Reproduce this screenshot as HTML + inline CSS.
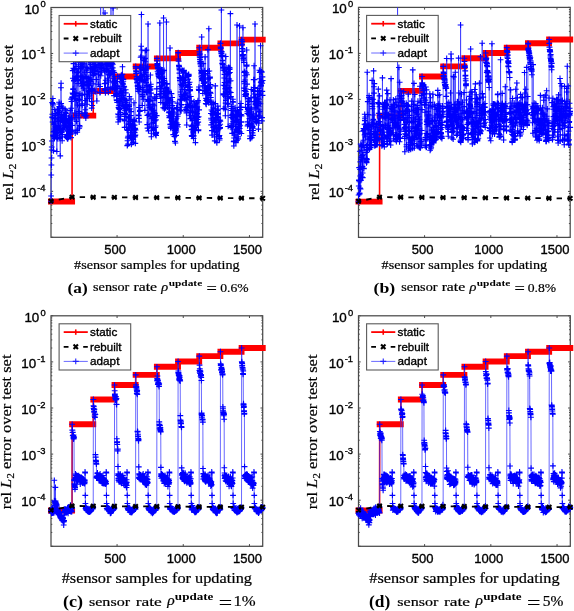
<!DOCTYPE html>
<html><head><meta charset="utf-8"><title>Figure</title><style>html,body{margin:0;padding:0;background:#fff;}svg{display:block;}</style></head><body>
<svg width="574" height="611" viewBox="0 0 574 611">
<rect width="574" height="611" fill="#fff"/>
<path d="M51 237.3h2.2M262.7 237.3h-2.2M51 223.46h1.3M262.7 223.46h-1.3M51 215.37h1.3M262.7 215.37h-1.3M51 209.63h1.3M262.7 209.63h-1.3M51 205.18h1.3M262.7 205.18h-1.3M51 201.54h1.3M262.7 201.54h-1.3M51 198.46h1.3M262.7 198.46h-1.3M51 195.79h1.3M262.7 195.79h-1.3M51 193.44h1.3M262.7 193.44h-1.3M51 191.34h2.2M262.7 191.34h-2.2M51 177.5h1.3M262.7 177.5h-1.3M51 169.41h1.3M262.7 169.41h-1.3M51 163.67h1.3M262.7 163.67h-1.3M51 159.22h1.3M262.7 159.22h-1.3M51 155.58h1.3M262.7 155.58h-1.3M51 152.5h1.3M262.7 152.5h-1.3M51 149.83h1.3M262.7 149.83h-1.3M51 147.48h1.3M262.7 147.48h-1.3M51 145.38h2.2M262.7 145.38h-2.2M51 131.54h1.3M262.7 131.54h-1.3M51 123.45h1.3M262.7 123.45h-1.3M51 117.71h1.3M262.7 117.71h-1.3M51 113.26h1.3M262.7 113.26h-1.3M51 109.62h1.3M262.7 109.62h-1.3M51 106.54h1.3M262.7 106.54h-1.3M51 103.87h1.3M262.7 103.87h-1.3M51 101.52h1.3M262.7 101.52h-1.3M51 99.42h2.2M262.7 99.42h-2.2M51 85.58h1.3M262.7 85.58h-1.3M51 77.49h1.3M262.7 77.49h-1.3M51 71.75h1.3M262.7 71.75h-1.3M51 67.3h1.3M262.7 67.3h-1.3M51 63.66h1.3M262.7 63.66h-1.3M51 60.58h1.3M262.7 60.58h-1.3M51 57.91h1.3M262.7 57.91h-1.3M51 55.56h1.3M262.7 55.56h-1.3M51 53.46h2.2M262.7 53.46h-2.2M51 39.62h1.3M262.7 39.62h-1.3M51 31.53h1.3M262.7 31.53h-1.3M51 25.79h1.3M262.7 25.79h-1.3M51 21.34h1.3M262.7 21.34h-1.3M51 17.7h1.3M262.7 17.7h-1.3M51 14.62h1.3M262.7 14.62h-1.3M51 11.95h1.3M262.7 11.95h-1.3M51 9.6h1.3M262.7 9.6h-1.3M51 7.5h2.2M262.7 7.5h-2.2M117.07 237.3v-2.2M117.07 7.5v2.2M183.26 237.3v-2.2M183.26 7.5v2.2M249.46 237.3v-2.2M249.46 7.5v2.2" stroke="#4a4a4a" stroke-width="1" fill="none"/>
<rect x="51" y="7.5" width="211.7" height="229.8" fill="none" stroke="#4a4a4a" stroke-width="1.25"/>
<clipPath id="clipa"><rect x="47" y="7.5" width="219.7" height="233.8"/></clipPath>
<g clip-path="url(#clipa)">
<path d="M51 201.54L72.05 201.54L72.18 115.67L93.23 115.67L93.37 90.93L114.42 90.93L114.55 76.52L135.6 76.52L135.73 66.44L156.78 66.44L156.92 58.34L177.97 58.34L178.1 53.06L199.15 53.06L199.28 47.68L220.33 47.68L220.47 43.34L241.52 43.34L241.65 39.62L262.7 39.62" stroke="#f00" stroke-width="1.6" fill="none"/>
<path d="M48 201.54H75.05M69.18 115.67H96.23M90.37 90.93H117.42M111.55 76.52H138.6M132.73 66.44H159.78M153.92 58.34H180.97M175.1 53.06H202.15M196.28 47.68H223.33M217.47 43.34H244.52M238.65 39.62H265.7" stroke="#f00" stroke-width="5.9" fill="none"/>
<path d="M51 201.21l.13-5.21l.13-21l.14-10l.13-7l.13-8l.13-3l.14-6l.13-23.94l.13-14.51l.13 11.72l.14 3.53l.13 4.18l.13-18.4l.13-5.1l.14 6.49l.13 30.04l.13 1.01l.13-4.07l.14 18.79l.13-13.81l.13-12.16l.13 6.53l.14-2.36l.13-10.4l.13 3.74l.13 16.12l.13-16.53l.14-12.41l.13 21.34l.13 5.94l.13-10.51l.14-2.43l.13 3.83l.13-12.1l.13-2.1l.14 5.12l.13-4.29l.13 19.48l.13 2.17l.14-5.11l.13 .34l.13 4.87l.13-5l.14 20.48l.13-13.99l.13-7.19l.13-1.25l.13-20.13l.14 10.89l.13-6.21l.13 19.37l.13 5.93l.14-6.26l.13-22.65l.13 8.17l.13 7.1l.14 1.18l.13-5.43l.13 4.16l.13-12.54l.14-10.37l.13 4.39l.13-2.64l.13 7.14l.14 18.58l.13 8.08l.13-9.65l.13 10.48l.14-23.36l.13 40.63l.13-34.39l.13 8.27l.13 1.28l.14-11.22l.13-32.05l.13-4.61l.13 20.23l.14 2.61l.13 10.79l.13-2.37l.13 18.16l.14 2.03l.13-5.59l.13 11.68l.13-9.51l.14 5.48l.13-15.85l.13-12.34l.13-1.25l.14 10.3l.13 4.86l.13 5.52l.13 2l.14-10.72l.13 2.16l.13-3.41l.13 1.88l.13-4.37l.14-.94l.13 10.42l.13 .59l.13 1.22l.14-6.62l.13 2.14l.13-.36l.13 3.5l.14-16.31l.13 7.68l.13 8.08l.13-12.55l.14 8.45l.13 6.52l.13-13.84l.13-2.78l.14 4.62l.13 4.43l.13 17.63l.13-2.75l.14-12.93l.13 4.89l.13-1.47l.13 10.55l.13-8.42l.14 11.56l.13-11.06l.13 8.9l.13-1.48l.14 3.49l.13-7.51l.13 5.3l.13-10.65l.14-7.29l.13 6.55l.13 8.95l.13 3l.14-4.28l.13-15.71l.13 1.46l.13 .74l.14 7.23l.13 .66l.13-2.27l.13 6.56l.13-8.63l.14-12.41l.13 13.14l.13 5.69l.13 5.32l.14-2.87l.13-.28l.13 6.29l.13-29.37l.14-9.15l.13 18.78l.13-16.35l.13 18.34l.14 11.86l.13-1.54l.13-12.08l.13-20.54l.14 27.81l.13-28.66l.13-3.68l.13-22.46l.14 7.65l.13 15.84l.13-4.74l.13-.64l.13-20.5l.14-4.57l.13 29.68l.13-33.98l.13 21.5l.14-.55l.13-20.91l.13 9.7l.13 29.37l.14-28.93l.13 24.14l.13 19.28l.13 4.87l.14-19.47l.13 34.81l.13-37l.13-16.95l.14-17.43l.13-21.38l.13 26.17l.13 26.31l.14 7.86l.13 14.49l.13 6.35l.13-44.93l.13-25.78l.14 26.34l.13-4.49l.13 57.72l.13 1.67l.14-2.33l.13-24.83l.13-29.17l.13 3.77l.14-6.94l.13 10.88l.13-15.03l.13 12.3l.14-9.57l.13-6.49l.13 46.79l.13 6.28l.14-22.43l.13 4.83l.13 28.04l.13-15.02l.13 12.32l.14-19.89l.13 21.1l.13-27.57l.13-5.33l.14-31.02l.13 17.2l.13-12.28l.13-5.83l.14 7.13l.13 7.95l.13-1.16l.13-7.69l.14 8.6l.13 7.06l.13-17.24l.13-1.82l.14 21.5l.13 27.36l.13-18.4l.13 8.69l.14 1.47l.13-22.11l.13-16.25l.13 18.43l.13-8.36l.14-22.47l.13 30.56l.13-6.97l.13-21.01l.14 31.17l.13-6.6l.13 .62l.13 1.78l.14-20.34l.13-.04l.13-3.01l.13 29.33l.14 24.85l.13-20.87l.13-21.78l.13-16.52l.14 20.74l.13 36.35l.13-3.11l.13 6.4l.14-15.66l.13 15.48l.13 2.04l.13-61.58l.13 10.68l.14 10.05l.13 1.33l.13-22.67l.13 14.52l.14 44.95l.13-31.37l.13 14.63l.13 5.69l.14-5.27l.13-4.42l.13 .05l.13-26.43l.14 17.76l.13-.68l.13-6.66l.13 2.89l.14 .57l.13 2.91l.13 6.64l.13 .38l.14-14.6l.13 18.87l.13-1.15l.13-6.96l.13 2.36l.14 7.67l.13-17.89l.13 1.5l.13-.87l.14-16.86l.13 15.19l.13-16.59l.13 2.19l.14 7.54l.13-3.47l.13 12.71l.13-13.76l.14 .97l.13 10.87l.13 8.69l.13 13.22l.14 6.53l.13-14.83l.13-2.95l.13-2.36l.13 17.48l.14-16.03l.13-20.2l.13-10.8l.13-2.96l.14-.5l.13 7.64l.13 12.92l.13 8.32l.14-51.3l.13 1.17l.13-4.16l.13 3.74l.14 40.89l.13-14.53l.13 6.71l.13 .93l.14 3.73l.13-28.78l.13 28.1l.13 2.77l.14-8.76l.13 4.42l.13 23.05l.13-24.8l.13-5.34l.14-2.8l.13-23.7l.13-5.79l.13 3.22l.14 9.51l.13 10.27l.13-3.25l.13-.24l.14 30.61l.13 21.42l.13-33.54l.13-14.13l.14-11.52l.13-7.97l.13 12.69l.13 4.77l.14-3.61l.13-3.83l.13 27.63l.13-9.26l.14 2.96l.13 19.19l.13-9.49l.13-17.36l.13 .47l.14 1.85l.13-2.19l.13 4.01l.13-18.69l.14 18.64l.13-3.14l.13 8.9l.13 25.4l.14-34.24l.13 28.08l.13 5.83l.13-44.2l.14-10.94l.13-33.05l.13 71.54l.13-10.44l.14 3.39l.13-1.34l.13-2.92l.13-12.17l.13-11.45l.14 9.88l.13 21.44l.13-18.46l.13 10.19l.14-3.53l.13 4.06l.13-24.8l.13-9.07l.14 2.91l.13 1.78l.13 13.35l.13 5.97l.14-52.52l.13 40.62l.13 16.81l.13 8.8l.14-19.57l.13-18.03l.13 1.17l.13 37.21l.14 1.27l.13 .49l.13 12.89l.13 6.22l.13-1.2l.14-75.68l.13 77.3l.13-1.16l.13 3.72l.14-9.47l.13-3.09l.13-15.75l.13-4.25l.14 11.43l.13-6.02l.13 3.22l.13-7l.14-16.95l.13-3.16l.13 9.57l.13-11.45l.14 30.53l.13-7.29l.13 .71l.13-2.67l.14 17.08l.13 9.08l.13-18.66l.13-13.02l.13 24.42l.14 12.3l.13-10.38l.13-10.84l.13-7.62l.14-12.68l.13 11.94l.13-1.46l.13 13.91l.14-25.35l.13 24.59l.13 .21l.13-13.92l.14-9.21l.13-10.5l.13 25.23l.13 22.75l.14-15.4l.13-9.94l.13-1.14l.13-13.83l.14-46.78l.13 32.76l.13-1.26l.13 10.74l.13 18.54l.14 8.22l.13-7.06l.13 6.59l.13-7.1l.14 8.7l.13 16.03l.13-28.22l.13 26.79l.14-18.83l.13-3.59l.13-5l.13-51.37l.14 64.88l.13 8.36l.13-10.32l.13 7.41l.14-17.21l.13 21.72l.13 12.89l.13-7.97l.13-15.04l.14 16.75l.13-12.89l.13 6.89l.13-1.87l.14-.75l.13-.88l.13 3.93l.13 2.92l.14 1.73l.13-3.13l.13-1.35l.13 4.85l.14 5.24l.13 .34l.13-5.96l.13 4.95l.14 6.43l.13-3.46l.13 4.07l.13-.37l.14 .7l.13 1.72l.13-20.89l.13 4.21l.13-9.51l.14 10.79l.13 5.65l.13 21.28l.13 7.94l.14-4.96l.13-.02l.13-9.4l.13 7.08l.14-8.91l.13-5.68l.13 8.5l.13 10.62l.14-18.64l.13 8.59l.13 .22l.13-8.06l.14-8l.13-4.84l.13 9.99l.13-19.98l.14 40.53l.13-6.6l.13 3.78l.13-1.59l.13-13.44l.14-10.09l.13-12.18l.13-3.77l.13 19.96l.14-17.61l.13-1.27l.13 16.08l.13-9.58l.14 22.19l.13-5.49l.13-25.06l.13-7.58l.14 16.24l.13-4.2l.13 26.97l.13-10.34l.14-11.33l.13-2.88l.13-1.67l.13 27.12l.13-8.27l.14-12.17l.13 3.83l.13 18.47l.13-21.71l.14 34.07l.13-1.16l.13 7.67l.13-16.72l.14-11.38l.13 17.24l.13-3.23l.13 1.27l.14-7.52l.13-4.64l.13-12.75l.13 3.19l.14 11.36l.13-3.51l.13 7.36l.13 19.07l.14-22.82l.13 5.74l.13-3.74l.13-6.04l.13 5.66l.14 24.03l.13 15.67l.13-.32l.13-4.55l.14-10.93l.13 8.06l.13-7.49l.13 13.62l.14-7.78l.13-12.97l.13 1.2l.13-6.26l.14-1.16l.13 10.16l.13-17.06l.13-3.77l.14-1.53l.13-8.42l.13 20.52l.13 10.19l.14-18.26l.13 12.9l.13-.57l.13 16.58l.13-.69l.14-4.39l.13-11.52l.13-2.23l.13-3.5l.14-16.53l.13 12.71l.13 14.39l.13 18.28l.14-5.58l.13-8.93l.13 5.29l.13-9.44l.14 .76l.13-1.12l.13 9.97l.13-8.78l.14-1.86l.13 2.04l.13 16l.13-3.62l.14-10.79l.13-.1l.13 11.51l.13 2.25l.13-5.41l.14-15.02l.13 9.25l.13-27.98l.13 17.12l.14 .74l.13 11.57l.13-7.04l.13 7.41l.14 4.45l.13-8.14l.13 6.76l.13-7.38l.14 15.08l.13-8.41l.13-5.01l.13-63.49l.14 1.71l.13 2.74l.13 2.49l.13-1.71l.13-.12l.14 7.86l.13-2.79l.13 3.04l.13-1.19l.14 4.12l.13-2.57l.13 1.2l.13 1.77l.14 3.09l.13-.76l.13 2.96l.13 1.77l.14-3.32l.13 4.72l.13-5.25l.13 2.29l.14 26.64l.13 .63l.13 2.57l.13-10.87l.14 14.57l.13-36.03l.13 3.27l.13-11.49l.13-10.07l.14 43.74l.13-1.05l.13-29.87l.13-2.15l.14-5.31l.13 4.29l.13-20.18l.13 10.05l.14-.41l.13 9.58l.13-30.16l.13 9.8l.14-41.54l.13 65.25l.13-29.69l.13 25.99l.14 .81l.13 17.55l.13 11.08l.13-9.53l.14-4.28l.13 4.9l.13-9.11l.13-5.75l.13-2.52l.14 10.68l.13 9.32l.13-28.56l.13-5.38l.14-4.76l.13 8.52l.13 5.56l.13-4.51l.14-10.79l.13 11.09l.13 6.55l.13-1.89l.14 5.77l.13 29.57l.13-30.6l.13-21.41l.14-7.76l.13 11.17l.13 6.56l.13 4.23l.13-2.83l.14 .44l.13 12.39l.13 10.01l.13-24.49l.14-17.99l.13 26.4l.13 8.94l.13 5.87l.14-5.1l.13 5.85l.13 32.55l.13-9.26l.14 12.79l.13-61.37l.13 11.96l.13 20.86l.14-75.58l.13 77.47l.13-.54l.13 29.91l.14-16.63l.13-9.09l.13-4.35l.13 .23l.13-.39l.14-10.98l.13 17.58l.13-19.53l.13 19.94l.14-6.35l.13 25.42l.13-10.75l.13-8.15l.14-17.48l.13-15.25l.13 11.47l.13 2.49l.14-4.71l.13 12.45l.13-3.59l.13 15.98l.14 27.66l.13-3.63l.13-14.73l.13 5.34l.14 3.77l.13-19.01l.13 10.15l.13-8.53l.13 3.38l.14 2.75l.13 1.75l.13-13.7l.13-4.24l.14 12.92l.13 3.61l.13 5.83l.13 8.14l.14-.9l.13-1.07l.13-10.86l.13-7.5l.14-4.46l.13 6.81l.13 5.11l.13-3.31l.14 6.58l.13-22.89l.13-1.42l.13 16.58l.14 3.94l.13 10.33l.13 7.04l.13-14.88l.13 6.27l.14-6.12l.13 13.56l.13 2.1l.13-3.28l.14-33.89l.13-3.7l.13 21.01l.13-26.8l.14-30.52l.13 2.5l.13 4.82l.13-2.09l.14 1.01l.13 6.65l.13-3.8l.13 1.1l.14-2.32l.13 6.95l.13-4.25l.13 6.1l.13-1.08l.14 2.45l.13-5.28l.13 3.47l.13-4.1l.14 5.98l.13 .48l.13 1.05l.13 5.03l.14-.44l.13-59.57l.13 73.2l.13-9.42l.14 7.03l.13-4.88l.13-.27l.13 2.66l.14 11.11l.13-4.25l.13-9.29l.13 5.13l.14-24.32l.13 4.29l.13 11.85l.13-4l.13-8.26l.14 4.56l.13 7.1l.13-6.09l.13-9.2l.14 7.03l.13-5.06l.13 10.72l.13 19.81l.14 .62l.13 4.7l.13-10.26l.13-6.16l.14-73.35l.13 64.27l.13 .48l.13-2.19l.14-10.19l.13 8.1l.13 14.74l.13 15.61l.14-1.63l.13-24.51l.13 8.41l.13 5.6l.13 10.28l.14-18.57l.13 5.11l.13 11.01l.13-1.29l.14 4.75l.13-4.62l.13 1.85l.13-2.4l.14-8.71l.13-72.1l.13 65.26l.13 1.21l.14-4.16l.13-.88l.13 14.36l.13-6.42l.14 11.1l.13 4.91l.13-4.79l.13-9.58l.14-1.01l.13 6.17l.13 1.37l.13-.69l.13-7.27l.14-1.64l.13 11.74l.13 5.92l.13 5.1l.14 3.04l.13-3.99l.13 5.88l.13-14.55l.14 2.32l.13 2.73l.13-7.72l.13-52.41l.14 76.18l.13-7.46l.13 7.96l.13 2.42l.14-13.31l.13 14.67l.13-7.64l.13-3.63l.13 6.85l.14 2.74l.13-33.16l.13 18.23l.13 9.8l.14-7.19l.13 6.73l.13-23.66l.13 20.78l.14-12.81l.13 19.9l.13-23.61l.13 9.51l.14 4.97l.13 12.79l.13 5.61l.13-13.69l.14 6.18l.13-3.06l.13 .8l.13-16.25l.14 4.21l.13 10.7l.13 2.39l.13 10.5l.13 .03l.14-8.32l.13 2.35l.13 10.83l.13-8.23l.14-2.87l.13-7.42l.13 20.11l.13-12.25l.14-10.96l.13 7.37l.13 1.56l.13 6.69l.14-5.36l.13 2.08l.13-13.81l.13-10.57l.14 15.28l.13 2.17l.13-.02l.13-17.57l.14-4.41l.13 6.13l.13 17.58l.13-10.52l.13 8.21l.14-10.29l.13-61.18l.13-.48l.13 6.42l.14-.01l.13 2.17l.13-.14l.13 4.29l.14 1.01l.13 .51l.13 1.99l.13 4.27l.14-3.26l.13 7.65l.13 1.33l.13 1.82l.14 29.91l.13-11.13l.13 10.56l.13-2.76l.13-15.23l.14-14.05l.13 6.28l.13 10.6l.13 16.14l.14-6.05l.13-4.64l.13 4.31l.13-8.24l.14-9.33l.13-1.53l.13 3.72l.13-4.16l.14-7.02l.13 2.64l.13-10.32l.13 6.53l.14 21.43l.13-19.33l.13-7.6l.13-.3l.14 8.31l.13 4.26l.13-4.66l.13-7.82l.13 1.02l.14-1.8l.13 10.1l.13 18.26l.13-9.06l.14 7.23l.13 1.7l.13-4.64l.13 1.28l.14 3.12l.13-13.01l.13-2.97l.13-7.14l.14-2l.13 4.19l.13 15.67l.13 16.36l.14-1.41l.13-8.48l.13 13.28l.13-1.58l.14 13.72l.13-14.53l.13-3.2l.13 .82l.13-13.1l.14 2.33l.13 9.25l.13-1.98l.13-17.19l.14-1.13l.13-7.16l.13 3.42l.13-8.02l.14 .05l.13 1.78l.13-2.02l.13 1.05l.14 22.36l.13-13.3l.13 6.5l.13 24.4l.14-24.76l.13-8.37l.13 21.1l.13-16.15l.14 2.5l.13 1.07l.13 27.95l.13-13.07l.13 6.86l.14-4.8l.13-11.09l.13 9.34l.13 5.02l.14-10.13l.13 17.46l.13 7.88l.13 3.47l.14 6.07l.13-8.95l.13 9.68l.13-9.76l.14-5.92l.13 8.33l.13-17.32l.13-4.39l.14 8l.13 9.61l.13 10.1l.13-3.22l.13 1.25l.14-2.49l.13 7.97l.13-2.64l.13-17.64l.14-16.53l.13 .16l.13 5.1l.13 21.5l.14 .8l.13-9.07l.13-8.15l.13-8.14l.14 9.14l.13 4.18l.13 10.11l.13 15.22l.14-23.99l.13-12.28l.13 6.05l.13 13.14l.14-6.64l.13-11.48l.13-4.19l.13 3.71l.13 7.78l.14 8.88l.13-.63l.13-6.76l.13-2.61l.14-6.86l.13 12.77l.13 5.48l.13-7.6l.14-15.41l.13-1.43l.13 9.45l.13 12.19l.14 8.51l.13-.94l.13-13.01l.13-27.32l.14-2.34l.13 3.36l.13 19.48l.13-62.23l.14 4.24l.13 3.07l.13 1.84l.13-2.91l.13 5.45l.14 1.99l.13-3.82l.13 6.38l.13-1.02l.14 .51l.13 2.6l.13 .31l.13-2.46l.14 6.5l.13 3.44l.13 2.97l.13-4.35l.14-35.42l.13 34.43l.13 7.24l.13 1.89l.14 .05l.13-5.13l.13 3.97l.13-6.05l.13 12.37l.14 7.7l.13-15.64l.13 .91l.13-15.14l.14 16.49l.13-1.25l.13 4.64l.13-1.49l.14-6.27l.13 6.12l.13 4.01l.13-2.9l.14 7.45l.13-16.16l.13-3.57l.13 3.53l.14 11.47l.13-28.77l.13 33.35l.13-8.29l.14-7.89l.13 14.04l.13 15.39l.13-12.24l.13 7.1l.14 2.14l.13 3.74l.13-14.76l.13 .72l.14-1.99l.13 11.91l.13-5.33l.13-1.38l.14 8.15l.13-2.27l.13-8.96l.13-16.86l.14-1.92l.13-21.93l.13 39.34l.13-9.67l.14-1.42l.13 8.37l.13 15.65l.13 .92l.14-74.11l.13 66.94l.13-.65l.13-7.74l.13-16.31l.14 16.99l.13 .54l.13-1.47l.13-8.88l.14-.95l.13 15.02l.13 9.6l.13-.05l.14-17.12l.13 8.66l.13 4.19l.13 16.04l.14 4.67l.13 6.69l.13-4.93l.13-9.92l.14-7.64l.13 2.34l.13 25.91l.13 4.5l.14-.04l.13-12.66l.13-10.92l.13 3.04l.13 .58l.14 7.32l.13-8.08l.13-11.86l.13 24.82l.14-7.46l.13-12.03l.13-3.78l.13 8.21l.14 8.9l.13 5.28l.13 4.56l.13-1.77l.14 2.62l.13 5.2l.13-.38l.13 4.2l.14-20.54l.13-6.9l.13-4.68l.13-22.89l.13 17.77l.14 14l.13 8.65l.13 1.97l.13-2.84l.14-12.86l.13 6.91l.13 14.9l.13-19.77l.14 22.22l.13 5.3l.13 .62l.13-14.36l.14 2.93l.13 1.51l.13-22.39l.13 6.13l.14 .22l.13-10.65l.13 8l.13-.74l.14-4.13l.13 8.66l.13 4.14l.13 7.1l.13-6.75l.14 6.03l.13 8.68l.13-1.14l.13-10.4l.14 9.93l.13 4.45l.13-1.47l.13-18.39l.14 8.47l.13-.98l.13-3.28l.13-3.22l.14-77.75l.13 3.81l.13 1.45l.13-.66l.14 3.05l.13 1.08l.13 1.7l.13-43.77l.14 43.42l.13 2.53l.13-.28l.13-3.93l.13 4.96l.14 6.71l.13-8.09l.13 4.86l.13 4.59l.14-4.05l.13 3.49l.13 2.78l.13 1.09l.14 2.03l.13 23.76l.13 1.15l.13-9.71l.14 8.42l.13 14.89l.13-14.61l.13-16.03l.14-10.54l.13 6.92l.13 8.09l.13-11.67l.13 14.84l.14 10.63l.13-7.45l.13 18.16l.13 8.77l.14-5.93l.13-6.68l.13-46.63l.13 43.85l.14-9.33l.13-16.5l.13 14.65l.13-10.38l.14 3.17l.13-10.52l.13 16.8l.13-20.43l.14 26.28l.13-1.49l.13-18.78l.13 21.24l.14 8.24l.13-6.46l.13-14.03l.13 21.29l.13 22.34l.14-27.72l.13-29.57l.13-1.82l.13 5.46l.14 .56l.13-5.91l.13 20.16l.13-8.66l.14 8.99l.13 4.73l.13-23.22l.13 22.7l.14-19.58l.13-4.51l.13 12.85l.13 11.54l.14-78.83l.13 84.21l.13-17.04l.13 11.71l.14 3.95l.13 19.29l.13 11.78l.13-17.01l.13 6.94l.14-11.08l.13 2.11l.13 17.2l.13-1.81l.14 9.54l.13-19.18l.13 .67l.13 14.15l.14-10.31l.13-17.11l.13-2.34l.13 2.82l.14 7.99l.13 11.5l.13-6.16l.13 8.59l.14 17.66l.13 4.26l.13-4.84l.13-3.07l.14-5.29l.13 2.56l.13-3.16l.13 2.55l.13 .45l.14-18.53l.13-5.37l.13-3.47l.13 2.42l.14 9.93l.13 6.43l.13 .03l.13 16.15l.14-.56l.13-18.07l.13-1.66l.13-7.93l.14 1.9l.13 4.07l.13 9.51l.13 10.44l.14-115.42l.13 85.27l.13 1.91l.13-1.15l.13 8.64l.14 9.48l.13 2.2l.13-1.02l.13 6.53l.14 1.98l.13-11.86l.13-13.28l.13 17.57l.14-9.14l.13 4.32l.13 .61l.13-4.46l.14 1.9l.13 7.05l.13-105.55l.13 102.57l.14 3.51l.13-16.53l.13-8.08l.13 18.29l.14-16.13l.13 6.29l.13 6.14l.13-15.11l.13-3.45l.14 11.03l.13 7.26l.13 .34l.13 11.32l.14-17.6l.13-76.23l.13 .3l.13 5.14l.14-.75l.13-2.72l.13 9.82l.13-2.76l.14 2.86l.13 3.37l.13 1.21l.13-28.39l.14 26.96l.13 3.97l.13-.32l.13-.54l.14 2.47l.13-.28l.13 2.42l.13 25.75l.13-6.53l.14-9.17l.13 11.26l.13 6.94l.13 0l.14-19.28l.13 4.38l.13 18.84l.13-14.63l.14 16.59l.13 10.84l.13-11.48l.13-4.43l.14-2.5l.13 4.4l.13 1.28l.13-21.79l.14-7.37l.13 .83l.13-16.37l.13 15.07l.13 9.78l.14 9.35l.13 29.57l.13-1.9l.13 10.03l.14 4.06l.13-21.34l.13 4.69l.13 4.35l.14-15.07l.13 25.83l.13-16.42l.13-6.44l.14 6.39l.13 2.48l.13 4.17l.13-6.26l.14-8.26l.13 12.89l.13 5.57l.13 12.06l.14-16.42l.13 9.19l.13 15.28l.13-2.58l.13 .03l.14-9.39l.13 11.86l.13-19.82l.13-9.6l.14-11.24l.13 15.83l.13-1.64l.13-22.55l.14 26.42l.13 8.91l.13-15.82l.13 28.72l.14-14.53l.13-5.44l.13 7.55l.13 1.78l.14 5.84l.13-6.35l.13 1.73l.13 7.07l.14-17.96l.13 13.13l.13-16.77l.13-23.3l.13 .46l.14-11.33l.13 14.37l.13-6.49l.13-21.71l.14 25.64l.13 10.23l.13-21.91l.13 7.91l.14 9.32l.13 10.84l.13-83.8l.13 95.66l.14-14.88l.13-1.49l.13 17l.13 1.33l.14-23.57l.13 21.26l.13-.4l.13-14.67l.14-3.69l.13 14.55l.13 1.48l.13 6.23l.13-17.41l.14-5.28l.13 8.83l.13-7.5l.13-9.93l.14 3.15l.13 .39l.13-.65l.13-6.02l.14 17.3l.13-2.04l.13-4.82l.13 30.28l.14-8.59l.13-17.69l.13 20.32l.13-11.31l.14 4.33l.13-21.78l.13-24.17l.13 20.38l.13-11.82l.14-6.37l.13 22.84l.13 16.03l.13 4.9l.14-12.36l.13-10.83l.13-47.26l.13 36.54l.14 3.89l.13-15.08l.13 14.08l.13-2.33l.14-1.44l.13-9.83l.13 11.43l.13-10.72l.14 48.56l.13-3.24l.13-34.41l.13 8.23l.14-14.53l.13 18.47l.13-14.79" stroke="#2a2aff" stroke-width="0.7" fill="none"/>
<path d="M48.1 201.21h5.8m-2.9-2.9v5.8M48.23 196h5.8m-2.9-2.9v5.8M48.36 175h5.8m-2.9-2.9v5.8M48.5 165h5.8m-2.9-2.9v5.8M48.63 158h5.8m-2.9-2.9v5.8M48.76 150h5.8m-2.9-2.9v5.8M48.89 147h5.8m-2.9-2.9v5.8M49.03 141h5.8m-2.9-2.9v5.8M49.16 117.06h5.8m-2.9-2.9v5.8M49.29 102.55h5.8m-2.9-2.9v5.8M49.42 114.27h5.8m-2.9-2.9v5.8M49.56 117.8h5.8m-2.9-2.9v5.8M49.69 121.98h5.8m-2.9-2.9v5.8M49.82 103.58h5.8m-2.9-2.9v5.8M49.95 98.48h5.8m-2.9-2.9v5.8M50.09 104.97h5.8m-2.9-2.9v5.8M50.22 135.01h5.8m-2.9-2.9v5.8M50.35 136.02h5.8m-2.9-2.9v5.8M50.48 131.95h5.8m-2.9-2.9v5.8M50.62 150.74h5.8m-2.9-2.9v5.8M50.75 136.93h5.8m-2.9-2.9v5.8M50.88 124.77h5.8m-2.9-2.9v5.8M51.01 131.3h5.8m-2.9-2.9v5.8M51.15 128.94h5.8m-2.9-2.9v5.8M51.28 118.54h5.8m-2.9-2.9v5.8M51.41 122.28h5.8m-2.9-2.9v5.8M51.54 138.4h5.8m-2.9-2.9v5.8M51.67 121.87h5.8m-2.9-2.9v5.8M51.81 109.46h5.8m-2.9-2.9v5.8M51.94 130.8h5.8m-2.9-2.9v5.8M52.07 136.74h5.8m-2.9-2.9v5.8M52.2 126.23h5.8m-2.9-2.9v5.8M52.34 123.8h5.8m-2.9-2.9v5.8M52.47 127.63h5.8m-2.9-2.9v5.8M52.6 115.53h5.8m-2.9-2.9v5.8M52.73 113.43h5.8m-2.9-2.9v5.8M52.87 118.55h5.8m-2.9-2.9v5.8M53 114.26h5.8m-2.9-2.9v5.8M53.13 133.74h5.8m-2.9-2.9v5.8M53.26 135.91h5.8m-2.9-2.9v5.8M53.4 130.8h5.8m-2.9-2.9v5.8M53.53 131.14h5.8m-2.9-2.9v5.8M53.66 136.01h5.8m-2.9-2.9v5.8M53.79 131.01h5.8m-2.9-2.9v5.8M53.93 151.49h5.8m-2.9-2.9v5.8M54.06 137.5h5.8m-2.9-2.9v5.8M54.19 130.31h5.8m-2.9-2.9v5.8M54.32 129.06h5.8m-2.9-2.9v5.8M54.45 108.93h5.8m-2.9-2.9v5.8M54.59 119.82h5.8m-2.9-2.9v5.8M54.72 113.61h5.8m-2.9-2.9v5.8M54.85 132.98h5.8m-2.9-2.9v5.8M54.98 138.91h5.8m-2.9-2.9v5.8M55.12 132.65h5.8m-2.9-2.9v5.8M55.25 110h5.8m-2.9-2.9v5.8M55.38 118.17h5.8m-2.9-2.9v5.8M55.51 125.27h5.8m-2.9-2.9v5.8M55.65 126.45h5.8m-2.9-2.9v5.8M55.78 121.02h5.8m-2.9-2.9v5.8M55.91 125.18h5.8m-2.9-2.9v5.8M56.04 112.64h5.8m-2.9-2.9v5.8M56.18 102.27h5.8m-2.9-2.9v5.8M56.31 106.66h5.8m-2.9-2.9v5.8M56.44 104.02h5.8m-2.9-2.9v5.8M56.57 111.16h5.8m-2.9-2.9v5.8M56.71 129.74h5.8m-2.9-2.9v5.8M56.84 137.82h5.8m-2.9-2.9v5.8M56.97 128.17h5.8m-2.9-2.9v5.8M57.1 138.65h5.8m-2.9-2.9v5.8M57.24 115.29h5.8m-2.9-2.9v5.8M57.37 155.92h5.8m-2.9-2.9v5.8M57.5 121.53h5.8m-2.9-2.9v5.8M57.63 129.8h5.8m-2.9-2.9v5.8M57.76 131.08h5.8m-2.9-2.9v5.8M57.9 119.86h5.8m-2.9-2.9v5.8M58.03 87.81h5.8m-2.9-2.9v5.8M58.16 83.2h5.8m-2.9-2.9v5.8M58.29 103.43h5.8m-2.9-2.9v5.8M58.43 106.04h5.8m-2.9-2.9v5.8M58.56 116.83h5.8m-2.9-2.9v5.8M58.69 114.46h5.8m-2.9-2.9v5.8M58.82 132.62h5.8m-2.9-2.9v5.8M58.96 134.65h5.8m-2.9-2.9v5.8M59.09 129.06h5.8m-2.9-2.9v5.8M59.22 140.74h5.8m-2.9-2.9v5.8M59.35 131.23h5.8m-2.9-2.9v5.8M59.49 136.71h5.8m-2.9-2.9v5.8M59.62 120.86h5.8m-2.9-2.9v5.8M59.75 108.52h5.8m-2.9-2.9v5.8M59.88 107.27h5.8m-2.9-2.9v5.8M60.02 117.57h5.8m-2.9-2.9v5.8M60.15 122.43h5.8m-2.9-2.9v5.8M60.28 127.95h5.8m-2.9-2.9v5.8M60.41 129.95h5.8m-2.9-2.9v5.8M60.55 119.23h5.8m-2.9-2.9v5.8M60.68 121.39h5.8m-2.9-2.9v5.8M60.81 117.98h5.8m-2.9-2.9v5.8M60.94 119.86h5.8m-2.9-2.9v5.8M61.07 115.49h5.8m-2.9-2.9v5.8M61.21 114.55h5.8m-2.9-2.9v5.8M61.34 124.97h5.8m-2.9-2.9v5.8M61.47 125.56h5.8m-2.9-2.9v5.8M61.6 126.78h5.8m-2.9-2.9v5.8M61.74 120.16h5.8m-2.9-2.9v5.8M61.87 122.3h5.8m-2.9-2.9v5.8M62 121.94h5.8m-2.9-2.9v5.8M62.13 125.44h5.8m-2.9-2.9v5.8M62.27 109.13h5.8m-2.9-2.9v5.8M62.4 116.81h5.8m-2.9-2.9v5.8M62.53 124.89h5.8m-2.9-2.9v5.8M62.66 112.34h5.8m-2.9-2.9v5.8M62.8 120.79h5.8m-2.9-2.9v5.8M62.93 127.31h5.8m-2.9-2.9v5.8M63.06 113.47h5.8m-2.9-2.9v5.8M63.19 110.69h5.8m-2.9-2.9v5.8M63.33 115.31h5.8m-2.9-2.9v5.8M63.46 119.74h5.8m-2.9-2.9v5.8M63.59 137.37h5.8m-2.9-2.9v5.8M63.72 134.62h5.8m-2.9-2.9v5.8M63.86 121.69h5.8m-2.9-2.9v5.8M63.99 126.58h5.8m-2.9-2.9v5.8M64.12 125.11h5.8m-2.9-2.9v5.8M64.25 135.66h5.8m-2.9-2.9v5.8M64.38 127.24h5.8m-2.9-2.9v5.8M64.52 138.8h5.8m-2.9-2.9v5.8M64.65 127.74h5.8m-2.9-2.9v5.8M64.78 136.64h5.8m-2.9-2.9v5.8M64.91 135.16h5.8m-2.9-2.9v5.8M65.05 138.65h5.8m-2.9-2.9v5.8M65.18 131.14h5.8m-2.9-2.9v5.8M65.31 136.44h5.8m-2.9-2.9v5.8M65.44 125.79h5.8m-2.9-2.9v5.8M65.58 118.5h5.8m-2.9-2.9v5.8M65.71 125.05h5.8m-2.9-2.9v5.8M65.84 134h5.8m-2.9-2.9v5.8M65.97 137h5.8m-2.9-2.9v5.8M66.11 132.72h5.8m-2.9-2.9v5.8M66.24 117.01h5.8m-2.9-2.9v5.8M66.37 118.47h5.8m-2.9-2.9v5.8M66.5 119.21h5.8m-2.9-2.9v5.8M66.64 126.44h5.8m-2.9-2.9v5.8M66.77 127.1h5.8m-2.9-2.9v5.8M66.9 124.83h5.8m-2.9-2.9v5.8M67.03 131.39h5.8m-2.9-2.9v5.8M67.16 122.76h5.8m-2.9-2.9v5.8M67.3 110.35h5.8m-2.9-2.9v5.8M67.43 123.49h5.8m-2.9-2.9v5.8M67.56 129.18h5.8m-2.9-2.9v5.8M67.69 134.5h5.8m-2.9-2.9v5.8M67.83 131.63h5.8m-2.9-2.9v5.8M67.96 131.35h5.8m-2.9-2.9v5.8M68.09 137.64h5.8m-2.9-2.9v5.8M68.22 108.27h5.8m-2.9-2.9v5.8M68.36 99.12h5.8m-2.9-2.9v5.8M68.49 117.9h5.8m-2.9-2.9v5.8M68.62 101.55h5.8m-2.9-2.9v5.8M68.75 119.89h5.8m-2.9-2.9v5.8M68.89 131.75h5.8m-2.9-2.9v5.8M69.02 130.21h5.8m-2.9-2.9v5.8M69.15 118.13h5.8m-2.9-2.9v5.8M69.28 97.59h5.8m-2.9-2.9v5.8M69.42 125.4h5.8m-2.9-2.9v5.8M69.55 96.74h5.8m-2.9-2.9v5.8M69.68 93.06h5.8m-2.9-2.9v5.8M69.81 70.6h5.8m-2.9-2.9v5.8M69.95 78.25h5.8m-2.9-2.9v5.8M70.08 94.09h5.8m-2.9-2.9v5.8M70.21 89.35h5.8m-2.9-2.9v5.8M70.34 88.71h5.8m-2.9-2.9v5.8M70.47 68.21h5.8m-2.9-2.9v5.8M70.61 63.64h5.8m-2.9-2.9v5.8M70.74 93.32h5.8m-2.9-2.9v5.8M70.87 59.34h5.8m-2.9-2.9v5.8M71 80.84h5.8m-2.9-2.9v5.8M71.14 80.29h5.8m-2.9-2.9v5.8M71.27 59.38h5.8m-2.9-2.9v5.8M71.4 69.08h5.8m-2.9-2.9v5.8M71.53 98.45h5.8m-2.9-2.9v5.8M71.67 69.52h5.8m-2.9-2.9v5.8M71.8 93.66h5.8m-2.9-2.9v5.8M71.93 112.94h5.8m-2.9-2.9v5.8M72.06 117.81h5.8m-2.9-2.9v5.8M72.2 98.34h5.8m-2.9-2.9v5.8M72.33 133.15h5.8m-2.9-2.9v5.8M72.46 96.15h5.8m-2.9-2.9v5.8M72.59 79.2h5.8m-2.9-2.9v5.8M72.73 61.77h5.8m-2.9-2.9v5.8M72.86 40.39h5.8m-2.9-2.9v5.8M72.99 66.56h5.8m-2.9-2.9v5.8M73.12 92.87h5.8m-2.9-2.9v5.8M73.26 100.73h5.8m-2.9-2.9v5.8M73.39 115.22h5.8m-2.9-2.9v5.8M73.52 121.57h5.8m-2.9-2.9v5.8M73.65 76.64h5.8m-2.9-2.9v5.8M73.78 50.86h5.8m-2.9-2.9v5.8M73.92 77.2h5.8m-2.9-2.9v5.8M74.05 72.71h5.8m-2.9-2.9v5.8M74.18 130.43h5.8m-2.9-2.9v5.8M74.31 132.1h5.8m-2.9-2.9v5.8M74.45 129.77h5.8m-2.9-2.9v5.8M74.58 104.94h5.8m-2.9-2.9v5.8M74.71 75.77h5.8m-2.9-2.9v5.8M74.84 79.54h5.8m-2.9-2.9v5.8M74.98 72.6h5.8m-2.9-2.9v5.8M75.11 83.48h5.8m-2.9-2.9v5.8M75.24 68.45h5.8m-2.9-2.9v5.8M75.37 80.75h5.8m-2.9-2.9v5.8M75.51 71.18h5.8m-2.9-2.9v5.8M75.64 64.69h5.8m-2.9-2.9v5.8M75.77 111.48h5.8m-2.9-2.9v5.8M75.9 117.76h5.8m-2.9-2.9v5.8M76.04 95.33h5.8m-2.9-2.9v5.8M76.17 100.16h5.8m-2.9-2.9v5.8M76.3 128.2h5.8m-2.9-2.9v5.8M76.43 113.18h5.8m-2.9-2.9v5.8M76.56 125.5h5.8m-2.9-2.9v5.8M76.7 105.61h5.8m-2.9-2.9v5.8M76.83 126.71h5.8m-2.9-2.9v5.8M76.96 99.14h5.8m-2.9-2.9v5.8M77.09 93.81h5.8m-2.9-2.9v5.8M77.23 62.79h5.8m-2.9-2.9v5.8M77.36 79.99h5.8m-2.9-2.9v5.8M77.49 67.71h5.8m-2.9-2.9v5.8M77.62 61.88h5.8m-2.9-2.9v5.8M77.76 69.01h5.8m-2.9-2.9v5.8M77.89 76.96h5.8m-2.9-2.9v5.8M78.02 75.8h5.8m-2.9-2.9v5.8M78.15 68.11h5.8m-2.9-2.9v5.8M78.29 76.71h5.8m-2.9-2.9v5.8M78.42 83.77h5.8m-2.9-2.9v5.8M78.55 66.53h5.8m-2.9-2.9v5.8M78.68 64.71h5.8m-2.9-2.9v5.8M78.82 86.21h5.8m-2.9-2.9v5.8M78.95 113.57h5.8m-2.9-2.9v5.8M79.08 95.17h5.8m-2.9-2.9v5.8M79.21 103.86h5.8m-2.9-2.9v5.8M79.35 105.33h5.8m-2.9-2.9v5.8M79.48 83.22h5.8m-2.9-2.9v5.8M79.61 66.97h5.8m-2.9-2.9v5.8M79.74 85.4h5.8m-2.9-2.9v5.8M79.87 77.04h5.8m-2.9-2.9v5.8M80.01 54.57h5.8m-2.9-2.9v5.8M80.14 85.13h5.8m-2.9-2.9v5.8M80.27 78.16h5.8m-2.9-2.9v5.8M80.4 57.15h5.8m-2.9-2.9v5.8M80.54 88.32h5.8m-2.9-2.9v5.8M80.67 81.72h5.8m-2.9-2.9v5.8M80.8 82.34h5.8m-2.9-2.9v5.8M80.93 84.12h5.8m-2.9-2.9v5.8M81.07 63.78h5.8m-2.9-2.9v5.8M81.2 63.74h5.8m-2.9-2.9v5.8M81.33 60.73h5.8m-2.9-2.9v5.8M81.46 90.06h5.8m-2.9-2.9v5.8M81.6 114.91h5.8m-2.9-2.9v5.8M81.73 94.04h5.8m-2.9-2.9v5.8M81.86 72.26h5.8m-2.9-2.9v5.8M81.99 55.74h5.8m-2.9-2.9v5.8M82.13 76.48h5.8m-2.9-2.9v5.8M82.26 112.83h5.8m-2.9-2.9v5.8M82.39 109.72h5.8m-2.9-2.9v5.8M82.52 116.12h5.8m-2.9-2.9v5.8M82.66 100.46h5.8m-2.9-2.9v5.8M82.79 115.94h5.8m-2.9-2.9v5.8M82.92 117.98h5.8m-2.9-2.9v5.8M83.05 56.4h5.8m-2.9-2.9v5.8M83.18 67.08h5.8m-2.9-2.9v5.8M83.32 77.13h5.8m-2.9-2.9v5.8M83.45 78.46h5.8m-2.9-2.9v5.8M83.58 55.79h5.8m-2.9-2.9v5.8M83.71 70.31h5.8m-2.9-2.9v5.8M83.85 115.26h5.8m-2.9-2.9v5.8M83.98 83.89h5.8m-2.9-2.9v5.8M84.11 98.52h5.8m-2.9-2.9v5.8M84.24 104.21h5.8m-2.9-2.9v5.8M84.38 98.94h5.8m-2.9-2.9v5.8M84.51 94.52h5.8m-2.9-2.9v5.8M84.64 94.57h5.8m-2.9-2.9v5.8M84.77 68.14h5.8m-2.9-2.9v5.8M84.91 85.9h5.8m-2.9-2.9v5.8M85.04 85.22h5.8m-2.9-2.9v5.8M85.17 78.56h5.8m-2.9-2.9v5.8M85.3 81.45h5.8m-2.9-2.9v5.8M85.44 82.02h5.8m-2.9-2.9v5.8M85.57 84.93h5.8m-2.9-2.9v5.8M85.7 91.57h5.8m-2.9-2.9v5.8M85.83 91.95h5.8m-2.9-2.9v5.8M85.97 77.35h5.8m-2.9-2.9v5.8M86.1 96.22h5.8m-2.9-2.9v5.8M86.23 95.07h5.8m-2.9-2.9v5.8M86.36 88.11h5.8m-2.9-2.9v5.8M86.49 90.47h5.8m-2.9-2.9v5.8M86.63 98.14h5.8m-2.9-2.9v5.8M86.76 80.25h5.8m-2.9-2.9v5.8M86.89 81.75h5.8m-2.9-2.9v5.8M87.02 80.88h5.8m-2.9-2.9v5.8M87.16 64.02h5.8m-2.9-2.9v5.8M87.29 79.21h5.8m-2.9-2.9v5.8M87.42 62.62h5.8m-2.9-2.9v5.8M87.55 64.81h5.8m-2.9-2.9v5.8M87.69 72.35h5.8m-2.9-2.9v5.8M87.82 68.88h5.8m-2.9-2.9v5.8M87.95 81.59h5.8m-2.9-2.9v5.8M88.08 67.83h5.8m-2.9-2.9v5.8M88.22 68.8h5.8m-2.9-2.9v5.8M88.35 79.67h5.8m-2.9-2.9v5.8M88.48 88.36h5.8m-2.9-2.9v5.8M88.61 101.58h5.8m-2.9-2.9v5.8M88.75 108.11h5.8m-2.9-2.9v5.8M88.88 93.28h5.8m-2.9-2.9v5.8M89.01 90.33h5.8m-2.9-2.9v5.8M89.14 87.97h5.8m-2.9-2.9v5.8M89.27 105.45h5.8m-2.9-2.9v5.8M89.41 89.42h5.8m-2.9-2.9v5.8M89.54 69.22h5.8m-2.9-2.9v5.8M89.67 58.42h5.8m-2.9-2.9v5.8M89.8 55.46h5.8m-2.9-2.9v5.8M89.94 54.96h5.8m-2.9-2.9v5.8M90.07 62.6h5.8m-2.9-2.9v5.8M90.2 75.52h5.8m-2.9-2.9v5.8M90.33 83.84h5.8m-2.9-2.9v5.8M90.47 32.54h5.8m-2.9-2.9v5.8M90.6 33.71h5.8m-2.9-2.9v5.8M90.73 29.55h5.8m-2.9-2.9v5.8M90.86 33.29h5.8m-2.9-2.9v5.8M91 74.18h5.8m-2.9-2.9v5.8M91.13 59.65h5.8m-2.9-2.9v5.8M91.26 66.36h5.8m-2.9-2.9v5.8M91.39 67.29h5.8m-2.9-2.9v5.8M91.53 71.02h5.8m-2.9-2.9v5.8M91.66 42.24h5.8m-2.9-2.9v5.8M91.79 70.34h5.8m-2.9-2.9v5.8M91.92 73.11h5.8m-2.9-2.9v5.8M92.06 64.35h5.8m-2.9-2.9v5.8M92.19 68.77h5.8m-2.9-2.9v5.8M92.32 91.82h5.8m-2.9-2.9v5.8M92.45 67.02h5.8m-2.9-2.9v5.8M92.58 61.68h5.8m-2.9-2.9v5.8M92.72 58.88h5.8m-2.9-2.9v5.8M92.85 35.18h5.8m-2.9-2.9v5.8M92.98 29.39h5.8m-2.9-2.9v5.8M93.11 32.61h5.8m-2.9-2.9v5.8M93.25 42.12h5.8m-2.9-2.9v5.8M93.38 52.39h5.8m-2.9-2.9v5.8M93.51 49.14h5.8m-2.9-2.9v5.8M93.64 48.9h5.8m-2.9-2.9v5.8M93.78 79.51h5.8m-2.9-2.9v5.8M93.91 100.93h5.8m-2.9-2.9v5.8M94.04 67.39h5.8m-2.9-2.9v5.8M94.17 53.26h5.8m-2.9-2.9v5.8M94.31 41.74h5.8m-2.9-2.9v5.8M94.44 33.77h5.8m-2.9-2.9v5.8M94.57 46.46h5.8m-2.9-2.9v5.8M94.7 51.23h5.8m-2.9-2.9v5.8M94.84 47.62h5.8m-2.9-2.9v5.8M94.97 43.79h5.8m-2.9-2.9v5.8M95.1 71.42h5.8m-2.9-2.9v5.8M95.23 62.16h5.8m-2.9-2.9v5.8M95.37 65.12h5.8m-2.9-2.9v5.8M95.5 84.31h5.8m-2.9-2.9v5.8M95.63 74.82h5.8m-2.9-2.9v5.8M95.76 57.46h5.8m-2.9-2.9v5.8M95.89 57.93h5.8m-2.9-2.9v5.8M96.03 59.78h5.8m-2.9-2.9v5.8M96.16 57.59h5.8m-2.9-2.9v5.8M96.29 61.6h5.8m-2.9-2.9v5.8M96.42 42.91h5.8m-2.9-2.9v5.8M96.56 61.55h5.8m-2.9-2.9v5.8M96.69 58.41h5.8m-2.9-2.9v5.8M96.82 67.31h5.8m-2.9-2.9v5.8M96.95 92.71h5.8m-2.9-2.9v5.8M97.09 58.47h5.8m-2.9-2.9v5.8M97.22 86.55h5.8m-2.9-2.9v5.8M97.35 92.38h5.8m-2.9-2.9v5.8M97.48 48.18h5.8m-2.9-2.9v5.8M97.62 37.24h5.8m-2.9-2.9v5.8M97.75 4.19h5.8m-2.9-2.9v5.8M97.88 75.73h5.8m-2.9-2.9v5.8M98.01 65.29h5.8m-2.9-2.9v5.8M98.15 68.68h5.8m-2.9-2.9v5.8M98.28 67.34h5.8m-2.9-2.9v5.8M98.41 64.42h5.8m-2.9-2.9v5.8M98.54 52.25h5.8m-2.9-2.9v5.8M98.67 40.8h5.8m-2.9-2.9v5.8M98.81 50.68h5.8m-2.9-2.9v5.8M98.94 72.12h5.8m-2.9-2.9v5.8M99.07 53.66h5.8m-2.9-2.9v5.8M99.2 63.85h5.8m-2.9-2.9v5.8M99.34 60.32h5.8m-2.9-2.9v5.8M99.47 64.38h5.8m-2.9-2.9v5.8M99.6 39.58h5.8m-2.9-2.9v5.8M99.73 30.51h5.8m-2.9-2.9v5.8M99.87 33.42h5.8m-2.9-2.9v5.8M100 35.2h5.8m-2.9-2.9v5.8M100.13 48.55h5.8m-2.9-2.9v5.8M100.26 54.52h5.8m-2.9-2.9v5.8M100.4 2h5.8m-2.9-2.9v5.8M100.53 42.62h5.8m-2.9-2.9v5.8M100.66 59.43h5.8m-2.9-2.9v5.8M100.79 68.23h5.8m-2.9-2.9v5.8M100.93 48.66h5.8m-2.9-2.9v5.8M101.06 30.63h5.8m-2.9-2.9v5.8M101.19 31.8h5.8m-2.9-2.9v5.8M101.32 69.01h5.8m-2.9-2.9v5.8M101.46 70.28h5.8m-2.9-2.9v5.8M101.59 70.77h5.8m-2.9-2.9v5.8M101.72 83.66h5.8m-2.9-2.9v5.8M101.85 89.88h5.8m-2.9-2.9v5.8M101.98 88.68h5.8m-2.9-2.9v5.8M102.12 13h5.8m-2.9-2.9v5.8M102.25 90.3h5.8m-2.9-2.9v5.8M102.38 89.14h5.8m-2.9-2.9v5.8M102.51 92.86h5.8m-2.9-2.9v5.8M102.65 83.39h5.8m-2.9-2.9v5.8M102.78 80.3h5.8m-2.9-2.9v5.8M102.91 64.55h5.8m-2.9-2.9v5.8M103.04 60.3h5.8m-2.9-2.9v5.8M103.18 71.73h5.8m-2.9-2.9v5.8M103.31 65.71h5.8m-2.9-2.9v5.8M103.44 68.93h5.8m-2.9-2.9v5.8M103.57 61.93h5.8m-2.9-2.9v5.8M103.71 44.98h5.8m-2.9-2.9v5.8M103.84 41.82h5.8m-2.9-2.9v5.8M103.97 51.39h5.8m-2.9-2.9v5.8M104.1 39.94h5.8m-2.9-2.9v5.8M104.24 70.47h5.8m-2.9-2.9v5.8M104.37 63.18h5.8m-2.9-2.9v5.8M104.5 63.89h5.8m-2.9-2.9v5.8M104.63 61.22h5.8m-2.9-2.9v5.8M104.77 78.3h5.8m-2.9-2.9v5.8M104.9 87.38h5.8m-2.9-2.9v5.8M105.03 68.72h5.8m-2.9-2.9v5.8M105.16 55.7h5.8m-2.9-2.9v5.8M105.29 80.12h5.8m-2.9-2.9v5.8M105.43 92.42h5.8m-2.9-2.9v5.8M105.56 82.04h5.8m-2.9-2.9v5.8M105.69 71.2h5.8m-2.9-2.9v5.8M105.82 63.58h5.8m-2.9-2.9v5.8M105.96 50.9h5.8m-2.9-2.9v5.8M106.09 62.84h5.8m-2.9-2.9v5.8M106.22 61.38h5.8m-2.9-2.9v5.8M106.35 75.29h5.8m-2.9-2.9v5.8M106.49 49.94h5.8m-2.9-2.9v5.8M106.62 74.53h5.8m-2.9-2.9v5.8M106.75 74.74h5.8m-2.9-2.9v5.8M106.88 60.82h5.8m-2.9-2.9v5.8M107.02 51.61h5.8m-2.9-2.9v5.8M107.15 41.11h5.8m-2.9-2.9v5.8M107.28 66.34h5.8m-2.9-2.9v5.8M107.41 89.09h5.8m-2.9-2.9v5.8M107.55 73.69h5.8m-2.9-2.9v5.8M107.68 63.75h5.8m-2.9-2.9v5.8M107.81 62.61h5.8m-2.9-2.9v5.8M107.94 48.78h5.8m-2.9-2.9v5.8M108.08 2h5.8m-2.9-2.9v5.8M108.21 34.76h5.8m-2.9-2.9v5.8M108.34 33.5h5.8m-2.9-2.9v5.8M108.47 44.24h5.8m-2.9-2.9v5.8M108.6 62.78h5.8m-2.9-2.9v5.8M108.74 71h5.8m-2.9-2.9v5.8M108.87 63.94h5.8m-2.9-2.9v5.8M109 70.53h5.8m-2.9-2.9v5.8M109.13 63.43h5.8m-2.9-2.9v5.8M109.27 72.13h5.8m-2.9-2.9v5.8M109.4 88.16h5.8m-2.9-2.9v5.8M109.53 59.94h5.8m-2.9-2.9v5.8M109.66 86.73h5.8m-2.9-2.9v5.8M109.8 67.9h5.8m-2.9-2.9v5.8M109.93 64.31h5.8m-2.9-2.9v5.8M110.06 59.31h5.8m-2.9-2.9v5.8M110.19 7.94h5.8m-2.9-2.9v5.8M110.33 72.82h5.8m-2.9-2.9v5.8M110.46 81.18h5.8m-2.9-2.9v5.8M110.59 70.86h5.8m-2.9-2.9v5.8M110.72 78.27h5.8m-2.9-2.9v5.8M110.86 61.06h5.8m-2.9-2.9v5.8M110.99 82.78h5.8m-2.9-2.9v5.8M111.12 95.67h5.8m-2.9-2.9v5.8M111.25 87.7h5.8m-2.9-2.9v5.8M111.38 72.66h5.8m-2.9-2.9v5.8M111.52 89.41h5.8m-2.9-2.9v5.8M111.65 76.52h5.8m-2.9-2.9v5.8M111.78 83.41h5.8m-2.9-2.9v5.8M111.91 81.54h5.8m-2.9-2.9v5.8M112.05 80.79h5.8m-2.9-2.9v5.8M112.18 79.91h5.8m-2.9-2.9v5.8M112.31 83.84h5.8m-2.9-2.9v5.8M112.44 86.76h5.8m-2.9-2.9v5.8M112.58 88.49h5.8m-2.9-2.9v5.8M112.71 85.36h5.8m-2.9-2.9v5.8M112.84 84.01h5.8m-2.9-2.9v5.8M112.97 88.86h5.8m-2.9-2.9v5.8M113.11 94.1h5.8m-2.9-2.9v5.8M113.24 94.44h5.8m-2.9-2.9v5.8M113.37 88.48h5.8m-2.9-2.9v5.8M113.5 93.43h5.8m-2.9-2.9v5.8M113.64 99.86h5.8m-2.9-2.9v5.8M113.77 96.4h5.8m-2.9-2.9v5.8M113.9 100.47h5.8m-2.9-2.9v5.8M114.03 100.1h5.8m-2.9-2.9v5.8M114.17 100.8h5.8m-2.9-2.9v5.8M114.3 102.52h5.8m-2.9-2.9v5.8M114.43 81.63h5.8m-2.9-2.9v5.8M114.56 85.84h5.8m-2.9-2.9v5.8M114.69 76.33h5.8m-2.9-2.9v5.8M114.83 87.12h5.8m-2.9-2.9v5.8M114.96 92.77h5.8m-2.9-2.9v5.8M115.09 114.05h5.8m-2.9-2.9v5.8M115.22 121.99h5.8m-2.9-2.9v5.8M115.36 117.03h5.8m-2.9-2.9v5.8M115.49 117.01h5.8m-2.9-2.9v5.8M115.62 107.61h5.8m-2.9-2.9v5.8M115.75 114.69h5.8m-2.9-2.9v5.8M115.89 105.78h5.8m-2.9-2.9v5.8M116.02 100.1h5.8m-2.9-2.9v5.8M116.15 108.6h5.8m-2.9-2.9v5.8M116.28 119.22h5.8m-2.9-2.9v5.8M116.42 100.58h5.8m-2.9-2.9v5.8M116.55 109.17h5.8m-2.9-2.9v5.8M116.68 109.39h5.8m-2.9-2.9v5.8M116.81 101.33h5.8m-2.9-2.9v5.8M116.95 93.33h5.8m-2.9-2.9v5.8M117.08 88.49h5.8m-2.9-2.9v5.8M117.21 98.48h5.8m-2.9-2.9v5.8M117.34 78.5h5.8m-2.9-2.9v5.8M117.48 119.03h5.8m-2.9-2.9v5.8M117.61 112.43h5.8m-2.9-2.9v5.8M117.74 116.21h5.8m-2.9-2.9v5.8M117.87 114.62h5.8m-2.9-2.9v5.8M118 101.18h5.8m-2.9-2.9v5.8M118.14 91.09h5.8m-2.9-2.9v5.8M118.27 78.91h5.8m-2.9-2.9v5.8M118.4 75.14h5.8m-2.9-2.9v5.8M118.53 95.1h5.8m-2.9-2.9v5.8M118.67 77.49h5.8m-2.9-2.9v5.8M118.8 76.22h5.8m-2.9-2.9v5.8M118.93 92.3h5.8m-2.9-2.9v5.8M119.06 82.72h5.8m-2.9-2.9v5.8M119.2 104.91h5.8m-2.9-2.9v5.8M119.33 99.42h5.8m-2.9-2.9v5.8M119.46 74.36h5.8m-2.9-2.9v5.8M119.59 66.78h5.8m-2.9-2.9v5.8M119.73 83.02h5.8m-2.9-2.9v5.8M119.86 78.82h5.8m-2.9-2.9v5.8M119.99 105.79h5.8m-2.9-2.9v5.8M120.12 95.45h5.8m-2.9-2.9v5.8M120.26 84.12h5.8m-2.9-2.9v5.8M120.39 81.24h5.8m-2.9-2.9v5.8M120.52 79.57h5.8m-2.9-2.9v5.8M120.65 106.69h5.8m-2.9-2.9v5.8M120.78 98.42h5.8m-2.9-2.9v5.8M120.92 86.25h5.8m-2.9-2.9v5.8M121.05 90.08h5.8m-2.9-2.9v5.8M121.18 108.55h5.8m-2.9-2.9v5.8M121.31 86.84h5.8m-2.9-2.9v5.8M121.45 120.91h5.8m-2.9-2.9v5.8M121.58 119.75h5.8m-2.9-2.9v5.8M121.71 127.42h5.8m-2.9-2.9v5.8M121.84 110.7h5.8m-2.9-2.9v5.8M121.98 99.32h5.8m-2.9-2.9v5.8M122.11 116.56h5.8m-2.9-2.9v5.8M122.24 113.33h5.8m-2.9-2.9v5.8M122.37 114.6h5.8m-2.9-2.9v5.8M122.51 107.08h5.8m-2.9-2.9v5.8M122.64 102.44h5.8m-2.9-2.9v5.8M122.77 89.69h5.8m-2.9-2.9v5.8M122.9 92.88h5.8m-2.9-2.9v5.8M123.04 104.24h5.8m-2.9-2.9v5.8M123.17 100.73h5.8m-2.9-2.9v5.8M123.3 108.09h5.8m-2.9-2.9v5.8M123.43 127.16h5.8m-2.9-2.9v5.8M123.57 104.34h5.8m-2.9-2.9v5.8M123.7 110.08h5.8m-2.9-2.9v5.8M123.83 106.34h5.8m-2.9-2.9v5.8M123.96 100.3h5.8m-2.9-2.9v5.8M124.09 105.96h5.8m-2.9-2.9v5.8M124.23 129.99h5.8m-2.9-2.9v5.8M124.36 145.66h5.8m-2.9-2.9v5.8M124.49 145.34h5.8m-2.9-2.9v5.8M124.62 140.79h5.8m-2.9-2.9v5.8M124.76 129.86h5.8m-2.9-2.9v5.8M124.89 137.92h5.8m-2.9-2.9v5.8M125.02 130.43h5.8m-2.9-2.9v5.8M125.15 144.05h5.8m-2.9-2.9v5.8M125.29 136.27h5.8m-2.9-2.9v5.8M125.42 123.3h5.8m-2.9-2.9v5.8M125.55 124.5h5.8m-2.9-2.9v5.8M125.68 118.24h5.8m-2.9-2.9v5.8M125.82 117.08h5.8m-2.9-2.9v5.8M125.95 127.24h5.8m-2.9-2.9v5.8M126.08 110.18h5.8m-2.9-2.9v5.8M126.21 106.41h5.8m-2.9-2.9v5.8M126.35 104.88h5.8m-2.9-2.9v5.8M126.48 96.46h5.8m-2.9-2.9v5.8M126.61 116.98h5.8m-2.9-2.9v5.8M126.74 127.17h5.8m-2.9-2.9v5.8M126.88 108.91h5.8m-2.9-2.9v5.8M127.01 121.81h5.8m-2.9-2.9v5.8M127.14 121.24h5.8m-2.9-2.9v5.8M127.27 137.82h5.8m-2.9-2.9v5.8M127.4 137.13h5.8m-2.9-2.9v5.8M127.54 132.74h5.8m-2.9-2.9v5.8M127.67 121.22h5.8m-2.9-2.9v5.8M127.8 118.99h5.8m-2.9-2.9v5.8M127.93 115.49h5.8m-2.9-2.9v5.8M128.07 98.96h5.8m-2.9-2.9v5.8M128.2 111.67h5.8m-2.9-2.9v5.8M128.33 126.06h5.8m-2.9-2.9v5.8M128.46 144.34h5.8m-2.9-2.9v5.8M128.6 138.76h5.8m-2.9-2.9v5.8M128.73 129.83h5.8m-2.9-2.9v5.8M128.86 135.12h5.8m-2.9-2.9v5.8M128.99 125.68h5.8m-2.9-2.9v5.8M129.13 126.44h5.8m-2.9-2.9v5.8M129.26 125.32h5.8m-2.9-2.9v5.8M129.39 135.29h5.8m-2.9-2.9v5.8M129.52 126.51h5.8m-2.9-2.9v5.8M129.66 124.65h5.8m-2.9-2.9v5.8M129.79 126.69h5.8m-2.9-2.9v5.8M129.92 142.69h5.8m-2.9-2.9v5.8M130.05 139.07h5.8m-2.9-2.9v5.8M130.19 128.28h5.8m-2.9-2.9v5.8M130.32 128.18h5.8m-2.9-2.9v5.8M130.45 139.69h5.8m-2.9-2.9v5.8M130.58 141.94h5.8m-2.9-2.9v5.8M130.71 136.53h5.8m-2.9-2.9v5.8M130.85 121.51h5.8m-2.9-2.9v5.8M130.98 130.76h5.8m-2.9-2.9v5.8M131.11 102.78h5.8m-2.9-2.9v5.8M131.24 119.9h5.8m-2.9-2.9v5.8M131.38 120.64h5.8m-2.9-2.9v5.8M131.51 132.21h5.8m-2.9-2.9v5.8M131.64 125.17h5.8m-2.9-2.9v5.8M131.77 132.58h5.8m-2.9-2.9v5.8M131.91 137.03h5.8m-2.9-2.9v5.8M132.04 128.89h5.8m-2.9-2.9v5.8M132.17 135.65h5.8m-2.9-2.9v5.8M132.3 128.27h5.8m-2.9-2.9v5.8M132.44 143.35h5.8m-2.9-2.9v5.8M132.57 134.94h5.8m-2.9-2.9v5.8M132.7 129.93h5.8m-2.9-2.9v5.8M132.83 66.44h5.8m-2.9-2.9v5.8M132.97 68.15h5.8m-2.9-2.9v5.8M133.1 70.89h5.8m-2.9-2.9v5.8M133.23 73.38h5.8m-2.9-2.9v5.8M133.36 71.67h5.8m-2.9-2.9v5.8M133.49 71.55h5.8m-2.9-2.9v5.8M133.63 79.41h5.8m-2.9-2.9v5.8M133.76 76.62h5.8m-2.9-2.9v5.8M133.89 79.66h5.8m-2.9-2.9v5.8M134.02 78.47h5.8m-2.9-2.9v5.8M134.16 82.59h5.8m-2.9-2.9v5.8M134.29 80.02h5.8m-2.9-2.9v5.8M134.42 81.22h5.8m-2.9-2.9v5.8M134.55 82.99h5.8m-2.9-2.9v5.8M134.69 86.08h5.8m-2.9-2.9v5.8M134.82 85.32h5.8m-2.9-2.9v5.8M134.95 88.28h5.8m-2.9-2.9v5.8M135.08 90.05h5.8m-2.9-2.9v5.8M135.22 86.73h5.8m-2.9-2.9v5.8M135.35 91.45h5.8m-2.9-2.9v5.8M135.48 86.2h5.8m-2.9-2.9v5.8M135.61 88.49h5.8m-2.9-2.9v5.8M135.75 115.13h5.8m-2.9-2.9v5.8M135.88 115.76h5.8m-2.9-2.9v5.8M136.01 118.33h5.8m-2.9-2.9v5.8M136.14 107.46h5.8m-2.9-2.9v5.8M136.28 122.03h5.8m-2.9-2.9v5.8M136.41 86h5.8m-2.9-2.9v5.8M136.54 89.27h5.8m-2.9-2.9v5.8M136.67 77.78h5.8m-2.9-2.9v5.8M136.8 67.71h5.8m-2.9-2.9v5.8M136.94 111.45h5.8m-2.9-2.9v5.8M137.07 110.4h5.8m-2.9-2.9v5.8M137.2 80.53h5.8m-2.9-2.9v5.8M137.33 78.38h5.8m-2.9-2.9v5.8M137.47 73.07h5.8m-2.9-2.9v5.8M137.6 77.36h5.8m-2.9-2.9v5.8M137.73 57.18h5.8m-2.9-2.9v5.8M137.86 67.23h5.8m-2.9-2.9v5.8M138 66.82h5.8m-2.9-2.9v5.8M138.13 76.4h5.8m-2.9-2.9v5.8M138.26 46.24h5.8m-2.9-2.9v5.8M138.39 56.04h5.8m-2.9-2.9v5.8M138.53 14.5h5.8m-2.9-2.9v5.8M138.66 79.75h5.8m-2.9-2.9v5.8M138.79 50.06h5.8m-2.9-2.9v5.8M138.92 76.05h5.8m-2.9-2.9v5.8M139.06 76.86h5.8m-2.9-2.9v5.8M139.19 94.41h5.8m-2.9-2.9v5.8M139.32 105.49h5.8m-2.9-2.9v5.8M139.45 95.96h5.8m-2.9-2.9v5.8M139.59 91.68h5.8m-2.9-2.9v5.8M139.72 96.58h5.8m-2.9-2.9v5.8M139.85 87.47h5.8m-2.9-2.9v5.8M139.98 81.72h5.8m-2.9-2.9v5.8M140.11 79.2h5.8m-2.9-2.9v5.8M140.25 89.88h5.8m-2.9-2.9v5.8M140.38 99.2h5.8m-2.9-2.9v5.8M140.51 70.64h5.8m-2.9-2.9v5.8M140.64 65.26h5.8m-2.9-2.9v5.8M140.78 60.5h5.8m-2.9-2.9v5.8M140.91 69.02h5.8m-2.9-2.9v5.8M141.04 74.58h5.8m-2.9-2.9v5.8M141.17 70.07h5.8m-2.9-2.9v5.8M141.31 59.28h5.8m-2.9-2.9v5.8M141.44 70.37h5.8m-2.9-2.9v5.8M141.57 76.92h5.8m-2.9-2.9v5.8M141.7 75.03h5.8m-2.9-2.9v5.8M141.84 80.8h5.8m-2.9-2.9v5.8M141.97 110.37h5.8m-2.9-2.9v5.8M142.1 79.77h5.8m-2.9-2.9v5.8M142.23 58.36h5.8m-2.9-2.9v5.8M142.37 50.6h5.8m-2.9-2.9v5.8M142.5 61.77h5.8m-2.9-2.9v5.8M142.63 68.33h5.8m-2.9-2.9v5.8M142.76 72.56h5.8m-2.9-2.9v5.8M142.89 69.73h5.8m-2.9-2.9v5.8M143.03 70.17h5.8m-2.9-2.9v5.8M143.16 82.56h5.8m-2.9-2.9v5.8M143.29 92.57h5.8m-2.9-2.9v5.8M143.42 68.08h5.8m-2.9-2.9v5.8M143.56 50.09h5.8m-2.9-2.9v5.8M143.69 76.49h5.8m-2.9-2.9v5.8M143.82 85.43h5.8m-2.9-2.9v5.8M143.95 91.3h5.8m-2.9-2.9v5.8M144.09 86.2h5.8m-2.9-2.9v5.8M144.22 92.05h5.8m-2.9-2.9v5.8M144.35 124.6h5.8m-2.9-2.9v5.8M144.48 115.34h5.8m-2.9-2.9v5.8M144.62 128.13h5.8m-2.9-2.9v5.8M144.75 66.76h5.8m-2.9-2.9v5.8M144.88 78.72h5.8m-2.9-2.9v5.8M145.01 99.58h5.8m-2.9-2.9v5.8M145.15 24h5.8m-2.9-2.9v5.8M145.28 101.47h5.8m-2.9-2.9v5.8M145.41 100.93h5.8m-2.9-2.9v5.8M145.54 130.84h5.8m-2.9-2.9v5.8M145.68 114.21h5.8m-2.9-2.9v5.8M145.81 105.12h5.8m-2.9-2.9v5.8M145.94 100.77h5.8m-2.9-2.9v5.8M146.07 101h5.8m-2.9-2.9v5.8M146.2 100.61h5.8m-2.9-2.9v5.8M146.34 89.63h5.8m-2.9-2.9v5.8M146.47 107.21h5.8m-2.9-2.9v5.8M146.6 87.68h5.8m-2.9-2.9v5.8M146.73 107.62h5.8m-2.9-2.9v5.8M146.87 101.27h5.8m-2.9-2.9v5.8M147 126.69h5.8m-2.9-2.9v5.8M147.13 115.94h5.8m-2.9-2.9v5.8M147.26 107.79h5.8m-2.9-2.9v5.8M147.4 90.31h5.8m-2.9-2.9v5.8M147.53 75.06h5.8m-2.9-2.9v5.8M147.66 86.53h5.8m-2.9-2.9v5.8M147.79 89.02h5.8m-2.9-2.9v5.8M147.93 84.31h5.8m-2.9-2.9v5.8M148.06 96.76h5.8m-2.9-2.9v5.8M148.19 93.17h5.8m-2.9-2.9v5.8M148.32 109.15h5.8m-2.9-2.9v5.8M148.46 136.81h5.8m-2.9-2.9v5.8M148.59 133.18h5.8m-2.9-2.9v5.8M148.72 118.45h5.8m-2.9-2.9v5.8M148.85 123.79h5.8m-2.9-2.9v5.8M148.99 127.56h5.8m-2.9-2.9v5.8M149.12 108.55h5.8m-2.9-2.9v5.8M149.25 118.7h5.8m-2.9-2.9v5.8M149.38 110.17h5.8m-2.9-2.9v5.8M149.51 113.55h5.8m-2.9-2.9v5.8M149.65 116.3h5.8m-2.9-2.9v5.8M149.78 118.05h5.8m-2.9-2.9v5.8M149.91 104.35h5.8m-2.9-2.9v5.8M150.04 100.11h5.8m-2.9-2.9v5.8M150.18 113.03h5.8m-2.9-2.9v5.8M150.31 116.64h5.8m-2.9-2.9v5.8M150.44 122.47h5.8m-2.9-2.9v5.8M150.57 130.61h5.8m-2.9-2.9v5.8M150.71 129.71h5.8m-2.9-2.9v5.8M150.84 128.64h5.8m-2.9-2.9v5.8M150.97 117.78h5.8m-2.9-2.9v5.8M151.1 110.28h5.8m-2.9-2.9v5.8M151.24 105.82h5.8m-2.9-2.9v5.8M151.37 112.63h5.8m-2.9-2.9v5.8M151.5 117.74h5.8m-2.9-2.9v5.8M151.63 114.43h5.8m-2.9-2.9v5.8M151.77 121.01h5.8m-2.9-2.9v5.8M151.9 98.12h5.8m-2.9-2.9v5.8M152.03 96.7h5.8m-2.9-2.9v5.8M152.16 113.28h5.8m-2.9-2.9v5.8M152.3 117.22h5.8m-2.9-2.9v5.8M152.43 127.55h5.8m-2.9-2.9v5.8M152.56 134.59h5.8m-2.9-2.9v5.8M152.69 119.71h5.8m-2.9-2.9v5.8M152.82 125.98h5.8m-2.9-2.9v5.8M152.96 119.86h5.8m-2.9-2.9v5.8M153.09 133.42h5.8m-2.9-2.9v5.8M153.22 135.52h5.8m-2.9-2.9v5.8M153.35 132.24h5.8m-2.9-2.9v5.8M153.49 98.35h5.8m-2.9-2.9v5.8M153.62 94.65h5.8m-2.9-2.9v5.8M153.75 115.66h5.8m-2.9-2.9v5.8M153.88 88.86h5.8m-2.9-2.9v5.8M154.02 58.34h5.8m-2.9-2.9v5.8M154.15 60.84h5.8m-2.9-2.9v5.8M154.28 65.66h5.8m-2.9-2.9v5.8M154.41 63.57h5.8m-2.9-2.9v5.8M154.55 64.58h5.8m-2.9-2.9v5.8M154.68 71.23h5.8m-2.9-2.9v5.8M154.81 67.43h5.8m-2.9-2.9v5.8M154.94 68.53h5.8m-2.9-2.9v5.8M155.08 66.21h5.8m-2.9-2.9v5.8M155.21 73.16h5.8m-2.9-2.9v5.8M155.34 68.91h5.8m-2.9-2.9v5.8M155.47 75.01h5.8m-2.9-2.9v5.8M155.6 73.93h5.8m-2.9-2.9v5.8M155.74 76.38h5.8m-2.9-2.9v5.8M155.87 71.1h5.8m-2.9-2.9v5.8M156 74.57h5.8m-2.9-2.9v5.8M156.13 70.47h5.8m-2.9-2.9v5.8M156.27 76.45h5.8m-2.9-2.9v5.8M156.4 76.93h5.8m-2.9-2.9v5.8M156.53 77.98h5.8m-2.9-2.9v5.8M156.66 83.01h5.8m-2.9-2.9v5.8M156.8 82.57h5.8m-2.9-2.9v5.8M156.93 23h5.8m-2.9-2.9v5.8M157.06 96.2h5.8m-2.9-2.9v5.8M157.19 86.78h5.8m-2.9-2.9v5.8M157.33 93.81h5.8m-2.9-2.9v5.8M157.46 88.93h5.8m-2.9-2.9v5.8M157.59 88.66h5.8m-2.9-2.9v5.8M157.72 91.32h5.8m-2.9-2.9v5.8M157.86 102.43h5.8m-2.9-2.9v5.8M157.99 98.18h5.8m-2.9-2.9v5.8M158.12 88.89h5.8m-2.9-2.9v5.8M158.25 94.02h5.8m-2.9-2.9v5.8M158.39 69.7h5.8m-2.9-2.9v5.8M158.52 73.99h5.8m-2.9-2.9v5.8M158.65 85.84h5.8m-2.9-2.9v5.8M158.78 81.84h5.8m-2.9-2.9v5.8M158.91 73.58h5.8m-2.9-2.9v5.8M159.05 78.14h5.8m-2.9-2.9v5.8M159.18 85.24h5.8m-2.9-2.9v5.8M159.31 79.15h5.8m-2.9-2.9v5.8M159.44 69.95h5.8m-2.9-2.9v5.8M159.58 76.98h5.8m-2.9-2.9v5.8M159.71 71.92h5.8m-2.9-2.9v5.8M159.84 82.64h5.8m-2.9-2.9v5.8M159.97 102.45h5.8m-2.9-2.9v5.8M160.11 103.07h5.8m-2.9-2.9v5.8M160.24 107.77h5.8m-2.9-2.9v5.8M160.37 97.51h5.8m-2.9-2.9v5.8M160.5 91.35h5.8m-2.9-2.9v5.8M160.64 18h5.8m-2.9-2.9v5.8M160.77 82.27h5.8m-2.9-2.9v5.8M160.9 82.75h5.8m-2.9-2.9v5.8M161.03 80.56h5.8m-2.9-2.9v5.8M161.17 70.37h5.8m-2.9-2.9v5.8M161.3 78.47h5.8m-2.9-2.9v5.8M161.43 93.21h5.8m-2.9-2.9v5.8M161.56 108.82h5.8m-2.9-2.9v5.8M161.7 107.19h5.8m-2.9-2.9v5.8M161.83 82.68h5.8m-2.9-2.9v5.8M161.96 91.09h5.8m-2.9-2.9v5.8M162.09 96.69h5.8m-2.9-2.9v5.8M162.22 106.97h5.8m-2.9-2.9v5.8M162.36 88.4h5.8m-2.9-2.9v5.8M162.49 93.51h5.8m-2.9-2.9v5.8M162.62 104.52h5.8m-2.9-2.9v5.8M162.75 103.23h5.8m-2.9-2.9v5.8M162.89 107.98h5.8m-2.9-2.9v5.8M163.02 103.36h5.8m-2.9-2.9v5.8M163.15 105.21h5.8m-2.9-2.9v5.8M163.28 102.81h5.8m-2.9-2.9v5.8M163.42 94.1h5.8m-2.9-2.9v5.8M163.55 22h5.8m-2.9-2.9v5.8M163.68 87.26h5.8m-2.9-2.9v5.8M163.81 88.47h5.8m-2.9-2.9v5.8M163.95 84.31h5.8m-2.9-2.9v5.8M164.08 83.43h5.8m-2.9-2.9v5.8M164.21 97.79h5.8m-2.9-2.9v5.8M164.34 91.37h5.8m-2.9-2.9v5.8M164.48 102.47h5.8m-2.9-2.9v5.8M164.61 107.38h5.8m-2.9-2.9v5.8M164.74 102.59h5.8m-2.9-2.9v5.8M164.87 93.01h5.8m-2.9-2.9v5.8M165.01 92h5.8m-2.9-2.9v5.8M165.14 98.17h5.8m-2.9-2.9v5.8M165.27 99.54h5.8m-2.9-2.9v5.8M165.4 98.85h5.8m-2.9-2.9v5.8M165.53 91.58h5.8m-2.9-2.9v5.8M165.67 89.94h5.8m-2.9-2.9v5.8M165.8 101.68h5.8m-2.9-2.9v5.8M165.93 107.6h5.8m-2.9-2.9v5.8M166.06 112.7h5.8m-2.9-2.9v5.8M166.2 115.74h5.8m-2.9-2.9v5.8M166.33 111.75h5.8m-2.9-2.9v5.8M166.46 117.63h5.8m-2.9-2.9v5.8M166.59 103.08h5.8m-2.9-2.9v5.8M166.73 105.4h5.8m-2.9-2.9v5.8M166.86 108.13h5.8m-2.9-2.9v5.8M166.99 100.41h5.8m-2.9-2.9v5.8M167.12 48h5.8m-2.9-2.9v5.8M167.26 124.18h5.8m-2.9-2.9v5.8M167.39 116.72h5.8m-2.9-2.9v5.8M167.52 124.68h5.8m-2.9-2.9v5.8M167.65 127.1h5.8m-2.9-2.9v5.8M167.79 113.79h5.8m-2.9-2.9v5.8M167.92 128.46h5.8m-2.9-2.9v5.8M168.05 120.82h5.8m-2.9-2.9v5.8M168.18 117.19h5.8m-2.9-2.9v5.8M168.31 124.04h5.8m-2.9-2.9v5.8M168.45 126.78h5.8m-2.9-2.9v5.8M168.58 93.62h5.8m-2.9-2.9v5.8M168.71 111.85h5.8m-2.9-2.9v5.8M168.84 121.65h5.8m-2.9-2.9v5.8M168.98 114.46h5.8m-2.9-2.9v5.8M169.11 121.19h5.8m-2.9-2.9v5.8M169.24 97.53h5.8m-2.9-2.9v5.8M169.37 118.31h5.8m-2.9-2.9v5.8M169.51 105.5h5.8m-2.9-2.9v5.8M169.64 125.4h5.8m-2.9-2.9v5.8M169.77 101.79h5.8m-2.9-2.9v5.8M169.9 111.3h5.8m-2.9-2.9v5.8M170.04 116.27h5.8m-2.9-2.9v5.8M170.17 129.06h5.8m-2.9-2.9v5.8M170.3 134.67h5.8m-2.9-2.9v5.8M170.43 120.98h5.8m-2.9-2.9v5.8M170.57 127.16h5.8m-2.9-2.9v5.8M170.7 124.1h5.8m-2.9-2.9v5.8M170.83 124.9h5.8m-2.9-2.9v5.8M170.96 108.65h5.8m-2.9-2.9v5.8M171.1 112.86h5.8m-2.9-2.9v5.8M171.23 123.56h5.8m-2.9-2.9v5.8M171.36 125.95h5.8m-2.9-2.9v5.8M171.49 136.45h5.8m-2.9-2.9v5.8M171.62 136.48h5.8m-2.9-2.9v5.8M171.76 128.16h5.8m-2.9-2.9v5.8M171.89 130.51h5.8m-2.9-2.9v5.8M172.02 141.34h5.8m-2.9-2.9v5.8M172.15 133.11h5.8m-2.9-2.9v5.8M172.29 130.24h5.8m-2.9-2.9v5.8M172.42 122.82h5.8m-2.9-2.9v5.8M172.55 142.93h5.8m-2.9-2.9v5.8M172.68 130.68h5.8m-2.9-2.9v5.8M172.82 119.72h5.8m-2.9-2.9v5.8M172.95 127.09h5.8m-2.9-2.9v5.8M173.08 128.65h5.8m-2.9-2.9v5.8M173.21 135.34h5.8m-2.9-2.9v5.8M173.35 129.98h5.8m-2.9-2.9v5.8M173.48 132.06h5.8m-2.9-2.9v5.8M173.61 118.25h5.8m-2.9-2.9v5.8M173.74 107.68h5.8m-2.9-2.9v5.8M173.88 122.96h5.8m-2.9-2.9v5.8M174.01 125.13h5.8m-2.9-2.9v5.8M174.14 125.11h5.8m-2.9-2.9v5.8M174.27 107.54h5.8m-2.9-2.9v5.8M174.41 103.13h5.8m-2.9-2.9v5.8M174.54 109.26h5.8m-2.9-2.9v5.8M174.67 126.84h5.8m-2.9-2.9v5.8M174.8 116.32h5.8m-2.9-2.9v5.8M174.93 124.53h5.8m-2.9-2.9v5.8M175.07 114.24h5.8m-2.9-2.9v5.8M175.2 53.06h5.8m-2.9-2.9v5.8M175.33 52.58h5.8m-2.9-2.9v5.8M175.46 59h5.8m-2.9-2.9v5.8M175.6 58.99h5.8m-2.9-2.9v5.8M175.73 61.16h5.8m-2.9-2.9v5.8M175.86 61.02h5.8m-2.9-2.9v5.8M175.99 65.31h5.8m-2.9-2.9v5.8M176.13 66.32h5.8m-2.9-2.9v5.8M176.26 66.83h5.8m-2.9-2.9v5.8M176.39 68.82h5.8m-2.9-2.9v5.8M176.52 73.09h5.8m-2.9-2.9v5.8M176.66 69.83h5.8m-2.9-2.9v5.8M176.79 77.48h5.8m-2.9-2.9v5.8M176.92 78.81h5.8m-2.9-2.9v5.8M177.05 80.63h5.8m-2.9-2.9v5.8M177.19 110.54h5.8m-2.9-2.9v5.8M177.32 99.41h5.8m-2.9-2.9v5.8M177.45 109.97h5.8m-2.9-2.9v5.8M177.58 107.21h5.8m-2.9-2.9v5.8M177.71 91.98h5.8m-2.9-2.9v5.8M177.85 77.93h5.8m-2.9-2.9v5.8M177.98 84.21h5.8m-2.9-2.9v5.8M178.11 94.81h5.8m-2.9-2.9v5.8M178.24 110.95h5.8m-2.9-2.9v5.8M178.38 104.9h5.8m-2.9-2.9v5.8M178.51 100.26h5.8m-2.9-2.9v5.8M178.64 104.57h5.8m-2.9-2.9v5.8M178.77 96.33h5.8m-2.9-2.9v5.8M178.91 87h5.8m-2.9-2.9v5.8M179.04 85.47h5.8m-2.9-2.9v5.8M179.17 89.19h5.8m-2.9-2.9v5.8M179.3 85.03h5.8m-2.9-2.9v5.8M179.44 78.01h5.8m-2.9-2.9v5.8M179.57 80.65h5.8m-2.9-2.9v5.8M179.7 70.33h5.8m-2.9-2.9v5.8M179.83 76.86h5.8m-2.9-2.9v5.8M179.97 98.29h5.8m-2.9-2.9v5.8M180.1 78.96h5.8m-2.9-2.9v5.8M180.23 71.36h5.8m-2.9-2.9v5.8M180.36 71.06h5.8m-2.9-2.9v5.8M180.5 79.37h5.8m-2.9-2.9v5.8M180.63 83.63h5.8m-2.9-2.9v5.8M180.76 78.97h5.8m-2.9-2.9v5.8M180.89 71.15h5.8m-2.9-2.9v5.8M181.02 72.17h5.8m-2.9-2.9v5.8M181.16 70.37h5.8m-2.9-2.9v5.8M181.29 80.47h5.8m-2.9-2.9v5.8M181.42 98.73h5.8m-2.9-2.9v5.8M181.55 89.67h5.8m-2.9-2.9v5.8M181.69 96.9h5.8m-2.9-2.9v5.8M181.82 98.6h5.8m-2.9-2.9v5.8M181.95 93.96h5.8m-2.9-2.9v5.8M182.08 95.24h5.8m-2.9-2.9v5.8M182.22 98.36h5.8m-2.9-2.9v5.8M182.35 85.35h5.8m-2.9-2.9v5.8M182.48 82.38h5.8m-2.9-2.9v5.8M182.61 75.24h5.8m-2.9-2.9v5.8M182.75 73.24h5.8m-2.9-2.9v5.8M182.88 77.43h5.8m-2.9-2.9v5.8M183.01 93.1h5.8m-2.9-2.9v5.8M183.14 109.46h5.8m-2.9-2.9v5.8M183.28 108.05h5.8m-2.9-2.9v5.8M183.41 99.57h5.8m-2.9-2.9v5.8M183.54 112.85h5.8m-2.9-2.9v5.8M183.67 111.27h5.8m-2.9-2.9v5.8M183.81 124.99h5.8m-2.9-2.9v5.8M183.94 110.46h5.8m-2.9-2.9v5.8M184.07 107.26h5.8m-2.9-2.9v5.8M184.2 108.08h5.8m-2.9-2.9v5.8M184.33 94.98h5.8m-2.9-2.9v5.8M184.47 97.31h5.8m-2.9-2.9v5.8M184.6 106.56h5.8m-2.9-2.9v5.8M184.73 104.58h5.8m-2.9-2.9v5.8M184.86 87.39h5.8m-2.9-2.9v5.8M185 86.26h5.8m-2.9-2.9v5.8M185.13 79.1h5.8m-2.9-2.9v5.8M185.26 82.52h5.8m-2.9-2.9v5.8M185.39 74.5h5.8m-2.9-2.9v5.8M185.53 74.55h5.8m-2.9-2.9v5.8M185.66 76.33h5.8m-2.9-2.9v5.8M185.79 74.31h5.8m-2.9-2.9v5.8M185.92 75.36h5.8m-2.9-2.9v5.8M186.06 97.72h5.8m-2.9-2.9v5.8M186.19 84.42h5.8m-2.9-2.9v5.8M186.32 90.92h5.8m-2.9-2.9v5.8M186.45 115.32h5.8m-2.9-2.9v5.8M186.59 90.56h5.8m-2.9-2.9v5.8M186.72 82.19h5.8m-2.9-2.9v5.8M186.85 103.29h5.8m-2.9-2.9v5.8M186.98 87.14h5.8m-2.9-2.9v5.8M187.12 89.64h5.8m-2.9-2.9v5.8M187.25 90.71h5.8m-2.9-2.9v5.8M187.38 118.66h5.8m-2.9-2.9v5.8M187.51 105.59h5.8m-2.9-2.9v5.8M187.64 112.45h5.8m-2.9-2.9v5.8M187.78 107.65h5.8m-2.9-2.9v5.8M187.91 96.56h5.8m-2.9-2.9v5.8M188.04 105.9h5.8m-2.9-2.9v5.8M188.17 110.92h5.8m-2.9-2.9v5.8M188.31 100.79h5.8m-2.9-2.9v5.8M188.44 118.25h5.8m-2.9-2.9v5.8M188.57 126.13h5.8m-2.9-2.9v5.8M188.7 129.6h5.8m-2.9-2.9v5.8M188.84 135.67h5.8m-2.9-2.9v5.8M188.97 126.72h5.8m-2.9-2.9v5.8M189.1 136.4h5.8m-2.9-2.9v5.8M189.23 126.64h5.8m-2.9-2.9v5.8M189.37 120.72h5.8m-2.9-2.9v5.8M189.5 129.05h5.8m-2.9-2.9v5.8M189.63 111.73h5.8m-2.9-2.9v5.8M189.76 107.34h5.8m-2.9-2.9v5.8M189.9 115.34h5.8m-2.9-2.9v5.8M190.03 124.95h5.8m-2.9-2.9v5.8M190.16 135.05h5.8m-2.9-2.9v5.8M190.29 131.83h5.8m-2.9-2.9v5.8M190.42 133.08h5.8m-2.9-2.9v5.8M190.56 130.59h5.8m-2.9-2.9v5.8M190.69 138.56h5.8m-2.9-2.9v5.8M190.82 135.92h5.8m-2.9-2.9v5.8M190.95 118.28h5.8m-2.9-2.9v5.8M191.09 101.75h5.8m-2.9-2.9v5.8M191.22 101.91h5.8m-2.9-2.9v5.8M191.35 107.01h5.8m-2.9-2.9v5.8M191.48 128.51h5.8m-2.9-2.9v5.8M191.62 129.31h5.8m-2.9-2.9v5.8M191.75 120.24h5.8m-2.9-2.9v5.8M191.88 112.09h5.8m-2.9-2.9v5.8M192.01 103.95h5.8m-2.9-2.9v5.8M192.15 113.09h5.8m-2.9-2.9v5.8M192.28 117.27h5.8m-2.9-2.9v5.8M192.41 127.38h5.8m-2.9-2.9v5.8M192.54 142.6h5.8m-2.9-2.9v5.8M192.68 118.61h5.8m-2.9-2.9v5.8M192.81 106.33h5.8m-2.9-2.9v5.8M192.94 112.38h5.8m-2.9-2.9v5.8M193.07 125.52h5.8m-2.9-2.9v5.8M193.21 118.88h5.8m-2.9-2.9v5.8M193.34 107.4h5.8m-2.9-2.9v5.8M193.47 103.21h5.8m-2.9-2.9v5.8M193.6 106.92h5.8m-2.9-2.9v5.8M193.73 114.7h5.8m-2.9-2.9v5.8M193.87 123.58h5.8m-2.9-2.9v5.8M194 122.95h5.8m-2.9-2.9v5.8M194.13 116.19h5.8m-2.9-2.9v5.8M194.26 113.58h5.8m-2.9-2.9v5.8M194.4 106.72h5.8m-2.9-2.9v5.8M194.53 119.49h5.8m-2.9-2.9v5.8M194.66 124.97h5.8m-2.9-2.9v5.8M194.79 117.37h5.8m-2.9-2.9v5.8M194.93 101.96h5.8m-2.9-2.9v5.8M195.06 100.53h5.8m-2.9-2.9v5.8M195.19 109.98h5.8m-2.9-2.9v5.8M195.32 122.17h5.8m-2.9-2.9v5.8M195.46 130.68h5.8m-2.9-2.9v5.8M195.59 129.74h5.8m-2.9-2.9v5.8M195.72 116.73h5.8m-2.9-2.9v5.8M195.85 89.41h5.8m-2.9-2.9v5.8M195.99 87.07h5.8m-2.9-2.9v5.8M196.12 90.43h5.8m-2.9-2.9v5.8M196.25 109.91h5.8m-2.9-2.9v5.8M196.38 47.68h5.8m-2.9-2.9v5.8M196.52 51.92h5.8m-2.9-2.9v5.8M196.65 54.99h5.8m-2.9-2.9v5.8M196.78 56.83h5.8m-2.9-2.9v5.8M196.91 53.92h5.8m-2.9-2.9v5.8M197.04 59.37h5.8m-2.9-2.9v5.8M197.18 61.36h5.8m-2.9-2.9v5.8M197.31 57.54h5.8m-2.9-2.9v5.8M197.44 63.92h5.8m-2.9-2.9v5.8M197.57 62.9h5.8m-2.9-2.9v5.8M197.71 63.41h5.8m-2.9-2.9v5.8M197.84 66.01h5.8m-2.9-2.9v5.8M197.97 66.32h5.8m-2.9-2.9v5.8M198.1 63.86h5.8m-2.9-2.9v5.8M198.24 70.36h5.8m-2.9-2.9v5.8M198.37 73.8h5.8m-2.9-2.9v5.8M198.5 76.77h5.8m-2.9-2.9v5.8M198.63 72.42h5.8m-2.9-2.9v5.8M198.77 37h5.8m-2.9-2.9v5.8M198.9 71.43h5.8m-2.9-2.9v5.8M199.03 78.67h5.8m-2.9-2.9v5.8M199.16 80.56h5.8m-2.9-2.9v5.8M199.3 80.61h5.8m-2.9-2.9v5.8M199.43 75.48h5.8m-2.9-2.9v5.8M199.56 79.45h5.8m-2.9-2.9v5.8M199.69 73.4h5.8m-2.9-2.9v5.8M199.82 85.77h5.8m-2.9-2.9v5.8M199.96 93.47h5.8m-2.9-2.9v5.8M200.09 77.83h5.8m-2.9-2.9v5.8M200.22 78.74h5.8m-2.9-2.9v5.8M200.35 63.6h5.8m-2.9-2.9v5.8M200.49 80.09h5.8m-2.9-2.9v5.8M200.62 78.84h5.8m-2.9-2.9v5.8M200.75 83.48h5.8m-2.9-2.9v5.8M200.88 81.99h5.8m-2.9-2.9v5.8M201.02 75.72h5.8m-2.9-2.9v5.8M201.15 81.84h5.8m-2.9-2.9v5.8M201.28 85.85h5.8m-2.9-2.9v5.8M201.41 82.95h5.8m-2.9-2.9v5.8M201.55 90.4h5.8m-2.9-2.9v5.8M201.68 74.24h5.8m-2.9-2.9v5.8M201.81 70.67h5.8m-2.9-2.9v5.8M201.94 74.2h5.8m-2.9-2.9v5.8M202.08 85.67h5.8m-2.9-2.9v5.8M202.21 56.9h5.8m-2.9-2.9v5.8M202.34 90.25h5.8m-2.9-2.9v5.8M202.47 81.96h5.8m-2.9-2.9v5.8M202.61 74.07h5.8m-2.9-2.9v5.8M202.74 88.11h5.8m-2.9-2.9v5.8M202.87 103.5h5.8m-2.9-2.9v5.8M203 91.26h5.8m-2.9-2.9v5.8M203.13 98.36h5.8m-2.9-2.9v5.8M203.27 100.5h5.8m-2.9-2.9v5.8M203.4 104.24h5.8m-2.9-2.9v5.8M203.53 89.48h5.8m-2.9-2.9v5.8M203.66 90.2h5.8m-2.9-2.9v5.8M203.8 88.21h5.8m-2.9-2.9v5.8M203.93 100.12h5.8m-2.9-2.9v5.8M204.06 94.79h5.8m-2.9-2.9v5.8M204.19 93.41h5.8m-2.9-2.9v5.8M204.33 101.56h5.8m-2.9-2.9v5.8M204.46 99.29h5.8m-2.9-2.9v5.8M204.59 90.33h5.8m-2.9-2.9v5.8M204.72 73.47h5.8m-2.9-2.9v5.8M204.86 71.55h5.8m-2.9-2.9v5.8M204.99 49.62h5.8m-2.9-2.9v5.8M205.12 88.96h5.8m-2.9-2.9v5.8M205.25 79.29h5.8m-2.9-2.9v5.8M205.39 77.87h5.8m-2.9-2.9v5.8M205.52 86.24h5.8m-2.9-2.9v5.8M205.65 101.89h5.8m-2.9-2.9v5.8M205.78 102.81h5.8m-2.9-2.9v5.8M205.92 28.7h5.8m-2.9-2.9v5.8M206.05 95.64h5.8m-2.9-2.9v5.8M206.18 94.99h5.8m-2.9-2.9v5.8M206.31 87.25h5.8m-2.9-2.9v5.8M206.44 70.94h5.8m-2.9-2.9v5.8M206.58 87.93h5.8m-2.9-2.9v5.8M206.71 88.47h5.8m-2.9-2.9v5.8M206.84 87h5.8m-2.9-2.9v5.8M206.97 78.12h5.8m-2.9-2.9v5.8M207.11 77.17h5.8m-2.9-2.9v5.8M207.24 92.19h5.8m-2.9-2.9v5.8M207.37 101.79h5.8m-2.9-2.9v5.8M207.5 101.74h5.8m-2.9-2.9v5.8M207.64 84.62h5.8m-2.9-2.9v5.8M207.77 93.28h5.8m-2.9-2.9v5.8M207.9 97.47h5.8m-2.9-2.9v5.8M208.03 113.51h5.8m-2.9-2.9v5.8M208.17 118.18h5.8m-2.9-2.9v5.8M208.3 124.87h5.8m-2.9-2.9v5.8M208.43 119.94h5.8m-2.9-2.9v5.8M208.56 110.02h5.8m-2.9-2.9v5.8M208.7 102.38h5.8m-2.9-2.9v5.8M208.83 104.72h5.8m-2.9-2.9v5.8M208.96 130.63h5.8m-2.9-2.9v5.8M209.09 135.13h5.8m-2.9-2.9v5.8M209.23 135.09h5.8m-2.9-2.9v5.8M209.36 122.43h5.8m-2.9-2.9v5.8M209.49 111.51h5.8m-2.9-2.9v5.8M209.62 114.55h5.8m-2.9-2.9v5.8M209.75 115.13h5.8m-2.9-2.9v5.8M209.89 122.45h5.8m-2.9-2.9v5.8M210.02 114.37h5.8m-2.9-2.9v5.8M210.15 102.51h5.8m-2.9-2.9v5.8M210.28 127.33h5.8m-2.9-2.9v5.8M210.42 119.87h5.8m-2.9-2.9v5.8M210.55 107.84h5.8m-2.9-2.9v5.8M210.68 104.06h5.8m-2.9-2.9v5.8M210.81 112.27h5.8m-2.9-2.9v5.8M210.95 121.17h5.8m-2.9-2.9v5.8M211.08 126.45h5.8m-2.9-2.9v5.8M211.21 131.01h5.8m-2.9-2.9v5.8M211.34 129.24h5.8m-2.9-2.9v5.8M211.48 131.86h5.8m-2.9-2.9v5.8M211.61 137.06h5.8m-2.9-2.9v5.8M211.74 136.68h5.8m-2.9-2.9v5.8M211.87 140.88h5.8m-2.9-2.9v5.8M212.01 120.34h5.8m-2.9-2.9v5.8M212.14 113.44h5.8m-2.9-2.9v5.8M212.27 108.76h5.8m-2.9-2.9v5.8M212.4 85.87h5.8m-2.9-2.9v5.8M212.53 103.64h5.8m-2.9-2.9v5.8M212.67 117.64h5.8m-2.9-2.9v5.8M212.8 126.29h5.8m-2.9-2.9v5.8M212.93 128.26h5.8m-2.9-2.9v5.8M213.06 125.42h5.8m-2.9-2.9v5.8M213.2 112.56h5.8m-2.9-2.9v5.8M213.33 119.47h5.8m-2.9-2.9v5.8M213.46 134.37h5.8m-2.9-2.9v5.8M213.59 114.6h5.8m-2.9-2.9v5.8M213.73 136.82h5.8m-2.9-2.9v5.8M213.86 142.12h5.8m-2.9-2.9v5.8M213.99 142.74h5.8m-2.9-2.9v5.8M214.12 128.38h5.8m-2.9-2.9v5.8M214.26 131.31h5.8m-2.9-2.9v5.8M214.39 132.82h5.8m-2.9-2.9v5.8M214.52 110.43h5.8m-2.9-2.9v5.8M214.65 116.56h5.8m-2.9-2.9v5.8M214.79 116.78h5.8m-2.9-2.9v5.8M214.92 106.13h5.8m-2.9-2.9v5.8M215.05 114.13h5.8m-2.9-2.9v5.8M215.18 113.39h5.8m-2.9-2.9v5.8M215.32 109.26h5.8m-2.9-2.9v5.8M215.45 117.92h5.8m-2.9-2.9v5.8M215.58 122.06h5.8m-2.9-2.9v5.8M215.71 129.16h5.8m-2.9-2.9v5.8M215.84 122.41h5.8m-2.9-2.9v5.8M215.98 128.44h5.8m-2.9-2.9v5.8M216.11 137.12h5.8m-2.9-2.9v5.8M216.24 135.98h5.8m-2.9-2.9v5.8M216.37 125.58h5.8m-2.9-2.9v5.8M216.51 135.51h5.8m-2.9-2.9v5.8M216.64 139.96h5.8m-2.9-2.9v5.8M216.77 138.49h5.8m-2.9-2.9v5.8M216.9 120.1h5.8m-2.9-2.9v5.8M217.04 128.57h5.8m-2.9-2.9v5.8M217.17 127.59h5.8m-2.9-2.9v5.8M217.3 124.31h5.8m-2.9-2.9v5.8M217.43 121.09h5.8m-2.9-2.9v5.8M217.57 43.34h5.8m-2.9-2.9v5.8M217.7 47.15h5.8m-2.9-2.9v5.8M217.83 48.6h5.8m-2.9-2.9v5.8M217.96 47.94h5.8m-2.9-2.9v5.8M218.1 50.99h5.8m-2.9-2.9v5.8M218.23 52.07h5.8m-2.9-2.9v5.8M218.36 53.77h5.8m-2.9-2.9v5.8M218.49 10h5.8m-2.9-2.9v5.8M218.63 53.42h5.8m-2.9-2.9v5.8M218.76 55.95h5.8m-2.9-2.9v5.8M218.89 55.67h5.8m-2.9-2.9v5.8M219.02 51.74h5.8m-2.9-2.9v5.8M219.15 56.7h5.8m-2.9-2.9v5.8M219.29 63.41h5.8m-2.9-2.9v5.8M219.42 55.32h5.8m-2.9-2.9v5.8M219.55 60.18h5.8m-2.9-2.9v5.8M219.68 64.77h5.8m-2.9-2.9v5.8M219.82 60.72h5.8m-2.9-2.9v5.8M219.95 64.21h5.8m-2.9-2.9v5.8M220.08 66.99h5.8m-2.9-2.9v5.8M220.21 68.08h5.8m-2.9-2.9v5.8M220.35 70.11h5.8m-2.9-2.9v5.8M220.48 93.87h5.8m-2.9-2.9v5.8M220.61 95.02h5.8m-2.9-2.9v5.8M220.74 85.31h5.8m-2.9-2.9v5.8M220.88 93.73h5.8m-2.9-2.9v5.8M221.01 108.62h5.8m-2.9-2.9v5.8M221.14 94.01h5.8m-2.9-2.9v5.8M221.27 77.98h5.8m-2.9-2.9v5.8M221.41 67.44h5.8m-2.9-2.9v5.8M221.54 74.36h5.8m-2.9-2.9v5.8M221.67 82.45h5.8m-2.9-2.9v5.8M221.8 70.78h5.8m-2.9-2.9v5.8M221.93 85.62h5.8m-2.9-2.9v5.8M222.07 96.25h5.8m-2.9-2.9v5.8M222.2 88.8h5.8m-2.9-2.9v5.8M222.33 106.96h5.8m-2.9-2.9v5.8M222.46 115.73h5.8m-2.9-2.9v5.8M222.6 109.8h5.8m-2.9-2.9v5.8M222.73 103.12h5.8m-2.9-2.9v5.8M222.86 56.49h5.8m-2.9-2.9v5.8M222.99 100.34h5.8m-2.9-2.9v5.8M223.13 91.01h5.8m-2.9-2.9v5.8M223.26 74.51h5.8m-2.9-2.9v5.8M223.39 89.16h5.8m-2.9-2.9v5.8M223.52 78.78h5.8m-2.9-2.9v5.8M223.66 81.95h5.8m-2.9-2.9v5.8M223.79 71.43h5.8m-2.9-2.9v5.8M223.92 88.23h5.8m-2.9-2.9v5.8M224.05 67.8h5.8m-2.9-2.9v5.8M224.19 94.08h5.8m-2.9-2.9v5.8M224.32 92.59h5.8m-2.9-2.9v5.8M224.45 73.81h5.8m-2.9-2.9v5.8M224.58 95.05h5.8m-2.9-2.9v5.8M224.72 103.29h5.8m-2.9-2.9v5.8M224.85 96.83h5.8m-2.9-2.9v5.8M224.98 82.8h5.8m-2.9-2.9v5.8M225.11 104.09h5.8m-2.9-2.9v5.8M225.24 126.43h5.8m-2.9-2.9v5.8M225.38 98.71h5.8m-2.9-2.9v5.8M225.51 69.14h5.8m-2.9-2.9v5.8M225.64 67.32h5.8m-2.9-2.9v5.8M225.77 72.78h5.8m-2.9-2.9v5.8M225.91 73.34h5.8m-2.9-2.9v5.8M226.04 67.43h5.8m-2.9-2.9v5.8M226.17 87.59h5.8m-2.9-2.9v5.8M226.3 78.93h5.8m-2.9-2.9v5.8M226.44 87.92h5.8m-2.9-2.9v5.8M226.57 92.65h5.8m-2.9-2.9v5.8M226.7 69.43h5.8m-2.9-2.9v5.8M226.83 92.13h5.8m-2.9-2.9v5.8M226.97 72.55h5.8m-2.9-2.9v5.8M227.1 68.04h5.8m-2.9-2.9v5.8M227.23 80.89h5.8m-2.9-2.9v5.8M227.36 92.43h5.8m-2.9-2.9v5.8M227.5 13.6h5.8m-2.9-2.9v5.8M227.63 97.81h5.8m-2.9-2.9v5.8M227.76 80.77h5.8m-2.9-2.9v5.8M227.89 92.48h5.8m-2.9-2.9v5.8M228.03 96.43h5.8m-2.9-2.9v5.8M228.16 115.72h5.8m-2.9-2.9v5.8M228.29 127.5h5.8m-2.9-2.9v5.8M228.42 110.49h5.8m-2.9-2.9v5.8M228.55 117.43h5.8m-2.9-2.9v5.8M228.69 106.35h5.8m-2.9-2.9v5.8M228.82 108.46h5.8m-2.9-2.9v5.8M228.95 125.66h5.8m-2.9-2.9v5.8M229.08 123.85h5.8m-2.9-2.9v5.8M229.22 133.39h5.8m-2.9-2.9v5.8M229.35 114.21h5.8m-2.9-2.9v5.8M229.48 114.88h5.8m-2.9-2.9v5.8M229.61 129.03h5.8m-2.9-2.9v5.8M229.75 118.72h5.8m-2.9-2.9v5.8M229.88 101.61h5.8m-2.9-2.9v5.8M230.01 99.27h5.8m-2.9-2.9v5.8M230.14 102.09h5.8m-2.9-2.9v5.8M230.28 110.08h5.8m-2.9-2.9v5.8M230.41 121.58h5.8m-2.9-2.9v5.8M230.54 115.42h5.8m-2.9-2.9v5.8M230.67 124.01h5.8m-2.9-2.9v5.8M230.81 141.67h5.8m-2.9-2.9v5.8M230.94 145.93h5.8m-2.9-2.9v5.8M231.07 141.09h5.8m-2.9-2.9v5.8M231.2 138.02h5.8m-2.9-2.9v5.8M231.34 132.73h5.8m-2.9-2.9v5.8M231.47 135.29h5.8m-2.9-2.9v5.8M231.6 132.13h5.8m-2.9-2.9v5.8M231.73 134.68h5.8m-2.9-2.9v5.8M231.86 135.13h5.8m-2.9-2.9v5.8M232 116.6h5.8m-2.9-2.9v5.8M232.13 111.23h5.8m-2.9-2.9v5.8M232.26 107.76h5.8m-2.9-2.9v5.8M232.39 110.18h5.8m-2.9-2.9v5.8M232.53 120.11h5.8m-2.9-2.9v5.8M232.66 126.54h5.8m-2.9-2.9v5.8M232.79 126.57h5.8m-2.9-2.9v5.8M232.92 142.72h5.8m-2.9-2.9v5.8M233.06 142.16h5.8m-2.9-2.9v5.8M233.19 124.09h5.8m-2.9-2.9v5.8M233.32 122.43h5.8m-2.9-2.9v5.8M233.45 114.5h5.8m-2.9-2.9v5.8M233.59 116.4h5.8m-2.9-2.9v5.8M233.72 120.47h5.8m-2.9-2.9v5.8M233.85 129.98h5.8m-2.9-2.9v5.8M233.98 140.42h5.8m-2.9-2.9v5.8M234.12 25h5.8m-2.9-2.9v5.8M234.25 110.27h5.8m-2.9-2.9v5.8M234.38 112.18h5.8m-2.9-2.9v5.8M234.51 111.03h5.8m-2.9-2.9v5.8M234.64 119.67h5.8m-2.9-2.9v5.8M234.78 129.15h5.8m-2.9-2.9v5.8M234.91 131.35h5.8m-2.9-2.9v5.8M235.04 130.33h5.8m-2.9-2.9v5.8M235.17 136.86h5.8m-2.9-2.9v5.8M235.31 138.84h5.8m-2.9-2.9v5.8M235.44 126.98h5.8m-2.9-2.9v5.8M235.57 113.7h5.8m-2.9-2.9v5.8M235.7 131.27h5.8m-2.9-2.9v5.8M235.84 122.13h5.8m-2.9-2.9v5.8M235.97 126.45h5.8m-2.9-2.9v5.8M236.1 127.06h5.8m-2.9-2.9v5.8M236.23 122.6h5.8m-2.9-2.9v5.8M236.37 124.5h5.8m-2.9-2.9v5.8M236.5 131.55h5.8m-2.9-2.9v5.8M236.63 26h5.8m-2.9-2.9v5.8M236.76 128.57h5.8m-2.9-2.9v5.8M236.9 132.08h5.8m-2.9-2.9v5.8M237.03 115.55h5.8m-2.9-2.9v5.8M237.16 107.47h5.8m-2.9-2.9v5.8M237.29 125.76h5.8m-2.9-2.9v5.8M237.43 109.63h5.8m-2.9-2.9v5.8M237.56 115.92h5.8m-2.9-2.9v5.8M237.69 122.06h5.8m-2.9-2.9v5.8M237.82 106.95h5.8m-2.9-2.9v5.8M237.95 103.5h5.8m-2.9-2.9v5.8M238.09 114.53h5.8m-2.9-2.9v5.8M238.22 121.79h5.8m-2.9-2.9v5.8M238.35 122.13h5.8m-2.9-2.9v5.8M238.48 133.45h5.8m-2.9-2.9v5.8M238.62 115.85h5.8m-2.9-2.9v5.8M238.75 39.62h5.8m-2.9-2.9v5.8M238.88 39.92h5.8m-2.9-2.9v5.8M239.01 45.06h5.8m-2.9-2.9v5.8M239.15 44.31h5.8m-2.9-2.9v5.8M239.28 41.59h5.8m-2.9-2.9v5.8M239.41 51.41h5.8m-2.9-2.9v5.8M239.54 48.65h5.8m-2.9-2.9v5.8M239.68 51.51h5.8m-2.9-2.9v5.8M239.81 54.88h5.8m-2.9-2.9v5.8M239.94 56.09h5.8m-2.9-2.9v5.8M240.07 27.7h5.8m-2.9-2.9v5.8M240.21 54.66h5.8m-2.9-2.9v5.8M240.34 58.63h5.8m-2.9-2.9v5.8M240.47 58.31h5.8m-2.9-2.9v5.8M240.6 57.77h5.8m-2.9-2.9v5.8M240.74 60.24h5.8m-2.9-2.9v5.8M240.87 59.96h5.8m-2.9-2.9v5.8M241 62.38h5.8m-2.9-2.9v5.8M241.13 88.13h5.8m-2.9-2.9v5.8M241.26 81.6h5.8m-2.9-2.9v5.8M241.4 72.43h5.8m-2.9-2.9v5.8M241.53 83.69h5.8m-2.9-2.9v5.8M241.66 90.63h5.8m-2.9-2.9v5.8M241.79 90.63h5.8m-2.9-2.9v5.8M241.93 71.35h5.8m-2.9-2.9v5.8M242.06 75.73h5.8m-2.9-2.9v5.8M242.19 94.57h5.8m-2.9-2.9v5.8M242.32 79.94h5.8m-2.9-2.9v5.8M242.46 96.53h5.8m-2.9-2.9v5.8M242.59 107.37h5.8m-2.9-2.9v5.8M242.72 95.89h5.8m-2.9-2.9v5.8M242.85 91.46h5.8m-2.9-2.9v5.8M242.99 88.96h5.8m-2.9-2.9v5.8M243.12 93.36h5.8m-2.9-2.9v5.8M243.25 94.64h5.8m-2.9-2.9v5.8M243.38 72.85h5.8m-2.9-2.9v5.8M243.52 65.48h5.8m-2.9-2.9v5.8M243.65 66.31h5.8m-2.9-2.9v5.8M243.78 49.94h5.8m-2.9-2.9v5.8M243.91 65.01h5.8m-2.9-2.9v5.8M244.04 74.79h5.8m-2.9-2.9v5.8M244.18 84.14h5.8m-2.9-2.9v5.8M244.31 113.71h5.8m-2.9-2.9v5.8M244.44 111.81h5.8m-2.9-2.9v5.8M244.57 121.84h5.8m-2.9-2.9v5.8M244.71 125.9h5.8m-2.9-2.9v5.8M244.84 104.56h5.8m-2.9-2.9v5.8M244.97 109.25h5.8m-2.9-2.9v5.8M245.1 113.6h5.8m-2.9-2.9v5.8M245.24 98.53h5.8m-2.9-2.9v5.8M245.37 124.36h5.8m-2.9-2.9v5.8M245.5 107.94h5.8m-2.9-2.9v5.8M245.63 101.5h5.8m-2.9-2.9v5.8M245.77 107.89h5.8m-2.9-2.9v5.8M245.9 110.37h5.8m-2.9-2.9v5.8M246.03 114.54h5.8m-2.9-2.9v5.8M246.16 108.28h5.8m-2.9-2.9v5.8M246.3 100.02h5.8m-2.9-2.9v5.8M246.43 112.91h5.8m-2.9-2.9v5.8M246.56 118.48h5.8m-2.9-2.9v5.8M246.69 130.54h5.8m-2.9-2.9v5.8M246.83 114.12h5.8m-2.9-2.9v5.8M246.96 123.31h5.8m-2.9-2.9v5.8M247.09 138.59h5.8m-2.9-2.9v5.8M247.22 136.01h5.8m-2.9-2.9v5.8M247.35 136.04h5.8m-2.9-2.9v5.8M247.49 126.65h5.8m-2.9-2.9v5.8M247.62 138.51h5.8m-2.9-2.9v5.8M247.75 118.69h5.8m-2.9-2.9v5.8M247.88 109.09h5.8m-2.9-2.9v5.8M248.02 97.85h5.8m-2.9-2.9v5.8M248.15 113.68h5.8m-2.9-2.9v5.8M248.28 112.04h5.8m-2.9-2.9v5.8M248.41 89.49h5.8m-2.9-2.9v5.8M248.55 115.91h5.8m-2.9-2.9v5.8M248.68 124.82h5.8m-2.9-2.9v5.8M248.81 109h5.8m-2.9-2.9v5.8M248.94 137.72h5.8m-2.9-2.9v5.8M249.08 123.19h5.8m-2.9-2.9v5.8M249.21 117.75h5.8m-2.9-2.9v5.8M249.34 125.3h5.8m-2.9-2.9v5.8M249.47 127.08h5.8m-2.9-2.9v5.8M249.61 132.92h5.8m-2.9-2.9v5.8M249.74 126.57h5.8m-2.9-2.9v5.8M249.87 128.3h5.8m-2.9-2.9v5.8M250 135.37h5.8m-2.9-2.9v5.8M250.14 117.41h5.8m-2.9-2.9v5.8M250.27 130.54h5.8m-2.9-2.9v5.8M250.4 113.77h5.8m-2.9-2.9v5.8M250.53 90.47h5.8m-2.9-2.9v5.8M250.66 90.93h5.8m-2.9-2.9v5.8M250.8 79.6h5.8m-2.9-2.9v5.8M250.93 93.97h5.8m-2.9-2.9v5.8M251.06 87.48h5.8m-2.9-2.9v5.8M251.19 65.77h5.8m-2.9-2.9v5.8M251.33 91.41h5.8m-2.9-2.9v5.8M251.46 101.64h5.8m-2.9-2.9v5.8M251.59 79.73h5.8m-2.9-2.9v5.8M251.72 87.64h5.8m-2.9-2.9v5.8M251.86 96.96h5.8m-2.9-2.9v5.8M251.99 107.8h5.8m-2.9-2.9v5.8M252.12 24h5.8m-2.9-2.9v5.8M252.25 119.66h5.8m-2.9-2.9v5.8M252.39 104.78h5.8m-2.9-2.9v5.8M252.52 103.29h5.8m-2.9-2.9v5.8M252.65 120.29h5.8m-2.9-2.9v5.8M252.78 121.62h5.8m-2.9-2.9v5.8M252.92 98.05h5.8m-2.9-2.9v5.8M253.05 119.31h5.8m-2.9-2.9v5.8M253.18 118.91h5.8m-2.9-2.9v5.8M253.31 104.24h5.8m-2.9-2.9v5.8M253.45 100.55h5.8m-2.9-2.9v5.8M253.58 115.1h5.8m-2.9-2.9v5.8M253.71 116.58h5.8m-2.9-2.9v5.8M253.84 122.81h5.8m-2.9-2.9v5.8M253.97 105.4h5.8m-2.9-2.9v5.8M254.11 100.12h5.8m-2.9-2.9v5.8M254.24 108.95h5.8m-2.9-2.9v5.8M254.37 101.45h5.8m-2.9-2.9v5.8M254.5 91.52h5.8m-2.9-2.9v5.8M254.64 94.67h5.8m-2.9-2.9v5.8M254.77 95.06h5.8m-2.9-2.9v5.8M254.9 94.41h5.8m-2.9-2.9v5.8M255.03 88.39h5.8m-2.9-2.9v5.8M255.17 105.69h5.8m-2.9-2.9v5.8M255.3 103.65h5.8m-2.9-2.9v5.8M255.43 98.83h5.8m-2.9-2.9v5.8M255.56 129.11h5.8m-2.9-2.9v5.8M255.7 120.52h5.8m-2.9-2.9v5.8M255.83 102.83h5.8m-2.9-2.9v5.8M255.96 123.15h5.8m-2.9-2.9v5.8M256.09 111.84h5.8m-2.9-2.9v5.8M256.23 116.17h5.8m-2.9-2.9v5.8M256.36 94.39h5.8m-2.9-2.9v5.8M256.49 70.22h5.8m-2.9-2.9v5.8M256.62 90.6h5.8m-2.9-2.9v5.8M256.75 78.78h5.8m-2.9-2.9v5.8M256.89 72.41h5.8m-2.9-2.9v5.8M257.02 95.25h5.8m-2.9-2.9v5.8M257.15 111.28h5.8m-2.9-2.9v5.8M257.28 116.18h5.8m-2.9-2.9v5.8M257.42 103.82h5.8m-2.9-2.9v5.8M257.55 92.99h5.8m-2.9-2.9v5.8M257.68 45.73h5.8m-2.9-2.9v5.8M257.81 82.27h5.8m-2.9-2.9v5.8M257.95 86.16h5.8m-2.9-2.9v5.8M258.08 71.08h5.8m-2.9-2.9v5.8M258.21 85.16h5.8m-2.9-2.9v5.8M258.34 82.83h5.8m-2.9-2.9v5.8M258.48 81.39h5.8m-2.9-2.9v5.8M258.61 71.56h5.8m-2.9-2.9v5.8M258.74 82.99h5.8m-2.9-2.9v5.8M258.87 72.27h5.8m-2.9-2.9v5.8M259.01 120.83h5.8m-2.9-2.9v5.8M259.14 117.59h5.8m-2.9-2.9v5.8M259.27 83.18h5.8m-2.9-2.9v5.8M259.4 91.41h5.8m-2.9-2.9v5.8M259.54 76.88h5.8m-2.9-2.9v5.8M259.67 95.35h5.8m-2.9-2.9v5.8M259.8 80.56h5.8m-2.9-2.9v5.8" stroke="#00f" stroke-width="1.1" fill="none"/>
<path d="M51 201.21L72.05 197.08L93.23 197.22L114.42 197.36L135.6 197.49L156.78 197.63L177.97 197.77L199.15 197.91L220.33 198.04L241.52 198.18L262.7 198.32" stroke="#000" stroke-width="1.8" fill="none" stroke-dasharray="5.4 5.19" stroke-dashoffset="2.7"/>
<path d="M48.8 199.01l4.4 4.4m0-4.4l-4.4 4.4M69.85 194.88l4.4 4.4m0-4.4l-4.4 4.4M91.03 195.02l4.4 4.4m0-4.4l-4.4 4.4M112.22 195.16l4.4 4.4m0-4.4l-4.4 4.4M133.4 195.29l4.4 4.4m0-4.4l-4.4 4.4M154.58 195.43l4.4 4.4m0-4.4l-4.4 4.4M175.77 195.57l4.4 4.4m0-4.4l-4.4 4.4M196.95 195.71l4.4 4.4m0-4.4l-4.4 4.4M218.13 195.84l4.4 4.4m0-4.4l-4.4 4.4M239.32 195.98l4.4 4.4m0-4.4l-4.4 4.4M260.5 196.12l4.4 4.4m0-4.4l-4.4 4.4" stroke="#000" stroke-width="2" fill="none"/>
</g>
<rect x="59.1" y="15.5" width="71.6" height="46.2" fill="#fff" stroke="#5a5a5a" stroke-width="1.1"/>
<path d="M63.7 23.8H87.8" stroke="#f00" stroke-width="1.8"/>
<path d="M75.75 21.1v5.4" stroke="#f00" stroke-width="1.6"/>
<path d="M63.7 38.5h4.8M83.2 38.5h4.6" stroke="#000" stroke-width="1.8"/>
<path d="M73.55 36.3l4.4 4.4m0-4.4l-4.4 4.4" stroke="#000" stroke-width="2.1"/>
<path d="M63.7 53.1H87.8" stroke="#6a6aff" stroke-width="1.0"/>
<path d="M75.75 50.3v5.6M72.75 53.1h6" stroke="#2222ff" stroke-width="1.1"/>
<text x="90.1" y="27.7" font-family="'Liberation Sans', Arial, sans-serif" font-size="11.8" textLength="27.2" lengthAdjust="spacingAndGlyphs" stroke="#000" stroke-width="0.35">static</text>
<text x="90.1" y="42.4" font-family="'Liberation Sans', Arial, sans-serif" font-size="11.8" textLength="31.4" lengthAdjust="spacingAndGlyphs" stroke="#000" stroke-width="0.35">rebuilt</text>
<text x="90.1" y="57" font-family="'Liberation Sans', Arial, sans-serif" font-size="11.8" textLength="29.3" lengthAdjust="spacingAndGlyphs" stroke="#000" stroke-width="0.35">adapt</text>
<text x="45.6" y="197.34" text-anchor="end" font-family="'Liberation Sans', Arial, sans-serif" font-size="13.4" stroke="#000" stroke-width="0.35">10<tspan font-size="9.4" dx="1.1" dy="-6.3">-4</tspan></text>
<text x="45.6" y="151.38" text-anchor="end" font-family="'Liberation Sans', Arial, sans-serif" font-size="13.4" stroke="#000" stroke-width="0.35">10<tspan font-size="9.4" dx="1.1" dy="-6.3">-3</tspan></text>
<text x="45.6" y="105.42" text-anchor="end" font-family="'Liberation Sans', Arial, sans-serif" font-size="13.4" stroke="#000" stroke-width="0.35">10<tspan font-size="9.4" dx="1.1" dy="-6.3">-2</tspan></text>
<text x="45.6" y="59.46" text-anchor="end" font-family="'Liberation Sans', Arial, sans-serif" font-size="13.4" stroke="#000" stroke-width="0.35">10<tspan font-size="9.4" dx="1.1" dy="-6.3">-1</tspan></text>
<text x="45.6" y="13.5" text-anchor="end" font-family="'Liberation Sans', Arial, sans-serif" font-size="13.4" stroke="#000" stroke-width="0.35">10<tspan font-size="9.4" dx="1.1" dy="-6.3">0</tspan></text>
<text x="115.07" y="253.9" text-anchor="middle" font-family="'Liberation Sans', Arial, sans-serif" font-size="13" stroke="#000" stroke-width="0.35">500</text>
<text x="181.26" y="253.9" text-anchor="middle" font-family="'Liberation Sans', Arial, sans-serif" font-size="13" stroke="#000" stroke-width="0.35">1000</text>
<text x="247.46" y="253.9" text-anchor="middle" font-family="'Liberation Sans', Arial, sans-serif" font-size="13" stroke="#000" stroke-width="0.35">1500</text>
<text transform="translate(12.8 122.4) rotate(-90)" text-anchor="middle" font-family="'Liberation Serif', 'Times New Roman', serif" font-size="14.2" textLength="155.5" lengthAdjust="spacingAndGlyphs" stroke="#000" stroke-width="0.2">rel <tspan font-style="italic">L</tspan><tspan font-size="10" dy="2.8">2</tspan><tspan dy="-2.8"> error over test set</tspan></text>
<text x="74.05" y="269.1" font-family="'Liberation Serif', 'Times New Roman', serif" font-size="12.6" textLength="165.6" lengthAdjust="spacingAndGlyphs" stroke="#000" stroke-width="0.2">#sensor samples for updating</text>
<text x="67.55" y="292.7" font-family="'Liberation Serif', 'Times New Roman', serif" font-size="15.3" font-weight="bold" textLength="20.11" lengthAdjust="spacingAndGlyphs">(a)</text>
<text x="93.09" y="291.4" font-family="'Liberation Serif', 'Times New Roman', serif" font-size="11.6" stroke="#000" stroke-width="0.2" textLength="36.27" lengthAdjust="spacingAndGlyphs">sensor</text>
<text x="133.56" y="291.4" font-family="'Liberation Serif', 'Times New Roman', serif" font-size="11.6" stroke="#000" stroke-width="0.2" textLength="23.44" lengthAdjust="spacingAndGlyphs">rate</text>
<text x="161.39" y="290.8" font-family="'Liberation Serif', 'Times New Roman', serif" font-size="12.5" font-style="italic" stroke="#000" stroke-width="0.2" textLength="6.9" lengthAdjust="spacingAndGlyphs">&#961;</text>
<text x="168.68" y="286.4" font-family="'Liberation Serif', 'Times New Roman', serif" font-size="9.0" font-weight="bold" textLength="33.55" lengthAdjust="spacingAndGlyphs">update</text>
<text x="206.54" y="293.6" font-family="'Liberation Serif', 'Times New Roman', serif" font-size="16.0" stroke="#000" stroke-width="0.2" textLength="10.36" lengthAdjust="spacingAndGlyphs">=</text>
<text x="220.16" y="291.7" font-family="'Liberation Serif', 'Times New Roman', serif" font-size="12.7" stroke="#000" stroke-width="0.2" textLength="28.41" lengthAdjust="spacingAndGlyphs">0.6%</text>
<path d="M358.5 237.4h2.2M570.2 237.4h-2.2M358.5 223.55h1.3M570.2 223.55h-1.3M358.5 215.45h1.3M570.2 215.45h-1.3M358.5 209.71h1.3M570.2 209.71h-1.3M358.5 205.25h1.3M570.2 205.25h-1.3M358.5 201.61h1.3M570.2 201.61h-1.3M358.5 198.53h1.3M570.2 198.53h-1.3M358.5 195.86h1.3M570.2 195.86h-1.3M358.5 193.5h1.3M570.2 193.5h-1.3M358.5 191.4h2.2M570.2 191.4h-2.2M358.5 177.55h1.3M570.2 177.55h-1.3M358.5 169.45h1.3M570.2 169.45h-1.3M358.5 163.71h1.3M570.2 163.71h-1.3M358.5 159.25h1.3M570.2 159.25h-1.3M358.5 155.61h1.3M570.2 155.61h-1.3M358.5 152.53h1.3M570.2 152.53h-1.3M358.5 149.86h1.3M570.2 149.86h-1.3M358.5 147.5h1.3M570.2 147.5h-1.3M358.5 145.4h2.2M570.2 145.4h-2.2M358.5 131.55h1.3M570.2 131.55h-1.3M358.5 123.45h1.3M570.2 123.45h-1.3M358.5 117.71h1.3M570.2 117.71h-1.3M358.5 113.25h1.3M570.2 113.25h-1.3M358.5 109.61h1.3M570.2 109.61h-1.3M358.5 106.53h1.3M570.2 106.53h-1.3M358.5 103.86h1.3M570.2 103.86h-1.3M358.5 101.5h1.3M570.2 101.5h-1.3M358.5 99.4h2.2M570.2 99.4h-2.2M358.5 85.55h1.3M570.2 85.55h-1.3M358.5 77.45h1.3M570.2 77.45h-1.3M358.5 71.71h1.3M570.2 71.71h-1.3M358.5 67.25h1.3M570.2 67.25h-1.3M358.5 63.61h1.3M570.2 63.61h-1.3M358.5 60.53h1.3M570.2 60.53h-1.3M358.5 57.86h1.3M570.2 57.86h-1.3M358.5 55.5h1.3M570.2 55.5h-1.3M358.5 53.4h2.2M570.2 53.4h-2.2M358.5 39.55h1.3M570.2 39.55h-1.3M358.5 31.45h1.3M570.2 31.45h-1.3M358.5 25.71h1.3M570.2 25.71h-1.3M358.5 21.25h1.3M570.2 21.25h-1.3M358.5 17.61h1.3M570.2 17.61h-1.3M358.5 14.53h1.3M570.2 14.53h-1.3M358.5 11.86h1.3M570.2 11.86h-1.3M358.5 9.5h1.3M570.2 9.5h-1.3M358.5 7.4h2.2M570.2 7.4h-2.2M424.57 237.4v-2.2M424.57 7.4v2.2M490.76 237.4v-2.2M490.76 7.4v2.2M556.96 237.4v-2.2M556.96 7.4v2.2" stroke="#4a4a4a" stroke-width="1" fill="none"/>
<rect x="358.5" y="7.4" width="211.7" height="230" fill="none" stroke="#4a4a4a" stroke-width="1.25"/>
<clipPath id="clipb"><rect x="354.5" y="7.4" width="219.7" height="234"/></clipPath>
<g clip-path="url(#clipb)">
<path d="M358.5 201.61L379.55 201.61L379.68 115.67L400.73 115.67L400.87 90.9L421.92 90.9L422.05 76.48L443.1 76.48L443.23 66.39L464.28 66.39L464.42 58.29L485.47 58.29L485.6 53L506.65 53L506.78 47.61L527.83 47.61L527.97 43.28L549.02 43.28L549.15 39.55L570.2 39.55" stroke="#f00" stroke-width="1.6" fill="none"/>
<path d="M355.5 201.61H382.55M376.68 115.67H403.73M397.87 90.9H424.92M419.05 76.48H446.1M440.23 66.39H467.28M461.42 58.29H488.47M482.6 53H509.65M503.78 47.61H530.83M524.97 43.28H552.02M546.15 39.55H573.2" stroke="#f00" stroke-width="5.9" fill="none"/>
<path d="M358.5 201.27l.13-6.29l.13-8.94l.14-5.93l.13 .39l.13-12.84l.13 12.35l.14 1.67l.13 11.35l.13 .96l.13-42.75l.14 36.75l.13-18.49l.13 6.52l.13-14.13l.14 5.29l.13 21.75l.13-44.81l.13 36.24l.14-5.62l.13-15.55l.13-1.38l.13-.92l.14-10.13l.13-1.12l.13 1.37l.13 3.31l.13 26.84l.14-21.63l.13 5.41l.13 5.68l.13 6.34l.14 4.65l.13-22.89l.13-23.48l.13 10.79l.14 3.38l.13-5.17l.13-11.67l.13 1.99l.14 37.73l.13 .41l.13-10.3l.13-11.02l.14-17.95l.13-5.18l.13 10.65l.13-20.62l.13 6.36l.14-1.88l.13 9.82l.13-11.64l.13 19.91l.14-11.96l.13-.77l.13-.39l.13 9.6l.14 27.7l.13-8.53l.13 6.64l.13 3.64l.14-4.27l.13-12.89l.13 16.43l.13-11.25l.14 8.97l.13-87.56l.13 77.14l.13-5l.14-16.57l.13-26.18l.13 12.99l.13 9.8l.13 14.72l.14-.17l.13-12.3l.13 .88l.13 2.08l.14-3.98l.13-28.13l.13-1.84l.13 53.26l.14-3.35l.13 3.87l.13-10.75l.13-39.93l.14 48.8l.13-13.26l.13-1.21l.13 6.65l.14 4.91l.13-10.01l.13 12.96l.13-4.89l.14-9.57l.13 4.3l.13-10.39l.13 12.84l.13 4.67l.14-7.81l.13-13.71l.13 6.01l.13-29.5l.14-19.21l.13 23.09l.13 3.15l.13 2.22l.14 13.91l.13-18.65l.13 10.96l.13 5.78l.14-21.51l.13 20.05l.13 6.8l.13-55.23l.14 62.44l.13-46.62l.13 6.43l.13 41.68l.14 5.31l.13-56.55l.13 57.28l.13 4.64l.13-6.35l.14 6.79l.13-14.46l.13 3.78l.13 3.85l.14-6.04l.13-.34l.13-5.62l.13 14.64l.14 3.39l.13-10.52l.13-10.22l.13 12.44l.14-13.46l.13 20.98l.13-5.78l.13-.06l.14-.13l.13-3.98l.13 10.09l.13-3.76l.13-9.16l.14-3.78l.13-.63l.13 4.15l.13-28.8l.14 37.22l.13-50.6l.13 32.4l.13-8.34l.14-10.09l.13 .03l.13 .84l.13 17.46l.14-7.97l.13-6.68l.13-10.92l.13 19.79l.14 6.38l.13-4.09l.13-1.93l.13 8.7l.14-.33l.13 6.26l.13-4.98l.13 4.02l.13-.61l.14 1.09l.13 4.93l.13-1.13l.13 3.7l.14 .17l.13 2.16l.13 5.72l.13 .16l.14-7.2l.13 3.35l.13 2.72l.13-66.87l.14 56.29l.13-5.49l.13-11.94l.13-7.51l.14-4.94l.13 2.5l.13-1.98l.13 22.03l.14 5.32l.13 11.06l.13-1.9l.13-4.22l.13-2.02l.14 11.81l.13-2.57l.13-41.57l.13 14.1l.14-9.48l.13 17.88l.13-18.98l.13 6.7l.14 1.23l.13 13.18l.13-1.85l.13-22.16l.14 14.79l.13-13.2l.13 .64l.13 7.29l.14-8.41l.13 3.67l.13-18.01l.13 49.08l.13-39.16l.14 43.91l.13-15.18l.13 15.04l.13-8.88l.14 1.05l.13-42.41l.13 44.6l.13-12.74l.14-10.06l.13-1.08l.13 3.76l.13 5.99l.14 5.49l.13 6.08l.13-20.05l.13 13.1l.14 4.1l.13-2.07l.13 11.07l.13-10.24l.14 1.92l.13-4.9l.13-28.73l.13 39.17l.13 1.9l.14-6.71l.13-1.53l.13 12.37l.13-10.4l.14-4.34l.13-51.72l.13 40.98l.13-11.48l.14-.05l.13 .58l.13-2.21l.13 8.08l.14-3.37l.13-4.29l.13 2.51l.13 9.04l.14 4l.13-1.62l.13 6.49l.13 5.58l.14-5.56l.13-22.62l.13-4.8l.13 35.29l.13 3.64l.14-20.54l.13-13.93l.13 10.84l.13-3.11l.14-4.59l.13 18.38l.13-6.65l.13-14.55l.14 12.4l.13-6.25l.13 16.54l.13-8.6l.14 3.61l.13 14.33l.13-1.66l.13-11.1l.14-24.99l.13 41.3l.13-38.03l.13 20.68l.14 18.78l.13-2.49l.13-4.72l.13 1.38l.13-.37l.14 2.82l.13-10.28l.13-1.79l.13 12.8l.14-136.98l.13 121.02l.13 2.56l.13-9.84l.14 11.33l.13-7.78l.13 16.62l.13-10.84l.14-19.41l.13 .92l.13-39.14l.13 44.78l.14 3.28l.13 19.07l.13-38.89l.13 46.11l.13-59.48l.14 29.13l.13 6.24l.13-.57l.13 12.03l.14 9.21l.13-.62l.13-17.31l.13 10.67l.14-40.19l.13 9.24l.13 1.54l.13-4.98l.14-1.33l.13 2.96l.13 4.17l.13-7.2l.14 6.71l.13-.88l.13 5.59l.13-.83l.14 5.44l.13-.42l.13 4.05l.13-2.92l.13 3.15l.14 2.41l.13-3.43l.13 3.85l.13 1.22l.14-27.6l.13 37.3l.13-25.48l.13-.18l.14 1.94l.13 14.74l.13 4.45l.13 3.25l.14 10.77l.13 13.39l.13-15.45l.13-2.6l.14-2.24l.13-4.42l.13 1.66l.13-17.77l.14 2.38l.13 9.04l.13 11.92l.13-31.15l.13 3.63l.14 39.94l.13-1.96l.13-9.32l.13-8.11l.14-22.43l.13 5.06l.13 11.69l.13-16.78l.14 4.22l.13 12.55l.13-2.73l.13-7.24l.14 5.89l.13-11.46l.13-11.99l.13 54.1l.14-17.71l.13-3.67l.13 23.23l.13-11.92l.13-6.68l.14-1.1l.13-7.68l.13-11.4l.13 4.1l.14 16.17l.13 5.85l.13 10.55l.13-8.31l.14 4.29l.13-1.56l.13 3.37l.13 3.52l.14-.33l.13-4.44l.13-2.67l.13-1.47l.14-19.26l.13-14.37l.13 24.24l.13-29.83l.14 39.01l.13-3.27l.13 2.76l.13-1.23l.13-1.36l.14 7.87l.13 3.34l.13-78.46l.13 52.38l.14 4.62l.13 1.5l.13-17.72l.13-.59l.14-5.63l.13 13.33l.13 3.86l.13-38.2l.14 52.98l.13 7.23l.13 4.38l.13-10.6l.14-4.11l.13-38.83l.13 36.94l.13 7.97l.14-7.81l.13-9.95l.13-2.64l.13 15.9l.13-7.09l.14-19.05l.13 2.45l.13 1.48l.13 22.85l.14-3.17l.13 1.85l.13-3.61l.13 15.14l.14-15.68l.13-15.98l.13-8.52l.13 8.61l.14-6.21l.13 18.53l.13-1.08l.13 20.95l.14-45.08l.13 33.94l.13-6.3l.13-4.38l.14-14.71l.13 6.94l.13 3.34l.13 6.24l.13 11.98l.14 8.78l.13 .4l.13-12.14l.13-1.14l.14-14.45l.13 3.44l.13-36.91l.13 47.52l.14 14.2l.13-47l.13 40.77l.13 5.58l.14-5.76l.13-2.54l.13 4.08l.13-40.58l.14 42.22l.13 .14l.13-3.58l.13-45.71l.13 34.91l.14-20.86l.13-33.17l.13 6.35l.13 1.43l.14-1.12l.13 1.71l.13 1.85l.13 .22l.14-1.32l.13 2.61l.13 2.27l.13 2.85l.14-2.68l.13-.65l.13 4.63l.13 4.12l.14-8.5l.13 7.03l.13-3.88l.13 10.79l.14 .97l.13-.46l.13 .26l.13 7.33l.13 33.52l.14-8.4l.13 2.51l.13-39.82l.13-.1l.14 2.26l.13-15.29l.13 52.62l.13 7.67l.14-13.69l.13 13.61l.13-57.34l.13 31.48l.14 3.17l.13-8.44l.13 19.05l.13-15.2l.14 2.22l.13 11.67l.13 .23l.13-16l.14 20.94l.13-14.84l.13-12.85l.13-6.29l.13 3.03l.14 6.76l.13 7.25l.13-3.79l.13-3.49l.14 1.24l.13 7.43l.13 .91l.13 15.28l.14 5.24l.13 .58l.13-51.51l.13 50.98l.14 5.42l.13-13.75l.13-34.2l.13-4.58l.14 49.04l.13-2.36l.13 4.3l.13-4.11l.13 2.61l.14-9.74l.13 2.24l.13-9.63l.13 14.09l.14-24.02l.13-14.31l.13 .78l.13 14.69l.14 20.69l.13-1.4l.13-7.34l.13-11.67l.14-27.45l.13 33.16l.13 7.95l.13 2.02l.14-7.49l.13 12.43l.13 .61l.13-1.36l.14-1.47l.13-3.75l.13 1.04l.13-6.06l.13-9.88l.14-17.11l.13 15.95l.13-4.3l.13 1.75l.14-10.61l.13 18.3l.13 11.2l.13-1.7l.14 1.78l.13-3.75l.13 6.77l.13-5.42l.14-8.01l.13-16.76l.13 19.6l.13 .12l.14 5.58l.13 1.53l.13 1.87l.13-6.31l.14-24.33l.13 6.24l.13 4.14l.13-3.29l.13-24.25l.14 5.03l.13 10.26l.13 21.54l.13 4.12l.14-8.15l.13-.39l.13-13.52l.13-5.53l.14 2.03l.13 8.53l.13-6.1l.13 2.69l.14 9.62l.13-25.72l.13 20.98l.13-1.64l.14-7.24l.13 9.11l.13 12.9l.13-12.32l.14 8.76l.13 12.07l.13-7.92l.13 3.09l.13 1.3l.14 3.06l.13-.9l.13-11.72l.13-7.22l.14 10.41l.13 11.03l.13-1.51l.13-14.63l.14-8.24l.13-7.57l.13-.65l.13 6.37l.14-1.07l.13-2.68l.13 7.83l.13-50l.14 9.97l.13-4.19l.13 3.42l.13-2.24l.13 3.21l.14 2.54l.13-1.12l.13 .68l.13 4.04l.14-3.34l.13 1.45l.13 1.38l.13 2.46l.14 .5l.13 .03l.13 .8l.13 2.02l.14-3.46l.13 3.8l.13-1.65l.13 1.62l.14 8.11l.13-8.28l.13 32.89l.13 4.22l.14-66.76l.13 63.59l.13-18.34l.13 13.33l.13-9.42l.14-1.13l.13 7.73l.13 12.07l.13 1.84l.14 3.61l.13-6.7l.13 1.93l.13 9.24l.14-6.76l.13-18.56l.13 3.04l.13-11.54l.14 1.4l.13 1.9l.13 .3l.13 2.87l.14 4.88l.13 2.46l.13-8.3l.13 12.32l.14 .6l.13-4.69l.13 3.5l.13-2.13l.13-24.6l.14 18.37l.13 9.9l.13 3.01l.13-70.21l.14 4.69l.13 58.94l.13-10.51l.13 14.07l.14 5.53l.13 11.2l.13-5.56l.13-7.27l.14-2.09l.13-1.64l.13 4.83l.13 4.5l.14-14.88l.13-6.35l.13 19.31l.13 10.44l.13-62.89l.14 38.22l.13 17.32l.13-8.92l.13 6.01l.14-51.96l.13 39.57l.13-1.29l.13 3.93l.14-10.99l.13-3.87l.13 7.87l.13 6.81l.14-14.06l.13 9.44l.13-42.1l.13 44.71l.14-4.4l.13-1.58l.13 .49l.13-2.8l.14 13l.13-1.26l.13-12.03l.13 10.19l.13 6.13l.14 10.62l.13-17.08l.13 9.57l.13-4.63l.14-21.55l.13 32.32l.13-12.06l.13-13.51l.14 1.32l.13-7.79l.13 8.14l.13 17.27l.14-11.18l.13 8.83l.13-66.87l.13 45.7l.14 3.92l.13-14.82l.13 23.64l.13-12.77l.14 .45l.13 .6l.13-.06l.13 26.97l.13 1.02l.14-13.2l.13 6.33l.13 15.25l.13-5.71l.14-110.47l.13 114.98l.13 2.44l.13-28.7l.14 3.46l.13 2.46l.13 5.66l.13-31.32l.14 44.03l.13-1.12l.13-6.8l.13-3.63l.14 12.33l.13-9.87l.13-26.67l.13 17.62l.14-9.58l.13 16.93l.13 7.71l.13 .18l.13-.99l.14 4.56l.13-10.92l.13 6.5l.13-6.35l.14-14.89l.13-20.59l.13 14.24l.13 6.79l.14-55.17l.13 3.26l.13 4.63l.13 1.06l.14-1.37l.13 1.94l.13 3.11l.13 5.03l.14-.58l.13 3.32l.13 2.07l.13 3.99l.13 1.02l.14-1.92l.13 28.02l.13 6.51l.13-18.38l.14 30.47l.13-19.02l.13 5.96l.13-1.12l.14-2.48l.13 10.67l.13-14.24l.13 8.71l.14 9.33l.13 9.34l.13 2.05l.13 .23l.14-6.34l.13-10.48l.13-9.46l.13 9.04l.14-18.79l.13 9.3l.13-5.46l.13 9.13l.13-20.43l.14 16.92l.13 1.66l.13-15.02l.13 4.24l.14 .69l.13-12.58l.13 12.81l.13 1.24l.14 7.53l.13-64.9l.13 58.7l.13 .83l.14 12.66l.13-22.61l.13 14.02l.13 20.42l.14 .95l.13-42.06l.13 32.36l.13 10.45l.14-42.46l.13 47.4l.13 4.23l.13-26.33l.13 8.42l.14 6.69l.13 4.53l.13-2.27l.13-3.91l.14-1.67l.13-7.66l.13 12.18l.13-1.81l.14 7.31l.13-27.89l.13 12.65l.13-1.71l.14 20.03l.13-3.55l.13-.08l.13-49.25l.14 34.88l.13 17.66l.13-13.34l.13-.72l.14-44.14l.13 54.66l.13-36.64l.13 22.22l.13-6.28l.14 3.57l.13 11.13l.13-37.85l.13 31.18l.14-12.74l.13-14.88l.13 5.9l.13 2.48l.14 16.72l.13 1.37l.13 16.1l.13-1.22l.14-37.03l.13-3.37l.13 23.3l.13 12.39l.14-2.64l.13 5.97l.13-10.43l.13 4.17l.13-11.55l.14 3.12l.13 8.52l.13-21.93l.13-5.33l.14-21.7l.13 32.27l.13-17.26l.13 11.66l.14 10.3l.13 9.76l.13 3.05l.13 .73l.14-76.84l.13 73.79l.13-4.05l.13 4.61l.14-11.04l.13-10.26l.13 3.42l.13 5.26l.14-.15l.13-4.53l.13-5.95l.13 .68l.13-.49l.14-64.88l.13 50.31l.13 .38l.13 19.28l.14-7.2l.13 11.78l.13-6.94l.13-1.07l.14-12.63l.13 7.54l.13 2.59l.13-.55l.14 13.54l.13 3.38l.13 .15l.13 1.45l.14-10.21l.13 .32l.13-3.33l.13-4.52l.14-3.92l.13 3.62l.13 15.07l.13 5.18l.13-7.99l.14-7.85l.13-58.58l.13 7l.13 2.05l.14-3.88l.13 1.22l.13 3l.13-4.13l.14 4.26l.13 .73l.13 9.26l.13-7.15l.14-1.69l.13 7.33l.13-4.36l.13 3.88l.14 1.17l.13 1.22l.13 3.66l.13 3.14l.13 .38l.14-7.34l.13 3.09l.13 6.26l.13-5.5l.14 1.49l.13 3.16l.13-1.75l.13 8.02l.14 25.48l.13-1.39l.13 18.97l.13-2.1l.14 9.5l.13-21.09l.13 2.16l.13-8.26l.14 19.79l.13-2.87l.13 1.26l.13 11.74l.14-9.8l.13-16.16l.13 5.47l.13 4.88l.13-2.68l.14-5.13l.13 .72l.13 4.23l.13-78.54l.14 65.64l.13-.17l.13 16.66l.13 8.2l.14-10.79l.13 7.19l.13-13.41l.13-13.09l.14 6.44l.13 21.46l.13-26.38l.13 10.7l.14-2.48l.13 5.75l.13-5.12l.13-10.43l.14 8.54l.13 16.7l.13 4.56l.13 .32l.13-12.89l.14-.63l.13-6.78l.13-9.34l.13 11.09l.14-1.2l.13 13.1l.13-11.68l.13-9.8l.14 9.11l.13 .98l.13 14.92l.13-11.89l.14-4.08l.13 14.14l.13-4.55l.13-10.24l.14 .2l.13-8.41l.13-2.94l.13 5.36l.14 .72l.13-14.55l.13-.66l.13 13.64l.13 6.51l.14-1.87l.13 4.85l.13-13.51l.13 15.77l.14 1.89l.13 12.68l.13-9.63l.13 9.55l.14 3.37l.13-.74l.13-7.16l.13-3.34l.14-7l.13-.3l.13 7.97l.13 8.28l.14-26.7l.13 3.39l.13-51.85l.13 76.82l.13-10.1l.14-8.72l.13-3.46l.13-8.9l.13 5.1l.14 4.67l.13-3.89l.13 3.93l.13 3.08l.14-14.3l.13-10.63l.13 9.93l.13 .52l.14 17.33l.13-13.64l.13 4.23l.13-5.76l.14 1.91l.13 .59l.13-1.36l.13 22.53l.14 10.38l.13-11.11l.13-3.06l.13-3.69l.13-16.3l.14 14.72l.13-1.21l.13-10.62l.13-.94l.14-2.16l.13 10.84l.13 4.16l.13-14.33l.14-19.59l.13 25.8l.13-8.64l.13 10.56l.14-.17l.13-1.63l.13 6.41l.13 6.86l.14 .96l.13 3.99l.13-11.77l.13-71.5l.14 4.01l.13-1.15l.13 6.48l.13-1.66l.13-2.96l.14-.22l.13 6.31l.13-3.26l.13 6.92l.14 4.01l.13-4.94l.13-.41l.13 5.87l.14-3.28l.13 8.57l.13 .05l.13-.26l.14-.15l.13 .35l.13 .73l.13-.51l.14 5.39l.13 42.72l.13-11.94l.13 4.91l.13 16.91l.14-10.15l.13 2.46l.13-32.57l.13 18.77l.14 3.56l.13-9.1l.13 3.75l.13 7.12l.14 4.74l.13 .69l.13 12.07l.13-6.76l.14 9.5l.13 7.01l.13 1.19l.13-10.25l.14-2.5l.13-31.13l.13 25.01l.13 11.51l.14-8.14l.13 7.71l.13 4.5l.13-3.42l.13-10.78l.14-2.02l.13-10.29l.13-1.02l.13-6.44l.14-2l.13 14l.13 23.09l.13-3.45l.14-3.37l.13 5.62l.13 1.18l.13-1.11l.14-3.33l.13-17.54l.13 7.48l.13-3.41l.14-33.03l.13 25.71l.13-7.49l.13-1.8l.14 7.18l.13-2.66l.13 11.76l.13-15.42l.13-23.58l.14 23.37l.13 1.18l.13 3.3l.13-12.9l.14 34.95l.13-1.75l.13-.31l.13-16.1l.14 2.45l.13-5.17l.13-7.82l.13 4.37l.14 3.66l.13-6.42l.13 4.36l.13-.89l.14 3.2l.13 6.66l.13-.62l.13-5.32l.14 9.47l.13-19.73l.13 29.5l.13 3.53l.13-13.82l.14-3.61l.13-6.34l.13-17.74l.13 39.64l.14-28.82l.13 10.23l.13 2.26l.13 6.45l.14-4.48l.13 6.62l.13-7.36l.13-2.08l.14-19.9l.13 9.75l.13 14.01l.13-16.02l.14 3.72l.13-10.79l.13 7.97l.13 3.61l.13 .76l.14 5.71l.13 8.57l.13 5.31l.13-6.48l.14-5.55l.13 3l.13 4.51l.13-4.23l.14 2.7l.13-17.99l.13 7.5l.13-40.48l.14 31.69l.13 8.01l.13-4.85l.13-14.34l.14 19.85l.13-3.06l.13 .68l.13 13.1l.14-34.4l.13 15.22l.13 6.65l.13-6.24l.13 5.31l.14 4.38l.13 7.64l.13-54.79l.13 52.61l.14-5.62l.13 9.75l.13 1.26l.13-12.23l.14-8.5l.13 5.09l.13-13.2l.13 24.38l.14-77.66l.13 5.81l.13-5.1l.13 5.91l.14-1.78l.13 2.32l.13 1.56l.13-1l.14 4.66l.13-1.99l.13-.54l.13 2.11l.13 2.41l.14 1.47l.13-.15l.13-2.78l.13 2.54l.14 3.86l.13-4.77l.13 6.12l.13-3.02l.14 3.65l.13 4.79l.13-2.9l.13 2.05l.14-.3l.13 .69l.13 1.84l.13-1.19l.14 1.61l.13 3.66l.13 37.75l.13 1.72l.13-8l.14 16.52l.13-6.99l.13 2.18l.13 15.25l.14-25.08l.13-43.53l.13 44.12l.13 9.45l.14-3.18l.13-8.15l.13 3.15l.13 1.57l.14-3.25l.13-5.28l.13 9.82l.13 .11l.14 6.03l.13 2.59l.13-8.31l.13 17.28l.14-16.73l.13 17.2l.13 3.93l.13-2.56l.13 4.4l.14-33.28l.13 3.22l.13 4.56l.13-3.13l.14-1.03l.13 3.14l.13 18.35l.13 2.48l.14 5.56l.13 3.55l.13-12.27l.13-7.3l.14-6.88l.13 6.11l.13-9.82l.13-4.27l.14 5.12l.13 12.22l.13 15.64l.13-1.95l.14-27.08l.13 11.87l.13 .33l.13 2.66l.13-2.25l.14-2.29l.13 20.45l.13-1.41l.13-2.88l.14-15.02l.13 8.95l.13-1.68l.13 3.81l.14-3.39l.13-20.3l.13-13.24l.13 12.61l.14 22.69l.13-.33l.13-11.77l.13 13.99l.14-9.31l.13-12.99l.13 17.48l.13-7.31l.14 9.79l.13 3.99l.13-6.12l.13-2.32l.13-11.64l.14-6.39l.13 5.49l.13-.56l.13 10.93l.14-9.66l.13 19.12l.13 .63l.13-18.68l.14 11.25l.13 4.44l.13-30.51l.13-3.24l.14 17.29l.13 7.73l.13-3.49l.13 1.22l.14 4.97l.13-1.92l.13-6.44l.13 13.43l.13-4.9l.14-4.74l.13-24.98l.13 39.38l.13-4.95l.14 8.24l.13 3.33l.13-8.32l.13 8.69l.14-1.27l.13 .93l.13-1.31l.13-49.15l.14 25.56l.13 4.67l.13 13.86l.13-14.01l.14-11.93l.13 13.61l.13 12.89l.13 3.05l.14-6.79l.13-5.83l.13 11.55l.13 .77l.13-7.15l.14 .29l.13-5.22l.13-5.34l.13 19.66l.14-42.3l.13-58.49l.13 3.85l.13 3.72l.14 .11l.13 2.27l.13 1.91l.13-.32l.14-.93l.13 1.72l.13 6.11l.13-2.13l.14-1.37l.13-.01l.13 5.63l.13-1.08l.14 2.3l.13 4.57l.13-2.87l.13 4.12l.13 2.67l.14-6.47l.13 39.32l.13 20.93l.13 4.93l.14 8.84l.13 2.35l.13-4.7l.13 2.8l.14-39.53l.13 24.03l.13 4.31l.13-19.99l.14 2.58l.13 7.37l.13 18.65l.13-5.75l.14-3.86l.13-19.83l.13-1.71l.13 14.87l.13 6.31l.14-1.26l.13-22.24l.13 30.32l.13-27.64l.14 10.72l.13 6.14l.13-5.17l.13-2.54l.14-6.13l.13 1.37l.13 11.27l.13-.91l.14-9.35l.13 1.09l.13 6.43l.13-18.04l.14 4.16l.13 8.14l.13-.75l.13-7.61l.14 20.4l.13-24.17l.13 20.83l.13 16.49l.13-4.9l.14 8.62l.13-40.37l.13 42.82l.13-2.97l.14 .43l.13-45.54l.13 30.66l.13-17.85l.14-4.6l.13 .2l.13 3.09l.13 14.45l.14-3.39l.13 7.26l.13-12.75l.13 17.43l.14-50.89l.13 62.63l.13-6.32l.13-18.6l.14-5.43l.13 8.01l.13-35.33l.13 20.17l.13-2.53l.14 12.64l.13 1.24l.13-6.6l.13 11.75l.14-34.15l.13 25.6l.13 2.99l.13 13.95l.14-.03l.13-28.09l.13 39.72l.13-17.29l.14-5.44l.13-.77l.13-10.22l.13 10.24l.14-1.37l.13-1.6l.13-1.76l.13-2.63l.14 16.18l.13-2.18l.13 16.23l.13 5.2l.13-9.56l.14-48.74l.13 51.85l.13-36.53l.13 20.65l.14 3.88l.13-6.15l.13-6.5l.13-7.22l.14 7.16l.13-9.5l.13 9.9l.13 4.14l.14-9.23l.13 1.58l.13-3.24l.13 8.9l.14-27.76l.13 3.71l.13 9.06l.13 2.83l.13 2.76l.14-40.53l.13 69.93l.13 1.95l.13 2.14l.14 .94l.13-5.33l.13-1.68l.13-48.11l.14 30.78l.13 14.33l.13-3.62l.13 16.44l.14 1.02l.13-5.09l.13-17.5l.13-.81l.14-7.2l.13-11.14l.13 4.97l.13 7.09l.14-2.19l.13-1.69l.13 16" stroke="#2a2aff" stroke-width="0.7" fill="none"/>
<path d="M355.6 201.27h5.8m-2.9-2.9v5.8M355.73 194.98h5.8m-2.9-2.9v5.8M355.86 186.04h5.8m-2.9-2.9v5.8M356 180.11h5.8m-2.9-2.9v5.8M356.13 180.5h5.8m-2.9-2.9v5.8M356.26 167.66h5.8m-2.9-2.9v5.8M356.39 180.01h5.8m-2.9-2.9v5.8M356.53 181.68h5.8m-2.9-2.9v5.8M356.66 193.03h5.8m-2.9-2.9v5.8M356.79 193.99h5.8m-2.9-2.9v5.8M356.92 151.24h5.8m-2.9-2.9v5.8M357.06 187.99h5.8m-2.9-2.9v5.8M357.19 169.5h5.8m-2.9-2.9v5.8M357.32 176.02h5.8m-2.9-2.9v5.8M357.45 161.89h5.8m-2.9-2.9v5.8M357.59 167.18h5.8m-2.9-2.9v5.8M357.72 188.93h5.8m-2.9-2.9v5.8M357.85 144.12h5.8m-2.9-2.9v5.8M357.98 180.36h5.8m-2.9-2.9v5.8M358.12 174.74h5.8m-2.9-2.9v5.8M358.25 159.19h5.8m-2.9-2.9v5.8M358.38 157.81h5.8m-2.9-2.9v5.8M358.51 156.89h5.8m-2.9-2.9v5.8M358.65 146.76h5.8m-2.9-2.9v5.8M358.78 145.64h5.8m-2.9-2.9v5.8M358.91 147.01h5.8m-2.9-2.9v5.8M359.04 150.32h5.8m-2.9-2.9v5.8M359.17 177.16h5.8m-2.9-2.9v5.8M359.31 155.53h5.8m-2.9-2.9v5.8M359.44 160.94h5.8m-2.9-2.9v5.8M359.57 166.62h5.8m-2.9-2.9v5.8M359.7 172.96h5.8m-2.9-2.9v5.8M359.84 177.61h5.8m-2.9-2.9v5.8M359.97 154.72h5.8m-2.9-2.9v5.8M360.1 131.24h5.8m-2.9-2.9v5.8M360.23 142.03h5.8m-2.9-2.9v5.8M360.37 145.41h5.8m-2.9-2.9v5.8M360.5 140.24h5.8m-2.9-2.9v5.8M360.63 128.57h5.8m-2.9-2.9v5.8M360.76 130.56h5.8m-2.9-2.9v5.8M360.9 168.29h5.8m-2.9-2.9v5.8M361.03 168.7h5.8m-2.9-2.9v5.8M361.16 158.4h5.8m-2.9-2.9v5.8M361.29 147.38h5.8m-2.9-2.9v5.8M361.43 129.43h5.8m-2.9-2.9v5.8M361.56 124.25h5.8m-2.9-2.9v5.8M361.69 134.9h5.8m-2.9-2.9v5.8M361.82 114.28h5.8m-2.9-2.9v5.8M361.95 120.64h5.8m-2.9-2.9v5.8M362.09 118.76h5.8m-2.9-2.9v5.8M362.22 128.58h5.8m-2.9-2.9v5.8M362.35 116.94h5.8m-2.9-2.9v5.8M362.48 136.85h5.8m-2.9-2.9v5.8M362.62 124.89h5.8m-2.9-2.9v5.8M362.75 124.12h5.8m-2.9-2.9v5.8M362.88 123.73h5.8m-2.9-2.9v5.8M363.01 133.33h5.8m-2.9-2.9v5.8M363.15 161.03h5.8m-2.9-2.9v5.8M363.28 152.5h5.8m-2.9-2.9v5.8M363.41 159.14h5.8m-2.9-2.9v5.8M363.54 162.78h5.8m-2.9-2.9v5.8M363.68 158.51h5.8m-2.9-2.9v5.8M363.81 145.62h5.8m-2.9-2.9v5.8M363.94 162.05h5.8m-2.9-2.9v5.8M364.07 150.8h5.8m-2.9-2.9v5.8M364.21 159.77h5.8m-2.9-2.9v5.8M364.34 72.21h5.8m-2.9-2.9v5.8M364.47 149.35h5.8m-2.9-2.9v5.8M364.6 144.35h5.8m-2.9-2.9v5.8M364.74 127.78h5.8m-2.9-2.9v5.8M364.87 101.6h5.8m-2.9-2.9v5.8M365 114.59h5.8m-2.9-2.9v5.8M365.13 124.39h5.8m-2.9-2.9v5.8M365.26 139.11h5.8m-2.9-2.9v5.8M365.4 138.94h5.8m-2.9-2.9v5.8M365.53 126.64h5.8m-2.9-2.9v5.8M365.66 127.52h5.8m-2.9-2.9v5.8M365.79 129.6h5.8m-2.9-2.9v5.8M365.93 125.62h5.8m-2.9-2.9v5.8M366.06 97.49h5.8m-2.9-2.9v5.8M366.19 95.65h5.8m-2.9-2.9v5.8M366.32 148.91h5.8m-2.9-2.9v5.8M366.46 145.56h5.8m-2.9-2.9v5.8M366.59 149.43h5.8m-2.9-2.9v5.8M366.72 138.68h5.8m-2.9-2.9v5.8M366.85 98.75h5.8m-2.9-2.9v5.8M366.99 147.55h5.8m-2.9-2.9v5.8M367.12 134.29h5.8m-2.9-2.9v5.8M367.25 133.08h5.8m-2.9-2.9v5.8M367.38 139.73h5.8m-2.9-2.9v5.8M367.52 144.64h5.8m-2.9-2.9v5.8M367.65 134.63h5.8m-2.9-2.9v5.8M367.78 147.59h5.8m-2.9-2.9v5.8M367.91 142.7h5.8m-2.9-2.9v5.8M368.05 133.13h5.8m-2.9-2.9v5.8M368.18 137.43h5.8m-2.9-2.9v5.8M368.31 127.04h5.8m-2.9-2.9v5.8M368.44 139.88h5.8m-2.9-2.9v5.8M368.57 144.55h5.8m-2.9-2.9v5.8M368.71 136.74h5.8m-2.9-2.9v5.8M368.84 123.03h5.8m-2.9-2.9v5.8M368.97 129.04h5.8m-2.9-2.9v5.8M369.1 99.54h5.8m-2.9-2.9v5.8M369.24 80.33h5.8m-2.9-2.9v5.8M369.37 103.42h5.8m-2.9-2.9v5.8M369.5 106.57h5.8m-2.9-2.9v5.8M369.63 108.79h5.8m-2.9-2.9v5.8M369.77 122.7h5.8m-2.9-2.9v5.8M369.9 104.05h5.8m-2.9-2.9v5.8M370.03 115.01h5.8m-2.9-2.9v5.8M370.16 120.79h5.8m-2.9-2.9v5.8M370.3 99.28h5.8m-2.9-2.9v5.8M370.43 119.33h5.8m-2.9-2.9v5.8M370.56 126.13h5.8m-2.9-2.9v5.8M370.69 70.9h5.8m-2.9-2.9v5.8M370.83 133.34h5.8m-2.9-2.9v5.8M370.96 86.72h5.8m-2.9-2.9v5.8M371.09 93.15h5.8m-2.9-2.9v5.8M371.22 134.83h5.8m-2.9-2.9v5.8M371.36 140.14h5.8m-2.9-2.9v5.8M371.49 83.59h5.8m-2.9-2.9v5.8M371.62 140.87h5.8m-2.9-2.9v5.8M371.75 145.51h5.8m-2.9-2.9v5.8M371.88 139.16h5.8m-2.9-2.9v5.8M372.02 145.95h5.8m-2.9-2.9v5.8M372.15 131.49h5.8m-2.9-2.9v5.8M372.28 135.27h5.8m-2.9-2.9v5.8M372.41 139.12h5.8m-2.9-2.9v5.8M372.55 133.08h5.8m-2.9-2.9v5.8M372.68 132.74h5.8m-2.9-2.9v5.8M372.81 127.12h5.8m-2.9-2.9v5.8M372.94 141.76h5.8m-2.9-2.9v5.8M373.08 145.15h5.8m-2.9-2.9v5.8M373.21 134.63h5.8m-2.9-2.9v5.8M373.34 124.41h5.8m-2.9-2.9v5.8M373.47 136.85h5.8m-2.9-2.9v5.8M373.61 123.39h5.8m-2.9-2.9v5.8M373.74 144.37h5.8m-2.9-2.9v5.8M373.87 138.59h5.8m-2.9-2.9v5.8M374 138.53h5.8m-2.9-2.9v5.8M374.14 138.4h5.8m-2.9-2.9v5.8M374.27 134.42h5.8m-2.9-2.9v5.8M374.4 144.51h5.8m-2.9-2.9v5.8M374.53 140.75h5.8m-2.9-2.9v5.8M374.66 131.59h5.8m-2.9-2.9v5.8M374.8 127.81h5.8m-2.9-2.9v5.8M374.93 127.18h5.8m-2.9-2.9v5.8M375.06 131.33h5.8m-2.9-2.9v5.8M375.19 102.53h5.8m-2.9-2.9v5.8M375.33 139.75h5.8m-2.9-2.9v5.8M375.46 89.15h5.8m-2.9-2.9v5.8M375.59 121.55h5.8m-2.9-2.9v5.8M375.72 113.21h5.8m-2.9-2.9v5.8M375.86 103.12h5.8m-2.9-2.9v5.8M375.99 103.15h5.8m-2.9-2.9v5.8M376.12 103.99h5.8m-2.9-2.9v5.8M376.25 121.45h5.8m-2.9-2.9v5.8M376.39 113.48h5.8m-2.9-2.9v5.8M376.52 106.8h5.8m-2.9-2.9v5.8M376.65 95.88h5.8m-2.9-2.9v5.8M376.78 115.67h5.8m-2.9-2.9v5.8M376.92 122.05h5.8m-2.9-2.9v5.8M377.05 117.96h5.8m-2.9-2.9v5.8M377.18 116.03h5.8m-2.9-2.9v5.8M377.31 124.73h5.8m-2.9-2.9v5.8M377.45 124.4h5.8m-2.9-2.9v5.8M377.58 130.66h5.8m-2.9-2.9v5.8M377.71 125.68h5.8m-2.9-2.9v5.8M377.84 129.7h5.8m-2.9-2.9v5.8M377.97 129.09h5.8m-2.9-2.9v5.8M378.11 130.18h5.8m-2.9-2.9v5.8M378.24 135.11h5.8m-2.9-2.9v5.8M378.37 133.98h5.8m-2.9-2.9v5.8M378.5 137.68h5.8m-2.9-2.9v5.8M378.64 137.85h5.8m-2.9-2.9v5.8M378.77 140.01h5.8m-2.9-2.9v5.8M378.9 145.73h5.8m-2.9-2.9v5.8M379.03 145.89h5.8m-2.9-2.9v5.8M379.17 138.69h5.8m-2.9-2.9v5.8M379.3 142.04h5.8m-2.9-2.9v5.8M379.43 144.76h5.8m-2.9-2.9v5.8M379.56 77.89h5.8m-2.9-2.9v5.8M379.7 134.18h5.8m-2.9-2.9v5.8M379.83 128.69h5.8m-2.9-2.9v5.8M379.96 116.75h5.8m-2.9-2.9v5.8M380.09 109.24h5.8m-2.9-2.9v5.8M380.23 104.3h5.8m-2.9-2.9v5.8M380.36 106.8h5.8m-2.9-2.9v5.8M380.49 104.82h5.8m-2.9-2.9v5.8M380.62 126.85h5.8m-2.9-2.9v5.8M380.76 132.17h5.8m-2.9-2.9v5.8M380.89 143.23h5.8m-2.9-2.9v5.8M381.02 141.33h5.8m-2.9-2.9v5.8M381.15 137.11h5.8m-2.9-2.9v5.8M381.28 135.09h5.8m-2.9-2.9v5.8M381.42 146.9h5.8m-2.9-2.9v5.8M381.55 144.33h5.8m-2.9-2.9v5.8M381.68 102.76h5.8m-2.9-2.9v5.8M381.81 116.86h5.8m-2.9-2.9v5.8M381.95 107.38h5.8m-2.9-2.9v5.8M382.08 125.26h5.8m-2.9-2.9v5.8M382.21 106.28h5.8m-2.9-2.9v5.8M382.34 112.98h5.8m-2.9-2.9v5.8M382.48 114.21h5.8m-2.9-2.9v5.8M382.61 127.39h5.8m-2.9-2.9v5.8M382.74 125.54h5.8m-2.9-2.9v5.8M382.87 103.38h5.8m-2.9-2.9v5.8M383.01 118.17h5.8m-2.9-2.9v5.8M383.14 104.97h5.8m-2.9-2.9v5.8M383.27 105.61h5.8m-2.9-2.9v5.8M383.4 112.9h5.8m-2.9-2.9v5.8M383.54 104.49h5.8m-2.9-2.9v5.8M383.67 108.16h5.8m-2.9-2.9v5.8M383.8 90.15h5.8m-2.9-2.9v5.8M383.93 139.23h5.8m-2.9-2.9v5.8M384.06 100.07h5.8m-2.9-2.9v5.8M384.2 143.98h5.8m-2.9-2.9v5.8M384.33 128.8h5.8m-2.9-2.9v5.8M384.46 143.84h5.8m-2.9-2.9v5.8M384.59 134.96h5.8m-2.9-2.9v5.8M384.73 136.01h5.8m-2.9-2.9v5.8M384.86 93.6h5.8m-2.9-2.9v5.8M384.99 138.2h5.8m-2.9-2.9v5.8M385.12 125.46h5.8m-2.9-2.9v5.8M385.26 115.4h5.8m-2.9-2.9v5.8M385.39 114.32h5.8m-2.9-2.9v5.8M385.52 118.08h5.8m-2.9-2.9v5.8M385.65 124.07h5.8m-2.9-2.9v5.8M385.79 129.56h5.8m-2.9-2.9v5.8M385.92 135.64h5.8m-2.9-2.9v5.8M386.05 115.59h5.8m-2.9-2.9v5.8M386.18 128.69h5.8m-2.9-2.9v5.8M386.32 132.79h5.8m-2.9-2.9v5.8M386.45 130.72h5.8m-2.9-2.9v5.8M386.58 141.79h5.8m-2.9-2.9v5.8M386.71 131.55h5.8m-2.9-2.9v5.8M386.85 133.47h5.8m-2.9-2.9v5.8M386.98 128.57h5.8m-2.9-2.9v5.8M387.11 99.84h5.8m-2.9-2.9v5.8M387.24 139.01h5.8m-2.9-2.9v5.8M387.37 140.91h5.8m-2.9-2.9v5.8M387.51 134.2h5.8m-2.9-2.9v5.8M387.64 132.67h5.8m-2.9-2.9v5.8M387.77 145.04h5.8m-2.9-2.9v5.8M387.9 134.64h5.8m-2.9-2.9v5.8M388.04 130.3h5.8m-2.9-2.9v5.8M388.17 78.58h5.8m-2.9-2.9v5.8M388.3 119.56h5.8m-2.9-2.9v5.8M388.43 108.08h5.8m-2.9-2.9v5.8M388.57 108.03h5.8m-2.9-2.9v5.8M388.7 108.61h5.8m-2.9-2.9v5.8M388.83 106.4h5.8m-2.9-2.9v5.8M388.96 114.48h5.8m-2.9-2.9v5.8M389.1 111.11h5.8m-2.9-2.9v5.8M389.23 106.82h5.8m-2.9-2.9v5.8M389.36 109.33h5.8m-2.9-2.9v5.8M389.49 118.37h5.8m-2.9-2.9v5.8M389.63 122.37h5.8m-2.9-2.9v5.8M389.76 120.75h5.8m-2.9-2.9v5.8M389.89 127.24h5.8m-2.9-2.9v5.8M390.02 132.82h5.8m-2.9-2.9v5.8M390.16 127.26h5.8m-2.9-2.9v5.8M390.29 104.64h5.8m-2.9-2.9v5.8M390.42 99.84h5.8m-2.9-2.9v5.8M390.55 135.13h5.8m-2.9-2.9v5.8M390.68 138.77h5.8m-2.9-2.9v5.8M390.82 118.23h5.8m-2.9-2.9v5.8M390.95 104.3h5.8m-2.9-2.9v5.8M391.08 115.14h5.8m-2.9-2.9v5.8M391.21 112.03h5.8m-2.9-2.9v5.8M391.35 107.44h5.8m-2.9-2.9v5.8M391.48 125.82h5.8m-2.9-2.9v5.8M391.61 119.17h5.8m-2.9-2.9v5.8M391.74 104.62h5.8m-2.9-2.9v5.8M391.88 117.02h5.8m-2.9-2.9v5.8M392.01 110.77h5.8m-2.9-2.9v5.8M392.14 127.31h5.8m-2.9-2.9v5.8M392.27 118.71h5.8m-2.9-2.9v5.8M392.41 122.32h5.8m-2.9-2.9v5.8M392.54 136.65h5.8m-2.9-2.9v5.8M392.67 134.99h5.8m-2.9-2.9v5.8M392.8 123.89h5.8m-2.9-2.9v5.8M392.94 98.9h5.8m-2.9-2.9v5.8M393.07 140.2h5.8m-2.9-2.9v5.8M393.2 102.17h5.8m-2.9-2.9v5.8M393.33 122.85h5.8m-2.9-2.9v5.8M393.47 141.63h5.8m-2.9-2.9v5.8M393.6 139.14h5.8m-2.9-2.9v5.8M393.73 134.42h5.8m-2.9-2.9v5.8M393.86 135.8h5.8m-2.9-2.9v5.8M393.99 135.43h5.8m-2.9-2.9v5.8M394.13 138.25h5.8m-2.9-2.9v5.8M394.26 127.97h5.8m-2.9-2.9v5.8M394.39 126.18h5.8m-2.9-2.9v5.8M394.52 138.98h5.8m-2.9-2.9v5.8M394.66 2h5.8m-2.9-2.9v5.8M394.79 123.02h5.8m-2.9-2.9v5.8M394.92 125.58h5.8m-2.9-2.9v5.8M395.05 115.74h5.8m-2.9-2.9v5.8M395.19 127.07h5.8m-2.9-2.9v5.8M395.32 119.29h5.8m-2.9-2.9v5.8M395.45 135.91h5.8m-2.9-2.9v5.8M395.58 125.07h5.8m-2.9-2.9v5.8M395.72 105.66h5.8m-2.9-2.9v5.8M395.85 106.58h5.8m-2.9-2.9v5.8M395.98 67.44h5.8m-2.9-2.9v5.8M396.11 112.22h5.8m-2.9-2.9v5.8M396.25 115.5h5.8m-2.9-2.9v5.8M396.38 134.57h5.8m-2.9-2.9v5.8M396.51 95.68h5.8m-2.9-2.9v5.8M396.64 141.79h5.8m-2.9-2.9v5.8M396.77 82.31h5.8m-2.9-2.9v5.8M396.91 111.44h5.8m-2.9-2.9v5.8M397.04 117.68h5.8m-2.9-2.9v5.8M397.17 117.11h5.8m-2.9-2.9v5.8M397.3 129.14h5.8m-2.9-2.9v5.8M397.44 138.35h5.8m-2.9-2.9v5.8M397.57 137.73h5.8m-2.9-2.9v5.8M397.7 120.42h5.8m-2.9-2.9v5.8M397.83 131.09h5.8m-2.9-2.9v5.8M397.97 90.9h5.8m-2.9-2.9v5.8M398.1 100.14h5.8m-2.9-2.9v5.8M398.23 101.68h5.8m-2.9-2.9v5.8M398.36 96.7h5.8m-2.9-2.9v5.8M398.5 95.37h5.8m-2.9-2.9v5.8M398.63 98.33h5.8m-2.9-2.9v5.8M398.76 102.5h5.8m-2.9-2.9v5.8M398.89 95.3h5.8m-2.9-2.9v5.8M399.03 102.01h5.8m-2.9-2.9v5.8M399.16 101.13h5.8m-2.9-2.9v5.8M399.29 106.72h5.8m-2.9-2.9v5.8M399.42 105.89h5.8m-2.9-2.9v5.8M399.56 111.33h5.8m-2.9-2.9v5.8M399.69 110.91h5.8m-2.9-2.9v5.8M399.82 114.96h5.8m-2.9-2.9v5.8M399.95 112.04h5.8m-2.9-2.9v5.8M400.08 115.19h5.8m-2.9-2.9v5.8M400.22 117.6h5.8m-2.9-2.9v5.8M400.35 114.17h5.8m-2.9-2.9v5.8M400.48 118.02h5.8m-2.9-2.9v5.8M400.61 119.24h5.8m-2.9-2.9v5.8M400.75 91.64h5.8m-2.9-2.9v5.8M400.88 128.94h5.8m-2.9-2.9v5.8M401.01 103.46h5.8m-2.9-2.9v5.8M401.14 103.28h5.8m-2.9-2.9v5.8M401.28 105.22h5.8m-2.9-2.9v5.8M401.41 119.96h5.8m-2.9-2.9v5.8M401.54 124.41h5.8m-2.9-2.9v5.8M401.67 127.66h5.8m-2.9-2.9v5.8M401.81 138.43h5.8m-2.9-2.9v5.8M401.94 151.82h5.8m-2.9-2.9v5.8M402.07 136.37h5.8m-2.9-2.9v5.8M402.2 133.77h5.8m-2.9-2.9v5.8M402.34 131.53h5.8m-2.9-2.9v5.8M402.47 127.11h5.8m-2.9-2.9v5.8M402.6 128.77h5.8m-2.9-2.9v5.8M402.73 111h5.8m-2.9-2.9v5.8M402.87 113.38h5.8m-2.9-2.9v5.8M403 122.42h5.8m-2.9-2.9v5.8M403.13 134.34h5.8m-2.9-2.9v5.8M403.26 103.19h5.8m-2.9-2.9v5.8M403.39 106.82h5.8m-2.9-2.9v5.8M403.53 146.76h5.8m-2.9-2.9v5.8M403.66 144.8h5.8m-2.9-2.9v5.8M403.79 135.48h5.8m-2.9-2.9v5.8M403.92 127.37h5.8m-2.9-2.9v5.8M404.06 104.94h5.8m-2.9-2.9v5.8M404.19 110h5.8m-2.9-2.9v5.8M404.32 121.69h5.8m-2.9-2.9v5.8M404.45 104.91h5.8m-2.9-2.9v5.8M404.59 109.13h5.8m-2.9-2.9v5.8M404.72 121.68h5.8m-2.9-2.9v5.8M404.85 118.95h5.8m-2.9-2.9v5.8M404.98 111.71h5.8m-2.9-2.9v5.8M405.12 117.6h5.8m-2.9-2.9v5.8M405.25 106.14h5.8m-2.9-2.9v5.8M405.38 94.15h5.8m-2.9-2.9v5.8M405.51 148.25h5.8m-2.9-2.9v5.8M405.65 130.54h5.8m-2.9-2.9v5.8M405.78 126.87h5.8m-2.9-2.9v5.8M405.91 150.1h5.8m-2.9-2.9v5.8M406.04 138.18h5.8m-2.9-2.9v5.8M406.17 131.5h5.8m-2.9-2.9v5.8M406.31 130.4h5.8m-2.9-2.9v5.8M406.44 122.72h5.8m-2.9-2.9v5.8M406.57 111.32h5.8m-2.9-2.9v5.8M406.7 115.42h5.8m-2.9-2.9v5.8M406.84 131.59h5.8m-2.9-2.9v5.8M406.97 137.44h5.8m-2.9-2.9v5.8M407.1 147.99h5.8m-2.9-2.9v5.8M407.23 139.68h5.8m-2.9-2.9v5.8M407.37 143.97h5.8m-2.9-2.9v5.8M407.5 142.41h5.8m-2.9-2.9v5.8M407.63 145.78h5.8m-2.9-2.9v5.8M407.76 149.3h5.8m-2.9-2.9v5.8M407.9 148.97h5.8m-2.9-2.9v5.8M408.03 144.53h5.8m-2.9-2.9v5.8M408.16 141.86h5.8m-2.9-2.9v5.8M408.29 140.39h5.8m-2.9-2.9v5.8M408.43 121.13h5.8m-2.9-2.9v5.8M408.56 106.76h5.8m-2.9-2.9v5.8M408.69 131h5.8m-2.9-2.9v5.8M408.82 101.17h5.8m-2.9-2.9v5.8M408.96 140.18h5.8m-2.9-2.9v5.8M409.09 136.91h5.8m-2.9-2.9v5.8M409.22 139.67h5.8m-2.9-2.9v5.8M409.35 138.44h5.8m-2.9-2.9v5.8M409.48 137.08h5.8m-2.9-2.9v5.8M409.62 144.95h5.8m-2.9-2.9v5.8M409.75 148.29h5.8m-2.9-2.9v5.8M409.88 69.83h5.8m-2.9-2.9v5.8M410.01 122.21h5.8m-2.9-2.9v5.8M410.15 126.83h5.8m-2.9-2.9v5.8M410.28 128.33h5.8m-2.9-2.9v5.8M410.41 110.61h5.8m-2.9-2.9v5.8M410.54 110.02h5.8m-2.9-2.9v5.8M410.68 104.39h5.8m-2.9-2.9v5.8M410.81 117.72h5.8m-2.9-2.9v5.8M410.94 121.58h5.8m-2.9-2.9v5.8M411.07 83.38h5.8m-2.9-2.9v5.8M411.21 136.36h5.8m-2.9-2.9v5.8M411.34 143.59h5.8m-2.9-2.9v5.8M411.47 147.97h5.8m-2.9-2.9v5.8M411.6 137.37h5.8m-2.9-2.9v5.8M411.74 133.26h5.8m-2.9-2.9v5.8M411.87 94.43h5.8m-2.9-2.9v5.8M412 131.37h5.8m-2.9-2.9v5.8M412.13 139.34h5.8m-2.9-2.9v5.8M412.27 131.53h5.8m-2.9-2.9v5.8M412.4 121.58h5.8m-2.9-2.9v5.8M412.53 118.94h5.8m-2.9-2.9v5.8M412.66 134.84h5.8m-2.9-2.9v5.8M412.79 127.75h5.8m-2.9-2.9v5.8M412.93 108.7h5.8m-2.9-2.9v5.8M413.06 111.15h5.8m-2.9-2.9v5.8M413.19 112.63h5.8m-2.9-2.9v5.8M413.32 135.48h5.8m-2.9-2.9v5.8M413.46 132.31h5.8m-2.9-2.9v5.8M413.59 134.16h5.8m-2.9-2.9v5.8M413.72 130.55h5.8m-2.9-2.9v5.8M413.85 145.69h5.8m-2.9-2.9v5.8M413.99 130.01h5.8m-2.9-2.9v5.8M414.12 114.03h5.8m-2.9-2.9v5.8M414.25 105.51h5.8m-2.9-2.9v5.8M414.38 114.12h5.8m-2.9-2.9v5.8M414.52 107.91h5.8m-2.9-2.9v5.8M414.65 126.44h5.8m-2.9-2.9v5.8M414.78 125.36h5.8m-2.9-2.9v5.8M414.91 146.31h5.8m-2.9-2.9v5.8M415.05 101.23h5.8m-2.9-2.9v5.8M415.18 135.17h5.8m-2.9-2.9v5.8M415.31 128.87h5.8m-2.9-2.9v5.8M415.44 124.49h5.8m-2.9-2.9v5.8M415.58 109.78h5.8m-2.9-2.9v5.8M415.71 116.72h5.8m-2.9-2.9v5.8M415.84 120.06h5.8m-2.9-2.9v5.8M415.97 126.3h5.8m-2.9-2.9v5.8M416.1 138.28h5.8m-2.9-2.9v5.8M416.24 147.06h5.8m-2.9-2.9v5.8M416.37 147.46h5.8m-2.9-2.9v5.8M416.5 135.32h5.8m-2.9-2.9v5.8M416.63 134.18h5.8m-2.9-2.9v5.8M416.77 119.73h5.8m-2.9-2.9v5.8M416.9 123.17h5.8m-2.9-2.9v5.8M417.03 86.26h5.8m-2.9-2.9v5.8M417.16 133.78h5.8m-2.9-2.9v5.8M417.3 147.98h5.8m-2.9-2.9v5.8M417.43 100.98h5.8m-2.9-2.9v5.8M417.56 141.75h5.8m-2.9-2.9v5.8M417.69 147.33h5.8m-2.9-2.9v5.8M417.83 141.57h5.8m-2.9-2.9v5.8M417.96 139.03h5.8m-2.9-2.9v5.8M418.09 143.11h5.8m-2.9-2.9v5.8M418.22 102.53h5.8m-2.9-2.9v5.8M418.36 144.75h5.8m-2.9-2.9v5.8M418.49 144.89h5.8m-2.9-2.9v5.8M418.62 141.31h5.8m-2.9-2.9v5.8M418.75 95.6h5.8m-2.9-2.9v5.8M418.88 130.51h5.8m-2.9-2.9v5.8M419.02 109.65h5.8m-2.9-2.9v5.8M419.15 76.48h5.8m-2.9-2.9v5.8M419.28 82.83h5.8m-2.9-2.9v5.8M419.41 84.26h5.8m-2.9-2.9v5.8M419.55 83.14h5.8m-2.9-2.9v5.8M419.68 84.85h5.8m-2.9-2.9v5.8M419.81 86.7h5.8m-2.9-2.9v5.8M419.94 86.92h5.8m-2.9-2.9v5.8M420.08 85.6h5.8m-2.9-2.9v5.8M420.21 88.21h5.8m-2.9-2.9v5.8M420.34 90.48h5.8m-2.9-2.9v5.8M420.47 93.33h5.8m-2.9-2.9v5.8M420.61 90.65h5.8m-2.9-2.9v5.8M420.74 90h5.8m-2.9-2.9v5.8M420.87 94.63h5.8m-2.9-2.9v5.8M421 98.75h5.8m-2.9-2.9v5.8M421.14 90.25h5.8m-2.9-2.9v5.8M421.27 97.28h5.8m-2.9-2.9v5.8M421.4 93.4h5.8m-2.9-2.9v5.8M421.53 104.19h5.8m-2.9-2.9v5.8M421.67 105.16h5.8m-2.9-2.9v5.8M421.8 104.7h5.8m-2.9-2.9v5.8M421.93 104.96h5.8m-2.9-2.9v5.8M422.06 112.29h5.8m-2.9-2.9v5.8M422.19 145.81h5.8m-2.9-2.9v5.8M422.33 137.41h5.8m-2.9-2.9v5.8M422.46 139.92h5.8m-2.9-2.9v5.8M422.59 100.1h5.8m-2.9-2.9v5.8M422.72 100h5.8m-2.9-2.9v5.8M422.86 102.26h5.8m-2.9-2.9v5.8M422.99 86.97h5.8m-2.9-2.9v5.8M423.12 139.59h5.8m-2.9-2.9v5.8M423.25 147.26h5.8m-2.9-2.9v5.8M423.39 133.57h5.8m-2.9-2.9v5.8M423.52 147.18h5.8m-2.9-2.9v5.8M423.65 89.84h5.8m-2.9-2.9v5.8M423.78 121.32h5.8m-2.9-2.9v5.8M423.92 124.49h5.8m-2.9-2.9v5.8M424.05 116.05h5.8m-2.9-2.9v5.8M424.18 135.1h5.8m-2.9-2.9v5.8M424.31 119.9h5.8m-2.9-2.9v5.8M424.45 122.12h5.8m-2.9-2.9v5.8M424.58 133.79h5.8m-2.9-2.9v5.8M424.71 134.02h5.8m-2.9-2.9v5.8M424.84 118.02h5.8m-2.9-2.9v5.8M424.98 138.96h5.8m-2.9-2.9v5.8M425.11 124.12h5.8m-2.9-2.9v5.8M425.24 111.27h5.8m-2.9-2.9v5.8M425.37 104.98h5.8m-2.9-2.9v5.8M425.5 108.01h5.8m-2.9-2.9v5.8M425.64 114.77h5.8m-2.9-2.9v5.8M425.77 122.02h5.8m-2.9-2.9v5.8M425.9 118.23h5.8m-2.9-2.9v5.8M426.03 114.74h5.8m-2.9-2.9v5.8M426.17 115.98h5.8m-2.9-2.9v5.8M426.3 123.41h5.8m-2.9-2.9v5.8M426.43 124.32h5.8m-2.9-2.9v5.8M426.56 139.6h5.8m-2.9-2.9v5.8M426.7 144.84h5.8m-2.9-2.9v5.8M426.83 145.42h5.8m-2.9-2.9v5.8M426.96 93.91h5.8m-2.9-2.9v5.8M427.09 144.89h5.8m-2.9-2.9v5.8M427.23 150.31h5.8m-2.9-2.9v5.8M427.36 136.56h5.8m-2.9-2.9v5.8M427.49 102.36h5.8m-2.9-2.9v5.8M427.62 97.78h5.8m-2.9-2.9v5.8M427.76 146.82h5.8m-2.9-2.9v5.8M427.89 144.46h5.8m-2.9-2.9v5.8M428.02 148.76h5.8m-2.9-2.9v5.8M428.15 144.65h5.8m-2.9-2.9v5.8M428.28 147.26h5.8m-2.9-2.9v5.8M428.42 137.52h5.8m-2.9-2.9v5.8M428.55 139.76h5.8m-2.9-2.9v5.8M428.68 130.13h5.8m-2.9-2.9v5.8M428.81 144.22h5.8m-2.9-2.9v5.8M428.95 120.2h5.8m-2.9-2.9v5.8M429.08 105.89h5.8m-2.9-2.9v5.8M429.21 106.67h5.8m-2.9-2.9v5.8M429.34 121.36h5.8m-2.9-2.9v5.8M429.48 142.05h5.8m-2.9-2.9v5.8M429.61 140.65h5.8m-2.9-2.9v5.8M429.74 133.31h5.8m-2.9-2.9v5.8M429.87 121.64h5.8m-2.9-2.9v5.8M430.01 94.19h5.8m-2.9-2.9v5.8M430.14 127.35h5.8m-2.9-2.9v5.8M430.27 135.3h5.8m-2.9-2.9v5.8M430.4 137.32h5.8m-2.9-2.9v5.8M430.54 129.83h5.8m-2.9-2.9v5.8M430.67 142.26h5.8m-2.9-2.9v5.8M430.8 142.87h5.8m-2.9-2.9v5.8M430.93 141.51h5.8m-2.9-2.9v5.8M431.07 140.04h5.8m-2.9-2.9v5.8M431.2 136.29h5.8m-2.9-2.9v5.8M431.33 137.33h5.8m-2.9-2.9v5.8M431.46 131.27h5.8m-2.9-2.9v5.8M431.59 121.39h5.8m-2.9-2.9v5.8M431.73 104.28h5.8m-2.9-2.9v5.8M431.86 120.23h5.8m-2.9-2.9v5.8M431.99 115.93h5.8m-2.9-2.9v5.8M432.12 117.68h5.8m-2.9-2.9v5.8M432.26 107.07h5.8m-2.9-2.9v5.8M432.39 125.37h5.8m-2.9-2.9v5.8M432.52 136.57h5.8m-2.9-2.9v5.8M432.65 134.87h5.8m-2.9-2.9v5.8M432.79 136.65h5.8m-2.9-2.9v5.8M432.92 132.9h5.8m-2.9-2.9v5.8M433.05 139.67h5.8m-2.9-2.9v5.8M433.18 134.25h5.8m-2.9-2.9v5.8M433.32 126.24h5.8m-2.9-2.9v5.8M433.45 109.48h5.8m-2.9-2.9v5.8M433.58 129.08h5.8m-2.9-2.9v5.8M433.71 129.2h5.8m-2.9-2.9v5.8M433.85 134.78h5.8m-2.9-2.9v5.8M433.98 136.31h5.8m-2.9-2.9v5.8M434.11 138.18h5.8m-2.9-2.9v5.8M434.24 131.87h5.8m-2.9-2.9v5.8M434.38 107.54h5.8m-2.9-2.9v5.8M434.51 113.78h5.8m-2.9-2.9v5.8M434.64 117.92h5.8m-2.9-2.9v5.8M434.77 114.63h5.8m-2.9-2.9v5.8M434.9 90.38h5.8m-2.9-2.9v5.8M435.04 95.41h5.8m-2.9-2.9v5.8M435.17 105.67h5.8m-2.9-2.9v5.8M435.3 127.21h5.8m-2.9-2.9v5.8M435.43 131.33h5.8m-2.9-2.9v5.8M435.57 123.18h5.8m-2.9-2.9v5.8M435.7 122.79h5.8m-2.9-2.9v5.8M435.83 109.27h5.8m-2.9-2.9v5.8M435.96 103.74h5.8m-2.9-2.9v5.8M436.1 105.77h5.8m-2.9-2.9v5.8M436.23 114.3h5.8m-2.9-2.9v5.8M436.36 108.2h5.8m-2.9-2.9v5.8M436.49 110.89h5.8m-2.9-2.9v5.8M436.63 120.51h5.8m-2.9-2.9v5.8M436.76 94.79h5.8m-2.9-2.9v5.8M436.89 115.77h5.8m-2.9-2.9v5.8M437.02 114.13h5.8m-2.9-2.9v5.8M437.16 106.89h5.8m-2.9-2.9v5.8M437.29 116h5.8m-2.9-2.9v5.8M437.42 128.9h5.8m-2.9-2.9v5.8M437.55 116.58h5.8m-2.9-2.9v5.8M437.69 125.34h5.8m-2.9-2.9v5.8M437.82 137.41h5.8m-2.9-2.9v5.8M437.95 129.49h5.8m-2.9-2.9v5.8M438.08 132.58h5.8m-2.9-2.9v5.8M438.21 133.88h5.8m-2.9-2.9v5.8M438.35 136.94h5.8m-2.9-2.9v5.8M438.48 136.04h5.8m-2.9-2.9v5.8M438.61 124.32h5.8m-2.9-2.9v5.8M438.74 117.1h5.8m-2.9-2.9v5.8M438.88 127.51h5.8m-2.9-2.9v5.8M439.01 138.54h5.8m-2.9-2.9v5.8M439.14 137.03h5.8m-2.9-2.9v5.8M439.27 122.4h5.8m-2.9-2.9v5.8M439.41 114.16h5.8m-2.9-2.9v5.8M439.54 106.59h5.8m-2.9-2.9v5.8M439.67 105.94h5.8m-2.9-2.9v5.8M439.8 112.31h5.8m-2.9-2.9v5.8M439.94 111.24h5.8m-2.9-2.9v5.8M440.07 108.56h5.8m-2.9-2.9v5.8M440.2 116.39h5.8m-2.9-2.9v5.8M440.33 66.39h5.8m-2.9-2.9v5.8M440.47 76.36h5.8m-2.9-2.9v5.8M440.6 72.17h5.8m-2.9-2.9v5.8M440.73 75.59h5.8m-2.9-2.9v5.8M440.86 73.35h5.8m-2.9-2.9v5.8M440.99 76.56h5.8m-2.9-2.9v5.8M441.13 79.1h5.8m-2.9-2.9v5.8M441.26 77.98h5.8m-2.9-2.9v5.8M441.39 78.66h5.8m-2.9-2.9v5.8M441.52 82.7h5.8m-2.9-2.9v5.8M441.66 79.36h5.8m-2.9-2.9v5.8M441.79 80.81h5.8m-2.9-2.9v5.8M441.92 82.19h5.8m-2.9-2.9v5.8M442.05 84.65h5.8m-2.9-2.9v5.8M442.19 85.15h5.8m-2.9-2.9v5.8M442.32 85.18h5.8m-2.9-2.9v5.8M442.45 85.98h5.8m-2.9-2.9v5.8M442.58 88h5.8m-2.9-2.9v5.8M442.72 84.54h5.8m-2.9-2.9v5.8M442.85 88.34h5.8m-2.9-2.9v5.8M442.98 86.69h5.8m-2.9-2.9v5.8M443.11 88.31h5.8m-2.9-2.9v5.8M443.25 96.42h5.8m-2.9-2.9v5.8M443.38 88.14h5.8m-2.9-2.9v5.8M443.51 121.03h5.8m-2.9-2.9v5.8M443.64 125.25h5.8m-2.9-2.9v5.8M443.78 58.49h5.8m-2.9-2.9v5.8M443.91 122.08h5.8m-2.9-2.9v5.8M444.04 103.74h5.8m-2.9-2.9v5.8M444.17 117.07h5.8m-2.9-2.9v5.8M444.3 107.65h5.8m-2.9-2.9v5.8M444.44 106.52h5.8m-2.9-2.9v5.8M444.57 114.25h5.8m-2.9-2.9v5.8M444.7 126.32h5.8m-2.9-2.9v5.8M444.83 128.16h5.8m-2.9-2.9v5.8M444.97 131.77h5.8m-2.9-2.9v5.8M445.1 125.07h5.8m-2.9-2.9v5.8M445.23 127h5.8m-2.9-2.9v5.8M445.36 136.24h5.8m-2.9-2.9v5.8M445.5 129.48h5.8m-2.9-2.9v5.8M445.63 110.92h5.8m-2.9-2.9v5.8M445.76 113.96h5.8m-2.9-2.9v5.8M445.89 102.42h5.8m-2.9-2.9v5.8M446.03 103.82h5.8m-2.9-2.9v5.8M446.16 105.72h5.8m-2.9-2.9v5.8M446.29 106.02h5.8m-2.9-2.9v5.8M446.42 108.89h5.8m-2.9-2.9v5.8M446.56 113.77h5.8m-2.9-2.9v5.8M446.69 116.23h5.8m-2.9-2.9v5.8M446.82 107.93h5.8m-2.9-2.9v5.8M446.95 120.25h5.8m-2.9-2.9v5.8M447.09 120.85h5.8m-2.9-2.9v5.8M447.22 116.16h5.8m-2.9-2.9v5.8M447.35 119.66h5.8m-2.9-2.9v5.8M447.48 117.53h5.8m-2.9-2.9v5.8M447.61 92.93h5.8m-2.9-2.9v5.8M447.75 111.3h5.8m-2.9-2.9v5.8M447.88 121.2h5.8m-2.9-2.9v5.8M448.01 124.21h5.8m-2.9-2.9v5.8M448.14 54h5.8m-2.9-2.9v5.8M448.28 58.69h5.8m-2.9-2.9v5.8M448.41 117.63h5.8m-2.9-2.9v5.8M448.54 107.12h5.8m-2.9-2.9v5.8M448.67 121.19h5.8m-2.9-2.9v5.8M448.81 126.72h5.8m-2.9-2.9v5.8M448.94 137.92h5.8m-2.9-2.9v5.8M449.07 132.36h5.8m-2.9-2.9v5.8M449.2 125.09h5.8m-2.9-2.9v5.8M449.34 123h5.8m-2.9-2.9v5.8M449.47 121.36h5.8m-2.9-2.9v5.8M449.6 126.19h5.8m-2.9-2.9v5.8M449.73 130.69h5.8m-2.9-2.9v5.8M449.87 115.81h5.8m-2.9-2.9v5.8M450 109.46h5.8m-2.9-2.9v5.8M450.13 128.77h5.8m-2.9-2.9v5.8M450.26 139.21h5.8m-2.9-2.9v5.8M450.39 76.32h5.8m-2.9-2.9v5.8M450.53 114.54h5.8m-2.9-2.9v5.8M450.66 131.86h5.8m-2.9-2.9v5.8M450.79 122.94h5.8m-2.9-2.9v5.8M450.92 128.95h5.8m-2.9-2.9v5.8M451.06 76.99h5.8m-2.9-2.9v5.8M451.19 116.56h5.8m-2.9-2.9v5.8M451.32 115.27h5.8m-2.9-2.9v5.8M451.45 119.2h5.8m-2.9-2.9v5.8M451.59 108.21h5.8m-2.9-2.9v5.8M451.72 104.34h5.8m-2.9-2.9v5.8M451.85 112.21h5.8m-2.9-2.9v5.8M451.98 119.02h5.8m-2.9-2.9v5.8M452.12 104.96h5.8m-2.9-2.9v5.8M452.25 114.4h5.8m-2.9-2.9v5.8M452.38 72.3h5.8m-2.9-2.9v5.8M452.51 117.01h5.8m-2.9-2.9v5.8M452.65 112.61h5.8m-2.9-2.9v5.8M452.78 111.03h5.8m-2.9-2.9v5.8M452.91 111.52h5.8m-2.9-2.9v5.8M453.04 108.72h5.8m-2.9-2.9v5.8M453.18 121.72h5.8m-2.9-2.9v5.8M453.31 120.46h5.8m-2.9-2.9v5.8M453.44 108.43h5.8m-2.9-2.9v5.8M453.57 118.62h5.8m-2.9-2.9v5.8M453.7 124.75h5.8m-2.9-2.9v5.8M453.84 135.37h5.8m-2.9-2.9v5.8M453.97 118.29h5.8m-2.9-2.9v5.8M454.1 127.86h5.8m-2.9-2.9v5.8M454.23 123.23h5.8m-2.9-2.9v5.8M454.37 101.68h5.8m-2.9-2.9v5.8M454.5 134h5.8m-2.9-2.9v5.8M454.63 121.94h5.8m-2.9-2.9v5.8M454.76 108.43h5.8m-2.9-2.9v5.8M454.9 109.75h5.8m-2.9-2.9v5.8M455.03 101.96h5.8m-2.9-2.9v5.8M455.16 110.1h5.8m-2.9-2.9v5.8M455.29 127.37h5.8m-2.9-2.9v5.8M455.43 116.19h5.8m-2.9-2.9v5.8M455.56 125.02h5.8m-2.9-2.9v5.8M455.69 58.15h5.8m-2.9-2.9v5.8M455.82 103.85h5.8m-2.9-2.9v5.8M455.96 107.77h5.8m-2.9-2.9v5.8M456.09 92.95h5.8m-2.9-2.9v5.8M456.22 116.59h5.8m-2.9-2.9v5.8M456.35 103.82h5.8m-2.9-2.9v5.8M456.49 104.27h5.8m-2.9-2.9v5.8M456.62 104.87h5.8m-2.9-2.9v5.8M456.75 104.81h5.8m-2.9-2.9v5.8M456.88 131.78h5.8m-2.9-2.9v5.8M457.01 132.8h5.8m-2.9-2.9v5.8M457.15 119.6h5.8m-2.9-2.9v5.8M457.28 125.93h5.8m-2.9-2.9v5.8M457.41 141.18h5.8m-2.9-2.9v5.8M457.54 135.47h5.8m-2.9-2.9v5.8M457.68 25h5.8m-2.9-2.9v5.8M457.81 139.98h5.8m-2.9-2.9v5.8M457.94 142.42h5.8m-2.9-2.9v5.8M458.07 113.72h5.8m-2.9-2.9v5.8M458.21 117.18h5.8m-2.9-2.9v5.8M458.34 119.64h5.8m-2.9-2.9v5.8M458.47 125.3h5.8m-2.9-2.9v5.8M458.6 93.98h5.8m-2.9-2.9v5.8M458.74 138.01h5.8m-2.9-2.9v5.8M458.87 136.89h5.8m-2.9-2.9v5.8M459 130.09h5.8m-2.9-2.9v5.8M459.13 126.46h5.8m-2.9-2.9v5.8M459.27 138.79h5.8m-2.9-2.9v5.8M459.4 128.92h5.8m-2.9-2.9v5.8M459.53 102.25h5.8m-2.9-2.9v5.8M459.66 119.87h5.8m-2.9-2.9v5.8M459.8 110.29h5.8m-2.9-2.9v5.8M459.93 127.22h5.8m-2.9-2.9v5.8M460.06 134.93h5.8m-2.9-2.9v5.8M460.19 135.11h5.8m-2.9-2.9v5.8M460.32 134.12h5.8m-2.9-2.9v5.8M460.46 138.68h5.8m-2.9-2.9v5.8M460.59 127.76h5.8m-2.9-2.9v5.8M460.72 134.26h5.8m-2.9-2.9v5.8M460.85 127.91h5.8m-2.9-2.9v5.8M460.99 113.02h5.8m-2.9-2.9v5.8M461.12 92.43h5.8m-2.9-2.9v5.8M461.25 106.67h5.8m-2.9-2.9v5.8M461.38 113.46h5.8m-2.9-2.9v5.8M461.52 58.29h5.8m-2.9-2.9v5.8M461.65 61.55h5.8m-2.9-2.9v5.8M461.78 66.18h5.8m-2.9-2.9v5.8M461.91 67.24h5.8m-2.9-2.9v5.8M462.05 65.87h5.8m-2.9-2.9v5.8M462.18 67.81h5.8m-2.9-2.9v5.8M462.31 70.92h5.8m-2.9-2.9v5.8M462.44 75.95h5.8m-2.9-2.9v5.8M462.58 75.37h5.8m-2.9-2.9v5.8M462.71 78.69h5.8m-2.9-2.9v5.8M462.84 80.76h5.8m-2.9-2.9v5.8M462.97 84.75h5.8m-2.9-2.9v5.8M463.1 85.77h5.8m-2.9-2.9v5.8M463.24 83.85h5.8m-2.9-2.9v5.8M463.37 111.87h5.8m-2.9-2.9v5.8M463.5 118.38h5.8m-2.9-2.9v5.8M463.63 100h5.8m-2.9-2.9v5.8M463.77 130.47h5.8m-2.9-2.9v5.8M463.9 111.45h5.8m-2.9-2.9v5.8M464.03 117.41h5.8m-2.9-2.9v5.8M464.16 116.29h5.8m-2.9-2.9v5.8M464.3 113.81h5.8m-2.9-2.9v5.8M464.43 124.48h5.8m-2.9-2.9v5.8M464.56 110.24h5.8m-2.9-2.9v5.8M464.69 118.95h5.8m-2.9-2.9v5.8M464.83 128.28h5.8m-2.9-2.9v5.8M464.96 137.62h5.8m-2.9-2.9v5.8M465.09 139.67h5.8m-2.9-2.9v5.8M465.22 139.9h5.8m-2.9-2.9v5.8M465.36 133.56h5.8m-2.9-2.9v5.8M465.49 123.08h5.8m-2.9-2.9v5.8M465.62 113.62h5.8m-2.9-2.9v5.8M465.75 122.66h5.8m-2.9-2.9v5.8M465.89 103.87h5.8m-2.9-2.9v5.8M466.02 113.17h5.8m-2.9-2.9v5.8M466.15 107.71h5.8m-2.9-2.9v5.8M466.28 116.84h5.8m-2.9-2.9v5.8M466.41 96.41h5.8m-2.9-2.9v5.8M466.55 113.33h5.8m-2.9-2.9v5.8M466.68 114.99h5.8m-2.9-2.9v5.8M466.81 99.97h5.8m-2.9-2.9v5.8M466.94 104.21h5.8m-2.9-2.9v5.8M467.08 104.9h5.8m-2.9-2.9v5.8M467.21 92.32h5.8m-2.9-2.9v5.8M467.34 105.13h5.8m-2.9-2.9v5.8M467.47 106.37h5.8m-2.9-2.9v5.8M467.61 113.9h5.8m-2.9-2.9v5.8M467.74 49h5.8m-2.9-2.9v5.8M467.87 107.7h5.8m-2.9-2.9v5.8M468 108.53h5.8m-2.9-2.9v5.8M468.14 121.19h5.8m-2.9-2.9v5.8M468.27 98.58h5.8m-2.9-2.9v5.8M468.4 112.6h5.8m-2.9-2.9v5.8M468.53 133.02h5.8m-2.9-2.9v5.8M468.67 133.97h5.8m-2.9-2.9v5.8M468.8 91.91h5.8m-2.9-2.9v5.8M468.93 124.27h5.8m-2.9-2.9v5.8M469.06 134.72h5.8m-2.9-2.9v5.8M469.2 92.26h5.8m-2.9-2.9v5.8M469.33 139.66h5.8m-2.9-2.9v5.8M469.46 143.89h5.8m-2.9-2.9v5.8M469.59 117.56h5.8m-2.9-2.9v5.8M469.72 125.98h5.8m-2.9-2.9v5.8M469.86 132.67h5.8m-2.9-2.9v5.8M469.99 137.2h5.8m-2.9-2.9v5.8M470.12 134.93h5.8m-2.9-2.9v5.8M470.25 131.02h5.8m-2.9-2.9v5.8M470.39 129.35h5.8m-2.9-2.9v5.8M470.52 121.69h5.8m-2.9-2.9v5.8M470.65 133.87h5.8m-2.9-2.9v5.8M470.78 132.06h5.8m-2.9-2.9v5.8M470.92 139.37h5.8m-2.9-2.9v5.8M471.05 111.48h5.8m-2.9-2.9v5.8M471.18 124.13h5.8m-2.9-2.9v5.8M471.31 122.42h5.8m-2.9-2.9v5.8M471.45 142.45h5.8m-2.9-2.9v5.8M471.58 138.9h5.8m-2.9-2.9v5.8M471.71 138.82h5.8m-2.9-2.9v5.8M471.84 89.57h5.8m-2.9-2.9v5.8M471.98 124.45h5.8m-2.9-2.9v5.8M472.11 142.11h5.8m-2.9-2.9v5.8M472.24 128.77h5.8m-2.9-2.9v5.8M472.37 128.05h5.8m-2.9-2.9v5.8M472.51 83.91h5.8m-2.9-2.9v5.8M472.64 138.57h5.8m-2.9-2.9v5.8M472.77 101.93h5.8m-2.9-2.9v5.8M472.9 124.15h5.8m-2.9-2.9v5.8M473.03 117.87h5.8m-2.9-2.9v5.8M473.17 121.44h5.8m-2.9-2.9v5.8M473.3 132.57h5.8m-2.9-2.9v5.8M473.43 94.72h5.8m-2.9-2.9v5.8M473.56 125.9h5.8m-2.9-2.9v5.8M473.7 113.16h5.8m-2.9-2.9v5.8M473.83 98.28h5.8m-2.9-2.9v5.8M473.96 104.18h5.8m-2.9-2.9v5.8M474.09 106.66h5.8m-2.9-2.9v5.8M474.23 123.38h5.8m-2.9-2.9v5.8M474.36 124.75h5.8m-2.9-2.9v5.8M474.49 140.85h5.8m-2.9-2.9v5.8M474.62 139.63h5.8m-2.9-2.9v5.8M474.76 102.6h5.8m-2.9-2.9v5.8M474.89 99.23h5.8m-2.9-2.9v5.8M475.02 122.53h5.8m-2.9-2.9v5.8M475.15 134.92h5.8m-2.9-2.9v5.8M475.29 132.28h5.8m-2.9-2.9v5.8M475.42 138.25h5.8m-2.9-2.9v5.8M475.55 127.82h5.8m-2.9-2.9v5.8M475.68 131.99h5.8m-2.9-2.9v5.8M475.81 120.44h5.8m-2.9-2.9v5.8M475.95 123.56h5.8m-2.9-2.9v5.8M476.08 132.08h5.8m-2.9-2.9v5.8M476.21 110.15h5.8m-2.9-2.9v5.8M476.34 104.82h5.8m-2.9-2.9v5.8M476.48 83.12h5.8m-2.9-2.9v5.8M476.61 115.39h5.8m-2.9-2.9v5.8M476.74 98.13h5.8m-2.9-2.9v5.8M476.87 109.79h5.8m-2.9-2.9v5.8M477.01 120.09h5.8m-2.9-2.9v5.8M477.14 129.85h5.8m-2.9-2.9v5.8M477.27 132.9h5.8m-2.9-2.9v5.8M477.4 133.63h5.8m-2.9-2.9v5.8M477.54 56.79h5.8m-2.9-2.9v5.8M477.67 130.58h5.8m-2.9-2.9v5.8M477.8 126.53h5.8m-2.9-2.9v5.8M477.93 131.14h5.8m-2.9-2.9v5.8M478.07 120.1h5.8m-2.9-2.9v5.8M478.2 109.84h5.8m-2.9-2.9v5.8M478.33 113.26h5.8m-2.9-2.9v5.8M478.46 118.52h5.8m-2.9-2.9v5.8M478.6 118.37h5.8m-2.9-2.9v5.8M478.73 113.84h5.8m-2.9-2.9v5.8M478.86 107.89h5.8m-2.9-2.9v5.8M478.99 108.57h5.8m-2.9-2.9v5.8M479.12 108.08h5.8m-2.9-2.9v5.8M479.26 43.2h5.8m-2.9-2.9v5.8M479.39 93.51h5.8m-2.9-2.9v5.8M479.52 93.89h5.8m-2.9-2.9v5.8M479.65 113.17h5.8m-2.9-2.9v5.8M479.79 105.97h5.8m-2.9-2.9v5.8M479.92 117.75h5.8m-2.9-2.9v5.8M480.05 110.81h5.8m-2.9-2.9v5.8M480.18 109.74h5.8m-2.9-2.9v5.8M480.32 97.11h5.8m-2.9-2.9v5.8M480.45 104.65h5.8m-2.9-2.9v5.8M480.58 107.24h5.8m-2.9-2.9v5.8M480.71 106.69h5.8m-2.9-2.9v5.8M480.85 120.23h5.8m-2.9-2.9v5.8M480.98 123.61h5.8m-2.9-2.9v5.8M481.11 123.76h5.8m-2.9-2.9v5.8M481.24 125.21h5.8m-2.9-2.9v5.8M481.38 115h5.8m-2.9-2.9v5.8M481.51 115.32h5.8m-2.9-2.9v5.8M481.64 111.99h5.8m-2.9-2.9v5.8M481.77 107.47h5.8m-2.9-2.9v5.8M481.91 103.55h5.8m-2.9-2.9v5.8M482.04 107.17h5.8m-2.9-2.9v5.8M482.17 122.24h5.8m-2.9-2.9v5.8M482.3 127.42h5.8m-2.9-2.9v5.8M482.43 119.43h5.8m-2.9-2.9v5.8M482.57 111.58h5.8m-2.9-2.9v5.8M482.7 53h5.8m-2.9-2.9v5.8M482.83 60h5.8m-2.9-2.9v5.8M482.96 62.05h5.8m-2.9-2.9v5.8M483.1 58.17h5.8m-2.9-2.9v5.8M483.23 59.39h5.8m-2.9-2.9v5.8M483.36 62.39h5.8m-2.9-2.9v5.8M483.49 58.26h5.8m-2.9-2.9v5.8M483.63 62.52h5.8m-2.9-2.9v5.8M483.76 63.25h5.8m-2.9-2.9v5.8M483.89 72.51h5.8m-2.9-2.9v5.8M484.02 65.36h5.8m-2.9-2.9v5.8M484.16 63.67h5.8m-2.9-2.9v5.8M484.29 71h5.8m-2.9-2.9v5.8M484.42 66.64h5.8m-2.9-2.9v5.8M484.55 70.52h5.8m-2.9-2.9v5.8M484.69 71.69h5.8m-2.9-2.9v5.8M484.82 72.91h5.8m-2.9-2.9v5.8M484.95 76.57h5.8m-2.9-2.9v5.8M485.08 79.71h5.8m-2.9-2.9v5.8M485.21 80.09h5.8m-2.9-2.9v5.8M485.35 72.75h5.8m-2.9-2.9v5.8M485.48 75.84h5.8m-2.9-2.9v5.8M485.61 82.1h5.8m-2.9-2.9v5.8M485.74 76.6h5.8m-2.9-2.9v5.8M485.88 78.09h5.8m-2.9-2.9v5.8M486.01 81.25h5.8m-2.9-2.9v5.8M486.14 79.5h5.8m-2.9-2.9v5.8M486.27 87.52h5.8m-2.9-2.9v5.8M486.41 113h5.8m-2.9-2.9v5.8M486.54 111.61h5.8m-2.9-2.9v5.8M486.67 130.58h5.8m-2.9-2.9v5.8M486.8 128.48h5.8m-2.9-2.9v5.8M486.94 137.98h5.8m-2.9-2.9v5.8M487.07 116.89h5.8m-2.9-2.9v5.8M487.2 119.05h5.8m-2.9-2.9v5.8M487.33 110.79h5.8m-2.9-2.9v5.8M487.47 130.58h5.8m-2.9-2.9v5.8M487.6 127.71h5.8m-2.9-2.9v5.8M487.73 128.97h5.8m-2.9-2.9v5.8M487.86 140.71h5.8m-2.9-2.9v5.8M488 130.91h5.8m-2.9-2.9v5.8M488.13 114.75h5.8m-2.9-2.9v5.8M488.26 120.22h5.8m-2.9-2.9v5.8M488.39 125.1h5.8m-2.9-2.9v5.8M488.52 122.42h5.8m-2.9-2.9v5.8M488.66 117.29h5.8m-2.9-2.9v5.8M488.79 118.01h5.8m-2.9-2.9v5.8M488.92 122.24h5.8m-2.9-2.9v5.8M489.05 43.7h5.8m-2.9-2.9v5.8M489.19 109.34h5.8m-2.9-2.9v5.8M489.32 109.17h5.8m-2.9-2.9v5.8M489.45 125.83h5.8m-2.9-2.9v5.8M489.58 134.03h5.8m-2.9-2.9v5.8M489.72 123.24h5.8m-2.9-2.9v5.8M489.85 130.43h5.8m-2.9-2.9v5.8M489.98 117.02h5.8m-2.9-2.9v5.8M490.11 103.93h5.8m-2.9-2.9v5.8M490.25 110.37h5.8m-2.9-2.9v5.8M490.38 131.83h5.8m-2.9-2.9v5.8M490.51 105.45h5.8m-2.9-2.9v5.8M490.64 116.15h5.8m-2.9-2.9v5.8M490.78 113.67h5.8m-2.9-2.9v5.8M490.91 119.42h5.8m-2.9-2.9v5.8M491.04 114.3h5.8m-2.9-2.9v5.8M491.17 103.87h5.8m-2.9-2.9v5.8M491.31 112.41h5.8m-2.9-2.9v5.8M491.44 129.11h5.8m-2.9-2.9v5.8M491.57 133.67h5.8m-2.9-2.9v5.8M491.7 133.99h5.8m-2.9-2.9v5.8M491.83 121.1h5.8m-2.9-2.9v5.8M491.97 120.47h5.8m-2.9-2.9v5.8M492.1 113.69h5.8m-2.9-2.9v5.8M492.23 104.35h5.8m-2.9-2.9v5.8M492.36 115.44h5.8m-2.9-2.9v5.8M492.5 114.24h5.8m-2.9-2.9v5.8M492.63 127.34h5.8m-2.9-2.9v5.8M492.76 115.66h5.8m-2.9-2.9v5.8M492.89 105.86h5.8m-2.9-2.9v5.8M493.03 114.97h5.8m-2.9-2.9v5.8M493.16 115.95h5.8m-2.9-2.9v5.8M493.29 130.87h5.8m-2.9-2.9v5.8M493.42 118.98h5.8m-2.9-2.9v5.8M493.56 114.9h5.8m-2.9-2.9v5.8M493.69 129.04h5.8m-2.9-2.9v5.8M493.82 124.49h5.8m-2.9-2.9v5.8M493.95 114.25h5.8m-2.9-2.9v5.8M494.09 114.45h5.8m-2.9-2.9v5.8M494.22 106.04h5.8m-2.9-2.9v5.8M494.35 103.1h5.8m-2.9-2.9v5.8M494.48 108.46h5.8m-2.9-2.9v5.8M494.62 109.18h5.8m-2.9-2.9v5.8M494.75 94.63h5.8m-2.9-2.9v5.8M494.88 93.97h5.8m-2.9-2.9v5.8M495.01 107.61h5.8m-2.9-2.9v5.8M495.14 114.12h5.8m-2.9-2.9v5.8M495.28 112.25h5.8m-2.9-2.9v5.8M495.41 117.1h5.8m-2.9-2.9v5.8M495.54 103.59h5.8m-2.9-2.9v5.8M495.67 119.36h5.8m-2.9-2.9v5.8M495.81 121.25h5.8m-2.9-2.9v5.8M495.94 133.93h5.8m-2.9-2.9v5.8M496.07 124.3h5.8m-2.9-2.9v5.8M496.2 133.85h5.8m-2.9-2.9v5.8M496.34 137.22h5.8m-2.9-2.9v5.8M496.47 136.48h5.8m-2.9-2.9v5.8M496.6 129.32h5.8m-2.9-2.9v5.8M496.73 125.98h5.8m-2.9-2.9v5.8M496.87 118.98h5.8m-2.9-2.9v5.8M497 118.68h5.8m-2.9-2.9v5.8M497.13 126.65h5.8m-2.9-2.9v5.8M497.26 134.93h5.8m-2.9-2.9v5.8M497.4 108.23h5.8m-2.9-2.9v5.8M497.53 111.62h5.8m-2.9-2.9v5.8M497.66 59.77h5.8m-2.9-2.9v5.8M497.79 136.59h5.8m-2.9-2.9v5.8M497.92 126.49h5.8m-2.9-2.9v5.8M498.06 117.77h5.8m-2.9-2.9v5.8M498.19 114.31h5.8m-2.9-2.9v5.8M498.32 105.41h5.8m-2.9-2.9v5.8M498.45 110.51h5.8m-2.9-2.9v5.8M498.59 115.18h5.8m-2.9-2.9v5.8M498.72 111.29h5.8m-2.9-2.9v5.8M498.85 115.22h5.8m-2.9-2.9v5.8M498.98 118.3h5.8m-2.9-2.9v5.8M499.12 104h5.8m-2.9-2.9v5.8M499.25 93.37h5.8m-2.9-2.9v5.8M499.38 103.3h5.8m-2.9-2.9v5.8M499.51 103.82h5.8m-2.9-2.9v5.8M499.65 121.15h5.8m-2.9-2.9v5.8M499.78 107.51h5.8m-2.9-2.9v5.8M499.91 111.74h5.8m-2.9-2.9v5.8M500.04 105.98h5.8m-2.9-2.9v5.8M500.18 107.89h5.8m-2.9-2.9v5.8M500.31 108.48h5.8m-2.9-2.9v5.8M500.44 107.12h5.8m-2.9-2.9v5.8M500.57 129.65h5.8m-2.9-2.9v5.8M500.71 140.03h5.8m-2.9-2.9v5.8M500.84 128.92h5.8m-2.9-2.9v5.8M500.97 125.86h5.8m-2.9-2.9v5.8M501.1 122.17h5.8m-2.9-2.9v5.8M501.23 105.87h5.8m-2.9-2.9v5.8M501.37 120.59h5.8m-2.9-2.9v5.8M501.5 119.38h5.8m-2.9-2.9v5.8M501.63 108.76h5.8m-2.9-2.9v5.8M501.76 107.82h5.8m-2.9-2.9v5.8M501.9 105.66h5.8m-2.9-2.9v5.8M502.03 116.5h5.8m-2.9-2.9v5.8M502.16 120.66h5.8m-2.9-2.9v5.8M502.29 106.33h5.8m-2.9-2.9v5.8M502.43 86.74h5.8m-2.9-2.9v5.8M502.56 112.54h5.8m-2.9-2.9v5.8M502.69 103.9h5.8m-2.9-2.9v5.8M502.82 114.46h5.8m-2.9-2.9v5.8M502.96 114.29h5.8m-2.9-2.9v5.8M503.09 112.66h5.8m-2.9-2.9v5.8M503.22 119.07h5.8m-2.9-2.9v5.8M503.35 125.93h5.8m-2.9-2.9v5.8M503.49 126.89h5.8m-2.9-2.9v5.8M503.62 130.88h5.8m-2.9-2.9v5.8M503.75 119.11h5.8m-2.9-2.9v5.8M503.88 47.61h5.8m-2.9-2.9v5.8M504.02 51.62h5.8m-2.9-2.9v5.8M504.15 50.47h5.8m-2.9-2.9v5.8M504.28 56.95h5.8m-2.9-2.9v5.8M504.41 55.29h5.8m-2.9-2.9v5.8M504.54 52.33h5.8m-2.9-2.9v5.8M504.68 52.11h5.8m-2.9-2.9v5.8M504.81 58.42h5.8m-2.9-2.9v5.8M504.94 55.16h5.8m-2.9-2.9v5.8M505.07 62.08h5.8m-2.9-2.9v5.8M505.21 66.09h5.8m-2.9-2.9v5.8M505.34 61.15h5.8m-2.9-2.9v5.8M505.47 60.74h5.8m-2.9-2.9v5.8M505.6 66.61h5.8m-2.9-2.9v5.8M505.74 63.33h5.8m-2.9-2.9v5.8M505.87 71.9h5.8m-2.9-2.9v5.8M506 71.95h5.8m-2.9-2.9v5.8M506.13 71.69h5.8m-2.9-2.9v5.8M506.27 71.54h5.8m-2.9-2.9v5.8M506.4 71.89h5.8m-2.9-2.9v5.8M506.53 72.62h5.8m-2.9-2.9v5.8M506.66 72.11h5.8m-2.9-2.9v5.8M506.8 77.5h5.8m-2.9-2.9v5.8M506.93 120.22h5.8m-2.9-2.9v5.8M507.06 108.28h5.8m-2.9-2.9v5.8M507.19 113.19h5.8m-2.9-2.9v5.8M507.32 130.1h5.8m-2.9-2.9v5.8M507.46 119.95h5.8m-2.9-2.9v5.8M507.59 122.41h5.8m-2.9-2.9v5.8M507.72 89.84h5.8m-2.9-2.9v5.8M507.85 108.61h5.8m-2.9-2.9v5.8M507.99 112.17h5.8m-2.9-2.9v5.8M508.12 103.07h5.8m-2.9-2.9v5.8M508.25 106.82h5.8m-2.9-2.9v5.8M508.38 113.94h5.8m-2.9-2.9v5.8M508.52 118.68h5.8m-2.9-2.9v5.8M508.65 119.37h5.8m-2.9-2.9v5.8M508.78 131.44h5.8m-2.9-2.9v5.8M508.91 124.68h5.8m-2.9-2.9v5.8M509.05 134.18h5.8m-2.9-2.9v5.8M509.18 141.19h5.8m-2.9-2.9v5.8M509.31 142.38h5.8m-2.9-2.9v5.8M509.44 132.13h5.8m-2.9-2.9v5.8M509.58 129.63h5.8m-2.9-2.9v5.8M509.71 98.5h5.8m-2.9-2.9v5.8M509.84 123.51h5.8m-2.9-2.9v5.8M509.97 135.02h5.8m-2.9-2.9v5.8M510.11 126.88h5.8m-2.9-2.9v5.8M510.24 134.59h5.8m-2.9-2.9v5.8M510.37 139.09h5.8m-2.9-2.9v5.8M510.5 135.67h5.8m-2.9-2.9v5.8M510.63 124.89h5.8m-2.9-2.9v5.8M510.77 122.87h5.8m-2.9-2.9v5.8M510.9 112.58h5.8m-2.9-2.9v5.8M511.03 111.56h5.8m-2.9-2.9v5.8M511.16 105.12h5.8m-2.9-2.9v5.8M511.3 103.12h5.8m-2.9-2.9v5.8M511.43 117.12h5.8m-2.9-2.9v5.8M511.56 140.21h5.8m-2.9-2.9v5.8M511.69 136.76h5.8m-2.9-2.9v5.8M511.83 133.39h5.8m-2.9-2.9v5.8M511.96 139.01h5.8m-2.9-2.9v5.8M512.09 140.19h5.8m-2.9-2.9v5.8M512.22 139.08h5.8m-2.9-2.9v5.8M512.36 135.75h5.8m-2.9-2.9v5.8M512.49 118.21h5.8m-2.9-2.9v5.8M512.62 125.69h5.8m-2.9-2.9v5.8M512.75 122.28h5.8m-2.9-2.9v5.8M512.89 89.25h5.8m-2.9-2.9v5.8M513.02 114.96h5.8m-2.9-2.9v5.8M513.15 107.47h5.8m-2.9-2.9v5.8M513.28 105.67h5.8m-2.9-2.9v5.8M513.42 112.85h5.8m-2.9-2.9v5.8M513.55 110.19h5.8m-2.9-2.9v5.8M513.68 121.95h5.8m-2.9-2.9v5.8M513.81 106.53h5.8m-2.9-2.9v5.8M513.94 82.95h5.8m-2.9-2.9v5.8M514.08 106.32h5.8m-2.9-2.9v5.8M514.21 107.5h5.8m-2.9-2.9v5.8M514.34 110.8h5.8m-2.9-2.9v5.8M514.47 97.9h5.8m-2.9-2.9v5.8M514.61 132.85h5.8m-2.9-2.9v5.8M514.74 131.1h5.8m-2.9-2.9v5.8M514.87 130.79h5.8m-2.9-2.9v5.8M515 114.69h5.8m-2.9-2.9v5.8M515.14 117.14h5.8m-2.9-2.9v5.8M515.27 111.97h5.8m-2.9-2.9v5.8M515.4 104.15h5.8m-2.9-2.9v5.8M515.53 108.52h5.8m-2.9-2.9v5.8M515.67 112.18h5.8m-2.9-2.9v5.8M515.8 105.76h5.8m-2.9-2.9v5.8M515.93 110.12h5.8m-2.9-2.9v5.8M516.06 109.23h5.8m-2.9-2.9v5.8M516.2 112.43h5.8m-2.9-2.9v5.8M516.33 119.09h5.8m-2.9-2.9v5.8M516.46 118.47h5.8m-2.9-2.9v5.8M516.59 113.15h5.8m-2.9-2.9v5.8M516.73 122.62h5.8m-2.9-2.9v5.8M516.86 102.89h5.8m-2.9-2.9v5.8M516.99 132.39h5.8m-2.9-2.9v5.8M517.12 135.92h5.8m-2.9-2.9v5.8M517.25 122.1h5.8m-2.9-2.9v5.8M517.39 118.49h5.8m-2.9-2.9v5.8M517.52 112.15h5.8m-2.9-2.9v5.8M517.65 94.41h5.8m-2.9-2.9v5.8M517.78 134.05h5.8m-2.9-2.9v5.8M517.92 105.23h5.8m-2.9-2.9v5.8M518.05 115.46h5.8m-2.9-2.9v5.8M518.18 117.72h5.8m-2.9-2.9v5.8M518.31 124.17h5.8m-2.9-2.9v5.8M518.45 119.69h5.8m-2.9-2.9v5.8M518.58 126.31h5.8m-2.9-2.9v5.8M518.71 118.95h5.8m-2.9-2.9v5.8M518.84 116.87h5.8m-2.9-2.9v5.8M518.98 96.97h5.8m-2.9-2.9v5.8M519.11 106.72h5.8m-2.9-2.9v5.8M519.24 120.73h5.8m-2.9-2.9v5.8M519.37 104.71h5.8m-2.9-2.9v5.8M519.51 108.43h5.8m-2.9-2.9v5.8M519.64 97.64h5.8m-2.9-2.9v5.8M519.77 105.61h5.8m-2.9-2.9v5.8M519.9 109.22h5.8m-2.9-2.9v5.8M520.03 109.98h5.8m-2.9-2.9v5.8M520.17 115.69h5.8m-2.9-2.9v5.8M520.3 124.26h5.8m-2.9-2.9v5.8M520.43 129.57h5.8m-2.9-2.9v5.8M520.56 123.09h5.8m-2.9-2.9v5.8M520.7 117.54h5.8m-2.9-2.9v5.8M520.83 120.54h5.8m-2.9-2.9v5.8M520.96 125.05h5.8m-2.9-2.9v5.8M521.09 120.82h5.8m-2.9-2.9v5.8M521.23 123.52h5.8m-2.9-2.9v5.8M521.36 105.53h5.8m-2.9-2.9v5.8M521.49 113.03h5.8m-2.9-2.9v5.8M521.62 72.55h5.8m-2.9-2.9v5.8M521.76 104.24h5.8m-2.9-2.9v5.8M521.89 112.25h5.8m-2.9-2.9v5.8M522.02 107.4h5.8m-2.9-2.9v5.8M522.15 93.06h5.8m-2.9-2.9v5.8M522.29 112.91h5.8m-2.9-2.9v5.8M522.42 109.85h5.8m-2.9-2.9v5.8M522.55 110.53h5.8m-2.9-2.9v5.8M522.68 123.63h5.8m-2.9-2.9v5.8M522.82 89.23h5.8m-2.9-2.9v5.8M522.95 104.45h5.8m-2.9-2.9v5.8M523.08 111.1h5.8m-2.9-2.9v5.8M523.21 104.86h5.8m-2.9-2.9v5.8M523.34 110.17h5.8m-2.9-2.9v5.8M523.48 114.55h5.8m-2.9-2.9v5.8M523.61 122.19h5.8m-2.9-2.9v5.8M523.74 67.4h5.8m-2.9-2.9v5.8M523.87 120.01h5.8m-2.9-2.9v5.8M524.01 114.39h5.8m-2.9-2.9v5.8M524.14 124.14h5.8m-2.9-2.9v5.8M524.27 125.4h5.8m-2.9-2.9v5.8M524.4 113.17h5.8m-2.9-2.9v5.8M524.54 104.67h5.8m-2.9-2.9v5.8M524.67 109.76h5.8m-2.9-2.9v5.8M524.8 96.56h5.8m-2.9-2.9v5.8M524.93 120.94h5.8m-2.9-2.9v5.8M525.07 43.28h5.8m-2.9-2.9v5.8M525.2 49.09h5.8m-2.9-2.9v5.8M525.33 43.99h5.8m-2.9-2.9v5.8M525.46 49.9h5.8m-2.9-2.9v5.8M525.6 48.12h5.8m-2.9-2.9v5.8M525.73 50.44h5.8m-2.9-2.9v5.8M525.86 52h5.8m-2.9-2.9v5.8M525.99 51h5.8m-2.9-2.9v5.8M526.13 55.66h5.8m-2.9-2.9v5.8M526.26 53.67h5.8m-2.9-2.9v5.8M526.39 53.13h5.8m-2.9-2.9v5.8M526.52 55.24h5.8m-2.9-2.9v5.8M526.65 57.65h5.8m-2.9-2.9v5.8M526.79 59.12h5.8m-2.9-2.9v5.8M526.92 58.97h5.8m-2.9-2.9v5.8M527.05 56.19h5.8m-2.9-2.9v5.8M527.18 58.73h5.8m-2.9-2.9v5.8M527.32 62.59h5.8m-2.9-2.9v5.8M527.45 57.82h5.8m-2.9-2.9v5.8M527.58 63.94h5.8m-2.9-2.9v5.8M527.71 60.92h5.8m-2.9-2.9v5.8M527.85 64.57h5.8m-2.9-2.9v5.8M527.98 69.36h5.8m-2.9-2.9v5.8M528.11 66.46h5.8m-2.9-2.9v5.8M528.24 68.51h5.8m-2.9-2.9v5.8M528.38 68.21h5.8m-2.9-2.9v5.8M528.51 68.9h5.8m-2.9-2.9v5.8M528.64 70.74h5.8m-2.9-2.9v5.8M528.77 69.55h5.8m-2.9-2.9v5.8M528.91 71.16h5.8m-2.9-2.9v5.8M529.04 74.82h5.8m-2.9-2.9v5.8M529.17 112.57h5.8m-2.9-2.9v5.8M529.3 114.29h5.8m-2.9-2.9v5.8M529.43 106.29h5.8m-2.9-2.9v5.8M529.57 122.81h5.8m-2.9-2.9v5.8M529.7 115.82h5.8m-2.9-2.9v5.8M529.83 118h5.8m-2.9-2.9v5.8M529.96 133.25h5.8m-2.9-2.9v5.8M530.1 108.17h5.8m-2.9-2.9v5.8M530.23 64.64h5.8m-2.9-2.9v5.8M530.36 108.76h5.8m-2.9-2.9v5.8M530.49 118.21h5.8m-2.9-2.9v5.8M530.63 115.03h5.8m-2.9-2.9v5.8M530.76 106.88h5.8m-2.9-2.9v5.8M530.89 110.03h5.8m-2.9-2.9v5.8M531.02 111.6h5.8m-2.9-2.9v5.8M531.16 108.35h5.8m-2.9-2.9v5.8M531.29 103.07h5.8m-2.9-2.9v5.8M531.42 112.89h5.8m-2.9-2.9v5.8M531.55 113h5.8m-2.9-2.9v5.8M531.69 119.03h5.8m-2.9-2.9v5.8M531.82 121.62h5.8m-2.9-2.9v5.8M531.95 113.31h5.8m-2.9-2.9v5.8M532.08 130.59h5.8m-2.9-2.9v5.8M532.22 113.86h5.8m-2.9-2.9v5.8M532.35 131.06h5.8m-2.9-2.9v5.8M532.48 134.99h5.8m-2.9-2.9v5.8M532.61 132.43h5.8m-2.9-2.9v5.8M532.74 136.83h5.8m-2.9-2.9v5.8M532.88 103.55h5.8m-2.9-2.9v5.8M533.01 106.77h5.8m-2.9-2.9v5.8M533.14 111.33h5.8m-2.9-2.9v5.8M533.27 108.2h5.8m-2.9-2.9v5.8M533.41 107.17h5.8m-2.9-2.9v5.8M533.54 110.31h5.8m-2.9-2.9v5.8M533.67 128.66h5.8m-2.9-2.9v5.8M533.8 131.14h5.8m-2.9-2.9v5.8M533.94 136.7h5.8m-2.9-2.9v5.8M534.07 140.25h5.8m-2.9-2.9v5.8M534.2 127.98h5.8m-2.9-2.9v5.8M534.33 120.68h5.8m-2.9-2.9v5.8M534.47 113.8h5.8m-2.9-2.9v5.8M534.6 119.91h5.8m-2.9-2.9v5.8M534.73 110.09h5.8m-2.9-2.9v5.8M534.86 105.82h5.8m-2.9-2.9v5.8M535 110.94h5.8m-2.9-2.9v5.8M535.13 123.16h5.8m-2.9-2.9v5.8M535.26 138.8h5.8m-2.9-2.9v5.8M535.39 136.85h5.8m-2.9-2.9v5.8M535.53 109.77h5.8m-2.9-2.9v5.8M535.66 121.64h5.8m-2.9-2.9v5.8M535.79 121.97h5.8m-2.9-2.9v5.8M535.92 124.63h5.8m-2.9-2.9v5.8M536.05 122.38h5.8m-2.9-2.9v5.8M536.19 120.09h5.8m-2.9-2.9v5.8M536.32 140.54h5.8m-2.9-2.9v5.8M536.45 139.13h5.8m-2.9-2.9v5.8M536.58 136.25h5.8m-2.9-2.9v5.8M536.72 121.23h5.8m-2.9-2.9v5.8M536.85 130.18h5.8m-2.9-2.9v5.8M536.98 128.5h5.8m-2.9-2.9v5.8M537.11 132.31h5.8m-2.9-2.9v5.8M537.25 128.92h5.8m-2.9-2.9v5.8M537.38 108.62h5.8m-2.9-2.9v5.8M537.51 95.38h5.8m-2.9-2.9v5.8M537.64 107.99h5.8m-2.9-2.9v5.8M537.78 130.68h5.8m-2.9-2.9v5.8M537.91 130.35h5.8m-2.9-2.9v5.8M538.04 118.58h5.8m-2.9-2.9v5.8M538.17 132.57h5.8m-2.9-2.9v5.8M538.31 123.26h5.8m-2.9-2.9v5.8M538.44 110.27h5.8m-2.9-2.9v5.8M538.57 127.75h5.8m-2.9-2.9v5.8M538.7 120.44h5.8m-2.9-2.9v5.8M538.84 130.23h5.8m-2.9-2.9v5.8M538.97 134.22h5.8m-2.9-2.9v5.8M539.1 128.1h5.8m-2.9-2.9v5.8M539.23 125.78h5.8m-2.9-2.9v5.8M539.36 114.14h5.8m-2.9-2.9v5.8M539.5 107.75h5.8m-2.9-2.9v5.8M539.63 113.24h5.8m-2.9-2.9v5.8M539.76 112.68h5.8m-2.9-2.9v5.8M539.89 123.61h5.8m-2.9-2.9v5.8M540.03 113.95h5.8m-2.9-2.9v5.8M540.16 133.07h5.8m-2.9-2.9v5.8M540.29 133.7h5.8m-2.9-2.9v5.8M540.42 115.02h5.8m-2.9-2.9v5.8M540.56 126.27h5.8m-2.9-2.9v5.8M540.69 130.71h5.8m-2.9-2.9v5.8M540.82 100.2h5.8m-2.9-2.9v5.8M540.95 96.96h5.8m-2.9-2.9v5.8M541.09 114.25h5.8m-2.9-2.9v5.8M541.22 121.98h5.8m-2.9-2.9v5.8M541.35 118.49h5.8m-2.9-2.9v5.8M541.48 119.71h5.8m-2.9-2.9v5.8M541.62 124.68h5.8m-2.9-2.9v5.8M541.75 122.76h5.8m-2.9-2.9v5.8M541.88 116.32h5.8m-2.9-2.9v5.8M542.01 129.75h5.8m-2.9-2.9v5.8M542.14 124.85h5.8m-2.9-2.9v5.8M542.28 120.11h5.8m-2.9-2.9v5.8M542.41 95.13h5.8m-2.9-2.9v5.8M542.54 134.51h5.8m-2.9-2.9v5.8M542.67 129.56h5.8m-2.9-2.9v5.8M542.81 137.8h5.8m-2.9-2.9v5.8M542.94 141.13h5.8m-2.9-2.9v5.8M543.07 132.81h5.8m-2.9-2.9v5.8M543.2 141.5h5.8m-2.9-2.9v5.8M543.34 140.23h5.8m-2.9-2.9v5.8M543.47 141.16h5.8m-2.9-2.9v5.8M543.6 139.85h5.8m-2.9-2.9v5.8M543.73 90.7h5.8m-2.9-2.9v5.8M543.87 116.26h5.8m-2.9-2.9v5.8M544 120.93h5.8m-2.9-2.9v5.8M544.13 134.79h5.8m-2.9-2.9v5.8M544.26 120.78h5.8m-2.9-2.9v5.8M544.4 108.85h5.8m-2.9-2.9v5.8M544.53 122.46h5.8m-2.9-2.9v5.8M544.66 135.35h5.8m-2.9-2.9v5.8M544.79 138.4h5.8m-2.9-2.9v5.8M544.93 131.61h5.8m-2.9-2.9v5.8M545.06 125.78h5.8m-2.9-2.9v5.8M545.19 137.33h5.8m-2.9-2.9v5.8M545.32 138.1h5.8m-2.9-2.9v5.8M545.45 130.95h5.8m-2.9-2.9v5.8M545.59 131.24h5.8m-2.9-2.9v5.8M545.72 126.02h5.8m-2.9-2.9v5.8M545.85 120.68h5.8m-2.9-2.9v5.8M545.98 140.34h5.8m-2.9-2.9v5.8M546.12 98.04h5.8m-2.9-2.9v5.8M546.25 39.55h5.8m-2.9-2.9v5.8M546.38 43.4h5.8m-2.9-2.9v5.8M546.51 47.12h5.8m-2.9-2.9v5.8M546.65 47.23h5.8m-2.9-2.9v5.8M546.78 49.5h5.8m-2.9-2.9v5.8M546.91 51.41h5.8m-2.9-2.9v5.8M547.04 51.09h5.8m-2.9-2.9v5.8M547.18 50.16h5.8m-2.9-2.9v5.8M547.31 51.88h5.8m-2.9-2.9v5.8M547.44 57.99h5.8m-2.9-2.9v5.8M547.57 55.86h5.8m-2.9-2.9v5.8M547.71 54.49h5.8m-2.9-2.9v5.8M547.84 54.48h5.8m-2.9-2.9v5.8M547.97 60.11h5.8m-2.9-2.9v5.8M548.1 59.03h5.8m-2.9-2.9v5.8M548.24 61.33h5.8m-2.9-2.9v5.8M548.37 65.9h5.8m-2.9-2.9v5.8M548.5 63.03h5.8m-2.9-2.9v5.8M548.63 67.15h5.8m-2.9-2.9v5.8M548.76 69.82h5.8m-2.9-2.9v5.8M548.9 63.35h5.8m-2.9-2.9v5.8M549.03 102.67h5.8m-2.9-2.9v5.8M549.16 123.6h5.8m-2.9-2.9v5.8M549.29 128.53h5.8m-2.9-2.9v5.8M549.43 137.37h5.8m-2.9-2.9v5.8M549.56 139.72h5.8m-2.9-2.9v5.8M549.69 135.02h5.8m-2.9-2.9v5.8M549.82 137.82h5.8m-2.9-2.9v5.8M549.96 98.29h5.8m-2.9-2.9v5.8M550.09 122.32h5.8m-2.9-2.9v5.8M550.22 126.63h5.8m-2.9-2.9v5.8M550.35 106.64h5.8m-2.9-2.9v5.8M550.49 109.22h5.8m-2.9-2.9v5.8M550.62 116.59h5.8m-2.9-2.9v5.8M550.75 135.24h5.8m-2.9-2.9v5.8M550.88 129.49h5.8m-2.9-2.9v5.8M551.02 125.63h5.8m-2.9-2.9v5.8M551.15 105.8h5.8m-2.9-2.9v5.8M551.28 104.09h5.8m-2.9-2.9v5.8M551.41 118.96h5.8m-2.9-2.9v5.8M551.54 125.27h5.8m-2.9-2.9v5.8M551.68 124.01h5.8m-2.9-2.9v5.8M551.81 101.77h5.8m-2.9-2.9v5.8M551.94 132.09h5.8m-2.9-2.9v5.8M552.07 104.45h5.8m-2.9-2.9v5.8M552.21 115.17h5.8m-2.9-2.9v5.8M552.34 121.31h5.8m-2.9-2.9v5.8M552.47 116.14h5.8m-2.9-2.9v5.8M552.6 113.6h5.8m-2.9-2.9v5.8M552.74 107.47h5.8m-2.9-2.9v5.8M552.87 108.84h5.8m-2.9-2.9v5.8M553 120.11h5.8m-2.9-2.9v5.8M553.13 119.2h5.8m-2.9-2.9v5.8M553.27 109.85h5.8m-2.9-2.9v5.8M553.4 110.94h5.8m-2.9-2.9v5.8M553.53 117.37h5.8m-2.9-2.9v5.8M553.66 99.33h5.8m-2.9-2.9v5.8M553.8 103.49h5.8m-2.9-2.9v5.8M553.93 111.63h5.8m-2.9-2.9v5.8M554.06 110.88h5.8m-2.9-2.9v5.8M554.19 103.27h5.8m-2.9-2.9v5.8M554.33 123.67h5.8m-2.9-2.9v5.8M554.46 99.5h5.8m-2.9-2.9v5.8M554.59 120.33h5.8m-2.9-2.9v5.8M554.72 136.82h5.8m-2.9-2.9v5.8M554.85 131.92h5.8m-2.9-2.9v5.8M554.99 140.54h5.8m-2.9-2.9v5.8M555.12 100.17h5.8m-2.9-2.9v5.8M555.25 142.99h5.8m-2.9-2.9v5.8M555.38 140.02h5.8m-2.9-2.9v5.8M555.52 140.45h5.8m-2.9-2.9v5.8M555.65 94.91h5.8m-2.9-2.9v5.8M555.78 125.57h5.8m-2.9-2.9v5.8M555.91 107.72h5.8m-2.9-2.9v5.8M556.05 103.12h5.8m-2.9-2.9v5.8M556.18 103.32h5.8m-2.9-2.9v5.8M556.31 106.41h5.8m-2.9-2.9v5.8M556.44 120.86h5.8m-2.9-2.9v5.8M556.58 117.47h5.8m-2.9-2.9v5.8M556.71 124.73h5.8m-2.9-2.9v5.8M556.84 111.98h5.8m-2.9-2.9v5.8M556.97 129.41h5.8m-2.9-2.9v5.8M557.11 78.52h5.8m-2.9-2.9v5.8M557.24 141.15h5.8m-2.9-2.9v5.8M557.37 134.83h5.8m-2.9-2.9v5.8M557.5 116.23h5.8m-2.9-2.9v5.8M557.64 110.8h5.8m-2.9-2.9v5.8M557.77 118.81h5.8m-2.9-2.9v5.8M557.9 83.48h5.8m-2.9-2.9v5.8M558.03 103.65h5.8m-2.9-2.9v5.8M558.16 101.12h5.8m-2.9-2.9v5.8M558.3 113.76h5.8m-2.9-2.9v5.8M558.43 115h5.8m-2.9-2.9v5.8M558.56 108.4h5.8m-2.9-2.9v5.8M558.69 120.15h5.8m-2.9-2.9v5.8M558.83 86h5.8m-2.9-2.9v5.8M558.96 111.6h5.8m-2.9-2.9v5.8M559.09 114.59h5.8m-2.9-2.9v5.8M559.22 128.54h5.8m-2.9-2.9v5.8M559.36 128.51h5.8m-2.9-2.9v5.8M559.49 100.42h5.8m-2.9-2.9v5.8M559.62 140.14h5.8m-2.9-2.9v5.8M559.75 122.85h5.8m-2.9-2.9v5.8M559.89 117.41h5.8m-2.9-2.9v5.8M560.02 116.64h5.8m-2.9-2.9v5.8M560.15 106.42h5.8m-2.9-2.9v5.8M560.28 116.66h5.8m-2.9-2.9v5.8M560.42 115.29h5.8m-2.9-2.9v5.8M560.55 113.69h5.8m-2.9-2.9v5.8M560.68 111.93h5.8m-2.9-2.9v5.8M560.81 109.3h5.8m-2.9-2.9v5.8M560.95 125.48h5.8m-2.9-2.9v5.8M561.08 123.3h5.8m-2.9-2.9v5.8M561.21 139.53h5.8m-2.9-2.9v5.8M561.34 144.73h5.8m-2.9-2.9v5.8M561.47 135.17h5.8m-2.9-2.9v5.8M561.61 86.43h5.8m-2.9-2.9v5.8M561.74 138.28h5.8m-2.9-2.9v5.8M561.87 101.75h5.8m-2.9-2.9v5.8M562 122.4h5.8m-2.9-2.9v5.8M562.14 126.28h5.8m-2.9-2.9v5.8M562.27 120.13h5.8m-2.9-2.9v5.8M562.4 113.63h5.8m-2.9-2.9v5.8M562.53 106.41h5.8m-2.9-2.9v5.8M562.67 113.57h5.8m-2.9-2.9v5.8M562.8 104.07h5.8m-2.9-2.9v5.8M562.93 113.97h5.8m-2.9-2.9v5.8M563.06 118.11h5.8m-2.9-2.9v5.8M563.2 108.88h5.8m-2.9-2.9v5.8M563.33 110.46h5.8m-2.9-2.9v5.8M563.46 107.22h5.8m-2.9-2.9v5.8M563.59 116.12h5.8m-2.9-2.9v5.8M563.73 88.36h5.8m-2.9-2.9v5.8M563.86 92.07h5.8m-2.9-2.9v5.8M563.99 101.13h5.8m-2.9-2.9v5.8M564.12 103.96h5.8m-2.9-2.9v5.8M564.25 106.72h5.8m-2.9-2.9v5.8M564.39 66.19h5.8m-2.9-2.9v5.8M564.52 136.12h5.8m-2.9-2.9v5.8M564.65 138.07h5.8m-2.9-2.9v5.8M564.78 140.21h5.8m-2.9-2.9v5.8M564.92 141.15h5.8m-2.9-2.9v5.8M565.05 135.82h5.8m-2.9-2.9v5.8M565.18 134.14h5.8m-2.9-2.9v5.8M565.31 86.03h5.8m-2.9-2.9v5.8M565.45 116.81h5.8m-2.9-2.9v5.8M565.58 131.14h5.8m-2.9-2.9v5.8M565.71 127.52h5.8m-2.9-2.9v5.8M565.84 143.96h5.8m-2.9-2.9v5.8M565.98 144.98h5.8m-2.9-2.9v5.8M566.11 139.89h5.8m-2.9-2.9v5.8M566.24 122.39h5.8m-2.9-2.9v5.8M566.37 121.58h5.8m-2.9-2.9v5.8M566.51 114.38h5.8m-2.9-2.9v5.8M566.64 103.24h5.8m-2.9-2.9v5.8M566.77 108.21h5.8m-2.9-2.9v5.8M566.9 115.3h5.8m-2.9-2.9v5.8M567.04 113.11h5.8m-2.9-2.9v5.8M567.17 111.42h5.8m-2.9-2.9v5.8M567.3 127.42h5.8m-2.9-2.9v5.8" stroke="#00f" stroke-width="1.1" fill="none"/>
<path d="M358.5 201.27L379.55 197.15L400.73 197.28L421.92 197.42L443.1 197.56L464.28 197.7L485.47 197.83L506.65 197.97L527.83 198.11L549.02 198.25L570.2 198.38" stroke="#000" stroke-width="1.8" fill="none" stroke-dasharray="5.4 5.19" stroke-dashoffset="2.7"/>
<path d="M356.3 199.07l4.4 4.4m0-4.4l-4.4 4.4M377.35 194.95l4.4 4.4m0-4.4l-4.4 4.4M398.53 195.08l4.4 4.4m0-4.4l-4.4 4.4M419.72 195.22l4.4 4.4m0-4.4l-4.4 4.4M440.9 195.36l4.4 4.4m0-4.4l-4.4 4.4M462.08 195.5l4.4 4.4m0-4.4l-4.4 4.4M483.27 195.63l4.4 4.4m0-4.4l-4.4 4.4M504.45 195.77l4.4 4.4m0-4.4l-4.4 4.4M525.63 195.91l4.4 4.4m0-4.4l-4.4 4.4M546.82 196.05l4.4 4.4m0-4.4l-4.4 4.4M568 196.18l4.4 4.4m0-4.4l-4.4 4.4" stroke="#000" stroke-width="2" fill="none"/>
</g>
<rect x="366.6" y="15.4" width="71.6" height="46.2" fill="#fff" stroke="#5a5a5a" stroke-width="1.1"/>
<path d="M371.2 23.7H395.3" stroke="#f00" stroke-width="1.8"/>
<path d="M383.25 21v5.4" stroke="#f00" stroke-width="1.6"/>
<path d="M371.2 38.4h4.8M390.7 38.4h4.6" stroke="#000" stroke-width="1.8"/>
<path d="M381.05 36.2l4.4 4.4m0-4.4l-4.4 4.4" stroke="#000" stroke-width="2.1"/>
<path d="M371.2 53H395.3" stroke="#6a6aff" stroke-width="1.0"/>
<path d="M383.25 50.2v5.6M380.25 53h6" stroke="#2222ff" stroke-width="1.1"/>
<text x="397.6" y="27.6" font-family="'Liberation Sans', Arial, sans-serif" font-size="11.8" textLength="27.2" lengthAdjust="spacingAndGlyphs" stroke="#000" stroke-width="0.35">static</text>
<text x="397.6" y="42.3" font-family="'Liberation Sans', Arial, sans-serif" font-size="11.8" textLength="31.4" lengthAdjust="spacingAndGlyphs" stroke="#000" stroke-width="0.35">rebuilt</text>
<text x="397.6" y="56.9" font-family="'Liberation Sans', Arial, sans-serif" font-size="11.8" textLength="29.3" lengthAdjust="spacingAndGlyphs" stroke="#000" stroke-width="0.35">adapt</text>
<text x="353.1" y="197.4" text-anchor="end" font-family="'Liberation Sans', Arial, sans-serif" font-size="13.4" stroke="#000" stroke-width="0.35">10<tspan font-size="9.4" dx="1.1" dy="-6.3">-4</tspan></text>
<text x="353.1" y="151.4" text-anchor="end" font-family="'Liberation Sans', Arial, sans-serif" font-size="13.4" stroke="#000" stroke-width="0.35">10<tspan font-size="9.4" dx="1.1" dy="-6.3">-3</tspan></text>
<text x="353.1" y="105.4" text-anchor="end" font-family="'Liberation Sans', Arial, sans-serif" font-size="13.4" stroke="#000" stroke-width="0.35">10<tspan font-size="9.4" dx="1.1" dy="-6.3">-2</tspan></text>
<text x="353.1" y="59.4" text-anchor="end" font-family="'Liberation Sans', Arial, sans-serif" font-size="13.4" stroke="#000" stroke-width="0.35">10<tspan font-size="9.4" dx="1.1" dy="-6.3">-1</tspan></text>
<text x="353.1" y="13.4" text-anchor="end" font-family="'Liberation Sans', Arial, sans-serif" font-size="13.4" stroke="#000" stroke-width="0.35">10<tspan font-size="9.4" dx="1.1" dy="-6.3">0</tspan></text>
<text x="422.57" y="254" text-anchor="middle" font-family="'Liberation Sans', Arial, sans-serif" font-size="13" stroke="#000" stroke-width="0.35">500</text>
<text x="488.76" y="254" text-anchor="middle" font-family="'Liberation Sans', Arial, sans-serif" font-size="13" stroke="#000" stroke-width="0.35">1000</text>
<text x="554.96" y="254" text-anchor="middle" font-family="'Liberation Sans', Arial, sans-serif" font-size="13" stroke="#000" stroke-width="0.35">1500</text>
<text transform="translate(318.9 122.4) rotate(-90)" text-anchor="middle" font-family="'Liberation Serif', 'Times New Roman', serif" font-size="14.2" textLength="155.5" lengthAdjust="spacingAndGlyphs" stroke="#000" stroke-width="0.2">rel <tspan font-style="italic">L</tspan><tspan font-size="10" dy="2.8">2</tspan><tspan dy="-2.8"> error over test set</tspan></text>
<text x="381.55" y="269.2" font-family="'Liberation Serif', 'Times New Roman', serif" font-size="12.6" textLength="165.6" lengthAdjust="spacingAndGlyphs" stroke="#000" stroke-width="0.2">#sensor samples for updating</text>
<text x="373.53" y="292.7" font-family="'Liberation Serif', 'Times New Roman', serif" font-size="15.3" font-weight="bold" textLength="21.68" lengthAdjust="spacingAndGlyphs">(b)</text>
<text x="401.19" y="291.4" font-family="'Liberation Serif', 'Times New Roman', serif" font-size="11.6" stroke="#000" stroke-width="0.2" textLength="36.27" lengthAdjust="spacingAndGlyphs">sensor</text>
<text x="441.66" y="291.4" font-family="'Liberation Serif', 'Times New Roman', serif" font-size="11.6" stroke="#000" stroke-width="0.2" textLength="23.44" lengthAdjust="spacingAndGlyphs">rate</text>
<text x="469.49" y="290.8" font-family="'Liberation Serif', 'Times New Roman', serif" font-size="12.5" font-style="italic" stroke="#000" stroke-width="0.2" textLength="6.9" lengthAdjust="spacingAndGlyphs">&#961;</text>
<text x="476.78" y="286.4" font-family="'Liberation Serif', 'Times New Roman', serif" font-size="9.0" font-weight="bold" textLength="33.55" lengthAdjust="spacingAndGlyphs">update</text>
<text x="514.64" y="293.6" font-family="'Liberation Serif', 'Times New Roman', serif" font-size="16.0" stroke="#000" stroke-width="0.2" textLength="10.36" lengthAdjust="spacingAndGlyphs">=</text>
<text x="527.76" y="291.7" font-family="'Liberation Serif', 'Times New Roman', serif" font-size="12.7" stroke="#000" stroke-width="0.2" textLength="28.51" lengthAdjust="spacingAndGlyphs">0.8%</text>
<path d="M51 546.3h2.2M262.7 546.3h-2.2M51 532.42h1.3M262.7 532.42h-1.3M51 524.3h1.3M262.7 524.3h-1.3M51 518.55h1.3M262.7 518.55h-1.3M51 514.08h1.3M262.7 514.08h-1.3M51 510.43h1.3M262.7 510.43h-1.3M51 507.34h1.3M262.7 507.34h-1.3M51 504.67h1.3M262.7 504.67h-1.3M51 502.31h1.3M262.7 502.31h-1.3M51 500.2h2.2M262.7 500.2h-2.2M51 486.32h1.3M262.7 486.32h-1.3M51 478.2h1.3M262.7 478.2h-1.3M51 472.45h1.3M262.7 472.45h-1.3M51 467.98h1.3M262.7 467.98h-1.3M51 464.33h1.3M262.7 464.33h-1.3M51 461.24h1.3M262.7 461.24h-1.3M51 458.57h1.3M262.7 458.57h-1.3M51 456.21h1.3M262.7 456.21h-1.3M51 454.1h2.2M262.7 454.1h-2.2M51 440.22h1.3M262.7 440.22h-1.3M51 432.1h1.3M262.7 432.1h-1.3M51 426.35h1.3M262.7 426.35h-1.3M51 421.88h1.3M262.7 421.88h-1.3M51 418.23h1.3M262.7 418.23h-1.3M51 415.14h1.3M262.7 415.14h-1.3M51 412.47h1.3M262.7 412.47h-1.3M51 410.11h1.3M262.7 410.11h-1.3M51 408h2.2M262.7 408h-2.2M51 394.12h1.3M262.7 394.12h-1.3M51 386h1.3M262.7 386h-1.3M51 380.25h1.3M262.7 380.25h-1.3M51 375.78h1.3M262.7 375.78h-1.3M51 372.13h1.3M262.7 372.13h-1.3M51 369.04h1.3M262.7 369.04h-1.3M51 366.37h1.3M262.7 366.37h-1.3M51 364.01h1.3M262.7 364.01h-1.3M51 361.9h2.2M262.7 361.9h-2.2M51 348.02h1.3M262.7 348.02h-1.3M51 339.9h1.3M262.7 339.9h-1.3M51 334.15h1.3M262.7 334.15h-1.3M51 329.68h1.3M262.7 329.68h-1.3M51 326.03h1.3M262.7 326.03h-1.3M51 322.94h1.3M262.7 322.94h-1.3M51 320.27h1.3M262.7 320.27h-1.3M51 317.91h1.3M262.7 317.91h-1.3M51 315.8h2.2M262.7 315.8h-2.2M117.07 546.3v-2.2M117.07 315.8v2.2M183.26 546.3v-2.2M183.26 315.8v2.2M249.46 546.3v-2.2M249.46 315.8v2.2" stroke="#4a4a4a" stroke-width="1" fill="none"/>
<rect x="51" y="315.8" width="211.7" height="230.5" fill="none" stroke="#4a4a4a" stroke-width="1.25"/>
<clipPath id="clipc"><rect x="47" y="315.8" width="219.7" height="234.5"/></clipPath>
<g clip-path="url(#clipc)">
<path d="M51 510.43L72.05 510.43L72.18 424.3L93.23 424.3L93.37 399.49L114.42 399.49L114.55 385.03L135.6 385.03L135.73 374.92L156.78 374.92L156.92 366.8L177.97 366.8L178.1 361.5L199.15 361.5L199.28 356.1L220.33 356.1L220.47 351.75L241.52 351.75L241.65 348.02L262.7 348.02" stroke="#f00" stroke-width="1.6" fill="none"/>
<path d="M48 510.43H75.05M69.18 424.3H96.23M90.37 399.49H117.42M111.55 385.03H138.6M132.73 374.92H159.78M153.92 366.8H180.97M175.1 361.5H202.15M196.28 356.1H223.33M217.47 351.75H244.52M238.65 348.02H265.7" stroke="#f00" stroke-width="5.9" fill="none"/>
<path d="M51 510.12l.13 1.55l.13-1.86l.14 .89l.13 2.6l.13-4.15l.13 1.77l.14-1.16l.13-1.96l.13 2.53l.13 2.17l.14-.64l.13-2.74l.13 3.99l.13-2.77l.14-.18l.13 2.46l.13-2.13l.13-.62l.14 2.14l.13-.47l.13-1.65l.13 2.97l.14-.68l.13-2.96l.13-28.91l.13 20.43l.13 .59l.14 4.62l.13-.9l.13-2.77l.13 1.08l.14 2.06l.13-18.07l.13 15.71l.13-1.93l.14 1.5l.13 2.69l.13-1.02l.13-.42l.14 2.25l.13-2.11l.13 4.02l.13-3.3l.14 1.38l.13 2l.13 2.01l.13 .48l.13 1.55l.14-2.44l.13-.19l.13 .89l.13 .91l.14 .46l.13 1.65l.13-.17l.13 1.31l.14-2.45l.13 2.13l.13-2.2l.13 2.29l.14-2.66l.13 .01l.13 .26l.13 .75l.14 2.22l.13 .23l.13 .8l.13-1.26l.14-1.65l.13 4.04l.13-4.64l.13 4.35l.13 1.04l.14-1.87l.13-.8l.13 2.2l.13 1.13l.14-3.62l.13 4.16l.13-2.69l.13 1.38l.14 .95l.13-.37l.13 1.78l.13 .25l.14-1.75l.13 2.08l.13-.16l.13-2.85l.14-.27l.13 1.17l.13 .51l.13 1.8l.14-.26l.13 1.36l.13 3.07l.13-3.93l.13 .17l.14-.84l.13-7.39l.13-3.83l.13 2.69l.14 1.09l.13-1.62l.13-1.95l.13 1.48l.14-.77l.13 2.1l.13-2.23l.13-.86l.14 2.98l.13-2.14l.13 2.8l.13-2.57l.14 2.74l.13-3.1l.13 .62l.13 1.76l.14-2.43l.13 2.13l.13-1.76l.13 1.57l.13-2.38l.14 1.73l.13-3.25l.13 1.53l.13-.17l.14 2.97l.13 1.18l.13-2.12l.13-4.24l.14 4.39l.13-3.52l.13-.1l.13 2.93l.14-.64l.13-2.49l.13 2.48l.13 .21l.14 .23l.13-1.08l.13 .25l.13-2.21l.13 1.57l.14-1.56l.13 2.04l.13-4.25l.13 4.19l.14 0l.13 1.02l.13 1.39l.13-1.36l.14-1.78l.13 1.9l.13-2.97l.13 3.92l.14 .03l.13-3.22l.13-.17l.13-83.9l.14 5.8l.13 .12l.13 2.27l.13 3.26l.14-3.46l.13 3.08l.13 .44l.13-.45l.13 2.52l.14-2.94l.13 4.05l.13-2.1l.13 1.08l.14-.99l.13 42.94l.13 .81l.13 3.03l.14 1.09l.13 1.81l.13-.57l.13 3.24l.14-1.67l.13-8.98l.13-.99l.13-3.69l.14 3.48l.13-2.13l.13 4.56l.13-4.1l.14-.59l.13 .64l.13-.5l.13 3.73l.13 1.47l.14-.63l.13-4.35l.13 .98l.13-.74l.14 2.89l.13-2.73l.13 4.92l.13-3.94l.14 3.07l.13-1.17l.13-2.16l.13-.37l.14 2.22l.13 .48l.13-3.43l.13 .73l.14 3.61l.13-1.91l.13 1.12l.13-2.35l.13 1.14l.14 .13l.13 .78l.13 1.38l.13-3.28l.14 1.5l.13 5.69l.13-3.89l.13-1.25l.14 2.16l.13 .47l.13-.51l.13-1.94l.14 2.77l.13-2.62l.13-1.96l.13 .93l.14 .01l.13 2.55l.13-2.78l.13 2.48l.14-1.69l.13 4.23l.13-4.81l.13 3.86l.13-1.17l.14-2.02l.13 2.26l.13 1.06l.13-.55l.14-2.49l.13 .06l.13 1l.13 2.76l.14-.37l.13-2.1l.13-.09l.13 3.1l.14 .06l.13-2.78l.13-.72l.13 2.16l.14-10.37l.13 1l.13 22.46l.13 8.04l.14 5.19l.13-2.41l.13 1.55l.13-.26l.13 2.53l.14-1.17l.13-.35l.13-.32l.13 1.23l.14 .73l.13 .24l.13-1.01l.13-.48l.14 .17l.13 1.94l.13-.79l.13-.42l.14-.86l.13 .53l.13 .41l.13 1.9l.14-2.39l.13 1.21l.13-.15l.13 .94l.14-.29l.13 .26l.13 .19l.13 .57l.13-1.29l.14-.34l.13 1.18l.13 .14l.13-.15l.14-.6l.13-1.7l.13 1.29l.13-1.92l.14 2.68l.13-.29l.13-.41l.13-.06l.14-1.22l.13-1.41l.13 2.11l.13-1.11l.14-1.03l.13-1.11l.13 1.86l.13-.84l.13-.44l.14 .98l.13-.56l.13 .7l.13 .36l.14-.4l.13-1.72l.13-.31l.13 .86l.14-107.9l.13 6.33l.13 2.54l.13-1.81l.14 2.8l.13 2.58l.13-.81l.13 1.19l.14-3.01l.13 6.72l.13-2.09l.13 .13l.14 3.33l.13-3.35l.13 .28l.13 .21l.13 40.11l.14 2.57l.13-.11l.13 3.2l.13 .66l.14 1.05l.13 1.5l.13 .71l.13 13.36l.14-1l.13 1.04l.13-1.25l.13-.41l.14 2.26l.13-4.41l.13-.92l.13 2.91l.14 1.03l.13 1.56l.13-.85l.13 .18l.14-1.77l.13 1.52l.13-1.37l.13 .37l.13 2.23l.14 1.81l.13-.21l.13-.15l.13-2.03l.14-2.39l.13 4.39l.13-3.13l.13 1.78l.14-2.85l.13-1.93l.13 2.5l.13 1.57l.14-.26l.13-1.56l.13 3.36l.13 1.07l.14-1.85l.13-2.85l.13 4.82l.13-3.64l.13 .58l.14 2.33l.13 1.25l.13 1.82l.13-.87l.14-2.62l.13-1.08l.13 2.89l.13-.02l.14 .5l.13-6.48l.13 7.91l.13 .3l.14-5.1l.13 4.52l.13-4.21l.13 3.85l.14-3.72l.13-.63l.13 3.87l.13-.81l.14 2.09l.13-3.75l.13 2.54l.13 1.4l.13-2.76l.14 .23l.13 .95l.13 .88l.13-2.77l.14 3.41l.13 .52l.13-1.17l.13-1.49l.14 1.96l.13-11.52l.13 1l.13 22.46l.14 8.04l.13 4.76l.13 .49l.13-.07l.14 .01l.13-2.3l.13 3.59l.13-1.08l.14-.35l.13 1.01l.13 .41l.13-1.47l.13-.62l.14 .38l.13 1.13l.13 .55l.13-.88l.14 2.25l.13-.61l.13-1.98l.13 1.08l.14 .38l.13 .45l.13 .31l.13 .56l.14-1.18l.13 .2l.13 .12l.13 2.85l.14-3.29l.13 .52l.13-.79l.13 1.83l.14 1.35l.13-.93l.13-.51l.13-2.8l.13 2.41l.14-.4l.13-1.48l.13-.04l.13-.2l.14 1.19l.13-2.28l.13 1.22l.13 1.02l.14-1.29l.13 1.54l.13-.28l.13-.65l.14 .33l.13-.77l.13 .01l.13-.29l.14 .23l.13-1.96l.13 1.81l.13-.56l.13 .22l.14-.42l.13-123.15l.13 5.73l.13 4.38l.14-1.21l.13 2.46l.13 2.06l.13-.72l.14 .82l.13 1.43l.13-1.61l.13-1.88l.14 2.84l.13-.82l.13 .14l.13 5.75l.14-5.63l.13 5.73l.13 34.3l.13 3.38l.14 .61l.13-1.08l.13 2.74l.13 4.81l.13 1.42l.14 .31l.13-1.91l.13 17.46l.13 8.84l.14-1.53l.13 4.77l.13 1.76l.13-2.31l.14-2.98l.13 3.88l.13 2.86l.13-3.63l.14-2.45l.13 .65l.13 1.67l.13 .45l.14 3.42l.13-4.2l.13-3.86l.13 5.06l.14-4.31l.13 6.06l.13-1.59l.13 .25l.13-.83l.14 3.79l.13-6.07l.13 3.25l.13 3.93l.14-5.7l.13 1.14l.13 3.04l.13-2.31l.14-1.83l.13 .32l.13 .81l.13 2.16l.14-1.89l.13-2l.13-1.78l.13 3.28l.14-.32l.13-.24l.13 2.62l.13 3.2l.13-2.34l.14-.65l.13-.72l.13 .64l.13 1.7l.14-.2l.13-.47l.13 1.5l.13 .07l.14 2l.13-2.66l.13-.81l.13 1.72l.14-.66l.13-.6l.13 2.57l.13-.81l.14 .66l.13-2.73l.13 3.35l.13-2.28l.14 4.34l.13-7.72l.13 2.54l.13 2.87l.13-13.28l.14 1l.13 22.46l.13 8.04l.13 4.61l.14-1.69l.13 1.76l.13 1.56l.13-1.22l.14 .52l.13-.81l.13 .41l.13 1.74l.14-1.6l.13-.56l.13-.3l.13 1.08l.14-1.28l.13 .49l.13 .73l.13-.59l.14 3.86l.13-3.35l.13-.06l.13 1.55l.13-.73l.14 1.48l.13-.32l.13 .13l.13 .93l.14-.63l.13 1.55l.13-1.37l.13-1.57l.14-.06l.13 1.77l.13-1.75l.13 1.1l.14 1.42l.13-.73l.13-.65l.13-.16l.14-.74l.13 1.12l.13-.4l.13-1.46l.14 .7l.13-.39l.13 .31l.13-.83l.13-.18l.14 1.28l.13-1.89l.13 1.51l.13-1.04l.14 .47l.13-1.02l.13 .23l.13-.4l.14 .27l.13 .11l.13-.42l.13 .08l.14 .63l.13 .54l.13-2.05l.13-132.22l.14 11.52l.13-1.61l.13 2.56l.13-.51l.13-.36l.14 1.59l.13 1.73l.13 3.51l.13-2.03l.14 .48l.13-1.26l.13 3.87l.13 37l.14 .61l.13-.45l.13 4.39l.13-1.76l.14 2.29l.13 1.8l.13 1.98l.13 .46l.14-1.45l.13 27.59l.13 11.43l.13-1.03l.14-3.48l.13 .79l.13 .44l.13-.23l.13 .51l.14 2.54l.13 1.52l.13-4.72l.13 2.89l.14-.42l.13 1.31l.13-1.91l.13-1.63l.14 3.7l.13-1.06l.13 .28l.13-1.14l.14 1.47l.13-.01l.13 1.41l.13-1.22l.14 1.66l.13-2.91l.13 1.88l.13-3.57l.14 4.88l.13 .82l.13-3.91l.13 .67l.13 4.22l.14-8.08l.13 5.8l.13-2.55l.13 3.2l.14-2.13l.13-.77l.13 3.37l.13-1.63l.14-.98l.13-2.33l.13 2.28l.13-.78l.14 1.76l.13-.14l.13 .36l.13 1.68l.14 3.44l.13-.2l.13-4.08l.13-.18l.13 .96l.14 1.44l.13-.06l.13 1.68l.13-4.92l.14 5.96l.13-6.7l.13 4.37l.13-6.04l.14 4.33l.13 1.75l.13-.8l.13 1.34l.14-4.02l.13 3.28l.13-.43l.13-10.28l.14 1l.13 22.46l.13 8.04l.13 5l.14-1.21l.13 2.02l.13-.63l.13-1.63l.13 3.17l.14-2.05l.13-.68l.13 1.09l.13-1.12l.14 .32l.13 .82l.13 2.03l.13-.9l.14-.01l.13-1.09l.13 1.12l.13 .32l.14 1.04l.13-.87l.13-.26l.13 2.57l.14-2.05l.13-.28l.13 .72l.13 .02l.14 .51l.13-1.22l.13 1.45l.13-1.47l.13 .88l.14 2.2l.13-1.47l.13-.66l.13-.63l.14 .54l.13 .11l.13-.99l.13-.83l.14 2.97l.13-1.19l.13-2.24l.13 1.16l.14 1.03l.13-2.58l.13-.36l.13 1.88l.14-1.02l.13 .55l.13-.44l.13-.68l.14 1.01l.13-.29l.13 .09l.13 1.17l.13-2.11l.14-.46l.13 .49l.13-.01l.13-.82l.14 1.26l.13 .2l.13-1.5l.13 .16l.14-140.8l.13 13.3l.13-1.67l.13 2.42l.14-4.83l.13 4.59l.13-1.35l.13 5.31l.14-1.48l.13-2.23l.13 2.41l.13 .86l.13-1.54l.14 1.43l.13 .51l.13 .31l.13 1.73l.14-2.7l.13 37.99l.13 2.41l.13 1.15l.14 2.85l.13-.15l.13-2.53l.13 4.27l.14-.22l.13-2.03l.13 1.65l.13 1.82l.14 .75l.13 35.59l.13 8.95l.13-2.53l.14 1.24l.13 3.17l.13-4.31l.13 1.26l.13-.47l.14-.2l.13 1.06l.13 1.27l.13-2.17l.14 .39l.13 2.96l.13-.06l.13-.78l.14-.43l.13 1.25l.13 2.85l.13-5.15l.14 3.89l.13 1.1l.13-.52l.13-1.73l.14 .69l.13 4.36l.13-1.41l.13 .19l.14-1.57l.13-1.7l.13 1.7l.13-5.22l.13 2.32l.14-1.11l.13 1.58l.13 4.14l.13-3.46l.14 4.07l.13-.86l.13-2.4l.13 .45l.14-1.09l.13 1.88l.13-2.63l.13 .64l.14 1.02l.13 2.28l.13-.18l.13-3.26l.14-3.62l.13 6.9l.13-1.22l.13 2.25l.14 3.31l.13-6.14l.13 1.02l.13-.96l.13 2.79l.14 .52l.13-4.62l.13 5.03l.13-3.21l.14-.41l.13 2.07l.13-10.65l.13 1l.14 22.46l.13 8.04l.13 4.65l.13-.6l.14 1.95l.13-1.22l.13 .21l.13 1.07l.14-.89l.13-.94l.13-1.17l.13 3.22l.13-1.27l.14 .14l.13 .77l.13 .37l.13-.84l.14-.09l.13 2.08l.13-2.54l.13 1.63l.14-.1l.13 .74l.13-1.51l.13 2.45l.14-.64l.13-.44l.13 1.09l.13-.49l.14-.55l.13-.48l.13 1.36l.13 .38l.14-.84l.13 .19l.13 .92l.13-1.85l.13 .92l.14 .42l.13-1.8l.13 .23l.13 1.09l.14-1.44l.13 1.12l.13-.25l.13 .27l.14-1.79l.13 .77l.13-.78l.13 1.59l.14-.91l.13 1.01l.13-1.05l.13-.34l.14-.31l.13 1.1l.13-2.47l.13 2.32l.14-2.68l.13 1.06l.13-1.19l.13 1.75l.13-1.15l.14-.55l.13-145.65l.13 11.14l.13-1.57l.14 2.79l.13-1.14l.13 2.79l.13 .4l.14-.8l.13 4.03l.13 1.15l.13-2.29l.14-2.52l.13 1.63l.13 2.72l.13-.26l.14 1.21l.13 .29l.13 34.59l.13 4.51l.13 1.07l.14 2.03l.13-.43l.13-1.56l.13 2.51l.14 2.69l.13 .12l.13 .8l.13 40.44l.14 7.13l.13 .26l.13-1.6l.13 1.48l.14-1.06l.13 3.95l.13 .4l.13-1.07l.14-4.82l.13 6.57l.13-2.6l.13-.59l.14 3.11l.13 .68l.13-6.61l.13 4.6l.13 .55l.14-1.39l.13 .63l.13 3.27l.13 .72l.14-3.02l.13 1.3l.13-1.38l.13 2.42l.14-7.58l.13 4.39l.13-3.08l.13 5.17l.14-.71l.13 .85l.13-1.08l.13-.68l.14 2.03l.13 1.22l.13-.64l.13-.89l.14-1.98l.13 4.99l.13-1.46l.13-2.28l.13-1.81l.14 3.76l.13-1.41l.13 1.14l.13 .22l.14-.71l.13 1.5l.13-.5l.13 .24l.14-3.71l.13 3.32l.13-3.31l.13 3.72l.14-.45l.13 2.11l.13-1.98l.13-2.37l.14-.32l.13 5.55l.13-7.11l.13 4.45l.14-.3l.13-.87l.13 2l.13 1.94l.13-1.75l.14 .93l.13-4.56l.13-6.81l.13 1l.14 22.46l.13 8.04l.13 4.14l.13 2.21l.14-3.11l.13 .8l.13 .71l.13 1.79l.14-4.52l.13 3.4l.13 .14l.13 .34l.14-.54l.13 .36l.13-.23l.13-.02l.13 .55l.14-.86l.13 2.08l.13-1.66l.13 .64l.14 .44l.13-.5l.13 .55l.13 .17l.14 .74l.13 .49l.13 .71l.13-.08l.14-.41l.13-1.18l.13 1.07l.13-.46l.14 .96l.13 .29l.13-1.58l.13-2.16l.14 2.98l.13-2.33l.13 2.12l.13-.08l.13-.38l.14-.19l.13-1.64l.13 .45l.13-.03l.14 .43l.13-1.44l.13-.95l.13 1.24l.14 .46l.13 .48l.13-.79l.13 .69l.14-2.46l.13 1.75l.13-1.87l.13 2l.14-2.02l.13 .11l.13-.29l.13-150.86l.14 14.38l.13-5.34l.13 7.08l.13-3.37l.13 2.64l.14 2.03l.13-2.39l.13-.42l.13 1.25l.14 4.31l.13-.32l.13-1.48l.13 .87l.14-.25l.13 2.41l.13 3.07l.13 33.61l.14-1.09l.13 2.7l.13 1.4l.13-1.77l.14-.12l.13 3.66l.13 .29l.13 .81l.13-.49l.14 2.51l.13 46.47l.13 10.47l.13-5.05l.14-.38l.13 3.11l.13-.06l.13-.09l.14 .47l.13 1.68l.13-2.79l.13-.01l.14-.51l.13 4.19l.13-2.27l.13 3.14l.14-6.28l.13 6.91l.13-2.7l.13-3.35l.14 6.79l.13-3.66l.13 3.75l.13-5.17l.13 2.72l.14 .55l.13 .82l.13-2.89l.13 .9l.14-1.07l.13-.16l.13 2.92l.13-1.64l.14-2.01l.13 1.67l.13 .29l.13 .68l.14 1.21l.13-.86l.13 .24l.13-5.05l.14 5.68l.13 1.55l.13-2.68l.13 1.32l.14 .92l.13-2.84l.13 2.12l.13 1.38l.13-2.72l.14-2.71l.13 1.4l.13 2.25l.13 0l.14 .79l.13-1.42l.13 1.96l.13-1.04l.14 1.16l.13-.65l.13 4.58l.13-3.92l.14 1.21l.13-.36l.13-1.33l.13 3.45l.14-.7l.13-12.51l.13 1l.13 22.46l.14 8.04l.13 4.03l.13 .23l.13-.65l.13 .65l.14 1.89l.13-1.7l.13 .63l.13-.13l.14-.66l.13 .93l.13 .41l.13 1.39l.14-.93l.13-1l.13 .38l.13 1.71l.14 .27l.13-.77l.13-.64l.13 1.21l.14-1.77l.13-.57l.13 3.06l.13-2.72l.13 .2l.14 3.73l.13-.23l.13-1.21l.13-.01l.14 .9l.13-.65l.13-.71l.13 1.4l.14 1.11l.13-1.88l.13-1.13l.13-.74l.14 .24l.13 3.36l.13-1.55l.13-1.11l.14 .55l.13-1.4l.13-.04l.13-.53l.14-.63l.13 1.67l.13-2.24l.13 2.75l.13-.43l.14-.1l.13-.32l.13-1.54l.13-1.05l.14 2.75l.13-2.15l.13-.57l.13 .72l.14 1.97l.13-2.38l.13-.55l.13 2.33l.14-157.48l.13 11.95l.13 1.7l.13-.71l.14 .34l.13 4.62l.13 .47l.13-2.79l.14 2.54l.13-1.33l.13 1.05l.13 2.79l.13-2.23l.14 1.36l.13 2.31l.13 .4l.13 .68l.14-.8l.13 32.7l.13 1.49l.13 1.91l.14 2.58l.13-1.1l.13 1.2l.13 1.69l.14 1.24l.13-2.45l.13 1l.13 4.92l.14 48.48l.13 7.95l.13-2.78l.13 5.5l.13-3.59l.14 3.28l.13-.55l.13-.8l.13-1.4l.14 1.79l.13 3.57l.13-4.79l.13 1.84l.14 .57l.13 3.17l.13-2.54l.13-3.17l.14-.09l.13 1.71l.13 2.89l.13-3.31l.14 3.45l.13-3.28l.13 2.83l.13 2.14l.14-3.94l.13 .58l.13 .1l.13 2.37l.13 .41l.14-4.35l.13 2.51l.13-3.36l.13 .09l.14 5.69l.13-1.36l.13 5.35l.13-5.72l.14 1.32l.13-1.73l.13 1.29l.13 .5l.14 .68l.13 .01l.13-3.99l.13 1.28l.14-3.02l.13 2.89l.13 2.54l.13 .27l.14-4.21l.13 7.31l.13-3.99l.13 .65l.13 4.06l.14-6.47l.13 2.3l.13 .59l.13 1.42l.14-1.56l.13 .27l.13-2.26l.13 2.87l.14-5.6l.13-5.99l.13 1l.13 22.46l.14 8.04l.13 4.85l.13-.57l.13 .84l.14-1.24l.13 1.28l.13-1.59l.13 .5l.14 .67l.13 2.03l.13-1.38l.13 .19l.13-.52l.14 1.98l.13-1.75l.13 .09l.13 .82l.14-.21l.13 .84l.13-1.19l.13 2.08l.14-.34l.13-2.85l.13 2.53l.13 .1l.14 .93l.13-.49l.13-.36l.13 1.44l.14 .37l.13-.83l.13-1.73l.13 1.86l.13-2.79l.14 1.14l.13 .39l.13 .9l.13-1.04l.14-2.37l.13 3.82l.13-1.71l.13-1.32l.14 .52l.13 .67l.13 .39l.13-1.38l.14 2.34l.13-3.38l.13 2.31l.13 .94l.14-1.66l.13-.26l.13 .07l.13 1.06l.14-.93l.13-1.51l.13 .24l.13-.85l.13 .78l.14 1.02l.13-.84l.13-.47l.13-.27l.14-.21l.13-159.38l.13 13.75l.13 .78l.14 3.32l.13-2.31l.13 1.63l.13 2.49l.14-.04l.13 1.51l.13 .17l.13 4.19l.14 .9l.13-3.53l.13 34.05l.13-1.24l.14 .94l.13 2.75l.13-1.03l.13 5.01l.13-.44l.14 3.16l.13-.88l.13 53.41l.13 8.95l.14 2.79l.13-2.48l.13 2.23l.13-1.73l.14 1.81l.13-3.31l.13 .74l.13 .5l.14-.78l.13-.85l.13 2.71l.13 1.56l.14-.08l.13-4.6l.13 2.76l.13 3.15l.13-.02l.14-4.55l.13 3.1l.13-3.99l.13 .52l.14 3.78l.13 .19l.13 1.43l.13-3.39l.14 4.56l.13-3.64l.13 1.8l.13-3.82l.14 4l.13 .97l.13-2.72l.13 3.46l.14-3.41l.13 2.16l.13 .7l.13-.45l.14-.05l.13 2.16l.13-3.7l.13 1.45l.13 1.21l.14-3.86l.13 2.26l.13-2.81l.13 7.14l.14-6.42l.13 2.57l.13-3.11l.13 3.35l.14 1.26l.13 .39l.13-2.03l.13 4.15l.14-2.38l.13 1.42l.13-6.79l.13 3.84l.14 1.73l.13 5.66l.13-5.74l.13 1.16l.14-1.02l.13-.06l.13 1.65l.13 1.28l.13-1.96l.14-.25l.13-.05l.13-11.16l.13 1l.14 22.46l.13 8.04l.13 4.34l.13-.28l.14 1.26l.13-1.45l.13 1.29l.13-.4l.14 .7l.13-.54l.13-1.09l.13 1.12l.14 .42l.13 .15l.13 .77l.13 .72l.14 .92l.13-1.89l.13-.23l.13-.04l.13 2.5l.14-.86l.13-1.01l.13 .92l.13-.94l.14-.07l.13 2.15l.13-1.85l.13 1l.14 .5l.13-.63l.13 1.01l.13 1.04l.14-2.18l.13 .14l.13-.11l.13 .21l.14 1.32l.13-1.4l.13-1.65l.13 1.02l.13 .2l.14-.32l.13 .3l.13-.36l.13-.09l.14 .5l.13-.54l.13-.25l.13-.2l.14-2.35l.13 2.48l.13 .69l.13-1.13l.14 1.36l.13-3.39l.13 2.09l.13-.53l.14-.45l.13-.79l.13 1.22l.13-.97l.14 .39l.13-.29l.13-.7" stroke="#2a2aff" stroke-width="0.7" fill="none"/>
<path d="M48.1 510.12h5.8m-2.9-2.9v5.8M48.23 511.67h5.8m-2.9-2.9v5.8M48.36 509.81h5.8m-2.9-2.9v5.8M48.5 510.7h5.8m-2.9-2.9v5.8M48.63 513.3h5.8m-2.9-2.9v5.8M48.76 509.15h5.8m-2.9-2.9v5.8M48.89 510.92h5.8m-2.9-2.9v5.8M49.03 509.76h5.8m-2.9-2.9v5.8M49.16 507.8h5.8m-2.9-2.9v5.8M49.29 510.33h5.8m-2.9-2.9v5.8M49.42 512.5h5.8m-2.9-2.9v5.8M49.56 511.86h5.8m-2.9-2.9v5.8M49.69 509.12h5.8m-2.9-2.9v5.8M49.82 513.11h5.8m-2.9-2.9v5.8M49.95 510.34h5.8m-2.9-2.9v5.8M50.09 510.16h5.8m-2.9-2.9v5.8M50.22 512.62h5.8m-2.9-2.9v5.8M50.35 510.49h5.8m-2.9-2.9v5.8M50.48 509.87h5.8m-2.9-2.9v5.8M50.62 512.01h5.8m-2.9-2.9v5.8M50.75 511.54h5.8m-2.9-2.9v5.8M50.88 509.89h5.8m-2.9-2.9v5.8M51.01 512.86h5.8m-2.9-2.9v5.8M51.15 512.18h5.8m-2.9-2.9v5.8M51.28 509.22h5.8m-2.9-2.9v5.8M51.41 480.31h5.8m-2.9-2.9v5.8M51.54 500.74h5.8m-2.9-2.9v5.8M51.67 501.33h5.8m-2.9-2.9v5.8M51.81 505.95h5.8m-2.9-2.9v5.8M51.94 505.05h5.8m-2.9-2.9v5.8M52.07 502.28h5.8m-2.9-2.9v5.8M52.2 503.36h5.8m-2.9-2.9v5.8M52.34 505.42h5.8m-2.9-2.9v5.8M52.47 487.35h5.8m-2.9-2.9v5.8M52.6 503.06h5.8m-2.9-2.9v5.8M52.73 501.13h5.8m-2.9-2.9v5.8M52.87 502.63h5.8m-2.9-2.9v5.8M53 505.32h5.8m-2.9-2.9v5.8M53.13 504.3h5.8m-2.9-2.9v5.8M53.26 503.88h5.8m-2.9-2.9v5.8M53.4 506.13h5.8m-2.9-2.9v5.8M53.53 504.02h5.8m-2.9-2.9v5.8M53.66 508.04h5.8m-2.9-2.9v5.8M53.79 504.74h5.8m-2.9-2.9v5.8M53.93 506.12h5.8m-2.9-2.9v5.8M54.06 508.12h5.8m-2.9-2.9v5.8M54.19 510.13h5.8m-2.9-2.9v5.8M54.32 510.61h5.8m-2.9-2.9v5.8M54.45 512.16h5.8m-2.9-2.9v5.8M54.59 509.72h5.8m-2.9-2.9v5.8M54.72 509.53h5.8m-2.9-2.9v5.8M54.85 510.42h5.8m-2.9-2.9v5.8M54.98 511.33h5.8m-2.9-2.9v5.8M55.12 511.79h5.8m-2.9-2.9v5.8M55.25 513.44h5.8m-2.9-2.9v5.8M55.38 513.27h5.8m-2.9-2.9v5.8M55.51 514.58h5.8m-2.9-2.9v5.8M55.65 512.13h5.8m-2.9-2.9v5.8M55.78 514.26h5.8m-2.9-2.9v5.8M55.91 512.06h5.8m-2.9-2.9v5.8M56.04 514.35h5.8m-2.9-2.9v5.8M56.18 511.69h5.8m-2.9-2.9v5.8M56.31 511.7h5.8m-2.9-2.9v5.8M56.44 511.96h5.8m-2.9-2.9v5.8M56.57 512.71h5.8m-2.9-2.9v5.8M56.71 514.93h5.8m-2.9-2.9v5.8M56.84 515.16h5.8m-2.9-2.9v5.8M56.97 515.96h5.8m-2.9-2.9v5.8M57.1 514.7h5.8m-2.9-2.9v5.8M57.24 513.05h5.8m-2.9-2.9v5.8M57.37 517.09h5.8m-2.9-2.9v5.8M57.5 512.45h5.8m-2.9-2.9v5.8M57.63 516.8h5.8m-2.9-2.9v5.8M57.76 517.84h5.8m-2.9-2.9v5.8M57.9 515.97h5.8m-2.9-2.9v5.8M58.03 515.17h5.8m-2.9-2.9v5.8M58.16 517.37h5.8m-2.9-2.9v5.8M58.29 518.5h5.8m-2.9-2.9v5.8M58.43 514.88h5.8m-2.9-2.9v5.8M58.56 519.04h5.8m-2.9-2.9v5.8M58.69 516.35h5.8m-2.9-2.9v5.8M58.82 517.73h5.8m-2.9-2.9v5.8M58.96 518.68h5.8m-2.9-2.9v5.8M59.09 518.31h5.8m-2.9-2.9v5.8M59.22 520.09h5.8m-2.9-2.9v5.8M59.35 520.34h5.8m-2.9-2.9v5.8M59.49 518.59h5.8m-2.9-2.9v5.8M59.62 520.67h5.8m-2.9-2.9v5.8M59.75 520.51h5.8m-2.9-2.9v5.8M59.88 517.66h5.8m-2.9-2.9v5.8M60.02 517.39h5.8m-2.9-2.9v5.8M60.15 518.56h5.8m-2.9-2.9v5.8M60.28 519.07h5.8m-2.9-2.9v5.8M60.41 520.87h5.8m-2.9-2.9v5.8M60.55 520.61h5.8m-2.9-2.9v5.8M60.68 521.97h5.8m-2.9-2.9v5.8M60.81 525.04h5.8m-2.9-2.9v5.8M60.94 521.11h5.8m-2.9-2.9v5.8M61.07 521.28h5.8m-2.9-2.9v5.8M61.21 520.44h5.8m-2.9-2.9v5.8M61.34 513.05h5.8m-2.9-2.9v5.8M61.47 509.22h5.8m-2.9-2.9v5.8M61.6 511.91h5.8m-2.9-2.9v5.8M61.74 513h5.8m-2.9-2.9v5.8M61.87 511.38h5.8m-2.9-2.9v5.8M62 509.43h5.8m-2.9-2.9v5.8M62.13 510.91h5.8m-2.9-2.9v5.8M62.27 510.14h5.8m-2.9-2.9v5.8M62.4 512.24h5.8m-2.9-2.9v5.8M62.53 510.01h5.8m-2.9-2.9v5.8M62.66 509.15h5.8m-2.9-2.9v5.8M62.8 512.13h5.8m-2.9-2.9v5.8M62.93 509.99h5.8m-2.9-2.9v5.8M63.06 512.79h5.8m-2.9-2.9v5.8M63.19 510.22h5.8m-2.9-2.9v5.8M63.33 512.96h5.8m-2.9-2.9v5.8M63.46 509.86h5.8m-2.9-2.9v5.8M63.59 510.48h5.8m-2.9-2.9v5.8M63.72 512.24h5.8m-2.9-2.9v5.8M63.86 509.81h5.8m-2.9-2.9v5.8M63.99 511.94h5.8m-2.9-2.9v5.8M64.12 510.18h5.8m-2.9-2.9v5.8M64.25 511.75h5.8m-2.9-2.9v5.8M64.38 509.37h5.8m-2.9-2.9v5.8M64.52 511.1h5.8m-2.9-2.9v5.8M64.65 507.85h5.8m-2.9-2.9v5.8M64.78 509.38h5.8m-2.9-2.9v5.8M64.91 509.21h5.8m-2.9-2.9v5.8M65.05 512.18h5.8m-2.9-2.9v5.8M65.18 513.36h5.8m-2.9-2.9v5.8M65.31 511.24h5.8m-2.9-2.9v5.8M65.44 507h5.8m-2.9-2.9v5.8M65.58 511.39h5.8m-2.9-2.9v5.8M65.71 507.87h5.8m-2.9-2.9v5.8M65.84 507.77h5.8m-2.9-2.9v5.8M65.97 510.7h5.8m-2.9-2.9v5.8M66.11 510.06h5.8m-2.9-2.9v5.8M66.24 507.57h5.8m-2.9-2.9v5.8M66.37 510.05h5.8m-2.9-2.9v5.8M66.5 510.26h5.8m-2.9-2.9v5.8M66.64 510.49h5.8m-2.9-2.9v5.8M66.77 509.41h5.8m-2.9-2.9v5.8M66.9 509.66h5.8m-2.9-2.9v5.8M67.03 507.45h5.8m-2.9-2.9v5.8M67.16 509.02h5.8m-2.9-2.9v5.8M67.3 507.46h5.8m-2.9-2.9v5.8M67.43 509.5h5.8m-2.9-2.9v5.8M67.56 505.25h5.8m-2.9-2.9v5.8M67.69 509.44h5.8m-2.9-2.9v5.8M67.83 509.44h5.8m-2.9-2.9v5.8M67.96 510.46h5.8m-2.9-2.9v5.8M68.09 511.85h5.8m-2.9-2.9v5.8M68.22 510.49h5.8m-2.9-2.9v5.8M68.36 508.71h5.8m-2.9-2.9v5.8M68.49 510.61h5.8m-2.9-2.9v5.8M68.62 507.64h5.8m-2.9-2.9v5.8M68.75 511.56h5.8m-2.9-2.9v5.8M68.89 511.59h5.8m-2.9-2.9v5.8M69.02 508.37h5.8m-2.9-2.9v5.8M69.15 508.2h5.8m-2.9-2.9v5.8M69.28 424.3h5.8m-2.9-2.9v5.8M69.42 430.1h5.8m-2.9-2.9v5.8M69.55 430.22h5.8m-2.9-2.9v5.8M69.68 432.49h5.8m-2.9-2.9v5.8M69.81 435.75h5.8m-2.9-2.9v5.8M69.95 432.29h5.8m-2.9-2.9v5.8M70.08 435.37h5.8m-2.9-2.9v5.8M70.21 435.81h5.8m-2.9-2.9v5.8M70.34 435.36h5.8m-2.9-2.9v5.8M70.47 437.88h5.8m-2.9-2.9v5.8M70.61 434.94h5.8m-2.9-2.9v5.8M70.74 438.99h5.8m-2.9-2.9v5.8M70.87 436.89h5.8m-2.9-2.9v5.8M71 437.97h5.8m-2.9-2.9v5.8M71.14 436.98h5.8m-2.9-2.9v5.8M71.27 479.92h5.8m-2.9-2.9v5.8M71.4 480.73h5.8m-2.9-2.9v5.8M71.53 483.76h5.8m-2.9-2.9v5.8M71.67 484.85h5.8m-2.9-2.9v5.8M71.8 486.66h5.8m-2.9-2.9v5.8M71.93 486.09h5.8m-2.9-2.9v5.8M72.06 489.33h5.8m-2.9-2.9v5.8M72.2 487.66h5.8m-2.9-2.9v5.8M72.33 478.68h5.8m-2.9-2.9v5.8M72.46 477.69h5.8m-2.9-2.9v5.8M72.59 474h5.8m-2.9-2.9v5.8M72.73 477.48h5.8m-2.9-2.9v5.8M72.86 475.35h5.8m-2.9-2.9v5.8M72.99 479.91h5.8m-2.9-2.9v5.8M73.12 475.81h5.8m-2.9-2.9v5.8M73.26 475.22h5.8m-2.9-2.9v5.8M73.39 475.86h5.8m-2.9-2.9v5.8M73.52 475.36h5.8m-2.9-2.9v5.8M73.65 479.09h5.8m-2.9-2.9v5.8M73.78 480.56h5.8m-2.9-2.9v5.8M73.92 479.93h5.8m-2.9-2.9v5.8M74.05 475.58h5.8m-2.9-2.9v5.8M74.18 476.56h5.8m-2.9-2.9v5.8M74.31 475.82h5.8m-2.9-2.9v5.8M74.45 478.71h5.8m-2.9-2.9v5.8M74.58 475.98h5.8m-2.9-2.9v5.8M74.71 480.9h5.8m-2.9-2.9v5.8M74.84 476.96h5.8m-2.9-2.9v5.8M74.98 480.03h5.8m-2.9-2.9v5.8M75.11 478.86h5.8m-2.9-2.9v5.8M75.24 476.7h5.8m-2.9-2.9v5.8M75.37 476.33h5.8m-2.9-2.9v5.8M75.51 478.55h5.8m-2.9-2.9v5.8M75.64 479.03h5.8m-2.9-2.9v5.8M75.77 475.6h5.8m-2.9-2.9v5.8M75.9 476.33h5.8m-2.9-2.9v5.8M76.04 479.94h5.8m-2.9-2.9v5.8M76.17 478.03h5.8m-2.9-2.9v5.8M76.3 479.15h5.8m-2.9-2.9v5.8M76.43 476.8h5.8m-2.9-2.9v5.8M76.56 477.94h5.8m-2.9-2.9v5.8M76.7 478.07h5.8m-2.9-2.9v5.8M76.83 478.85h5.8m-2.9-2.9v5.8M76.96 480.23h5.8m-2.9-2.9v5.8M77.09 476.95h5.8m-2.9-2.9v5.8M77.23 478.45h5.8m-2.9-2.9v5.8M77.36 484.14h5.8m-2.9-2.9v5.8M77.49 480.25h5.8m-2.9-2.9v5.8M77.62 479h5.8m-2.9-2.9v5.8M77.76 481.16h5.8m-2.9-2.9v5.8M77.89 481.63h5.8m-2.9-2.9v5.8M78.02 481.12h5.8m-2.9-2.9v5.8M78.15 479.18h5.8m-2.9-2.9v5.8M78.29 481.95h5.8m-2.9-2.9v5.8M78.42 479.33h5.8m-2.9-2.9v5.8M78.55 477.37h5.8m-2.9-2.9v5.8M78.68 478.3h5.8m-2.9-2.9v5.8M78.82 478.31h5.8m-2.9-2.9v5.8M78.95 480.86h5.8m-2.9-2.9v5.8M79.08 478.08h5.8m-2.9-2.9v5.8M79.21 480.56h5.8m-2.9-2.9v5.8M79.35 478.87h5.8m-2.9-2.9v5.8M79.48 483.1h5.8m-2.9-2.9v5.8M79.61 478.29h5.8m-2.9-2.9v5.8M79.74 482.15h5.8m-2.9-2.9v5.8M79.87 480.98h5.8m-2.9-2.9v5.8M80.01 478.96h5.8m-2.9-2.9v5.8M80.14 481.22h5.8m-2.9-2.9v5.8M80.27 482.28h5.8m-2.9-2.9v5.8M80.4 481.73h5.8m-2.9-2.9v5.8M80.54 479.24h5.8m-2.9-2.9v5.8M80.67 479.3h5.8m-2.9-2.9v5.8M80.8 480.3h5.8m-2.9-2.9v5.8M80.93 483.06h5.8m-2.9-2.9v5.8M81.07 482.69h5.8m-2.9-2.9v5.8M81.2 480.59h5.8m-2.9-2.9v5.8M81.33 480.5h5.8m-2.9-2.9v5.8M81.46 483.6h5.8m-2.9-2.9v5.8M81.6 483.66h5.8m-2.9-2.9v5.8M81.73 480.88h5.8m-2.9-2.9v5.8M81.86 480.16h5.8m-2.9-2.9v5.8M81.99 482.32h5.8m-2.9-2.9v5.8M82.13 471.95h5.8m-2.9-2.9v5.8M82.26 472.95h5.8m-2.9-2.9v5.8M82.39 495.41h5.8m-2.9-2.9v5.8M82.52 503.45h5.8m-2.9-2.9v5.8M82.66 508.64h5.8m-2.9-2.9v5.8M82.79 506.23h5.8m-2.9-2.9v5.8M82.92 507.78h5.8m-2.9-2.9v5.8M83.05 507.52h5.8m-2.9-2.9v5.8M83.18 510.05h5.8m-2.9-2.9v5.8M83.32 508.88h5.8m-2.9-2.9v5.8M83.45 508.53h5.8m-2.9-2.9v5.8M83.58 508.21h5.8m-2.9-2.9v5.8M83.71 509.44h5.8m-2.9-2.9v5.8M83.85 510.17h5.8m-2.9-2.9v5.8M83.98 510.41h5.8m-2.9-2.9v5.8M84.11 509.4h5.8m-2.9-2.9v5.8M84.24 508.92h5.8m-2.9-2.9v5.8M84.38 509.09h5.8m-2.9-2.9v5.8M84.51 511.03h5.8m-2.9-2.9v5.8M84.64 510.24h5.8m-2.9-2.9v5.8M84.77 509.82h5.8m-2.9-2.9v5.8M84.91 508.96h5.8m-2.9-2.9v5.8M85.04 509.49h5.8m-2.9-2.9v5.8M85.17 509.9h5.8m-2.9-2.9v5.8M85.3 511.8h5.8m-2.9-2.9v5.8M85.44 509.41h5.8m-2.9-2.9v5.8M85.57 510.62h5.8m-2.9-2.9v5.8M85.7 510.47h5.8m-2.9-2.9v5.8M85.83 511.41h5.8m-2.9-2.9v5.8M85.97 511.12h5.8m-2.9-2.9v5.8M86.1 511.38h5.8m-2.9-2.9v5.8M86.23 511.57h5.8m-2.9-2.9v5.8M86.36 512.14h5.8m-2.9-2.9v5.8M86.49 510.85h5.8m-2.9-2.9v5.8M86.63 510.51h5.8m-2.9-2.9v5.8M86.76 511.69h5.8m-2.9-2.9v5.8M86.89 511.83h5.8m-2.9-2.9v5.8M87.02 511.68h5.8m-2.9-2.9v5.8M87.16 511.08h5.8m-2.9-2.9v5.8M87.29 509.38h5.8m-2.9-2.9v5.8M87.42 510.67h5.8m-2.9-2.9v5.8M87.55 508.75h5.8m-2.9-2.9v5.8M87.69 511.43h5.8m-2.9-2.9v5.8M87.82 511.14h5.8m-2.9-2.9v5.8M87.95 510.73h5.8m-2.9-2.9v5.8M88.08 510.67h5.8m-2.9-2.9v5.8M88.22 509.45h5.8m-2.9-2.9v5.8M88.35 508.04h5.8m-2.9-2.9v5.8M88.48 510.15h5.8m-2.9-2.9v5.8M88.61 509.04h5.8m-2.9-2.9v5.8M88.75 508.01h5.8m-2.9-2.9v5.8M88.88 506.9h5.8m-2.9-2.9v5.8M89.01 508.76h5.8m-2.9-2.9v5.8M89.14 507.92h5.8m-2.9-2.9v5.8M89.27 507.48h5.8m-2.9-2.9v5.8M89.41 508.46h5.8m-2.9-2.9v5.8M89.54 507.9h5.8m-2.9-2.9v5.8M89.67 508.6h5.8m-2.9-2.9v5.8M89.8 508.96h5.8m-2.9-2.9v5.8M89.94 508.56h5.8m-2.9-2.9v5.8M90.07 506.84h5.8m-2.9-2.9v5.8M90.2 506.53h5.8m-2.9-2.9v5.8M90.33 507.39h5.8m-2.9-2.9v5.8M90.47 399.49h5.8m-2.9-2.9v5.8M90.6 405.82h5.8m-2.9-2.9v5.8M90.73 408.36h5.8m-2.9-2.9v5.8M90.86 406.55h5.8m-2.9-2.9v5.8M91 409.35h5.8m-2.9-2.9v5.8M91.13 411.93h5.8m-2.9-2.9v5.8M91.26 411.12h5.8m-2.9-2.9v5.8M91.39 412.31h5.8m-2.9-2.9v5.8M91.53 409.3h5.8m-2.9-2.9v5.8M91.66 416.02h5.8m-2.9-2.9v5.8M91.79 413.93h5.8m-2.9-2.9v5.8M91.92 414.06h5.8m-2.9-2.9v5.8M92.06 417.39h5.8m-2.9-2.9v5.8M92.19 414.04h5.8m-2.9-2.9v5.8M92.32 414.32h5.8m-2.9-2.9v5.8M92.45 414.53h5.8m-2.9-2.9v5.8M92.58 454.64h5.8m-2.9-2.9v5.8M92.72 457.21h5.8m-2.9-2.9v5.8M92.85 457.1h5.8m-2.9-2.9v5.8M92.98 460.3h5.8m-2.9-2.9v5.8M93.11 460.96h5.8m-2.9-2.9v5.8M93.25 462.01h5.8m-2.9-2.9v5.8M93.38 463.51h5.8m-2.9-2.9v5.8M93.51 464.22h5.8m-2.9-2.9v5.8M93.64 477.58h5.8m-2.9-2.9v5.8M93.78 476.58h5.8m-2.9-2.9v5.8M93.91 477.62h5.8m-2.9-2.9v5.8M94.04 476.37h5.8m-2.9-2.9v5.8M94.17 475.96h5.8m-2.9-2.9v5.8M94.31 478.22h5.8m-2.9-2.9v5.8M94.44 473.81h5.8m-2.9-2.9v5.8M94.57 472.89h5.8m-2.9-2.9v5.8M94.7 475.8h5.8m-2.9-2.9v5.8M94.84 476.83h5.8m-2.9-2.9v5.8M94.97 478.39h5.8m-2.9-2.9v5.8M95.1 477.54h5.8m-2.9-2.9v5.8M95.23 477.72h5.8m-2.9-2.9v5.8M95.37 475.95h5.8m-2.9-2.9v5.8M95.5 477.47h5.8m-2.9-2.9v5.8M95.63 476.1h5.8m-2.9-2.9v5.8M95.76 476.47h5.8m-2.9-2.9v5.8M95.89 478.7h5.8m-2.9-2.9v5.8M96.03 480.51h5.8m-2.9-2.9v5.8M96.16 480.3h5.8m-2.9-2.9v5.8M96.29 480.15h5.8m-2.9-2.9v5.8M96.42 478.12h5.8m-2.9-2.9v5.8M96.56 475.73h5.8m-2.9-2.9v5.8M96.69 480.12h5.8m-2.9-2.9v5.8M96.82 476.99h5.8m-2.9-2.9v5.8M96.95 478.77h5.8m-2.9-2.9v5.8M97.09 475.92h5.8m-2.9-2.9v5.8M97.22 473.99h5.8m-2.9-2.9v5.8M97.35 476.49h5.8m-2.9-2.9v5.8M97.48 478.06h5.8m-2.9-2.9v5.8M97.62 477.8h5.8m-2.9-2.9v5.8M97.75 476.24h5.8m-2.9-2.9v5.8M97.88 479.6h5.8m-2.9-2.9v5.8M98.01 480.67h5.8m-2.9-2.9v5.8M98.15 478.82h5.8m-2.9-2.9v5.8M98.28 475.97h5.8m-2.9-2.9v5.8M98.41 480.79h5.8m-2.9-2.9v5.8M98.54 477.15h5.8m-2.9-2.9v5.8M98.67 477.73h5.8m-2.9-2.9v5.8M98.81 480.06h5.8m-2.9-2.9v5.8M98.94 481.31h5.8m-2.9-2.9v5.8M99.07 483.13h5.8m-2.9-2.9v5.8M99.2 482.26h5.8m-2.9-2.9v5.8M99.34 479.64h5.8m-2.9-2.9v5.8M99.47 478.56h5.8m-2.9-2.9v5.8M99.6 481.45h5.8m-2.9-2.9v5.8M99.73 481.43h5.8m-2.9-2.9v5.8M99.87 481.93h5.8m-2.9-2.9v5.8M100 475.45h5.8m-2.9-2.9v5.8M100.13 483.36h5.8m-2.9-2.9v5.8M100.26 483.66h5.8m-2.9-2.9v5.8M100.4 478.56h5.8m-2.9-2.9v5.8M100.53 483.08h5.8m-2.9-2.9v5.8M100.66 478.87h5.8m-2.9-2.9v5.8M100.79 482.72h5.8m-2.9-2.9v5.8M100.93 479h5.8m-2.9-2.9v5.8M101.06 478.37h5.8m-2.9-2.9v5.8M101.19 482.24h5.8m-2.9-2.9v5.8M101.32 481.43h5.8m-2.9-2.9v5.8M101.46 483.52h5.8m-2.9-2.9v5.8M101.59 479.77h5.8m-2.9-2.9v5.8M101.72 482.31h5.8m-2.9-2.9v5.8M101.85 483.71h5.8m-2.9-2.9v5.8M101.98 480.95h5.8m-2.9-2.9v5.8M102.12 481.18h5.8m-2.9-2.9v5.8M102.25 482.13h5.8m-2.9-2.9v5.8M102.38 483.01h5.8m-2.9-2.9v5.8M102.51 480.24h5.8m-2.9-2.9v5.8M102.65 483.65h5.8m-2.9-2.9v5.8M102.78 484.17h5.8m-2.9-2.9v5.8M102.91 483h5.8m-2.9-2.9v5.8M103.04 481.51h5.8m-2.9-2.9v5.8M103.18 483.47h5.8m-2.9-2.9v5.8M103.31 471.95h5.8m-2.9-2.9v5.8M103.44 472.95h5.8m-2.9-2.9v5.8M103.57 495.41h5.8m-2.9-2.9v5.8M103.71 503.45h5.8m-2.9-2.9v5.8M103.84 508.21h5.8m-2.9-2.9v5.8M103.97 508.7h5.8m-2.9-2.9v5.8M104.1 508.63h5.8m-2.9-2.9v5.8M104.24 508.64h5.8m-2.9-2.9v5.8M104.37 506.34h5.8m-2.9-2.9v5.8M104.5 509.93h5.8m-2.9-2.9v5.8M104.63 508.85h5.8m-2.9-2.9v5.8M104.77 508.5h5.8m-2.9-2.9v5.8M104.9 509.51h5.8m-2.9-2.9v5.8M105.03 509.92h5.8m-2.9-2.9v5.8M105.16 508.45h5.8m-2.9-2.9v5.8M105.29 507.83h5.8m-2.9-2.9v5.8M105.43 508.21h5.8m-2.9-2.9v5.8M105.56 509.34h5.8m-2.9-2.9v5.8M105.69 509.89h5.8m-2.9-2.9v5.8M105.82 509.01h5.8m-2.9-2.9v5.8M105.96 511.26h5.8m-2.9-2.9v5.8M106.09 510.65h5.8m-2.9-2.9v5.8M106.22 508.67h5.8m-2.9-2.9v5.8M106.35 509.75h5.8m-2.9-2.9v5.8M106.49 510.13h5.8m-2.9-2.9v5.8M106.62 510.58h5.8m-2.9-2.9v5.8M106.75 510.89h5.8m-2.9-2.9v5.8M106.88 511.45h5.8m-2.9-2.9v5.8M107.02 510.27h5.8m-2.9-2.9v5.8M107.15 510.47h5.8m-2.9-2.9v5.8M107.28 510.59h5.8m-2.9-2.9v5.8M107.41 513.44h5.8m-2.9-2.9v5.8M107.55 510.15h5.8m-2.9-2.9v5.8M107.68 510.67h5.8m-2.9-2.9v5.8M107.81 509.88h5.8m-2.9-2.9v5.8M107.94 511.71h5.8m-2.9-2.9v5.8M108.08 513.06h5.8m-2.9-2.9v5.8M108.21 512.13h5.8m-2.9-2.9v5.8M108.34 511.62h5.8m-2.9-2.9v5.8M108.47 508.82h5.8m-2.9-2.9v5.8M108.6 511.23h5.8m-2.9-2.9v5.8M108.74 510.83h5.8m-2.9-2.9v5.8M108.87 509.35h5.8m-2.9-2.9v5.8M109 509.31h5.8m-2.9-2.9v5.8M109.13 509.11h5.8m-2.9-2.9v5.8M109.27 510.3h5.8m-2.9-2.9v5.8M109.4 508.02h5.8m-2.9-2.9v5.8M109.53 509.24h5.8m-2.9-2.9v5.8M109.66 510.26h5.8m-2.9-2.9v5.8M109.8 508.97h5.8m-2.9-2.9v5.8M109.93 510.51h5.8m-2.9-2.9v5.8M110.06 510.23h5.8m-2.9-2.9v5.8M110.19 509.58h5.8m-2.9-2.9v5.8M110.33 509.91h5.8m-2.9-2.9v5.8M110.46 509.14h5.8m-2.9-2.9v5.8M110.59 509.15h5.8m-2.9-2.9v5.8M110.72 508.86h5.8m-2.9-2.9v5.8M110.86 509.09h5.8m-2.9-2.9v5.8M110.99 507.13h5.8m-2.9-2.9v5.8M111.12 508.94h5.8m-2.9-2.9v5.8M111.25 508.38h5.8m-2.9-2.9v5.8M111.38 508.6h5.8m-2.9-2.9v5.8M111.52 508.18h5.8m-2.9-2.9v5.8M111.65 385.03h5.8m-2.9-2.9v5.8M111.78 390.76h5.8m-2.9-2.9v5.8M111.91 395.14h5.8m-2.9-2.9v5.8M112.05 393.93h5.8m-2.9-2.9v5.8M112.18 396.39h5.8m-2.9-2.9v5.8M112.31 398.45h5.8m-2.9-2.9v5.8M112.44 397.73h5.8m-2.9-2.9v5.8M112.58 398.55h5.8m-2.9-2.9v5.8M112.71 399.98h5.8m-2.9-2.9v5.8M112.84 398.37h5.8m-2.9-2.9v5.8M112.97 396.49h5.8m-2.9-2.9v5.8M113.11 399.33h5.8m-2.9-2.9v5.8M113.24 398.51h5.8m-2.9-2.9v5.8M113.37 398.65h5.8m-2.9-2.9v5.8M113.5 404.4h5.8m-2.9-2.9v5.8M113.64 398.77h5.8m-2.9-2.9v5.8M113.77 404.5h5.8m-2.9-2.9v5.8M113.9 438.8h5.8m-2.9-2.9v5.8M114.03 442.18h5.8m-2.9-2.9v5.8M114.17 442.79h5.8m-2.9-2.9v5.8M114.3 441.71h5.8m-2.9-2.9v5.8M114.43 444.45h5.8m-2.9-2.9v5.8M114.56 449.26h5.8m-2.9-2.9v5.8M114.69 450.68h5.8m-2.9-2.9v5.8M114.83 450.99h5.8m-2.9-2.9v5.8M114.96 449.08h5.8m-2.9-2.9v5.8M115.09 466.54h5.8m-2.9-2.9v5.8M115.22 475.38h5.8m-2.9-2.9v5.8M115.36 473.85h5.8m-2.9-2.9v5.8M115.49 478.62h5.8m-2.9-2.9v5.8M115.62 480.38h5.8m-2.9-2.9v5.8M115.75 478.07h5.8m-2.9-2.9v5.8M115.89 475.09h5.8m-2.9-2.9v5.8M116.02 478.97h5.8m-2.9-2.9v5.8M116.15 481.83h5.8m-2.9-2.9v5.8M116.28 478.2h5.8m-2.9-2.9v5.8M116.42 475.75h5.8m-2.9-2.9v5.8M116.55 476.4h5.8m-2.9-2.9v5.8M116.68 478.07h5.8m-2.9-2.9v5.8M116.81 478.52h5.8m-2.9-2.9v5.8M116.95 481.94h5.8m-2.9-2.9v5.8M117.08 477.74h5.8m-2.9-2.9v5.8M117.21 473.88h5.8m-2.9-2.9v5.8M117.34 478.94h5.8m-2.9-2.9v5.8M117.48 474.63h5.8m-2.9-2.9v5.8M117.61 480.69h5.8m-2.9-2.9v5.8M117.74 479.1h5.8m-2.9-2.9v5.8M117.87 479.35h5.8m-2.9-2.9v5.8M118 478.52h5.8m-2.9-2.9v5.8M118.14 482.31h5.8m-2.9-2.9v5.8M118.27 476.24h5.8m-2.9-2.9v5.8M118.4 479.49h5.8m-2.9-2.9v5.8M118.53 483.42h5.8m-2.9-2.9v5.8M118.67 477.72h5.8m-2.9-2.9v5.8M118.8 478.86h5.8m-2.9-2.9v5.8M118.93 481.9h5.8m-2.9-2.9v5.8M119.06 479.59h5.8m-2.9-2.9v5.8M119.2 477.76h5.8m-2.9-2.9v5.8M119.33 478.08h5.8m-2.9-2.9v5.8M119.46 478.89h5.8m-2.9-2.9v5.8M119.59 481.05h5.8m-2.9-2.9v5.8M119.73 479.16h5.8m-2.9-2.9v5.8M119.86 477.16h5.8m-2.9-2.9v5.8M119.99 475.38h5.8m-2.9-2.9v5.8M120.12 478.66h5.8m-2.9-2.9v5.8M120.26 478.34h5.8m-2.9-2.9v5.8M120.39 478.1h5.8m-2.9-2.9v5.8M120.52 480.72h5.8m-2.9-2.9v5.8M120.65 483.92h5.8m-2.9-2.9v5.8M120.78 481.58h5.8m-2.9-2.9v5.8M120.92 480.93h5.8m-2.9-2.9v5.8M121.05 480.21h5.8m-2.9-2.9v5.8M121.18 480.85h5.8m-2.9-2.9v5.8M121.31 482.55h5.8m-2.9-2.9v5.8M121.45 482.35h5.8m-2.9-2.9v5.8M121.58 481.88h5.8m-2.9-2.9v5.8M121.71 483.38h5.8m-2.9-2.9v5.8M121.84 483.45h5.8m-2.9-2.9v5.8M121.98 485.45h5.8m-2.9-2.9v5.8M122.11 482.79h5.8m-2.9-2.9v5.8M122.24 481.98h5.8m-2.9-2.9v5.8M122.37 483.7h5.8m-2.9-2.9v5.8M122.51 483.04h5.8m-2.9-2.9v5.8M122.64 482.44h5.8m-2.9-2.9v5.8M122.77 485.01h5.8m-2.9-2.9v5.8M122.9 484.2h5.8m-2.9-2.9v5.8M123.04 484.86h5.8m-2.9-2.9v5.8M123.17 482.13h5.8m-2.9-2.9v5.8M123.3 485.48h5.8m-2.9-2.9v5.8M123.43 483.2h5.8m-2.9-2.9v5.8M123.57 487.54h5.8m-2.9-2.9v5.8M123.7 479.82h5.8m-2.9-2.9v5.8M123.83 482.36h5.8m-2.9-2.9v5.8M123.96 485.23h5.8m-2.9-2.9v5.8M124.09 471.95h5.8m-2.9-2.9v5.8M124.23 472.95h5.8m-2.9-2.9v5.8M124.36 495.41h5.8m-2.9-2.9v5.8M124.49 503.45h5.8m-2.9-2.9v5.8M124.62 508.06h5.8m-2.9-2.9v5.8M124.76 506.37h5.8m-2.9-2.9v5.8M124.89 508.13h5.8m-2.9-2.9v5.8M125.02 509.69h5.8m-2.9-2.9v5.8M125.15 508.47h5.8m-2.9-2.9v5.8M125.29 508.99h5.8m-2.9-2.9v5.8M125.42 508.18h5.8m-2.9-2.9v5.8M125.55 508.59h5.8m-2.9-2.9v5.8M125.68 510.33h5.8m-2.9-2.9v5.8M125.82 508.73h5.8m-2.9-2.9v5.8M125.95 508.17h5.8m-2.9-2.9v5.8M126.08 507.87h5.8m-2.9-2.9v5.8M126.21 508.95h5.8m-2.9-2.9v5.8M126.35 507.67h5.8m-2.9-2.9v5.8M126.48 508.16h5.8m-2.9-2.9v5.8M126.61 508.89h5.8m-2.9-2.9v5.8M126.74 508.3h5.8m-2.9-2.9v5.8M126.88 512.16h5.8m-2.9-2.9v5.8M127.01 508.81h5.8m-2.9-2.9v5.8M127.14 508.75h5.8m-2.9-2.9v5.8M127.27 510.3h5.8m-2.9-2.9v5.8M127.4 509.57h5.8m-2.9-2.9v5.8M127.54 511.05h5.8m-2.9-2.9v5.8M127.67 510.73h5.8m-2.9-2.9v5.8M127.8 510.86h5.8m-2.9-2.9v5.8M127.93 511.79h5.8m-2.9-2.9v5.8M128.07 511.16h5.8m-2.9-2.9v5.8M128.2 512.71h5.8m-2.9-2.9v5.8M128.33 511.34h5.8m-2.9-2.9v5.8M128.46 509.77h5.8m-2.9-2.9v5.8M128.6 509.71h5.8m-2.9-2.9v5.8M128.73 511.48h5.8m-2.9-2.9v5.8M128.86 509.73h5.8m-2.9-2.9v5.8M128.99 510.83h5.8m-2.9-2.9v5.8M129.13 512.25h5.8m-2.9-2.9v5.8M129.26 511.52h5.8m-2.9-2.9v5.8M129.39 510.87h5.8m-2.9-2.9v5.8M129.52 510.71h5.8m-2.9-2.9v5.8M129.66 509.97h5.8m-2.9-2.9v5.8M129.79 511.09h5.8m-2.9-2.9v5.8M129.92 510.69h5.8m-2.9-2.9v5.8M130.05 509.23h5.8m-2.9-2.9v5.8M130.19 509.93h5.8m-2.9-2.9v5.8M130.32 509.54h5.8m-2.9-2.9v5.8M130.45 509.85h5.8m-2.9-2.9v5.8M130.58 509.02h5.8m-2.9-2.9v5.8M130.71 508.84h5.8m-2.9-2.9v5.8M130.85 510.12h5.8m-2.9-2.9v5.8M130.98 508.23h5.8m-2.9-2.9v5.8M131.11 509.74h5.8m-2.9-2.9v5.8M131.24 508.7h5.8m-2.9-2.9v5.8M131.38 509.17h5.8m-2.9-2.9v5.8M131.51 508.15h5.8m-2.9-2.9v5.8M131.64 508.38h5.8m-2.9-2.9v5.8M131.77 507.98h5.8m-2.9-2.9v5.8M131.91 508.25h5.8m-2.9-2.9v5.8M132.04 508.36h5.8m-2.9-2.9v5.8M132.17 507.94h5.8m-2.9-2.9v5.8M132.3 508.02h5.8m-2.9-2.9v5.8M132.44 508.65h5.8m-2.9-2.9v5.8M132.57 509.19h5.8m-2.9-2.9v5.8M132.7 507.14h5.8m-2.9-2.9v5.8M132.83 374.92h5.8m-2.9-2.9v5.8M132.97 386.44h5.8m-2.9-2.9v5.8M133.1 384.83h5.8m-2.9-2.9v5.8M133.23 387.39h5.8m-2.9-2.9v5.8M133.36 386.88h5.8m-2.9-2.9v5.8M133.49 386.52h5.8m-2.9-2.9v5.8M133.63 388.11h5.8m-2.9-2.9v5.8M133.76 389.84h5.8m-2.9-2.9v5.8M133.89 393.35h5.8m-2.9-2.9v5.8M134.02 391.32h5.8m-2.9-2.9v5.8M134.16 391.8h5.8m-2.9-2.9v5.8M134.29 390.54h5.8m-2.9-2.9v5.8M134.42 394.41h5.8m-2.9-2.9v5.8M134.55 431.41h5.8m-2.9-2.9v5.8M134.69 432.02h5.8m-2.9-2.9v5.8M134.82 431.57h5.8m-2.9-2.9v5.8M134.95 435.96h5.8m-2.9-2.9v5.8M135.08 434.2h5.8m-2.9-2.9v5.8M135.22 436.49h5.8m-2.9-2.9v5.8M135.35 438.29h5.8m-2.9-2.9v5.8M135.48 440.27h5.8m-2.9-2.9v5.8M135.61 440.73h5.8m-2.9-2.9v5.8M135.75 439.28h5.8m-2.9-2.9v5.8M135.88 466.87h5.8m-2.9-2.9v5.8M136.01 478.3h5.8m-2.9-2.9v5.8M136.14 477.27h5.8m-2.9-2.9v5.8M136.28 473.79h5.8m-2.9-2.9v5.8M136.41 474.58h5.8m-2.9-2.9v5.8M136.54 475.02h5.8m-2.9-2.9v5.8M136.67 474.79h5.8m-2.9-2.9v5.8M136.8 475.3h5.8m-2.9-2.9v5.8M136.94 477.84h5.8m-2.9-2.9v5.8M137.07 479.36h5.8m-2.9-2.9v5.8M137.2 474.64h5.8m-2.9-2.9v5.8M137.33 477.53h5.8m-2.9-2.9v5.8M137.47 477.11h5.8m-2.9-2.9v5.8M137.6 478.42h5.8m-2.9-2.9v5.8M137.73 476.51h5.8m-2.9-2.9v5.8M137.86 474.88h5.8m-2.9-2.9v5.8M138 478.58h5.8m-2.9-2.9v5.8M138.13 477.52h5.8m-2.9-2.9v5.8M138.26 477.8h5.8m-2.9-2.9v5.8M138.39 476.66h5.8m-2.9-2.9v5.8M138.53 478.13h5.8m-2.9-2.9v5.8M138.66 478.12h5.8m-2.9-2.9v5.8M138.79 479.53h5.8m-2.9-2.9v5.8M138.92 478.31h5.8m-2.9-2.9v5.8M139.06 479.97h5.8m-2.9-2.9v5.8M139.19 477.06h5.8m-2.9-2.9v5.8M139.32 478.94h5.8m-2.9-2.9v5.8M139.45 475.37h5.8m-2.9-2.9v5.8M139.59 480.25h5.8m-2.9-2.9v5.8M139.72 481.07h5.8m-2.9-2.9v5.8M139.85 477.16h5.8m-2.9-2.9v5.8M139.98 477.83h5.8m-2.9-2.9v5.8M140.11 482.05h5.8m-2.9-2.9v5.8M140.25 473.97h5.8m-2.9-2.9v5.8M140.38 479.77h5.8m-2.9-2.9v5.8M140.51 477.22h5.8m-2.9-2.9v5.8M140.64 480.42h5.8m-2.9-2.9v5.8M140.78 478.29h5.8m-2.9-2.9v5.8M140.91 477.52h5.8m-2.9-2.9v5.8M141.04 480.89h5.8m-2.9-2.9v5.8M141.17 479.26h5.8m-2.9-2.9v5.8M141.31 478.28h5.8m-2.9-2.9v5.8M141.44 475.95h5.8m-2.9-2.9v5.8M141.57 478.23h5.8m-2.9-2.9v5.8M141.7 477.45h5.8m-2.9-2.9v5.8M141.84 479.21h5.8m-2.9-2.9v5.8M141.97 479.07h5.8m-2.9-2.9v5.8M142.1 479.43h5.8m-2.9-2.9v5.8M142.23 481.11h5.8m-2.9-2.9v5.8M142.37 484.55h5.8m-2.9-2.9v5.8M142.5 484.35h5.8m-2.9-2.9v5.8M142.63 480.27h5.8m-2.9-2.9v5.8M142.76 480.09h5.8m-2.9-2.9v5.8M142.89 481.05h5.8m-2.9-2.9v5.8M143.03 482.49h5.8m-2.9-2.9v5.8M143.16 482.43h5.8m-2.9-2.9v5.8M143.29 484.11h5.8m-2.9-2.9v5.8M143.42 479.19h5.8m-2.9-2.9v5.8M143.56 485.15h5.8m-2.9-2.9v5.8M143.69 478.45h5.8m-2.9-2.9v5.8M143.82 482.82h5.8m-2.9-2.9v5.8M143.95 476.78h5.8m-2.9-2.9v5.8M144.09 481.11h5.8m-2.9-2.9v5.8M144.22 482.86h5.8m-2.9-2.9v5.8M144.35 482.06h5.8m-2.9-2.9v5.8M144.48 483.4h5.8m-2.9-2.9v5.8M144.62 479.38h5.8m-2.9-2.9v5.8M144.75 482.66h5.8m-2.9-2.9v5.8M144.88 482.23h5.8m-2.9-2.9v5.8M145.01 471.95h5.8m-2.9-2.9v5.8M145.15 472.95h5.8m-2.9-2.9v5.8M145.28 495.41h5.8m-2.9-2.9v5.8M145.41 503.45h5.8m-2.9-2.9v5.8M145.54 508.45h5.8m-2.9-2.9v5.8M145.68 507.24h5.8m-2.9-2.9v5.8M145.81 509.26h5.8m-2.9-2.9v5.8M145.94 508.63h5.8m-2.9-2.9v5.8M146.07 507h5.8m-2.9-2.9v5.8M146.2 510.17h5.8m-2.9-2.9v5.8M146.34 508.12h5.8m-2.9-2.9v5.8M146.47 507.44h5.8m-2.9-2.9v5.8M146.6 508.53h5.8m-2.9-2.9v5.8M146.73 507.41h5.8m-2.9-2.9v5.8M146.87 507.73h5.8m-2.9-2.9v5.8M147 508.55h5.8m-2.9-2.9v5.8M147.13 510.58h5.8m-2.9-2.9v5.8M147.26 509.68h5.8m-2.9-2.9v5.8M147.4 509.67h5.8m-2.9-2.9v5.8M147.53 508.58h5.8m-2.9-2.9v5.8M147.66 509.7h5.8m-2.9-2.9v5.8M147.79 510.02h5.8m-2.9-2.9v5.8M147.93 511.06h5.8m-2.9-2.9v5.8M148.06 510.19h5.8m-2.9-2.9v5.8M148.19 509.93h5.8m-2.9-2.9v5.8M148.32 512.5h5.8m-2.9-2.9v5.8M148.46 510.45h5.8m-2.9-2.9v5.8M148.59 510.17h5.8m-2.9-2.9v5.8M148.72 510.89h5.8m-2.9-2.9v5.8M148.85 510.91h5.8m-2.9-2.9v5.8M148.99 511.42h5.8m-2.9-2.9v5.8M149.12 510.2h5.8m-2.9-2.9v5.8M149.25 511.65h5.8m-2.9-2.9v5.8M149.38 510.18h5.8m-2.9-2.9v5.8M149.51 511.06h5.8m-2.9-2.9v5.8M149.65 513.26h5.8m-2.9-2.9v5.8M149.78 511.79h5.8m-2.9-2.9v5.8M149.91 511.13h5.8m-2.9-2.9v5.8M150.04 510.5h5.8m-2.9-2.9v5.8M150.18 511.04h5.8m-2.9-2.9v5.8M150.31 511.15h5.8m-2.9-2.9v5.8M150.44 510.16h5.8m-2.9-2.9v5.8M150.57 509.33h5.8m-2.9-2.9v5.8M150.71 512.3h5.8m-2.9-2.9v5.8M150.84 511.11h5.8m-2.9-2.9v5.8M150.97 508.87h5.8m-2.9-2.9v5.8M151.1 510.03h5.8m-2.9-2.9v5.8M151.24 511.06h5.8m-2.9-2.9v5.8M151.37 508.48h5.8m-2.9-2.9v5.8M151.5 508.12h5.8m-2.9-2.9v5.8M151.63 510h5.8m-2.9-2.9v5.8M151.77 508.98h5.8m-2.9-2.9v5.8M151.9 509.53h5.8m-2.9-2.9v5.8M152.03 509.09h5.8m-2.9-2.9v5.8M152.16 508.41h5.8m-2.9-2.9v5.8M152.3 509.42h5.8m-2.9-2.9v5.8M152.43 509.13h5.8m-2.9-2.9v5.8M152.56 509.22h5.8m-2.9-2.9v5.8M152.69 510.39h5.8m-2.9-2.9v5.8M152.82 508.28h5.8m-2.9-2.9v5.8M152.96 507.82h5.8m-2.9-2.9v5.8M153.09 508.31h5.8m-2.9-2.9v5.8M153.22 508.3h5.8m-2.9-2.9v5.8M153.35 507.48h5.8m-2.9-2.9v5.8M153.49 508.74h5.8m-2.9-2.9v5.8M153.62 508.94h5.8m-2.9-2.9v5.8M153.75 507.44h5.8m-2.9-2.9v5.8M153.88 507.6h5.8m-2.9-2.9v5.8M154.02 366.8h5.8m-2.9-2.9v5.8M154.15 380.1h5.8m-2.9-2.9v5.8M154.28 378.43h5.8m-2.9-2.9v5.8M154.41 380.85h5.8m-2.9-2.9v5.8M154.55 376.02h5.8m-2.9-2.9v5.8M154.68 380.61h5.8m-2.9-2.9v5.8M154.81 379.26h5.8m-2.9-2.9v5.8M154.94 384.57h5.8m-2.9-2.9v5.8M155.08 383.09h5.8m-2.9-2.9v5.8M155.21 380.86h5.8m-2.9-2.9v5.8M155.34 383.27h5.8m-2.9-2.9v5.8M155.47 384.13h5.8m-2.9-2.9v5.8M155.6 382.59h5.8m-2.9-2.9v5.8M155.74 384.02h5.8m-2.9-2.9v5.8M155.87 384.53h5.8m-2.9-2.9v5.8M156 384.84h5.8m-2.9-2.9v5.8M156.13 386.57h5.8m-2.9-2.9v5.8M156.27 383.87h5.8m-2.9-2.9v5.8M156.4 421.86h5.8m-2.9-2.9v5.8M156.53 424.27h5.8m-2.9-2.9v5.8M156.66 425.42h5.8m-2.9-2.9v5.8M156.8 428.27h5.8m-2.9-2.9v5.8M156.93 428.12h5.8m-2.9-2.9v5.8M157.06 425.59h5.8m-2.9-2.9v5.8M157.19 429.86h5.8m-2.9-2.9v5.8M157.33 429.64h5.8m-2.9-2.9v5.8M157.46 427.61h5.8m-2.9-2.9v5.8M157.59 429.26h5.8m-2.9-2.9v5.8M157.72 431.08h5.8m-2.9-2.9v5.8M157.86 431.83h5.8m-2.9-2.9v5.8M157.99 467.42h5.8m-2.9-2.9v5.8M158.12 476.37h5.8m-2.9-2.9v5.8M158.25 473.84h5.8m-2.9-2.9v5.8M158.39 475.08h5.8m-2.9-2.9v5.8M158.52 478.25h5.8m-2.9-2.9v5.8M158.65 473.94h5.8m-2.9-2.9v5.8M158.78 475.2h5.8m-2.9-2.9v5.8M158.91 474.73h5.8m-2.9-2.9v5.8M159.05 474.53h5.8m-2.9-2.9v5.8M159.18 475.59h5.8m-2.9-2.9v5.8M159.31 476.86h5.8m-2.9-2.9v5.8M159.44 474.69h5.8m-2.9-2.9v5.8M159.58 475.08h5.8m-2.9-2.9v5.8M159.71 478.04h5.8m-2.9-2.9v5.8M159.84 477.98h5.8m-2.9-2.9v5.8M159.97 477.2h5.8m-2.9-2.9v5.8M160.11 476.77h5.8m-2.9-2.9v5.8M160.24 478.02h5.8m-2.9-2.9v5.8M160.37 480.87h5.8m-2.9-2.9v5.8M160.5 475.72h5.8m-2.9-2.9v5.8M160.64 479.61h5.8m-2.9-2.9v5.8M160.77 480.71h5.8m-2.9-2.9v5.8M160.9 480.19h5.8m-2.9-2.9v5.8M161.03 478.46h5.8m-2.9-2.9v5.8M161.17 479.15h5.8m-2.9-2.9v5.8M161.3 483.51h5.8m-2.9-2.9v5.8M161.43 482.1h5.8m-2.9-2.9v5.8M161.56 482.29h5.8m-2.9-2.9v5.8M161.7 480.72h5.8m-2.9-2.9v5.8M161.83 479.02h5.8m-2.9-2.9v5.8M161.96 480.72h5.8m-2.9-2.9v5.8M162.09 475.5h5.8m-2.9-2.9v5.8M162.22 477.82h5.8m-2.9-2.9v5.8M162.36 476.71h5.8m-2.9-2.9v5.8M162.49 478.29h5.8m-2.9-2.9v5.8M162.62 482.43h5.8m-2.9-2.9v5.8M162.75 478.97h5.8m-2.9-2.9v5.8M162.89 483.04h5.8m-2.9-2.9v5.8M163.02 482.18h5.8m-2.9-2.9v5.8M163.15 479.78h5.8m-2.9-2.9v5.8M163.28 480.23h5.8m-2.9-2.9v5.8M163.42 479.14h5.8m-2.9-2.9v5.8M163.55 481.02h5.8m-2.9-2.9v5.8M163.68 478.39h5.8m-2.9-2.9v5.8M163.81 479.03h5.8m-2.9-2.9v5.8M163.95 480.05h5.8m-2.9-2.9v5.8M164.08 482.33h5.8m-2.9-2.9v5.8M164.21 482.15h5.8m-2.9-2.9v5.8M164.34 478.89h5.8m-2.9-2.9v5.8M164.48 475.27h5.8m-2.9-2.9v5.8M164.61 482.17h5.8m-2.9-2.9v5.8M164.74 480.95h5.8m-2.9-2.9v5.8M164.87 483.2h5.8m-2.9-2.9v5.8M165.01 486.51h5.8m-2.9-2.9v5.8M165.14 480.37h5.8m-2.9-2.9v5.8M165.27 481.39h5.8m-2.9-2.9v5.8M165.4 480.43h5.8m-2.9-2.9v5.8M165.53 483.22h5.8m-2.9-2.9v5.8M165.67 483.74h5.8m-2.9-2.9v5.8M165.8 479.12h5.8m-2.9-2.9v5.8M165.93 484.15h5.8m-2.9-2.9v5.8M166.06 480.94h5.8m-2.9-2.9v5.8M166.2 480.53h5.8m-2.9-2.9v5.8M166.33 482.6h5.8m-2.9-2.9v5.8M166.46 471.95h5.8m-2.9-2.9v5.8M166.59 472.95h5.8m-2.9-2.9v5.8M166.73 495.41h5.8m-2.9-2.9v5.8M166.86 503.45h5.8m-2.9-2.9v5.8M166.99 508.1h5.8m-2.9-2.9v5.8M167.12 507.5h5.8m-2.9-2.9v5.8M167.26 509.45h5.8m-2.9-2.9v5.8M167.39 508.23h5.8m-2.9-2.9v5.8M167.52 508.44h5.8m-2.9-2.9v5.8M167.65 509.51h5.8m-2.9-2.9v5.8M167.79 508.62h5.8m-2.9-2.9v5.8M167.92 507.68h5.8m-2.9-2.9v5.8M168.05 506.51h5.8m-2.9-2.9v5.8M168.18 509.73h5.8m-2.9-2.9v5.8M168.31 508.46h5.8m-2.9-2.9v5.8M168.45 508.6h5.8m-2.9-2.9v5.8M168.58 509.37h5.8m-2.9-2.9v5.8M168.71 509.74h5.8m-2.9-2.9v5.8M168.84 508.9h5.8m-2.9-2.9v5.8M168.98 508.81h5.8m-2.9-2.9v5.8M169.11 510.89h5.8m-2.9-2.9v5.8M169.24 508.35h5.8m-2.9-2.9v5.8M169.37 509.98h5.8m-2.9-2.9v5.8M169.51 509.88h5.8m-2.9-2.9v5.8M169.64 510.62h5.8m-2.9-2.9v5.8M169.77 509.11h5.8m-2.9-2.9v5.8M169.9 511.56h5.8m-2.9-2.9v5.8M170.04 510.92h5.8m-2.9-2.9v5.8M170.17 510.48h5.8m-2.9-2.9v5.8M170.3 511.57h5.8m-2.9-2.9v5.8M170.43 511.08h5.8m-2.9-2.9v5.8M170.57 510.53h5.8m-2.9-2.9v5.8M170.7 510.05h5.8m-2.9-2.9v5.8M170.83 511.41h5.8m-2.9-2.9v5.8M170.96 511.79h5.8m-2.9-2.9v5.8M171.1 510.95h5.8m-2.9-2.9v5.8M171.23 511.14h5.8m-2.9-2.9v5.8M171.36 512.06h5.8m-2.9-2.9v5.8M171.49 510.21h5.8m-2.9-2.9v5.8M171.62 511.13h5.8m-2.9-2.9v5.8M171.76 511.55h5.8m-2.9-2.9v5.8M171.89 509.75h5.8m-2.9-2.9v5.8M172.02 509.98h5.8m-2.9-2.9v5.8M172.15 511.07h5.8m-2.9-2.9v5.8M172.29 509.63h5.8m-2.9-2.9v5.8M172.42 510.75h5.8m-2.9-2.9v5.8M172.55 510.5h5.8m-2.9-2.9v5.8M172.68 510.77h5.8m-2.9-2.9v5.8M172.82 508.98h5.8m-2.9-2.9v5.8M172.95 509.75h5.8m-2.9-2.9v5.8M173.08 508.97h5.8m-2.9-2.9v5.8M173.21 510.56h5.8m-2.9-2.9v5.8M173.35 509.65h5.8m-2.9-2.9v5.8M173.48 510.66h5.8m-2.9-2.9v5.8M173.61 509.61h5.8m-2.9-2.9v5.8M173.74 509.27h5.8m-2.9-2.9v5.8M173.88 508.96h5.8m-2.9-2.9v5.8M174.01 510.06h5.8m-2.9-2.9v5.8M174.14 507.59h5.8m-2.9-2.9v5.8M174.27 509.91h5.8m-2.9-2.9v5.8M174.41 507.23h5.8m-2.9-2.9v5.8M174.54 508.29h5.8m-2.9-2.9v5.8M174.67 507.1h5.8m-2.9-2.9v5.8M174.8 508.85h5.8m-2.9-2.9v5.8M174.93 507.7h5.8m-2.9-2.9v5.8M175.07 507.15h5.8m-2.9-2.9v5.8M175.2 361.5h5.8m-2.9-2.9v5.8M175.33 372.64h5.8m-2.9-2.9v5.8M175.46 371.07h5.8m-2.9-2.9v5.8M175.6 373.86h5.8m-2.9-2.9v5.8M175.73 372.72h5.8m-2.9-2.9v5.8M175.86 375.51h5.8m-2.9-2.9v5.8M175.99 375.91h5.8m-2.9-2.9v5.8M176.13 375.11h5.8m-2.9-2.9v5.8M176.26 379.14h5.8m-2.9-2.9v5.8M176.39 380.29h5.8m-2.9-2.9v5.8M176.52 378h5.8m-2.9-2.9v5.8M176.66 375.48h5.8m-2.9-2.9v5.8M176.79 377.11h5.8m-2.9-2.9v5.8M176.92 379.83h5.8m-2.9-2.9v5.8M177.05 379.57h5.8m-2.9-2.9v5.8M177.19 380.78h5.8m-2.9-2.9v5.8M177.32 381.07h5.8m-2.9-2.9v5.8M177.45 415.66h5.8m-2.9-2.9v5.8M177.58 420.17h5.8m-2.9-2.9v5.8M177.71 421.24h5.8m-2.9-2.9v5.8M177.85 423.27h5.8m-2.9-2.9v5.8M177.98 422.84h5.8m-2.9-2.9v5.8M178.11 421.28h5.8m-2.9-2.9v5.8M178.24 423.79h5.8m-2.9-2.9v5.8M178.38 426.48h5.8m-2.9-2.9v5.8M178.51 426.6h5.8m-2.9-2.9v5.8M178.64 427.4h5.8m-2.9-2.9v5.8M178.77 467.84h5.8m-2.9-2.9v5.8M178.91 474.97h5.8m-2.9-2.9v5.8M179.04 475.23h5.8m-2.9-2.9v5.8M179.17 473.63h5.8m-2.9-2.9v5.8M179.3 475.11h5.8m-2.9-2.9v5.8M179.44 474.05h5.8m-2.9-2.9v5.8M179.57 478h5.8m-2.9-2.9v5.8M179.7 478.4h5.8m-2.9-2.9v5.8M179.83 477.33h5.8m-2.9-2.9v5.8M179.97 472.51h5.8m-2.9-2.9v5.8M180.1 479.08h5.8m-2.9-2.9v5.8M180.23 476.48h5.8m-2.9-2.9v5.8M180.36 475.89h5.8m-2.9-2.9v5.8M180.5 479h5.8m-2.9-2.9v5.8M180.63 479.68h5.8m-2.9-2.9v5.8M180.76 473.07h5.8m-2.9-2.9v5.8M180.89 477.67h5.8m-2.9-2.9v5.8M181.02 478.22h5.8m-2.9-2.9v5.8M181.16 476.83h5.8m-2.9-2.9v5.8M181.29 477.46h5.8m-2.9-2.9v5.8M181.42 480.73h5.8m-2.9-2.9v5.8M181.55 481.45h5.8m-2.9-2.9v5.8M181.69 478.43h5.8m-2.9-2.9v5.8M181.82 479.73h5.8m-2.9-2.9v5.8M181.95 478.35h5.8m-2.9-2.9v5.8M182.08 480.77h5.8m-2.9-2.9v5.8M182.22 473.19h5.8m-2.9-2.9v5.8M182.35 477.58h5.8m-2.9-2.9v5.8M182.48 474.5h5.8m-2.9-2.9v5.8M182.61 479.67h5.8m-2.9-2.9v5.8M182.75 478.96h5.8m-2.9-2.9v5.8M182.88 479.81h5.8m-2.9-2.9v5.8M183.01 478.73h5.8m-2.9-2.9v5.8M183.14 478.05h5.8m-2.9-2.9v5.8M183.28 480.08h5.8m-2.9-2.9v5.8M183.41 481.3h5.8m-2.9-2.9v5.8M183.54 480.66h5.8m-2.9-2.9v5.8M183.67 479.77h5.8m-2.9-2.9v5.8M183.81 477.79h5.8m-2.9-2.9v5.8M183.94 482.78h5.8m-2.9-2.9v5.8M184.07 481.32h5.8m-2.9-2.9v5.8M184.2 479.04h5.8m-2.9-2.9v5.8M184.33 477.23h5.8m-2.9-2.9v5.8M184.47 480.99h5.8m-2.9-2.9v5.8M184.6 479.58h5.8m-2.9-2.9v5.8M184.73 480.72h5.8m-2.9-2.9v5.8M184.86 480.94h5.8m-2.9-2.9v5.8M185 480.23h5.8m-2.9-2.9v5.8M185.13 481.73h5.8m-2.9-2.9v5.8M185.26 481.23h5.8m-2.9-2.9v5.8M185.39 481.47h5.8m-2.9-2.9v5.8M185.53 477.76h5.8m-2.9-2.9v5.8M185.66 481.08h5.8m-2.9-2.9v5.8M185.79 477.77h5.8m-2.9-2.9v5.8M185.92 481.49h5.8m-2.9-2.9v5.8M186.06 481.04h5.8m-2.9-2.9v5.8M186.19 483.15h5.8m-2.9-2.9v5.8M186.32 481.17h5.8m-2.9-2.9v5.8M186.45 478.8h5.8m-2.9-2.9v5.8M186.59 478.48h5.8m-2.9-2.9v5.8M186.72 484.03h5.8m-2.9-2.9v5.8M186.85 476.92h5.8m-2.9-2.9v5.8M186.98 481.37h5.8m-2.9-2.9v5.8M187.12 481.07h5.8m-2.9-2.9v5.8M187.25 480.2h5.8m-2.9-2.9v5.8M187.38 482.2h5.8m-2.9-2.9v5.8M187.51 484.14h5.8m-2.9-2.9v5.8M187.64 482.39h5.8m-2.9-2.9v5.8M187.78 483.32h5.8m-2.9-2.9v5.8M187.91 478.76h5.8m-2.9-2.9v5.8M188.04 471.95h5.8m-2.9-2.9v5.8M188.17 472.95h5.8m-2.9-2.9v5.8M188.31 495.41h5.8m-2.9-2.9v5.8M188.44 503.45h5.8m-2.9-2.9v5.8M188.57 507.59h5.8m-2.9-2.9v5.8M188.7 509.8h5.8m-2.9-2.9v5.8M188.84 506.69h5.8m-2.9-2.9v5.8M188.97 507.49h5.8m-2.9-2.9v5.8M189.1 508.2h5.8m-2.9-2.9v5.8M189.23 509.99h5.8m-2.9-2.9v5.8M189.37 505.47h5.8m-2.9-2.9v5.8M189.5 508.87h5.8m-2.9-2.9v5.8M189.63 509.01h5.8m-2.9-2.9v5.8M189.76 509.35h5.8m-2.9-2.9v5.8M189.9 508.81h5.8m-2.9-2.9v5.8M190.03 509.17h5.8m-2.9-2.9v5.8M190.16 508.94h5.8m-2.9-2.9v5.8M190.29 508.92h5.8m-2.9-2.9v5.8M190.42 509.47h5.8m-2.9-2.9v5.8M190.56 508.61h5.8m-2.9-2.9v5.8M190.69 510.69h5.8m-2.9-2.9v5.8M190.82 509.03h5.8m-2.9-2.9v5.8M190.95 509.67h5.8m-2.9-2.9v5.8M191.09 510.11h5.8m-2.9-2.9v5.8M191.22 509.61h5.8m-2.9-2.9v5.8M191.35 510.16h5.8m-2.9-2.9v5.8M191.48 510.33h5.8m-2.9-2.9v5.8M191.62 511.07h5.8m-2.9-2.9v5.8M191.75 511.56h5.8m-2.9-2.9v5.8M191.88 512.27h5.8m-2.9-2.9v5.8M192.01 512.19h5.8m-2.9-2.9v5.8M192.15 511.78h5.8m-2.9-2.9v5.8M192.28 510.6h5.8m-2.9-2.9v5.8M192.41 511.67h5.8m-2.9-2.9v5.8M192.54 511.21h5.8m-2.9-2.9v5.8M192.68 512.17h5.8m-2.9-2.9v5.8M192.81 512.46h5.8m-2.9-2.9v5.8M192.94 510.88h5.8m-2.9-2.9v5.8M193.07 508.72h5.8m-2.9-2.9v5.8M193.21 511.7h5.8m-2.9-2.9v5.8M193.34 509.37h5.8m-2.9-2.9v5.8M193.47 511.49h5.8m-2.9-2.9v5.8M193.6 511.41h5.8m-2.9-2.9v5.8M193.73 511.03h5.8m-2.9-2.9v5.8M193.87 510.84h5.8m-2.9-2.9v5.8M194 509.2h5.8m-2.9-2.9v5.8M194.13 509.65h5.8m-2.9-2.9v5.8M194.26 509.62h5.8m-2.9-2.9v5.8M194.4 510.05h5.8m-2.9-2.9v5.8M194.53 508.61h5.8m-2.9-2.9v5.8M194.66 507.66h5.8m-2.9-2.9v5.8M194.79 508.9h5.8m-2.9-2.9v5.8M194.93 509.36h5.8m-2.9-2.9v5.8M195.06 509.84h5.8m-2.9-2.9v5.8M195.19 509.05h5.8m-2.9-2.9v5.8M195.32 509.74h5.8m-2.9-2.9v5.8M195.46 507.28h5.8m-2.9-2.9v5.8M195.59 509.03h5.8m-2.9-2.9v5.8M195.72 507.16h5.8m-2.9-2.9v5.8M195.85 509.16h5.8m-2.9-2.9v5.8M195.99 507.14h5.8m-2.9-2.9v5.8M196.12 507.25h5.8m-2.9-2.9v5.8M196.25 506.96h5.8m-2.9-2.9v5.8M196.38 356.1h5.8m-2.9-2.9v5.8M196.52 370.48h5.8m-2.9-2.9v5.8M196.65 365.14h5.8m-2.9-2.9v5.8M196.78 372.22h5.8m-2.9-2.9v5.8M196.91 368.85h5.8m-2.9-2.9v5.8M197.04 371.49h5.8m-2.9-2.9v5.8M197.18 373.52h5.8m-2.9-2.9v5.8M197.31 371.13h5.8m-2.9-2.9v5.8M197.44 370.71h5.8m-2.9-2.9v5.8M197.57 371.96h5.8m-2.9-2.9v5.8M197.71 376.27h5.8m-2.9-2.9v5.8M197.84 375.95h5.8m-2.9-2.9v5.8M197.97 374.47h5.8m-2.9-2.9v5.8M198.1 375.34h5.8m-2.9-2.9v5.8M198.24 375.09h5.8m-2.9-2.9v5.8M198.37 377.5h5.8m-2.9-2.9v5.8M198.5 380.57h5.8m-2.9-2.9v5.8M198.63 414.18h5.8m-2.9-2.9v5.8M198.77 413.09h5.8m-2.9-2.9v5.8M198.9 415.79h5.8m-2.9-2.9v5.8M199.03 417.19h5.8m-2.9-2.9v5.8M199.16 415.42h5.8m-2.9-2.9v5.8M199.3 415.3h5.8m-2.9-2.9v5.8M199.43 418.96h5.8m-2.9-2.9v5.8M199.56 419.25h5.8m-2.9-2.9v5.8M199.69 420.06h5.8m-2.9-2.9v5.8M199.82 419.57h5.8m-2.9-2.9v5.8M199.96 422.08h5.8m-2.9-2.9v5.8M200.09 468.55h5.8m-2.9-2.9v5.8M200.22 479.02h5.8m-2.9-2.9v5.8M200.35 473.97h5.8m-2.9-2.9v5.8M200.49 473.59h5.8m-2.9-2.9v5.8M200.62 476.7h5.8m-2.9-2.9v5.8M200.75 476.64h5.8m-2.9-2.9v5.8M200.88 476.55h5.8m-2.9-2.9v5.8M201.02 477.02h5.8m-2.9-2.9v5.8M201.15 478.7h5.8m-2.9-2.9v5.8M201.28 475.91h5.8m-2.9-2.9v5.8M201.41 475.9h5.8m-2.9-2.9v5.8M201.55 475.39h5.8m-2.9-2.9v5.8M201.68 479.58h5.8m-2.9-2.9v5.8M201.81 477.31h5.8m-2.9-2.9v5.8M201.94 480.45h5.8m-2.9-2.9v5.8M202.08 474.17h5.8m-2.9-2.9v5.8M202.21 481.08h5.8m-2.9-2.9v5.8M202.34 478.38h5.8m-2.9-2.9v5.8M202.47 475.03h5.8m-2.9-2.9v5.8M202.61 481.82h5.8m-2.9-2.9v5.8M202.74 478.16h5.8m-2.9-2.9v5.8M202.87 481.91h5.8m-2.9-2.9v5.8M203 476.74h5.8m-2.9-2.9v5.8M203.13 479.46h5.8m-2.9-2.9v5.8M203.27 480.01h5.8m-2.9-2.9v5.8M203.4 480.83h5.8m-2.9-2.9v5.8M203.53 477.94h5.8m-2.9-2.9v5.8M203.66 478.84h5.8m-2.9-2.9v5.8M203.8 477.77h5.8m-2.9-2.9v5.8M203.93 477.61h5.8m-2.9-2.9v5.8M204.06 480.53h5.8m-2.9-2.9v5.8M204.19 478.89h5.8m-2.9-2.9v5.8M204.33 476.88h5.8m-2.9-2.9v5.8M204.46 478.55h5.8m-2.9-2.9v5.8M204.59 478.84h5.8m-2.9-2.9v5.8M204.72 479.52h5.8m-2.9-2.9v5.8M204.86 480.73h5.8m-2.9-2.9v5.8M204.99 479.87h5.8m-2.9-2.9v5.8M205.12 480.11h5.8m-2.9-2.9v5.8M205.25 475.06h5.8m-2.9-2.9v5.8M205.39 480.74h5.8m-2.9-2.9v5.8M205.52 482.29h5.8m-2.9-2.9v5.8M205.65 479.61h5.8m-2.9-2.9v5.8M205.78 480.93h5.8m-2.9-2.9v5.8M205.92 481.85h5.8m-2.9-2.9v5.8M206.05 479.01h5.8m-2.9-2.9v5.8M206.18 481.13h5.8m-2.9-2.9v5.8M206.31 482.51h5.8m-2.9-2.9v5.8M206.44 479.79h5.8m-2.9-2.9v5.8M206.58 477.08h5.8m-2.9-2.9v5.8M206.71 478.48h5.8m-2.9-2.9v5.8M206.84 480.73h5.8m-2.9-2.9v5.8M206.97 480.73h5.8m-2.9-2.9v5.8M207.11 481.52h5.8m-2.9-2.9v5.8M207.24 480.1h5.8m-2.9-2.9v5.8M207.37 482.06h5.8m-2.9-2.9v5.8M207.5 481.02h5.8m-2.9-2.9v5.8M207.64 482.18h5.8m-2.9-2.9v5.8M207.77 481.53h5.8m-2.9-2.9v5.8M207.9 486.11h5.8m-2.9-2.9v5.8M208.03 482.19h5.8m-2.9-2.9v5.8M208.17 483.4h5.8m-2.9-2.9v5.8M208.3 483.04h5.8m-2.9-2.9v5.8M208.43 481.71h5.8m-2.9-2.9v5.8M208.56 485.16h5.8m-2.9-2.9v5.8M208.7 484.46h5.8m-2.9-2.9v5.8M208.83 471.95h5.8m-2.9-2.9v5.8M208.96 472.95h5.8m-2.9-2.9v5.8M209.09 495.41h5.8m-2.9-2.9v5.8M209.23 503.45h5.8m-2.9-2.9v5.8M209.36 507.48h5.8m-2.9-2.9v5.8M209.49 507.71h5.8m-2.9-2.9v5.8M209.62 507.06h5.8m-2.9-2.9v5.8M209.75 507.71h5.8m-2.9-2.9v5.8M209.89 509.6h5.8m-2.9-2.9v5.8M210.02 507.9h5.8m-2.9-2.9v5.8M210.15 508.53h5.8m-2.9-2.9v5.8M210.28 508.4h5.8m-2.9-2.9v5.8M210.42 507.74h5.8m-2.9-2.9v5.8M210.55 508.67h5.8m-2.9-2.9v5.8M210.68 509.08h5.8m-2.9-2.9v5.8M210.81 510.47h5.8m-2.9-2.9v5.8M210.95 509.54h5.8m-2.9-2.9v5.8M211.08 508.54h5.8m-2.9-2.9v5.8M211.21 508.92h5.8m-2.9-2.9v5.8M211.34 510.63h5.8m-2.9-2.9v5.8M211.48 510.9h5.8m-2.9-2.9v5.8M211.61 510.13h5.8m-2.9-2.9v5.8M211.74 509.49h5.8m-2.9-2.9v5.8M211.87 510.7h5.8m-2.9-2.9v5.8M212.01 508.93h5.8m-2.9-2.9v5.8M212.14 508.36h5.8m-2.9-2.9v5.8M212.27 511.42h5.8m-2.9-2.9v5.8M212.4 508.7h5.8m-2.9-2.9v5.8M212.53 508.9h5.8m-2.9-2.9v5.8M212.67 512.63h5.8m-2.9-2.9v5.8M212.8 512.4h5.8m-2.9-2.9v5.8M212.93 511.19h5.8m-2.9-2.9v5.8M213.06 511.18h5.8m-2.9-2.9v5.8M213.2 512.08h5.8m-2.9-2.9v5.8M213.33 511.43h5.8m-2.9-2.9v5.8M213.46 510.72h5.8m-2.9-2.9v5.8M213.59 512.12h5.8m-2.9-2.9v5.8M213.73 513.23h5.8m-2.9-2.9v5.8M213.86 511.35h5.8m-2.9-2.9v5.8M213.99 510.22h5.8m-2.9-2.9v5.8M214.12 509.48h5.8m-2.9-2.9v5.8M214.26 509.72h5.8m-2.9-2.9v5.8M214.39 513.08h5.8m-2.9-2.9v5.8M214.52 511.53h5.8m-2.9-2.9v5.8M214.65 510.42h5.8m-2.9-2.9v5.8M214.79 510.97h5.8m-2.9-2.9v5.8M214.92 509.57h5.8m-2.9-2.9v5.8M215.05 509.53h5.8m-2.9-2.9v5.8M215.18 509h5.8m-2.9-2.9v5.8M215.32 508.37h5.8m-2.9-2.9v5.8M215.45 510.04h5.8m-2.9-2.9v5.8M215.58 507.8h5.8m-2.9-2.9v5.8M215.71 510.55h5.8m-2.9-2.9v5.8M215.84 510.12h5.8m-2.9-2.9v5.8M215.98 510.02h5.8m-2.9-2.9v5.8M216.11 509.7h5.8m-2.9-2.9v5.8M216.24 508.16h5.8m-2.9-2.9v5.8M216.37 507.11h5.8m-2.9-2.9v5.8M216.51 509.86h5.8m-2.9-2.9v5.8M216.64 507.71h5.8m-2.9-2.9v5.8M216.77 507.14h5.8m-2.9-2.9v5.8M216.9 507.86h5.8m-2.9-2.9v5.8M217.04 509.83h5.8m-2.9-2.9v5.8M217.17 507.45h5.8m-2.9-2.9v5.8M217.3 506.9h5.8m-2.9-2.9v5.8M217.43 509.23h5.8m-2.9-2.9v5.8M217.57 351.75h5.8m-2.9-2.9v5.8M217.7 363.7h5.8m-2.9-2.9v5.8M217.83 365.4h5.8m-2.9-2.9v5.8M217.96 364.69h5.8m-2.9-2.9v5.8M218.1 365.03h5.8m-2.9-2.9v5.8M218.23 369.65h5.8m-2.9-2.9v5.8M218.36 370.12h5.8m-2.9-2.9v5.8M218.49 367.33h5.8m-2.9-2.9v5.8M218.63 369.87h5.8m-2.9-2.9v5.8M218.76 368.54h5.8m-2.9-2.9v5.8M218.89 369.59h5.8m-2.9-2.9v5.8M219.02 372.38h5.8m-2.9-2.9v5.8M219.15 370.15h5.8m-2.9-2.9v5.8M219.29 371.51h5.8m-2.9-2.9v5.8M219.42 373.82h5.8m-2.9-2.9v5.8M219.55 374.22h5.8m-2.9-2.9v5.8M219.68 374.9h5.8m-2.9-2.9v5.8M219.82 374.1h5.8m-2.9-2.9v5.8M219.95 406.8h5.8m-2.9-2.9v5.8M220.08 408.29h5.8m-2.9-2.9v5.8M220.21 410.2h5.8m-2.9-2.9v5.8M220.35 412.78h5.8m-2.9-2.9v5.8M220.48 411.68h5.8m-2.9-2.9v5.8M220.61 412.88h5.8m-2.9-2.9v5.8M220.74 414.57h5.8m-2.9-2.9v5.8M220.88 415.81h5.8m-2.9-2.9v5.8M221.01 413.36h5.8m-2.9-2.9v5.8M221.14 414.36h5.8m-2.9-2.9v5.8M221.27 419.28h5.8m-2.9-2.9v5.8M221.41 467.76h5.8m-2.9-2.9v5.8M221.54 475.71h5.8m-2.9-2.9v5.8M221.67 472.93h5.8m-2.9-2.9v5.8M221.8 478.43h5.8m-2.9-2.9v5.8M221.93 474.84h5.8m-2.9-2.9v5.8M222.07 478.12h5.8m-2.9-2.9v5.8M222.2 477.57h5.8m-2.9-2.9v5.8M222.33 476.77h5.8m-2.9-2.9v5.8M222.46 475.37h5.8m-2.9-2.9v5.8M222.6 477.16h5.8m-2.9-2.9v5.8M222.73 480.73h5.8m-2.9-2.9v5.8M222.86 475.94h5.8m-2.9-2.9v5.8M222.99 477.78h5.8m-2.9-2.9v5.8M223.13 478.35h5.8m-2.9-2.9v5.8M223.26 481.52h5.8m-2.9-2.9v5.8M223.39 478.98h5.8m-2.9-2.9v5.8M223.52 475.81h5.8m-2.9-2.9v5.8M223.66 475.72h5.8m-2.9-2.9v5.8M223.79 477.43h5.8m-2.9-2.9v5.8M223.92 480.32h5.8m-2.9-2.9v5.8M224.05 477.01h5.8m-2.9-2.9v5.8M224.19 480.46h5.8m-2.9-2.9v5.8M224.32 477.18h5.8m-2.9-2.9v5.8M224.45 480.01h5.8m-2.9-2.9v5.8M224.58 482.15h5.8m-2.9-2.9v5.8M224.72 478.21h5.8m-2.9-2.9v5.8M224.85 478.79h5.8m-2.9-2.9v5.8M224.98 478.89h5.8m-2.9-2.9v5.8M225.11 481.26h5.8m-2.9-2.9v5.8M225.24 481.67h5.8m-2.9-2.9v5.8M225.38 477.32h5.8m-2.9-2.9v5.8M225.51 479.83h5.8m-2.9-2.9v5.8M225.64 476.47h5.8m-2.9-2.9v5.8M225.77 476.56h5.8m-2.9-2.9v5.8M225.91 482.25h5.8m-2.9-2.9v5.8M226.04 480.89h5.8m-2.9-2.9v5.8M226.17 486.24h5.8m-2.9-2.9v5.8M226.3 480.52h5.8m-2.9-2.9v5.8M226.44 481.84h5.8m-2.9-2.9v5.8M226.57 480.11h5.8m-2.9-2.9v5.8M226.7 481.4h5.8m-2.9-2.9v5.8M226.83 481.9h5.8m-2.9-2.9v5.8M226.97 482.58h5.8m-2.9-2.9v5.8M227.1 482.59h5.8m-2.9-2.9v5.8M227.23 478.6h5.8m-2.9-2.9v5.8M227.36 479.88h5.8m-2.9-2.9v5.8M227.5 476.86h5.8m-2.9-2.9v5.8M227.63 479.75h5.8m-2.9-2.9v5.8M227.76 482.29h5.8m-2.9-2.9v5.8M227.89 482.56h5.8m-2.9-2.9v5.8M228.03 478.35h5.8m-2.9-2.9v5.8M228.16 485.66h5.8m-2.9-2.9v5.8M228.29 481.67h5.8m-2.9-2.9v5.8M228.42 482.32h5.8m-2.9-2.9v5.8M228.55 486.38h5.8m-2.9-2.9v5.8M228.69 479.91h5.8m-2.9-2.9v5.8M228.82 482.21h5.8m-2.9-2.9v5.8M228.95 482.8h5.8m-2.9-2.9v5.8M229.08 484.22h5.8m-2.9-2.9v5.8M229.22 482.66h5.8m-2.9-2.9v5.8M229.35 482.93h5.8m-2.9-2.9v5.8M229.48 480.67h5.8m-2.9-2.9v5.8M229.61 483.54h5.8m-2.9-2.9v5.8M229.75 477.94h5.8m-2.9-2.9v5.8M229.88 471.95h5.8m-2.9-2.9v5.8M230.01 472.95h5.8m-2.9-2.9v5.8M230.14 495.41h5.8m-2.9-2.9v5.8M230.28 503.45h5.8m-2.9-2.9v5.8M230.41 508.3h5.8m-2.9-2.9v5.8M230.54 507.73h5.8m-2.9-2.9v5.8M230.67 508.57h5.8m-2.9-2.9v5.8M230.81 507.33h5.8m-2.9-2.9v5.8M230.94 508.61h5.8m-2.9-2.9v5.8M231.07 507.02h5.8m-2.9-2.9v5.8M231.2 507.52h5.8m-2.9-2.9v5.8M231.34 508.19h5.8m-2.9-2.9v5.8M231.47 510.22h5.8m-2.9-2.9v5.8M231.6 508.84h5.8m-2.9-2.9v5.8M231.73 509.03h5.8m-2.9-2.9v5.8M231.86 508.51h5.8m-2.9-2.9v5.8M232 510.49h5.8m-2.9-2.9v5.8M232.13 508.74h5.8m-2.9-2.9v5.8M232.26 508.83h5.8m-2.9-2.9v5.8M232.39 509.65h5.8m-2.9-2.9v5.8M232.53 509.44h5.8m-2.9-2.9v5.8M232.66 510.28h5.8m-2.9-2.9v5.8M232.79 509.09h5.8m-2.9-2.9v5.8M232.92 511.17h5.8m-2.9-2.9v5.8M233.06 510.83h5.8m-2.9-2.9v5.8M233.19 507.98h5.8m-2.9-2.9v5.8M233.32 510.51h5.8m-2.9-2.9v5.8M233.45 510.61h5.8m-2.9-2.9v5.8M233.59 511.54h5.8m-2.9-2.9v5.8M233.72 511.05h5.8m-2.9-2.9v5.8M233.85 510.69h5.8m-2.9-2.9v5.8M233.98 512.13h5.8m-2.9-2.9v5.8M234.12 512.5h5.8m-2.9-2.9v5.8M234.25 511.67h5.8m-2.9-2.9v5.8M234.38 509.94h5.8m-2.9-2.9v5.8M234.51 511.8h5.8m-2.9-2.9v5.8M234.64 509.01h5.8m-2.9-2.9v5.8M234.78 510.15h5.8m-2.9-2.9v5.8M234.91 510.54h5.8m-2.9-2.9v5.8M235.04 511.44h5.8m-2.9-2.9v5.8M235.17 510.4h5.8m-2.9-2.9v5.8M235.31 508.03h5.8m-2.9-2.9v5.8M235.44 511.85h5.8m-2.9-2.9v5.8M235.57 510.14h5.8m-2.9-2.9v5.8M235.7 508.82h5.8m-2.9-2.9v5.8M235.84 509.34h5.8m-2.9-2.9v5.8M235.97 510.01h5.8m-2.9-2.9v5.8M236.1 510.4h5.8m-2.9-2.9v5.8M236.23 509.02h5.8m-2.9-2.9v5.8M236.37 511.36h5.8m-2.9-2.9v5.8M236.5 507.98h5.8m-2.9-2.9v5.8M236.63 510.29h5.8m-2.9-2.9v5.8M236.76 511.23h5.8m-2.9-2.9v5.8M236.9 509.57h5.8m-2.9-2.9v5.8M237.03 509.31h5.8m-2.9-2.9v5.8M237.16 509.38h5.8m-2.9-2.9v5.8M237.29 510.44h5.8m-2.9-2.9v5.8M237.43 509.51h5.8m-2.9-2.9v5.8M237.56 508h5.8m-2.9-2.9v5.8M237.69 508.24h5.8m-2.9-2.9v5.8M237.82 507.39h5.8m-2.9-2.9v5.8M237.95 508.17h5.8m-2.9-2.9v5.8M238.09 509.19h5.8m-2.9-2.9v5.8M238.22 508.35h5.8m-2.9-2.9v5.8M238.35 507.88h5.8m-2.9-2.9v5.8M238.48 507.61h5.8m-2.9-2.9v5.8M238.62 507.4h5.8m-2.9-2.9v5.8M238.75 348.02h5.8m-2.9-2.9v5.8M238.88 361.77h5.8m-2.9-2.9v5.8M239.01 362.55h5.8m-2.9-2.9v5.8M239.15 365.87h5.8m-2.9-2.9v5.8M239.28 363.56h5.8m-2.9-2.9v5.8M239.41 365.19h5.8m-2.9-2.9v5.8M239.54 367.68h5.8m-2.9-2.9v5.8M239.68 367.64h5.8m-2.9-2.9v5.8M239.81 369.15h5.8m-2.9-2.9v5.8M239.94 369.32h5.8m-2.9-2.9v5.8M240.07 373.51h5.8m-2.9-2.9v5.8M240.21 374.41h5.8m-2.9-2.9v5.8M240.34 370.88h5.8m-2.9-2.9v5.8M240.47 404.93h5.8m-2.9-2.9v5.8M240.6 403.69h5.8m-2.9-2.9v5.8M240.74 404.63h5.8m-2.9-2.9v5.8M240.87 407.38h5.8m-2.9-2.9v5.8M241 406.35h5.8m-2.9-2.9v5.8M241.13 411.36h5.8m-2.9-2.9v5.8M241.26 410.92h5.8m-2.9-2.9v5.8M241.4 414.08h5.8m-2.9-2.9v5.8M241.53 413.2h5.8m-2.9-2.9v5.8M241.66 466.61h5.8m-2.9-2.9v5.8M241.79 475.56h5.8m-2.9-2.9v5.8M241.93 478.35h5.8m-2.9-2.9v5.8M242.06 475.87h5.8m-2.9-2.9v5.8M242.19 478.1h5.8m-2.9-2.9v5.8M242.32 476.37h5.8m-2.9-2.9v5.8M242.46 478.18h5.8m-2.9-2.9v5.8M242.59 474.87h5.8m-2.9-2.9v5.8M242.72 475.61h5.8m-2.9-2.9v5.8M242.85 476.11h5.8m-2.9-2.9v5.8M242.99 475.33h5.8m-2.9-2.9v5.8M243.12 474.48h5.8m-2.9-2.9v5.8M243.25 477.19h5.8m-2.9-2.9v5.8M243.38 478.75h5.8m-2.9-2.9v5.8M243.52 478.67h5.8m-2.9-2.9v5.8M243.65 474.07h5.8m-2.9-2.9v5.8M243.78 476.83h5.8m-2.9-2.9v5.8M243.91 479.98h5.8m-2.9-2.9v5.8M244.04 479.96h5.8m-2.9-2.9v5.8M244.18 475.41h5.8m-2.9-2.9v5.8M244.31 478.51h5.8m-2.9-2.9v5.8M244.44 474.52h5.8m-2.9-2.9v5.8M244.57 475.04h5.8m-2.9-2.9v5.8M244.71 478.82h5.8m-2.9-2.9v5.8M244.84 479.01h5.8m-2.9-2.9v5.8M244.97 480.44h5.8m-2.9-2.9v5.8M245.1 477.05h5.8m-2.9-2.9v5.8M245.24 481.61h5.8m-2.9-2.9v5.8M245.37 477.97h5.8m-2.9-2.9v5.8M245.5 479.77h5.8m-2.9-2.9v5.8M245.63 475.95h5.8m-2.9-2.9v5.8M245.77 479.95h5.8m-2.9-2.9v5.8M245.9 480.92h5.8m-2.9-2.9v5.8M246.03 478.2h5.8m-2.9-2.9v5.8M246.16 481.66h5.8m-2.9-2.9v5.8M246.3 478.25h5.8m-2.9-2.9v5.8M246.43 480.41h5.8m-2.9-2.9v5.8M246.56 481.11h5.8m-2.9-2.9v5.8M246.69 480.66h5.8m-2.9-2.9v5.8M246.83 480.61h5.8m-2.9-2.9v5.8M246.96 482.77h5.8m-2.9-2.9v5.8M247.09 479.07h5.8m-2.9-2.9v5.8M247.22 480.52h5.8m-2.9-2.9v5.8M247.35 481.73h5.8m-2.9-2.9v5.8M247.49 477.87h5.8m-2.9-2.9v5.8M247.62 480.13h5.8m-2.9-2.9v5.8M247.75 477.32h5.8m-2.9-2.9v5.8M247.88 484.46h5.8m-2.9-2.9v5.8M248.02 478.04h5.8m-2.9-2.9v5.8M248.15 480.61h5.8m-2.9-2.9v5.8M248.28 477.5h5.8m-2.9-2.9v5.8M248.41 480.85h5.8m-2.9-2.9v5.8M248.55 482.11h5.8m-2.9-2.9v5.8M248.68 482.5h5.8m-2.9-2.9v5.8M248.81 480.47h5.8m-2.9-2.9v5.8M248.94 484.62h5.8m-2.9-2.9v5.8M249.08 482.24h5.8m-2.9-2.9v5.8M249.21 483.66h5.8m-2.9-2.9v5.8M249.34 476.87h5.8m-2.9-2.9v5.8M249.47 480.71h5.8m-2.9-2.9v5.8M249.61 482.44h5.8m-2.9-2.9v5.8M249.74 488.1h5.8m-2.9-2.9v5.8M249.87 482.36h5.8m-2.9-2.9v5.8M250 483.52h5.8m-2.9-2.9v5.8M250.14 482.5h5.8m-2.9-2.9v5.8M250.27 482.44h5.8m-2.9-2.9v5.8M250.4 484.09h5.8m-2.9-2.9v5.8M250.53 485.37h5.8m-2.9-2.9v5.8M250.66 483.41h5.8m-2.9-2.9v5.8M250.8 483.16h5.8m-2.9-2.9v5.8M250.93 483.11h5.8m-2.9-2.9v5.8M251.06 471.95h5.8m-2.9-2.9v5.8M251.19 472.95h5.8m-2.9-2.9v5.8M251.33 495.41h5.8m-2.9-2.9v5.8M251.46 503.45h5.8m-2.9-2.9v5.8M251.59 507.79h5.8m-2.9-2.9v5.8M251.72 507.51h5.8m-2.9-2.9v5.8M251.86 508.77h5.8m-2.9-2.9v5.8M251.99 507.32h5.8m-2.9-2.9v5.8M252.12 508.61h5.8m-2.9-2.9v5.8M252.25 508.21h5.8m-2.9-2.9v5.8M252.39 508.91h5.8m-2.9-2.9v5.8M252.52 508.37h5.8m-2.9-2.9v5.8M252.65 507.28h5.8m-2.9-2.9v5.8M252.78 508.4h5.8m-2.9-2.9v5.8M252.92 508.82h5.8m-2.9-2.9v5.8M253.05 508.97h5.8m-2.9-2.9v5.8M253.18 509.74h5.8m-2.9-2.9v5.8M253.31 510.46h5.8m-2.9-2.9v5.8M253.45 511.38h5.8m-2.9-2.9v5.8M253.58 509.49h5.8m-2.9-2.9v5.8M253.71 509.26h5.8m-2.9-2.9v5.8M253.84 509.22h5.8m-2.9-2.9v5.8M253.97 511.72h5.8m-2.9-2.9v5.8M254.11 510.86h5.8m-2.9-2.9v5.8M254.24 509.85h5.8m-2.9-2.9v5.8M254.37 510.77h5.8m-2.9-2.9v5.8M254.5 509.83h5.8m-2.9-2.9v5.8M254.64 509.76h5.8m-2.9-2.9v5.8M254.77 511.91h5.8m-2.9-2.9v5.8M254.9 510.06h5.8m-2.9-2.9v5.8M255.03 511.06h5.8m-2.9-2.9v5.8M255.17 511.56h5.8m-2.9-2.9v5.8M255.3 510.93h5.8m-2.9-2.9v5.8M255.43 511.94h5.8m-2.9-2.9v5.8M255.56 512.98h5.8m-2.9-2.9v5.8M255.7 510.8h5.8m-2.9-2.9v5.8M255.83 510.94h5.8m-2.9-2.9v5.8M255.96 510.83h5.8m-2.9-2.9v5.8M256.09 511.04h5.8m-2.9-2.9v5.8M256.23 512.36h5.8m-2.9-2.9v5.8M256.36 510.96h5.8m-2.9-2.9v5.8M256.49 509.31h5.8m-2.9-2.9v5.8M256.62 510.33h5.8m-2.9-2.9v5.8M256.75 510.53h5.8m-2.9-2.9v5.8M256.89 510.21h5.8m-2.9-2.9v5.8M257.02 510.51h5.8m-2.9-2.9v5.8M257.15 510.15h5.8m-2.9-2.9v5.8M257.28 510.06h5.8m-2.9-2.9v5.8M257.42 510.56h5.8m-2.9-2.9v5.8M257.55 510.02h5.8m-2.9-2.9v5.8M257.68 509.77h5.8m-2.9-2.9v5.8M257.81 509.57h5.8m-2.9-2.9v5.8M257.95 507.22h5.8m-2.9-2.9v5.8M258.08 509.7h5.8m-2.9-2.9v5.8M258.21 510.39h5.8m-2.9-2.9v5.8M258.34 509.26h5.8m-2.9-2.9v5.8M258.48 510.62h5.8m-2.9-2.9v5.8M258.61 507.23h5.8m-2.9-2.9v5.8M258.74 509.32h5.8m-2.9-2.9v5.8M258.87 508.79h5.8m-2.9-2.9v5.8M259.01 508.34h5.8m-2.9-2.9v5.8M259.14 507.55h5.8m-2.9-2.9v5.8M259.27 508.77h5.8m-2.9-2.9v5.8M259.4 507.8h5.8m-2.9-2.9v5.8M259.54 508.19h5.8m-2.9-2.9v5.8M259.67 507.9h5.8m-2.9-2.9v5.8M259.8 507.2h5.8m-2.9-2.9v5.8" stroke="#00f" stroke-width="1.1" fill="none"/>
<path d="M51 510.1L72.05 505.96L93.23 506.1L114.42 506.23L135.6 506.37L156.78 506.51L177.97 506.65L199.15 506.79L220.33 506.92L241.52 507.06L262.7 507.2" stroke="#000" stroke-width="1.8" fill="none" stroke-dasharray="5.4 5.19" stroke-dashoffset="2.7"/>
<path d="M48.8 507.9l4.4 4.4m0-4.4l-4.4 4.4M69.85 503.76l4.4 4.4m0-4.4l-4.4 4.4M91.03 503.9l4.4 4.4m0-4.4l-4.4 4.4M112.22 504.03l4.4 4.4m0-4.4l-4.4 4.4M133.4 504.17l4.4 4.4m0-4.4l-4.4 4.4M154.58 504.31l4.4 4.4m0-4.4l-4.4 4.4M175.77 504.45l4.4 4.4m0-4.4l-4.4 4.4M196.95 504.59l4.4 4.4m0-4.4l-4.4 4.4M218.13 504.72l4.4 4.4m0-4.4l-4.4 4.4M239.32 504.86l4.4 4.4m0-4.4l-4.4 4.4M260.5 505l4.4 4.4m0-4.4l-4.4 4.4" stroke="#000" stroke-width="2" fill="none"/>
</g>
<rect x="59.1" y="323.8" width="71.6" height="46.2" fill="#fff" stroke="#5a5a5a" stroke-width="1.1"/>
<path d="M63.7 332.1H87.8" stroke="#f00" stroke-width="1.8"/>
<path d="M75.75 329.4v5.4" stroke="#f00" stroke-width="1.6"/>
<path d="M63.7 346.8h4.8M83.2 346.8h4.6" stroke="#000" stroke-width="1.8"/>
<path d="M73.55 344.6l4.4 4.4m0-4.4l-4.4 4.4" stroke="#000" stroke-width="2.1"/>
<path d="M63.7 361.4H87.8" stroke="#6a6aff" stroke-width="1.0"/>
<path d="M75.75 358.6v5.6M72.75 361.4h6" stroke="#2222ff" stroke-width="1.1"/>
<text x="90.1" y="336" font-family="'Liberation Sans', Arial, sans-serif" font-size="11.8" textLength="27.2" lengthAdjust="spacingAndGlyphs" stroke="#000" stroke-width="0.35">static</text>
<text x="90.1" y="350.7" font-family="'Liberation Sans', Arial, sans-serif" font-size="11.8" textLength="31.4" lengthAdjust="spacingAndGlyphs" stroke="#000" stroke-width="0.35">rebuilt</text>
<text x="90.1" y="365.3" font-family="'Liberation Sans', Arial, sans-serif" font-size="11.8" textLength="29.3" lengthAdjust="spacingAndGlyphs" stroke="#000" stroke-width="0.35">adapt</text>
<text x="45.6" y="506.2" text-anchor="end" font-family="'Liberation Sans', Arial, sans-serif" font-size="13.4" stroke="#000" stroke-width="0.35">10<tspan font-size="9.4" dx="1.1" dy="-6.3">-4</tspan></text>
<text x="45.6" y="460.1" text-anchor="end" font-family="'Liberation Sans', Arial, sans-serif" font-size="13.4" stroke="#000" stroke-width="0.35">10<tspan font-size="9.4" dx="1.1" dy="-6.3">-3</tspan></text>
<text x="45.6" y="414" text-anchor="end" font-family="'Liberation Sans', Arial, sans-serif" font-size="13.4" stroke="#000" stroke-width="0.35">10<tspan font-size="9.4" dx="1.1" dy="-6.3">-2</tspan></text>
<text x="45.6" y="367.9" text-anchor="end" font-family="'Liberation Sans', Arial, sans-serif" font-size="13.4" stroke="#000" stroke-width="0.35">10<tspan font-size="9.4" dx="1.1" dy="-6.3">-1</tspan></text>
<text x="45.6" y="321.8" text-anchor="end" font-family="'Liberation Sans', Arial, sans-serif" font-size="13.4" stroke="#000" stroke-width="0.35">10<tspan font-size="9.4" dx="1.1" dy="-6.3">0</tspan></text>
<text x="115.07" y="562.9" text-anchor="middle" font-family="'Liberation Sans', Arial, sans-serif" font-size="13" stroke="#000" stroke-width="0.35">500</text>
<text x="181.26" y="562.9" text-anchor="middle" font-family="'Liberation Sans', Arial, sans-serif" font-size="13" stroke="#000" stroke-width="0.35">1000</text>
<text x="247.46" y="562.9" text-anchor="middle" font-family="'Liberation Sans', Arial, sans-serif" font-size="13" stroke="#000" stroke-width="0.35">1500</text>
<text transform="translate(10.9 431.95) rotate(-90)" text-anchor="middle" font-family="'Liberation Serif', 'Times New Roman', serif" font-size="14.2" textLength="154.8" lengthAdjust="spacingAndGlyphs" stroke="#000" stroke-width="0.2">rel <tspan font-style="italic">L</tspan><tspan font-size="10" dy="2.8">2</tspan><tspan dy="-2.8"> error over test set</tspan></text>
<text x="61.7" y="583.2" font-family="'Liberation Serif', 'Times New Roman', serif" font-size="14.3" textLength="190.3" lengthAdjust="spacingAndGlyphs" stroke="#000" stroke-width="0.2">#sensor samples for updating</text>
<text x="62.96" y="607.0" font-family="'Liberation Serif', 'Times New Roman', serif" font-size="16.1" font-weight="bold" textLength="20.04" lengthAdjust="spacingAndGlyphs">(c)</text>
<text x="89.0" y="605.8" font-family="'Liberation Serif', 'Times New Roman', serif" font-size="13.32" stroke="#000" stroke-width="0.2" textLength="41.04" lengthAdjust="spacingAndGlyphs">sensor</text>
<text x="135.67" y="605.8" font-family="'Liberation Serif', 'Times New Roman', serif" font-size="13.32" stroke="#000" stroke-width="0.2" textLength="26.12" lengthAdjust="spacingAndGlyphs">rate</text>
<text x="167.17" y="605.4" font-family="'Liberation Serif', 'Times New Roman', serif" font-size="14.35" font-style="italic" stroke="#000" stroke-width="0.2" textLength="7.45" lengthAdjust="spacingAndGlyphs">&#961;</text>
<text x="174.88" y="600.0" font-family="'Liberation Serif', 'Times New Roman', serif" font-size="10.33" font-weight="bold" textLength="38.43" lengthAdjust="spacingAndGlyphs">update</text>
<text x="218.81" y="608.6" font-family="'Liberation Serif', 'Times New Roman', serif" font-size="18.37" stroke="#000" stroke-width="0.2" textLength="13.41" lengthAdjust="spacingAndGlyphs">=</text>
<text x="233.44" y="606.2" font-family="'Liberation Serif', 'Times New Roman', serif" font-size="14.3" stroke="#000" stroke-width="0.2" textLength="22.21" lengthAdjust="spacingAndGlyphs">1%</text>
<path d="M358.5 546.3h2.2M570.3 546.3h-2.2M358.5 532.42h1.3M570.3 532.42h-1.3M358.5 524.3h1.3M570.3 524.3h-1.3M358.5 518.55h1.3M570.3 518.55h-1.3M358.5 514.08h1.3M570.3 514.08h-1.3M358.5 510.43h1.3M570.3 510.43h-1.3M358.5 507.34h1.3M570.3 507.34h-1.3M358.5 504.67h1.3M570.3 504.67h-1.3M358.5 502.31h1.3M570.3 502.31h-1.3M358.5 500.2h2.2M570.3 500.2h-2.2M358.5 486.32h1.3M570.3 486.32h-1.3M358.5 478.2h1.3M570.3 478.2h-1.3M358.5 472.45h1.3M570.3 472.45h-1.3M358.5 467.98h1.3M570.3 467.98h-1.3M358.5 464.33h1.3M570.3 464.33h-1.3M358.5 461.24h1.3M570.3 461.24h-1.3M358.5 458.57h1.3M570.3 458.57h-1.3M358.5 456.21h1.3M570.3 456.21h-1.3M358.5 454.1h2.2M570.3 454.1h-2.2M358.5 440.22h1.3M570.3 440.22h-1.3M358.5 432.1h1.3M570.3 432.1h-1.3M358.5 426.35h1.3M570.3 426.35h-1.3M358.5 421.88h1.3M570.3 421.88h-1.3M358.5 418.23h1.3M570.3 418.23h-1.3M358.5 415.14h1.3M570.3 415.14h-1.3M358.5 412.47h1.3M570.3 412.47h-1.3M358.5 410.11h1.3M570.3 410.11h-1.3M358.5 408h2.2M570.3 408h-2.2M358.5 394.12h1.3M570.3 394.12h-1.3M358.5 386h1.3M570.3 386h-1.3M358.5 380.25h1.3M570.3 380.25h-1.3M358.5 375.78h1.3M570.3 375.78h-1.3M358.5 372.13h1.3M570.3 372.13h-1.3M358.5 369.04h1.3M570.3 369.04h-1.3M358.5 366.37h1.3M570.3 366.37h-1.3M358.5 364.01h1.3M570.3 364.01h-1.3M358.5 361.9h2.2M570.3 361.9h-2.2M358.5 348.02h1.3M570.3 348.02h-1.3M358.5 339.9h1.3M570.3 339.9h-1.3M358.5 334.15h1.3M570.3 334.15h-1.3M358.5 329.68h1.3M570.3 329.68h-1.3M358.5 326.03h1.3M570.3 326.03h-1.3M358.5 322.94h1.3M570.3 322.94h-1.3M358.5 320.27h1.3M570.3 320.27h-1.3M358.5 317.91h1.3M570.3 317.91h-1.3M358.5 315.8h2.2M570.3 315.8h-2.2M424.6 546.3v-2.2M424.6 315.8v2.2M490.83 546.3v-2.2M490.83 315.8v2.2M557.05 546.3v-2.2M557.05 315.8v2.2" stroke="#4a4a4a" stroke-width="1" fill="none"/>
<rect x="358.5" y="315.8" width="211.8" height="230.5" fill="none" stroke="#4a4a4a" stroke-width="1.25"/>
<clipPath id="clipd"><rect x="354.5" y="315.8" width="219.8" height="234.5"/></clipPath>
<g clip-path="url(#clipd)">
<path d="M358.5 510.43L379.56 510.43L379.69 424.3L400.75 424.3L400.89 399.49L421.95 399.49L422.08 385.03L443.14 385.03L443.27 374.92L464.33 374.92L464.47 366.8L485.53 366.8L485.66 361.5L506.72 361.5L506.85 356.1L527.91 356.1L528.05 351.75L549.11 351.75L549.24 348.02L570.3 348.02" stroke="#f00" stroke-width="1.6" fill="none"/>
<path d="M355.5 510.43H382.56M376.69 424.3H403.75M397.89 399.49H424.95M419.08 385.03H446.14M440.27 374.92H467.33M461.47 366.8H488.53M482.66 361.5H509.72M503.85 356.1H530.91M525.05 351.75H552.11M546.24 348.02H573.3" stroke="#f00" stroke-width="5.9" fill="none"/>
<path d="M358.5 513.55l.13-.56l.13-.07l.14 2.05l.13-.8l.13-2.16l.13 2.4l.14-.25l.13-1l.13-.22l.13 1.36l.14-1.61l.13 1.04l.13 2.4l.13-3.6l.14 2.79l.13-7.24l.13 5.1l.13 1.05l.14-2.08l.13-1.14l.13-.09l.13 2.23l.14-1.42l.13 .68l.13 1.13l.13 2.95l.14-2.83l.13 4.77l.13-3.1l.13-4.14l.14 2.18l.13 .41l.13 1.53l.13-.04l.14-.63l.13 1.14l.13 1.39l.13-4.4l.14-.7l.13 3.34l.13-1.78l.13 2.93l.14-2.02l.13 2.57l.13-3.01l.13 1.35l.14 2l.13-2.35l.13-1.36l.13 2.44l.14 .23l.13 .09l.13 .01l.13-1.39l.14 .11l.13 4.87l.13-4.42l.13 2.11l.14-2.42l.13 1.84l.13-.53l.13 2.21l.13 1.3l.14-2.02l.13-.83l.13 .48l.13 .1l.14 .94l.13-.52l.13 2.3l.13-.77l.14 2.12l.13-1.91l.13 .52l.13-.34l.14-1.21l.13 1.53l.13 4.27l.13-5.75l.14 1.85l.13-.7l.13 2.34l.13-2.08l.14-.81l.13-3.77l.13-4.65l.13 3.45l.14-.32l.13-1.3l.13-3.42l.13 6.24l.14-1.94l.13-1.15l.13-1.04l.13 1.19l.14-.93l.13 2.31l.13-2.97l.13-.51l.14 3.44l.13-.56l.13-1.97l.13 .05l.14-.37l.13 2.78l.13-1.4l.13 .11l.14-3.05l.13 2.3l.13 .62l.13 .6l.14-1.53l.13-1.98l.13 4.4l.13-2.76l.14-.69l.13-2.46l.13 2.08l.13-1.15l.13 2.08l.14 2.28l.13 0l.13-1.2l.13-1.44l.14 .64l.13 .24l.13-3.76l.13 6.79l.14-2.24l.13-5.65l.13 3.34l.13 1.54l.14 .68l.13-3.19l.13 .12l.13-.23l.14 3.38l.13-2.38l.13 .52l.13-1.13l.14 3.3l.13-3.65l.13-1.58l.13 4.68l.14-3.71l.13-1.36l.13 1.23l.13 1.47l.14-.34l.13 1.02l.13-1.28l.13 2.01l.14-1.84l.13 1.4l.13 .95l.13-4.87l.14 5.42l.13-5.99l.13 6.42l.13-88.72l.14 7.25l.13 3.45l.13-1.32l.13 1.34l.14 .39l.13-2.5l.13 3.87l.13 1.72l.14-4.47l.13 1.69l.13 1.13l.13 .97l.14-1.11l.13 1.03l.13 1.3l.13 1.28l.14-2.23l.13 40.5l.13 2.52l.13-2.39l.13 5.02l.14 1.2l.13-.73l.13 2.86l.13 1.19l.14 2.01l.13-10.43l.13-1.91l.13 .83l.14 2.43l.13-6.81l.13 3.1l.13 1.25l.14-2.56l.13 3.52l.13-4.42l.13-.97l.14 6.07l.13-5.42l.13 2.17l.13-1.86l.14 2.06l.13 2.3l.13 1.68l.13-.93l.14-1.18l.13-3.19l.13 .98l.13 .8l.14-2.36l.13 7.07l.13-1.31l.13 .03l.14-2.45l.13 3.74l.13-2.18l.13-4.01l.14 .87l.13-1.06l.13 4.55l.13 1.07l.14-2.64l.13 2.6l.13-1.66l.13 .2l.14-1.32l.13-1.81l.13 .21l.13 1.04l.14 2.5l.13-1.73l.13 2.29l.13 1.21l.14 1.38l.13-1.9l.13-2.17l.13-.29l.13 1.45l.14-1.04l.13 2.51l.13-4.6l.13 3.28l.14 1.08l.13-1.97l.13 1.81l.13-.93l.14-2.32l.13 4.91l.13-1.02l.13-.12l.14-.38l.13-3.8l.13 2.17l.13-8.73l.14 1l.13 22.46l.13 8.04l.13 2.92l.14 3.73l.13-2.74l.13 .33l.13-.12l.14 .61l.13 .76l.13-1.16l.13 .98l.14-.06l.13 .68l.13-.24l.13-.56l.14-.14l.13 .92l.13 .01l.13 .4l.14-.89l.13 1.36l.13-.01l.13-.25l.14 .63l.13-.55l.13-1.13l.13 1.66l.14-1.25l.13 .62l.13 .82l.13-.35l.14-.57l.13 2.25l.13-1.44l.13-.63l.14 1.72l.13-2.07l.13 .51l.13 1.24l.14-1.3l.13 1.62l.13-.3l.13 .14l.13-1.76l.14 .47l.13 .23l.13-.33l.13-.54l.14 .11l.13 .03l.13-.74l.13 .91l.14-.5l.13-1.71l.13 .63l.13 1.88l.14-3.25l.13 2.11l.13-2.45l.13 1.32l.14-.94l.13 2.43l.13-1.05l.13-.25l.14-108.71l.13 9.56l.13 .43l.13-.15l.14 1.48l.13-.07l.13-.1l.13 4.08l.14-1.81l.13 1.87l.13-.73l.13-.47l.14 3.92l.13-.96l.13 38l.13 .96l.14 3.33l.13-.83l.13 1.97l.13 1.48l.14 1.91l.13 .07l.13 .58l.13 13.66l.14-2.26l.13 3.44l.13 .15l.13-3.5l.14 1.68l.13 1.31l.13-2.31l.13-.65l.14 1.45l.13-2.86l.13 4.55l.13 .02l.13-3.17l.14 4.07l.13-3.46l.13 4.89l.13-1.19l.14-1.6l.13 .56l.13-3.9l.13 5.21l.14-1.82l.13-.3l.13 .63l.13-2.48l.14 3.61l.13-.02l.13 1.05l.13-3.75l.14 1.35l.13 .06l.13 .21l.13 2.82l.14-3.23l.13 .46l.13-2.21l.13 2.17l.14 2.56l.13-.9l.13-4.23l.13 6.24l.14 .42l.13-3.2l.13-2.38l.13 2.9l.14 2.63l.13-6.8l.13 6.14l.13-3.16l.14-1.19l.13 2.85l.13-.96l.13-1.7l.14 5.75l.13-4.16l.13-.72l.13-.07l.14 3.52l.13-1.7l.13 2.2l.13 .13l.14 .78l.13-3.11l.13 .97l.13-1.84l.14 7.29l.13-2.96l.13-2.42l.13-2.8l.14 5.11l.13 2.24l.13-2.35l.13-.95l.13-10.83l.14 1l.13 22.46l.13 8.04l.13 3.41l.14-.16l.13 .51l.13 .87l.13-1.87l.14 2.67l.13-.5l.13-.41l.13 1.14l.14-.13l.13-.66l.13 1.54l.13-.52l.14 .1l.13-2.08l.13 1.45l.13 1.5l.14-1.18l.13 1.77l.13-1.22l.13 2.01l.14-2.02l.13 .94l.13 1.18l.13-1.45l.14-.26l.13 .55l.13 .32l.13 1.48l.14-1.79l.13 2.57l.13-1.58l.13-2.44l.14 2.91l.13 .23l.13-.9l.13-1.31l.14 .29l.13-1.11l.13 .73l.13 .86l.14-1.92l.13 1.22l.13-1.25l.13-.78l.14 .66l.13-.85l.13 2.14l.13-.85l.14-.68l.13 1.09l.13-2.39l.13-.05l.13 .56l.14-.25l.13 .52l.13 .71l.13-.54l.14-.46l.13-122.74l.13 9.18l.13-.02l.14 3.16l.13-.26l.13-.82l.13-.62l.14 4.72l.13-2.46l.13 .01l.13 1.88l.14 .41l.13 1.39l.13 .06l.13 1.16l.14 40.43l.13-2.94l.13 2.3l.13 2.05l.14-1.57l.13 3.07l.13-.32l.13 4.02l.14-.53l.13-1.34l.13 .39l.13 18.08l.14 5.97l.13 5.13l.13 1.55l.13 2.13l.14-5l.13 .8l.13-3.51l.13 3.67l.14-3.68l.13 6.61l.13-6.71l.13 3.84l.14-2.85l.13 .87l.13 3.89l.13-3.53l.14 3.18l.13-2.98l.13 .72l.13 .43l.14 1.29l.13 .27l.13-.53l.13 5.16l.14-6.86l.13 2.27l.13-.51l.13 2.46l.13-2.44l.14 1.68l.13-4.12l.13 6.26l.13-5.37l.14 4.31l.13-2.3l.13 1.38l.13 1.57l.14 2.35l.13-5.68l.13 5.18l.13-2.49l.14-3.56l.13 .03l.13 2.27l.13 4.05l.14-2.98l.13-.32l.13 1.91l.13-4.34l.14 2.38l.13-.06l.13 .97l.13 2.7l.14-.8l.13 .2l.13-4.44l.13 2.53l.14-.76l.13 .18l.13 .11l.13-2.52l.14 1.79l.13 1.23l.13 .41l.13-2.61l.14 6.84l.13-6.41l.13-7.72l.13 1l.14 22.46l.13 8.04l.13 4.56l.13-.81l.14 .83l.13-.16l.13 .39l.13 3.24l.14-2.16l.13-.16l.13 .61l.13 .63l.14-2.07l.13 1.55l.13-.91l.13-.88l.14 2.23l.13-.7l.13-1.09l.13 1.46l.13 .19l.14 1.74l.13-3.07l.13 1.6l.13 1.14l.14-1.89l.13 1.3l.13-.2l.13 .67l.14-1.15l.13 .18l.13 1.17l.13-.32l.14-1.41l.13 1.16l.13 .44l.13-1.84l.14 1.77l.13-.79l.13 1.05l.13-.43l.14-.42l.13-1.15l.13-.57l.13 1.24l.14-1.23l.13 .66l.13-.86l.13 1.24l.14-1.1l.13 .27l.13-.39l.13-2.31l.14 1.91l.13-1.16l.13 .18l.13 2.27l.14-1.91l.13-.74l.13 2.29l.13-.82l.14-4.03l.13 2.95l.13 .36l.13-133.08l.14 11.27l.13-.99l.13 .37l.13 1.38l.14-2.18l.13 .08l.13 1.64l.13 3.48l.14 .15l.13 1.89l.13-2.24l.13 1.96l.13 .7l.14 .76l.13-.92l.13 .69l.13 39.83l.14-2.39l.13 3.17l.13 3.44l.13-1.76l.14 3.67l.13-2.4l.13 1.97l.13 29.45l.14 3.43l.13 6.8l.13-2.39l.13 1.27l.14 1.41l.13 .9l.13-4.89l.13 2.91l.14 1.58l.13-.79l.13-7.45l.13 6.48l.14 1.62l.13-.9l.13-2.84l.13 2.8l.14 .25l.13-.15l.13 1.04l.13-.46l.14-3.3l.13 3.42l.13-.19l.13 5.94l.14-7.37l.13-1.03l.13 4.09l.13-2.31l.14 3.34l.13-2.82l.13 .01l.13 5.48l.14-6.81l.13-.38l.13 3.14l.13 2.06l.14-2.16l.13 .38l.13-2.15l.13 2.15l.14 .24l.13-2.26l.13 .8l.13 1.26l.14 1.71l.13 .24l.13-.08l.13 .36l.13-.81l.14-3.14l.13 3.25l.13-.09l.13 3.83l.14-6.33l.13 3.03l.13-2.01l.13 .37l.14 2.49l.13-2.29l.13 4.21l.13-1.55l.14-4.47l.13 5.16l.13-2.75l.13 .95l.14 1.78l.13-4.64l.13 3.45l.13-1.76l.14-9.05l.13 1l.13 22.46l.13 8.04l.14 2.22l.13 3.44l.13-1.18l.13-.8l.14 1.07l.13-1.05l.13 .63l.13 .5l.14-.1l.13 1.31l.13 .84l.13 .38l.14-1.82l.13 1.31l.13-2.06l.13 2.51l.14 .63l.13 .38l.13-3.05l.13 1.39l.14-.35l.13 1.8l.13-2.46l.13 2.96l.14-1.22l.13 .5l.13-1.25l.13 2.16l.14-.55l.13 .03l.13-.1l.13-.2l.13-.8l.14-.33l.13 1.05l.13-.29l.13-.43l.14-.33l.13 .33l.13-.73l.13 .1l.14-.61l.13 1.21l.13-.91l.13 .6l.14 .99l.13-1.12l.13-.93l.13 .49l.14 .32l.13-1.67l.13-.64l.13 .38l.14-.14l.13 1.74l.13-1.86l.13-1.15l.14 .18l.13 1l.13-1.13l.13 1.19l.14-141.03l.13 10.03l.13 .83l.13 2.47l.14 .09l.13-1.27l.13 3.3l.13-.27l.14 .5l.13-.28l.13 2.48l.13 .18l.14-.69l.13 39.56l.13 1.06l.13 1.89l.14-2.13l.13 2.5l.13 .94l.13 2.56l.14-1.04l.13 1.56l.13-.07l.13 .88l.14 .31l.13 35.11l.13 9.11l.13 1.09l.14-.46l.13-.86l.13-1.39l.13 1.68l.13-.13l.14-.83l.13 1.15l.13 1.27l.13-.77l.14-.2l.13 3.61l.13-4.75l.13 1.31l.14-1.01l.13 1.09l.13 3.07l.13-1.08l.14-1.23l.13 2.57l.13-4.82l.13 4.96l.14-5.69l.13 2.86l.13-.48l.13 3.66l.14-1.73l.13 .25l.13-3.47l.13-1.15l.14 .45l.13 8.7l.13-4.97l.13 2.75l.14-2.31l.13 .83l.13 2.55l.13-.84l.14-3.6l.13 1.68l.13 1.08l.13-1.39l.14 2.48l.13-3.3l.13 2.08l.13-2.77l.14 6.24l.13-4.59l.13 1.64l.13 2.01l.14-.69l.13-2l.13-.99l.13 2.19l.14-.4l.13 .69l.13 .17l.13-4.79l.14 2.5l.13-1.6l.13 4.04l.13-1.51l.13 1.15l.14-2.25l.13 1.67l.13-9.88l.13 1l.14 22.46l.13 8.04l.13 2.6l.13 1.4l.14 .62l.13 .67l.13-.23l.13-1.08l.14 1.25l.13-.4l.13-.5l.13-.3l.14 2.22l.13-.6l.13 1l.13-1.13l.14 .32l.13-.09l.13 1.42l.13-.6l.14 1.24l.13-1.94l.13 1.13l.13 .26l.14-.72l.13-.22l.13 1.21l.13-.38l.14-.1l.13 .64l.13 .7l.13-.09l.14-1.16l.13 .61l.13 1.19l.13-.69l.14-1.15l.13 .47l.13 .59l.13 .22l.14-1.31l.13-1.44l.13 1.51l.13 .48l.14-.09l.13-1.78l.13 2.51l.13-1.42l.14-.48l.13 .36l.13-2.49l.13 1.51l.14-.06l.13-.91l.13 .83l.13 1.34l.13-1.84l.14 .53l.13-.04l.13-1.74l.13 1.75l.14-.92l.13-.09l.13-.39l.13-1.69l.14 2.49l.13-146.95l.13 10.12l.13 2.2l.14 1.77l.13 .2l.13-1.93l.13 4.31l.14-4.02l.13 .42l.13 3.21l.13 .14l.14 .45l.13 1.79l.13-.46l.13 4.34l.14-.06l.13-.57l.13 35.4l.13-.29l.14 1.71l.13 .52l.13 2.35l.13 1.29l.14 .72l.13 2.98l.13 39.65l.13 9.84l.14 1.66l.13-1.63l.13-.46l.13 1.7l.14-.26l.13-.41l.13-3.28l.13-.33l.14 4.31l.13-3.6l.13 2.33l.13 1.99l.14-1.42l.13 1.02l.13 .19l.13 1.36l.14-2.89l.13 3.44l.13-1.66l.13-2.22l.13-2.28l.14 3.79l.13-.33l.13-1.15l.13 1.89l.14-2.79l.13 7.12l.13-4.99l.13 2.44l.14-1.86l.13-2.14l.13 2.57l.13 1.02l.14-.92l.13 1.16l.13-.95l.13 1.05l.14 .82l.13 1.33l.13-3.73l.13 1.87l.14 2.01l.13-.03l.13-2.42l.13 1.96l.14-1.97l.13-1.67l.13-3.97l.13 5.6l.14-2.3l.13 6.19l.13-1.68l.13-1.52l.14-.4l.13 3.97l.13-4.93l.13 1.02l.14 .48l.13-.12l.13 1.99l.13-2.81l.14 1.64l.13 1.15l.13-1.62l.13 3.19l.14-13.15l.13 1l.13 22.46l.13 8.04l.14 4.71l.13 .13l.13-.44l.13 .62l.14-.36l.13 1.45l.13 .01l.13-1.32l.14 .54l.13 .74l.13-.76l.13 .07l.13-.47l.14 .61l.13 1.12l.13-.58l.13-.73l.14 .52l.13 1.16l.13-1.44l.13 1.76l.14-.33l.13 1.51l.13-1.5l.13-.08l.14 .58l.13-.05l.13 .73l.13-.94l.14 1.01l.13-.82l.13 .24l.13 .29l.14-.34l.13-.1l.13 .26l.13 1.03l.14-2.82l.13-.69l.13 1.58l.13 .75l.14-.98l.13 1.23l.13-1.75l.13-1.05l.14 .85l.13-.17l.13 2.01l.13-1.51l.14 .7l.13-2.68l.13 1.4l.13 .06l.14-.86l.13-.57l.13 .24l.13 1.05l.14-1.07l.13-.28l.13 .6l.13-1l.14 1.12l.13-1.25l.13-.61l.13-150.48l.14 13.9l.13-1.38l.13 .09l.13 .89l.14 3.17l.13-.67l.13 .5l.13-3.87l.13 4.27l.14 2.08l.13-1.45l.13 2.79l.13 .35l.14-1.8l.13 35.55l.13 2.4l.13 2.54l.14 4.08l.13-2.92l.13 2.54l.13-1.5l.14 1.05l.13 4.32l.13 43.01l.13 9.76l.14-1.53l.13 4.54l.13 1.72l.13-3.42l.14 .52l.13-.64l.13-2.96l.13 3.96l.14-2.96l.13 2.56l.13-1.3l.13-.67l.14 2.02l.13 3.09l.13-1.08l.13-1.54l.14 2.78l.13-.23l.13-1.54l.13 1.06l.14-3.39l.13 .15l.13 6.6l.13-6.17l.14 2.75l.13-.98l.13-3.12l.13 2.59l.14 .91l.13 1.25l.13-1.91l.13-.79l.14-.45l.13 2.72l.13-4.84l.13 4.21l.14-3.76l.13 3.52l.13-3.13l.13 .19l.13 4.98l.14-1.22l.13 .12l.13-1.74l.13 3.33l.14 .65l.13-8.35l.13 4.67l.13-.8l.14 2.04l.13-.22l.13-.75l.13 1.01l.14 1.14l.13 .25l.13-3.37l.13 4.36l.14-2.67l.13 1.27l.13 .75l.13-2.09l.14 2.69l.13 3.55l.13-5.99l.13 1.52l.14-.31l.13-1.41l.13 2.58l.13-2.74l.14 3.27l.13-11.1l.13 1l.13 22.46l.14 8.04l.13 2.11l.13 3.25l.13-.94l.14 .39l.13 1.03l.13-.1l.13-.77l.14 1.74l.13-1.42l.13-.56l.13 1.84l.14-.16l.13 .74l.13-.76l.13-.13l.14 .72l.13 .05l.13-.68l.13-.06l.14 1.56l.13-.49l.13 .3l.13 .95l.14-1.29l.13-.3l.13 .29l.13 1.14l.13-1.66l.14 .37l.13 1.52l.13-.34l.13-1.23l.14 1.12l.13-1.62l.13-.48l.13 1.31l.14-.25l.13-.11l.13-1.29l.13 .27l.14 1.58l.13 .18l.13-.79l.13-.4l.14 .48l.13-1.84l.13 .59l.13-.88l.14-.21l.13 1.59l.13-2.79l.13 .25l.14 1.51l.13 .47l.13-.16l.13-1.35l.14 .84l.13-.89l.13-1.48l.13 1.56l.14-156.02l.13 13.17l.13 1.02l.13 2.94l.14 2.03l.13-1.68l.13 1.2l.13 .95l.14-.02l.13 .14l.13 2.91l.13-1.7l.14 3.35l.13 32.37l.13 .5l.13 .28l.14 .33l.13 2.11l.13 1.68l.13 .38l.14 1.04l.13 2.43l.13 .13l.13 50.78l.13 7.76l.14 4.09l.13-.42l.13 1.69l.13-6.06l.14 2.57l.13-.72l.13 4.04l.13-5.02l.14 .72l.13-2.17l.13-.28l.13 2.36l.14 .66l.13-.34l.13 .96l.13 .49l.14-.5l.13-.35l.13 2.1l.13-.82l.14-4.39l.13 4.96l.13-.12l.13-1.68l.14 2.9l.13-1l.13 2.3l.13-2.75l.14 1.87l.13 2.41l.13-4.96l.13-.63l.14 2.07l.13-4.2l.13 7.44l.13-.23l.14-3.28l.13-1.69l.13 2.32l.13 .7l.14 1.42l.13-5.95l.13 5.09l.13-2.44l.14 .94l.13 3.53l.13-4.63l.13 3.19l.14-2.12l.13-.16l.13 1.58l.13-3.88l.14 .76l.13 3.12l.13-1.81l.13-.81l.14-1.03l.13 4.46l.13-4.84l.13 6.25l.13 .72l.14-3.8l.13 3.49l.13-5.49l.13 7.6l.14-3.84l.13-1.24l.13 4.93l.13-5.62l.14 5.34l.13-3.65l.13 .33l.13-10.38l.14 1l.13 22.46l.13 8.04l.13 4.01l.14-.43l.13 .15l.13 1.66l.13 .24l.14-.83l.13 1.77l.13-2.65l.13 1.54l.14-2.22l.13 1.78l.13 1.23l.13 .51l.14-2.01l.13 4.34l.13-2.47l.13-2.24l.14 2.15l.13-.56l.13 .77l.13-.39l.14 1.41l.13-.71l.13-.95l.13 1.29l.14 .01l.13-.88l.13 .28l.13 .92l.14 1.07l.13 .13l.13-1.34l.13 .04l.14-1.72l.13-1.46l.13 1.27l.13 1.86l.14-.33l.13 1.1l.13-1.88l.13-.12l.13-.76l.14 1.61l.13-1.28l.13 .15l.13-1.05l.14 2.12l.13-2.68l.13 1.06l.13-.05l.14 .96l.13-1.07l.13-.6l.13 .4l.14-.55l.13 1.12l.13-1.19l.13 .72l.14 .74l.13-161.42l.13 15.38l.13-.48l.14 1.04l.13-1.51l.13 2.24l.13 1.03l.14 1.5l.13-1.11l.13 1.57l.13 3.53l.14-2.39l.13 .53l.13 .74l.13-4.11l.14 4.04l.13 .22l.13 .92l.13 33.88l.14 .03l.13 .99l.13 .98l.13 2.44l.14-.47l.13 1.94l.13 2.25l.13 .77l.14 .16l.13 51.7l.13 13.87l.13-1.09l.14-.85l.13-4.22l.13 2.27l.13 5.83l.14-3.5l.13-1.3l.13-1.82l.13 2.52l.14-3.87l.13 5.3l.13-5.73l.13 5.15l.13-.5l.14-.84l.13 1.98l.13 1.28l.13-3.1l.14 .52l.13-2.74l.13 1.57l.13 3.19l.14-2.36l.13 2.98l.13 1.85l.13-2.79l.14 .84l.13 .35l.13-3.34l.13 2.22l.14 1.95l.13-.8l.13-1.45l.13 4.96l.14-5.2l.13 .61l.13-.41l.13-1.69l.14 .19l.13 3.71l.13-3.18l.13 1.99l.14 2.98l.13-2.32l.13 .37l.13-1.24l.14 2.76l.13 .16l.13-2.29l.13 2.25l.14-.45l.13 .56l.13-2.06l.13 .39l.14 1.45l.13 5.17l.13-7.29l.13 3.46l.14-2.11l.13 1.41l.13 2.87l.13-4.79l.14 2.28l.13-.8l.13-.33l.13-4.47l.14-6.19l.13 1l.13 22.46l.13 8.04l.13 4.76l.14-.04l.13 .45l.13-.2l.13-.41l.14 .63l.13-.27l.13 .32l.13 .2l.14 .18l.13-2.31l.13 3.14l.13-.64l.14 1.04l.13-1.37l.13 .12l.13 .88l.14 .9l.13-1.45l.13-.36l.13 2.78l.14-.64l.13-.47l.13 .05l.13 .05l.14-.46l.13 1.04l.13-.13l.13-.54l.14 1.03l.13-1.65l.13 1.04l.13-.93l.14 .5l.13-.59l.13 .51l.13-.24l.14-.42l.13 .68l.13-1.99l.13 1.94l.14-1.88l.13 1.29l.13-1.28l.13 .24l.14-.84l.13-1.68l.13 .26l.13 2.52l.14-.58l.13 .65l.13-1.02l.13 1.22l.14-1.64l.13 1.57l.13-2.83l.13 1.61l.14 .67l.13-.77l.13-.7" stroke="#2a2aff" stroke-width="0.7" fill="none"/>
<path d="M355.6 513.55h5.8m-2.9-2.9v5.8M355.73 512.99h5.8m-2.9-2.9v5.8M355.86 512.92h5.8m-2.9-2.9v5.8M356 514.97h5.8m-2.9-2.9v5.8M356.13 514.17h5.8m-2.9-2.9v5.8M356.26 512.01h5.8m-2.9-2.9v5.8M356.39 514.41h5.8m-2.9-2.9v5.8M356.53 514.16h5.8m-2.9-2.9v5.8M356.66 513.16h5.8m-2.9-2.9v5.8M356.79 512.94h5.8m-2.9-2.9v5.8M356.92 514.3h5.8m-2.9-2.9v5.8M357.06 512.69h5.8m-2.9-2.9v5.8M357.19 513.73h5.8m-2.9-2.9v5.8M357.32 516.13h5.8m-2.9-2.9v5.8M357.45 512.53h5.8m-2.9-2.9v5.8M357.59 515.32h5.8m-2.9-2.9v5.8M357.72 508.08h5.8m-2.9-2.9v5.8M357.85 513.18h5.8m-2.9-2.9v5.8M357.98 514.23h5.8m-2.9-2.9v5.8M358.12 512.15h5.8m-2.9-2.9v5.8M358.25 511.01h5.8m-2.9-2.9v5.8M358.38 510.92h5.8m-2.9-2.9v5.8M358.51 513.15h5.8m-2.9-2.9v5.8M358.65 511.73h5.8m-2.9-2.9v5.8M358.78 512.41h5.8m-2.9-2.9v5.8M358.91 513.54h5.8m-2.9-2.9v5.8M359.04 516.49h5.8m-2.9-2.9v5.8M359.18 513.66h5.8m-2.9-2.9v5.8M359.31 518.43h5.8m-2.9-2.9v5.8M359.44 515.33h5.8m-2.9-2.9v5.8M359.57 511.19h5.8m-2.9-2.9v5.8M359.71 513.37h5.8m-2.9-2.9v5.8M359.84 513.78h5.8m-2.9-2.9v5.8M359.97 515.31h5.8m-2.9-2.9v5.8M360.1 515.27h5.8m-2.9-2.9v5.8M360.24 514.64h5.8m-2.9-2.9v5.8M360.37 515.78h5.8m-2.9-2.9v5.8M360.5 517.17h5.8m-2.9-2.9v5.8M360.63 512.77h5.8m-2.9-2.9v5.8M360.77 512.07h5.8m-2.9-2.9v5.8M360.9 515.41h5.8m-2.9-2.9v5.8M361.03 513.63h5.8m-2.9-2.9v5.8M361.16 516.56h5.8m-2.9-2.9v5.8M361.3 514.54h5.8m-2.9-2.9v5.8M361.43 517.11h5.8m-2.9-2.9v5.8M361.56 514.1h5.8m-2.9-2.9v5.8M361.69 515.45h5.8m-2.9-2.9v5.8M361.83 517.45h5.8m-2.9-2.9v5.8M361.96 515.1h5.8m-2.9-2.9v5.8M362.09 513.74h5.8m-2.9-2.9v5.8M362.22 516.18h5.8m-2.9-2.9v5.8M362.36 516.41h5.8m-2.9-2.9v5.8M362.49 516.5h5.8m-2.9-2.9v5.8M362.62 516.51h5.8m-2.9-2.9v5.8M362.75 515.12h5.8m-2.9-2.9v5.8M362.89 515.23h5.8m-2.9-2.9v5.8M363.02 520.1h5.8m-2.9-2.9v5.8M363.15 515.68h5.8m-2.9-2.9v5.8M363.28 517.79h5.8m-2.9-2.9v5.8M363.42 515.37h5.8m-2.9-2.9v5.8M363.55 517.21h5.8m-2.9-2.9v5.8M363.68 516.68h5.8m-2.9-2.9v5.8M363.81 518.89h5.8m-2.9-2.9v5.8M363.94 520.19h5.8m-2.9-2.9v5.8M364.08 518.17h5.8m-2.9-2.9v5.8M364.21 517.34h5.8m-2.9-2.9v5.8M364.34 517.82h5.8m-2.9-2.9v5.8M364.47 517.92h5.8m-2.9-2.9v5.8M364.61 518.86h5.8m-2.9-2.9v5.8M364.74 518.34h5.8m-2.9-2.9v5.8M364.87 520.64h5.8m-2.9-2.9v5.8M365 519.87h5.8m-2.9-2.9v5.8M365.14 521.99h5.8m-2.9-2.9v5.8M365.27 520.08h5.8m-2.9-2.9v5.8M365.4 520.6h5.8m-2.9-2.9v5.8M365.53 520.26h5.8m-2.9-2.9v5.8M365.67 519.05h5.8m-2.9-2.9v5.8M365.8 520.58h5.8m-2.9-2.9v5.8M365.93 524.85h5.8m-2.9-2.9v5.8M366.06 519.1h5.8m-2.9-2.9v5.8M366.2 520.95h5.8m-2.9-2.9v5.8M366.33 520.25h5.8m-2.9-2.9v5.8M366.46 522.59h5.8m-2.9-2.9v5.8M366.59 520.51h5.8m-2.9-2.9v5.8M366.73 519.7h5.8m-2.9-2.9v5.8M366.86 515.93h5.8m-2.9-2.9v5.8M366.99 511.28h5.8m-2.9-2.9v5.8M367.12 514.73h5.8m-2.9-2.9v5.8M367.26 514.41h5.8m-2.9-2.9v5.8M367.39 513.11h5.8m-2.9-2.9v5.8M367.52 509.69h5.8m-2.9-2.9v5.8M367.65 515.93h5.8m-2.9-2.9v5.8M367.79 513.99h5.8m-2.9-2.9v5.8M367.92 512.84h5.8m-2.9-2.9v5.8M368.05 511.8h5.8m-2.9-2.9v5.8M368.18 512.99h5.8m-2.9-2.9v5.8M368.32 512.06h5.8m-2.9-2.9v5.8M368.45 514.37h5.8m-2.9-2.9v5.8M368.58 511.4h5.8m-2.9-2.9v5.8M368.71 510.89h5.8m-2.9-2.9v5.8M368.85 514.33h5.8m-2.9-2.9v5.8M368.98 513.77h5.8m-2.9-2.9v5.8M369.11 511.8h5.8m-2.9-2.9v5.8M369.24 511.85h5.8m-2.9-2.9v5.8M369.38 511.48h5.8m-2.9-2.9v5.8M369.51 514.26h5.8m-2.9-2.9v5.8M369.64 512.86h5.8m-2.9-2.9v5.8M369.77 512.97h5.8m-2.9-2.9v5.8M369.91 509.92h5.8m-2.9-2.9v5.8M370.04 512.22h5.8m-2.9-2.9v5.8M370.17 512.84h5.8m-2.9-2.9v5.8M370.3 513.44h5.8m-2.9-2.9v5.8M370.44 511.91h5.8m-2.9-2.9v5.8M370.57 509.93h5.8m-2.9-2.9v5.8M370.7 514.33h5.8m-2.9-2.9v5.8M370.83 511.57h5.8m-2.9-2.9v5.8M370.97 510.88h5.8m-2.9-2.9v5.8M371.1 508.42h5.8m-2.9-2.9v5.8M371.23 510.5h5.8m-2.9-2.9v5.8M371.36 509.35h5.8m-2.9-2.9v5.8M371.49 511.43h5.8m-2.9-2.9v5.8M371.63 513.71h5.8m-2.9-2.9v5.8M371.76 513.71h5.8m-2.9-2.9v5.8M371.89 512.51h5.8m-2.9-2.9v5.8M372.02 511.07h5.8m-2.9-2.9v5.8M372.16 511.71h5.8m-2.9-2.9v5.8M372.29 511.95h5.8m-2.9-2.9v5.8M372.42 508.19h5.8m-2.9-2.9v5.8M372.55 514.98h5.8m-2.9-2.9v5.8M372.69 512.74h5.8m-2.9-2.9v5.8M372.82 507.09h5.8m-2.9-2.9v5.8M372.95 510.43h5.8m-2.9-2.9v5.8M373.08 511.97h5.8m-2.9-2.9v5.8M373.22 512.65h5.8m-2.9-2.9v5.8M373.35 509.46h5.8m-2.9-2.9v5.8M373.48 509.58h5.8m-2.9-2.9v5.8M373.61 509.35h5.8m-2.9-2.9v5.8M373.75 512.73h5.8m-2.9-2.9v5.8M373.88 510.35h5.8m-2.9-2.9v5.8M374.01 510.87h5.8m-2.9-2.9v5.8M374.14 509.74h5.8m-2.9-2.9v5.8M374.28 513.04h5.8m-2.9-2.9v5.8M374.41 509.39h5.8m-2.9-2.9v5.8M374.54 507.81h5.8m-2.9-2.9v5.8M374.67 512.49h5.8m-2.9-2.9v5.8M374.81 508.78h5.8m-2.9-2.9v5.8M374.94 507.42h5.8m-2.9-2.9v5.8M375.07 508.65h5.8m-2.9-2.9v5.8M375.2 510.12h5.8m-2.9-2.9v5.8M375.34 509.78h5.8m-2.9-2.9v5.8M375.47 510.8h5.8m-2.9-2.9v5.8M375.6 509.52h5.8m-2.9-2.9v5.8M375.73 511.53h5.8m-2.9-2.9v5.8M375.87 509.69h5.8m-2.9-2.9v5.8M376 511.09h5.8m-2.9-2.9v5.8M376.13 512.04h5.8m-2.9-2.9v5.8M376.26 507.17h5.8m-2.9-2.9v5.8M376.4 512.59h5.8m-2.9-2.9v5.8M376.53 506.6h5.8m-2.9-2.9v5.8M376.66 513.02h5.8m-2.9-2.9v5.8M376.79 424.3h5.8m-2.9-2.9v5.8M376.93 431.55h5.8m-2.9-2.9v5.8M377.06 435h5.8m-2.9-2.9v5.8M377.19 433.68h5.8m-2.9-2.9v5.8M377.32 435.02h5.8m-2.9-2.9v5.8M377.46 435.41h5.8m-2.9-2.9v5.8M377.59 432.91h5.8m-2.9-2.9v5.8M377.72 436.78h5.8m-2.9-2.9v5.8M377.85 438.5h5.8m-2.9-2.9v5.8M377.99 434.03h5.8m-2.9-2.9v5.8M378.12 435.72h5.8m-2.9-2.9v5.8M378.25 436.85h5.8m-2.9-2.9v5.8M378.38 437.82h5.8m-2.9-2.9v5.8M378.52 436.71h5.8m-2.9-2.9v5.8M378.65 437.74h5.8m-2.9-2.9v5.8M378.78 439.04h5.8m-2.9-2.9v5.8M378.91 440.32h5.8m-2.9-2.9v5.8M379.05 438.09h5.8m-2.9-2.9v5.8M379.18 478.59h5.8m-2.9-2.9v5.8M379.31 481.11h5.8m-2.9-2.9v5.8M379.44 478.72h5.8m-2.9-2.9v5.8M379.57 483.74h5.8m-2.9-2.9v5.8M379.71 484.94h5.8m-2.9-2.9v5.8M379.84 484.21h5.8m-2.9-2.9v5.8M379.97 487.07h5.8m-2.9-2.9v5.8M380.1 488.26h5.8m-2.9-2.9v5.8M380.24 490.27h5.8m-2.9-2.9v5.8M380.37 479.84h5.8m-2.9-2.9v5.8M380.5 477.93h5.8m-2.9-2.9v5.8M380.63 478.76h5.8m-2.9-2.9v5.8M380.77 481.19h5.8m-2.9-2.9v5.8M380.9 474.38h5.8m-2.9-2.9v5.8M381.03 477.48h5.8m-2.9-2.9v5.8M381.16 478.73h5.8m-2.9-2.9v5.8M381.3 476.17h5.8m-2.9-2.9v5.8M381.43 479.69h5.8m-2.9-2.9v5.8M381.56 475.27h5.8m-2.9-2.9v5.8M381.69 474.3h5.8m-2.9-2.9v5.8M381.83 480.37h5.8m-2.9-2.9v5.8M381.96 474.95h5.8m-2.9-2.9v5.8M382.09 477.12h5.8m-2.9-2.9v5.8M382.22 475.26h5.8m-2.9-2.9v5.8M382.36 477.32h5.8m-2.9-2.9v5.8M382.49 479.62h5.8m-2.9-2.9v5.8M382.62 481.3h5.8m-2.9-2.9v5.8M382.75 480.37h5.8m-2.9-2.9v5.8M382.89 479.19h5.8m-2.9-2.9v5.8M383.02 476h5.8m-2.9-2.9v5.8M383.15 476.98h5.8m-2.9-2.9v5.8M383.28 477.78h5.8m-2.9-2.9v5.8M383.42 475.42h5.8m-2.9-2.9v5.8M383.55 482.49h5.8m-2.9-2.9v5.8M383.68 481.18h5.8m-2.9-2.9v5.8M383.81 481.21h5.8m-2.9-2.9v5.8M383.95 478.76h5.8m-2.9-2.9v5.8M384.08 482.5h5.8m-2.9-2.9v5.8M384.21 480.32h5.8m-2.9-2.9v5.8M384.34 476.31h5.8m-2.9-2.9v5.8M384.48 477.18h5.8m-2.9-2.9v5.8M384.61 476.12h5.8m-2.9-2.9v5.8M384.74 480.67h5.8m-2.9-2.9v5.8M384.87 481.74h5.8m-2.9-2.9v5.8M385.01 479.1h5.8m-2.9-2.9v5.8M385.14 481.7h5.8m-2.9-2.9v5.8M385.27 480.04h5.8m-2.9-2.9v5.8M385.4 480.24h5.8m-2.9-2.9v5.8M385.54 478.92h5.8m-2.9-2.9v5.8M385.67 477.11h5.8m-2.9-2.9v5.8M385.8 477.32h5.8m-2.9-2.9v5.8M385.93 478.36h5.8m-2.9-2.9v5.8M386.07 480.86h5.8m-2.9-2.9v5.8M386.2 479.13h5.8m-2.9-2.9v5.8M386.33 481.42h5.8m-2.9-2.9v5.8M386.46 482.63h5.8m-2.9-2.9v5.8M386.6 484.01h5.8m-2.9-2.9v5.8M386.73 482.11h5.8m-2.9-2.9v5.8M386.86 479.94h5.8m-2.9-2.9v5.8M386.99 479.65h5.8m-2.9-2.9v5.8M387.12 481.1h5.8m-2.9-2.9v5.8M387.26 480.06h5.8m-2.9-2.9v5.8M387.39 482.57h5.8m-2.9-2.9v5.8M387.52 477.97h5.8m-2.9-2.9v5.8M387.65 481.25h5.8m-2.9-2.9v5.8M387.79 482.33h5.8m-2.9-2.9v5.8M387.92 480.36h5.8m-2.9-2.9v5.8M388.05 482.17h5.8m-2.9-2.9v5.8M388.18 481.24h5.8m-2.9-2.9v5.8M388.32 478.92h5.8m-2.9-2.9v5.8M388.45 483.83h5.8m-2.9-2.9v5.8M388.58 482.81h5.8m-2.9-2.9v5.8M388.71 482.69h5.8m-2.9-2.9v5.8M388.85 482.31h5.8m-2.9-2.9v5.8M388.98 478.51h5.8m-2.9-2.9v5.8M389.11 480.68h5.8m-2.9-2.9v5.8M389.24 471.95h5.8m-2.9-2.9v5.8M389.38 472.95h5.8m-2.9-2.9v5.8M389.51 495.41h5.8m-2.9-2.9v5.8M389.64 503.45h5.8m-2.9-2.9v5.8M389.77 506.37h5.8m-2.9-2.9v5.8M389.91 510.1h5.8m-2.9-2.9v5.8M390.04 507.36h5.8m-2.9-2.9v5.8M390.17 507.69h5.8m-2.9-2.9v5.8M390.3 507.57h5.8m-2.9-2.9v5.8M390.44 508.18h5.8m-2.9-2.9v5.8M390.57 508.94h5.8m-2.9-2.9v5.8M390.7 507.78h5.8m-2.9-2.9v5.8M390.83 508.76h5.8m-2.9-2.9v5.8M390.97 508.7h5.8m-2.9-2.9v5.8M391.1 509.38h5.8m-2.9-2.9v5.8M391.23 509.14h5.8m-2.9-2.9v5.8M391.36 508.58h5.8m-2.9-2.9v5.8M391.5 508.44h5.8m-2.9-2.9v5.8M391.63 509.36h5.8m-2.9-2.9v5.8M391.76 509.37h5.8m-2.9-2.9v5.8M391.89 509.77h5.8m-2.9-2.9v5.8M392.03 508.88h5.8m-2.9-2.9v5.8M392.16 510.24h5.8m-2.9-2.9v5.8M392.29 510.23h5.8m-2.9-2.9v5.8M392.42 509.98h5.8m-2.9-2.9v5.8M392.56 510.61h5.8m-2.9-2.9v5.8M392.69 510.06h5.8m-2.9-2.9v5.8M392.82 508.93h5.8m-2.9-2.9v5.8M392.95 510.59h5.8m-2.9-2.9v5.8M393.09 509.34h5.8m-2.9-2.9v5.8M393.22 509.96h5.8m-2.9-2.9v5.8M393.35 510.78h5.8m-2.9-2.9v5.8M393.48 510.43h5.8m-2.9-2.9v5.8M393.62 509.86h5.8m-2.9-2.9v5.8M393.75 512.11h5.8m-2.9-2.9v5.8M393.88 510.67h5.8m-2.9-2.9v5.8M394.01 510.04h5.8m-2.9-2.9v5.8M394.15 511.76h5.8m-2.9-2.9v5.8M394.28 509.69h5.8m-2.9-2.9v5.8M394.41 510.2h5.8m-2.9-2.9v5.8M394.54 511.44h5.8m-2.9-2.9v5.8M394.68 510.14h5.8m-2.9-2.9v5.8M394.81 511.76h5.8m-2.9-2.9v5.8M394.94 511.46h5.8m-2.9-2.9v5.8M395.07 511.6h5.8m-2.9-2.9v5.8M395.2 509.84h5.8m-2.9-2.9v5.8M395.34 510.31h5.8m-2.9-2.9v5.8M395.47 510.54h5.8m-2.9-2.9v5.8M395.6 510.21h5.8m-2.9-2.9v5.8M395.73 509.67h5.8m-2.9-2.9v5.8M395.87 509.78h5.8m-2.9-2.9v5.8M396 509.81h5.8m-2.9-2.9v5.8M396.13 509.07h5.8m-2.9-2.9v5.8M396.26 509.98h5.8m-2.9-2.9v5.8M396.4 509.48h5.8m-2.9-2.9v5.8M396.53 507.77h5.8m-2.9-2.9v5.8M396.66 508.4h5.8m-2.9-2.9v5.8M396.79 510.28h5.8m-2.9-2.9v5.8M396.93 507.03h5.8m-2.9-2.9v5.8M397.06 509.14h5.8m-2.9-2.9v5.8M397.19 506.69h5.8m-2.9-2.9v5.8M397.32 508.01h5.8m-2.9-2.9v5.8M397.46 507.07h5.8m-2.9-2.9v5.8M397.59 509.5h5.8m-2.9-2.9v5.8M397.72 508.45h5.8m-2.9-2.9v5.8M397.85 508.2h5.8m-2.9-2.9v5.8M397.99 399.49h5.8m-2.9-2.9v5.8M398.12 409.05h5.8m-2.9-2.9v5.8M398.25 409.48h5.8m-2.9-2.9v5.8M398.38 409.33h5.8m-2.9-2.9v5.8M398.52 410.81h5.8m-2.9-2.9v5.8M398.65 410.74h5.8m-2.9-2.9v5.8M398.78 410.64h5.8m-2.9-2.9v5.8M398.91 414.72h5.8m-2.9-2.9v5.8M399.05 412.91h5.8m-2.9-2.9v5.8M399.18 414.78h5.8m-2.9-2.9v5.8M399.31 414.05h5.8m-2.9-2.9v5.8M399.44 413.58h5.8m-2.9-2.9v5.8M399.58 417.5h5.8m-2.9-2.9v5.8M399.71 416.54h5.8m-2.9-2.9v5.8M399.84 454.54h5.8m-2.9-2.9v5.8M399.97 455.5h5.8m-2.9-2.9v5.8M400.11 458.83h5.8m-2.9-2.9v5.8M400.24 458h5.8m-2.9-2.9v5.8M400.37 459.97h5.8m-2.9-2.9v5.8M400.5 461.45h5.8m-2.9-2.9v5.8M400.64 463.36h5.8m-2.9-2.9v5.8M400.77 463.43h5.8m-2.9-2.9v5.8M400.9 464.01h5.8m-2.9-2.9v5.8M401.03 477.67h5.8m-2.9-2.9v5.8M401.17 475.41h5.8m-2.9-2.9v5.8M401.3 478.85h5.8m-2.9-2.9v5.8M401.43 479h5.8m-2.9-2.9v5.8M401.56 475.5h5.8m-2.9-2.9v5.8M401.7 477.18h5.8m-2.9-2.9v5.8M401.83 478.49h5.8m-2.9-2.9v5.8M401.96 476.18h5.8m-2.9-2.9v5.8M402.09 475.53h5.8m-2.9-2.9v5.8M402.23 476.98h5.8m-2.9-2.9v5.8M402.36 474.12h5.8m-2.9-2.9v5.8M402.49 478.67h5.8m-2.9-2.9v5.8M402.62 478.69h5.8m-2.9-2.9v5.8M402.75 475.52h5.8m-2.9-2.9v5.8M402.89 479.59h5.8m-2.9-2.9v5.8M403.02 476.13h5.8m-2.9-2.9v5.8M403.15 481.02h5.8m-2.9-2.9v5.8M403.28 479.83h5.8m-2.9-2.9v5.8M403.42 478.23h5.8m-2.9-2.9v5.8M403.55 478.79h5.8m-2.9-2.9v5.8M403.68 474.89h5.8m-2.9-2.9v5.8M403.81 480.1h5.8m-2.9-2.9v5.8M403.95 478.28h5.8m-2.9-2.9v5.8M404.08 477.98h5.8m-2.9-2.9v5.8M404.21 478.61h5.8m-2.9-2.9v5.8M404.34 476.13h5.8m-2.9-2.9v5.8M404.48 479.74h5.8m-2.9-2.9v5.8M404.61 479.72h5.8m-2.9-2.9v5.8M404.74 480.77h5.8m-2.9-2.9v5.8M404.87 477.02h5.8m-2.9-2.9v5.8M405.01 478.37h5.8m-2.9-2.9v5.8M405.14 478.43h5.8m-2.9-2.9v5.8M405.27 478.64h5.8m-2.9-2.9v5.8M405.4 481.46h5.8m-2.9-2.9v5.8M405.54 478.23h5.8m-2.9-2.9v5.8M405.67 478.69h5.8m-2.9-2.9v5.8M405.8 476.48h5.8m-2.9-2.9v5.8M405.93 478.65h5.8m-2.9-2.9v5.8M406.07 481.21h5.8m-2.9-2.9v5.8M406.2 480.31h5.8m-2.9-2.9v5.8M406.33 476.08h5.8m-2.9-2.9v5.8M406.46 482.32h5.8m-2.9-2.9v5.8M406.6 482.74h5.8m-2.9-2.9v5.8M406.73 479.54h5.8m-2.9-2.9v5.8M406.86 477.16h5.8m-2.9-2.9v5.8M406.99 480.06h5.8m-2.9-2.9v5.8M407.13 482.69h5.8m-2.9-2.9v5.8M407.26 475.89h5.8m-2.9-2.9v5.8M407.39 482.03h5.8m-2.9-2.9v5.8M407.52 478.87h5.8m-2.9-2.9v5.8M407.66 477.68h5.8m-2.9-2.9v5.8M407.79 480.53h5.8m-2.9-2.9v5.8M407.92 479.57h5.8m-2.9-2.9v5.8M408.05 477.87h5.8m-2.9-2.9v5.8M408.19 483.62h5.8m-2.9-2.9v5.8M408.32 479.46h5.8m-2.9-2.9v5.8M408.45 478.74h5.8m-2.9-2.9v5.8M408.58 478.67h5.8m-2.9-2.9v5.8M408.72 482.19h5.8m-2.9-2.9v5.8M408.85 480.49h5.8m-2.9-2.9v5.8M408.98 482.69h5.8m-2.9-2.9v5.8M409.11 482.82h5.8m-2.9-2.9v5.8M409.25 483.6h5.8m-2.9-2.9v5.8M409.38 480.49h5.8m-2.9-2.9v5.8M409.51 481.46h5.8m-2.9-2.9v5.8M409.64 479.62h5.8m-2.9-2.9v5.8M409.78 486.91h5.8m-2.9-2.9v5.8M409.91 483.95h5.8m-2.9-2.9v5.8M410.04 481.53h5.8m-2.9-2.9v5.8M410.17 478.73h5.8m-2.9-2.9v5.8M410.31 483.84h5.8m-2.9-2.9v5.8M410.44 486.08h5.8m-2.9-2.9v5.8M410.57 483.73h5.8m-2.9-2.9v5.8M410.7 482.78h5.8m-2.9-2.9v5.8M410.83 471.95h5.8m-2.9-2.9v5.8M410.97 472.95h5.8m-2.9-2.9v5.8M411.1 495.41h5.8m-2.9-2.9v5.8M411.23 503.45h5.8m-2.9-2.9v5.8M411.36 506.86h5.8m-2.9-2.9v5.8M411.5 506.7h5.8m-2.9-2.9v5.8M411.63 507.21h5.8m-2.9-2.9v5.8M411.76 508.08h5.8m-2.9-2.9v5.8M411.89 506.21h5.8m-2.9-2.9v5.8M412.03 508.88h5.8m-2.9-2.9v5.8M412.16 508.38h5.8m-2.9-2.9v5.8M412.29 507.97h5.8m-2.9-2.9v5.8M412.42 509.11h5.8m-2.9-2.9v5.8M412.56 508.98h5.8m-2.9-2.9v5.8M412.69 508.32h5.8m-2.9-2.9v5.8M412.82 509.86h5.8m-2.9-2.9v5.8M412.95 509.34h5.8m-2.9-2.9v5.8M413.09 509.44h5.8m-2.9-2.9v5.8M413.22 507.36h5.8m-2.9-2.9v5.8M413.35 508.81h5.8m-2.9-2.9v5.8M413.48 510.31h5.8m-2.9-2.9v5.8M413.62 509.13h5.8m-2.9-2.9v5.8M413.75 510.9h5.8m-2.9-2.9v5.8M413.88 509.68h5.8m-2.9-2.9v5.8M414.01 511.69h5.8m-2.9-2.9v5.8M414.15 509.67h5.8m-2.9-2.9v5.8M414.28 510.61h5.8m-2.9-2.9v5.8M414.41 511.79h5.8m-2.9-2.9v5.8M414.54 510.34h5.8m-2.9-2.9v5.8M414.68 510.08h5.8m-2.9-2.9v5.8M414.81 510.63h5.8m-2.9-2.9v5.8M414.94 510.95h5.8m-2.9-2.9v5.8M415.07 512.43h5.8m-2.9-2.9v5.8M415.21 510.64h5.8m-2.9-2.9v5.8M415.34 513.21h5.8m-2.9-2.9v5.8M415.47 511.63h5.8m-2.9-2.9v5.8M415.6 509.19h5.8m-2.9-2.9v5.8M415.74 512.1h5.8m-2.9-2.9v5.8M415.87 512.33h5.8m-2.9-2.9v5.8M416 511.43h5.8m-2.9-2.9v5.8M416.13 510.12h5.8m-2.9-2.9v5.8M416.27 510.41h5.8m-2.9-2.9v5.8M416.4 509.3h5.8m-2.9-2.9v5.8M416.53 510.03h5.8m-2.9-2.9v5.8M416.66 510.89h5.8m-2.9-2.9v5.8M416.8 508.97h5.8m-2.9-2.9v5.8M416.93 510.19h5.8m-2.9-2.9v5.8M417.06 508.94h5.8m-2.9-2.9v5.8M417.19 508.16h5.8m-2.9-2.9v5.8M417.33 508.82h5.8m-2.9-2.9v5.8M417.46 507.97h5.8m-2.9-2.9v5.8M417.59 510.11h5.8m-2.9-2.9v5.8M417.72 509.26h5.8m-2.9-2.9v5.8M417.86 508.58h5.8m-2.9-2.9v5.8M417.99 509.67h5.8m-2.9-2.9v5.8M418.12 507.28h5.8m-2.9-2.9v5.8M418.25 507.23h5.8m-2.9-2.9v5.8M418.38 507.79h5.8m-2.9-2.9v5.8M418.52 507.54h5.8m-2.9-2.9v5.8M418.65 508.06h5.8m-2.9-2.9v5.8M418.78 508.77h5.8m-2.9-2.9v5.8M418.91 508.23h5.8m-2.9-2.9v5.8M419.05 507.77h5.8m-2.9-2.9v5.8M419.18 385.03h5.8m-2.9-2.9v5.8M419.31 394.21h5.8m-2.9-2.9v5.8M419.44 394.19h5.8m-2.9-2.9v5.8M419.58 397.35h5.8m-2.9-2.9v5.8M419.71 397.09h5.8m-2.9-2.9v5.8M419.84 396.27h5.8m-2.9-2.9v5.8M419.97 395.65h5.8m-2.9-2.9v5.8M420.11 400.37h5.8m-2.9-2.9v5.8M420.24 397.91h5.8m-2.9-2.9v5.8M420.37 397.92h5.8m-2.9-2.9v5.8M420.5 399.8h5.8m-2.9-2.9v5.8M420.64 400.21h5.8m-2.9-2.9v5.8M420.77 401.6h5.8m-2.9-2.9v5.8M420.9 401.66h5.8m-2.9-2.9v5.8M421.03 402.82h5.8m-2.9-2.9v5.8M421.17 443.25h5.8m-2.9-2.9v5.8M421.3 440.31h5.8m-2.9-2.9v5.8M421.43 442.61h5.8m-2.9-2.9v5.8M421.56 444.66h5.8m-2.9-2.9v5.8M421.7 443.09h5.8m-2.9-2.9v5.8M421.83 446.16h5.8m-2.9-2.9v5.8M421.96 445.84h5.8m-2.9-2.9v5.8M422.09 449.86h5.8m-2.9-2.9v5.8M422.23 449.33h5.8m-2.9-2.9v5.8M422.36 447.99h5.8m-2.9-2.9v5.8M422.49 448.38h5.8m-2.9-2.9v5.8M422.62 466.46h5.8m-2.9-2.9v5.8M422.76 472.43h5.8m-2.9-2.9v5.8M422.89 477.56h5.8m-2.9-2.9v5.8M423.02 479.11h5.8m-2.9-2.9v5.8M423.15 481.24h5.8m-2.9-2.9v5.8M423.29 476.24h5.8m-2.9-2.9v5.8M423.42 477.04h5.8m-2.9-2.9v5.8M423.55 473.53h5.8m-2.9-2.9v5.8M423.68 477.2h5.8m-2.9-2.9v5.8M423.82 473.52h5.8m-2.9-2.9v5.8M423.95 480.13h5.8m-2.9-2.9v5.8M424.08 473.42h5.8m-2.9-2.9v5.8M424.21 477.26h5.8m-2.9-2.9v5.8M424.35 474.41h5.8m-2.9-2.9v5.8M424.48 475.28h5.8m-2.9-2.9v5.8M424.61 479.17h5.8m-2.9-2.9v5.8M424.74 475.64h5.8m-2.9-2.9v5.8M424.88 478.82h5.8m-2.9-2.9v5.8M425.01 475.84h5.8m-2.9-2.9v5.8M425.14 476.56h5.8m-2.9-2.9v5.8M425.27 476.99h5.8m-2.9-2.9v5.8M425.41 478.28h5.8m-2.9-2.9v5.8M425.54 478.55h5.8m-2.9-2.9v5.8M425.67 478.02h5.8m-2.9-2.9v5.8M425.8 483.18h5.8m-2.9-2.9v5.8M425.94 476.32h5.8m-2.9-2.9v5.8M426.07 478.59h5.8m-2.9-2.9v5.8M426.2 478.08h5.8m-2.9-2.9v5.8M426.33 480.54h5.8m-2.9-2.9v5.8M426.46 478.1h5.8m-2.9-2.9v5.8M426.6 479.78h5.8m-2.9-2.9v5.8M426.73 475.66h5.8m-2.9-2.9v5.8M426.86 481.92h5.8m-2.9-2.9v5.8M426.99 476.55h5.8m-2.9-2.9v5.8M427.13 480.86h5.8m-2.9-2.9v5.8M427.26 478.56h5.8m-2.9-2.9v5.8M427.39 479.94h5.8m-2.9-2.9v5.8M427.52 481.51h5.8m-2.9-2.9v5.8M427.66 483.86h5.8m-2.9-2.9v5.8M427.79 478.18h5.8m-2.9-2.9v5.8M427.92 483.36h5.8m-2.9-2.9v5.8M428.05 480.87h5.8m-2.9-2.9v5.8M428.19 477.31h5.8m-2.9-2.9v5.8M428.32 477.34h5.8m-2.9-2.9v5.8M428.45 479.61h5.8m-2.9-2.9v5.8M428.58 483.66h5.8m-2.9-2.9v5.8M428.72 480.68h5.8m-2.9-2.9v5.8M428.85 480.36h5.8m-2.9-2.9v5.8M428.98 482.27h5.8m-2.9-2.9v5.8M429.11 477.93h5.8m-2.9-2.9v5.8M429.25 480.31h5.8m-2.9-2.9v5.8M429.38 480.25h5.8m-2.9-2.9v5.8M429.51 481.22h5.8m-2.9-2.9v5.8M429.64 483.92h5.8m-2.9-2.9v5.8M429.78 483.12h5.8m-2.9-2.9v5.8M429.91 483.32h5.8m-2.9-2.9v5.8M430.04 478.88h5.8m-2.9-2.9v5.8M430.17 481.41h5.8m-2.9-2.9v5.8M430.31 480.65h5.8m-2.9-2.9v5.8M430.44 480.83h5.8m-2.9-2.9v5.8M430.57 480.94h5.8m-2.9-2.9v5.8M430.7 478.42h5.8m-2.9-2.9v5.8M430.84 480.21h5.8m-2.9-2.9v5.8M430.97 481.44h5.8m-2.9-2.9v5.8M431.1 481.85h5.8m-2.9-2.9v5.8M431.23 479.24h5.8m-2.9-2.9v5.8M431.37 486.08h5.8m-2.9-2.9v5.8M431.5 479.67h5.8m-2.9-2.9v5.8M431.63 471.95h5.8m-2.9-2.9v5.8M431.76 472.95h5.8m-2.9-2.9v5.8M431.9 495.41h5.8m-2.9-2.9v5.8M432.03 503.45h5.8m-2.9-2.9v5.8M432.16 508.01h5.8m-2.9-2.9v5.8M432.29 507.2h5.8m-2.9-2.9v5.8M432.43 508.03h5.8m-2.9-2.9v5.8M432.56 507.87h5.8m-2.9-2.9v5.8M432.69 508.26h5.8m-2.9-2.9v5.8M432.82 511.5h5.8m-2.9-2.9v5.8M432.96 509.34h5.8m-2.9-2.9v5.8M433.09 509.18h5.8m-2.9-2.9v5.8M433.22 509.79h5.8m-2.9-2.9v5.8M433.35 510.42h5.8m-2.9-2.9v5.8M433.49 508.35h5.8m-2.9-2.9v5.8M433.62 509.9h5.8m-2.9-2.9v5.8M433.75 508.99h5.8m-2.9-2.9v5.8M433.88 508.11h5.8m-2.9-2.9v5.8M434.02 510.34h5.8m-2.9-2.9v5.8M434.15 509.64h5.8m-2.9-2.9v5.8M434.28 508.55h5.8m-2.9-2.9v5.8M434.41 510.01h5.8m-2.9-2.9v5.8M434.54 510.2h5.8m-2.9-2.9v5.8M434.68 511.94h5.8m-2.9-2.9v5.8M434.81 508.87h5.8m-2.9-2.9v5.8M434.94 510.47h5.8m-2.9-2.9v5.8M435.07 511.61h5.8m-2.9-2.9v5.8M435.21 509.72h5.8m-2.9-2.9v5.8M435.34 511.02h5.8m-2.9-2.9v5.8M435.47 510.82h5.8m-2.9-2.9v5.8M435.6 511.49h5.8m-2.9-2.9v5.8M435.74 510.34h5.8m-2.9-2.9v5.8M435.87 510.52h5.8m-2.9-2.9v5.8M436 511.69h5.8m-2.9-2.9v5.8M436.13 511.37h5.8m-2.9-2.9v5.8M436.27 509.96h5.8m-2.9-2.9v5.8M436.4 511.12h5.8m-2.9-2.9v5.8M436.53 511.56h5.8m-2.9-2.9v5.8M436.66 509.72h5.8m-2.9-2.9v5.8M436.8 511.49h5.8m-2.9-2.9v5.8M436.93 510.7h5.8m-2.9-2.9v5.8M437.06 511.75h5.8m-2.9-2.9v5.8M437.19 511.32h5.8m-2.9-2.9v5.8M437.33 510.9h5.8m-2.9-2.9v5.8M437.46 509.75h5.8m-2.9-2.9v5.8M437.59 509.18h5.8m-2.9-2.9v5.8M437.72 510.42h5.8m-2.9-2.9v5.8M437.86 509.19h5.8m-2.9-2.9v5.8M437.99 509.85h5.8m-2.9-2.9v5.8M438.12 508.99h5.8m-2.9-2.9v5.8M438.25 510.23h5.8m-2.9-2.9v5.8M438.39 509.13h5.8m-2.9-2.9v5.8M438.52 509.4h5.8m-2.9-2.9v5.8M438.65 509.01h5.8m-2.9-2.9v5.8M438.78 506.7h5.8m-2.9-2.9v5.8M438.92 508.61h5.8m-2.9-2.9v5.8M439.05 507.45h5.8m-2.9-2.9v5.8M439.18 507.63h5.8m-2.9-2.9v5.8M439.31 509.9h5.8m-2.9-2.9v5.8M439.45 507.99h5.8m-2.9-2.9v5.8M439.58 507.25h5.8m-2.9-2.9v5.8M439.71 509.54h5.8m-2.9-2.9v5.8M439.84 508.72h5.8m-2.9-2.9v5.8M439.98 504.69h5.8m-2.9-2.9v5.8M440.11 507.64h5.8m-2.9-2.9v5.8M440.24 508h5.8m-2.9-2.9v5.8M440.37 374.92h5.8m-2.9-2.9v5.8M440.51 386.19h5.8m-2.9-2.9v5.8M440.64 385.2h5.8m-2.9-2.9v5.8M440.77 385.57h5.8m-2.9-2.9v5.8M440.9 386.95h5.8m-2.9-2.9v5.8M441.04 384.77h5.8m-2.9-2.9v5.8M441.17 384.85h5.8m-2.9-2.9v5.8M441.3 386.49h5.8m-2.9-2.9v5.8M441.43 389.97h5.8m-2.9-2.9v5.8M441.57 390.12h5.8m-2.9-2.9v5.8M441.7 392.01h5.8m-2.9-2.9v5.8M441.83 389.77h5.8m-2.9-2.9v5.8M441.96 391.73h5.8m-2.9-2.9v5.8M442.09 392.43h5.8m-2.9-2.9v5.8M442.23 393.19h5.8m-2.9-2.9v5.8M442.36 392.27h5.8m-2.9-2.9v5.8M442.49 392.96h5.8m-2.9-2.9v5.8M442.62 432.79h5.8m-2.9-2.9v5.8M442.76 430.4h5.8m-2.9-2.9v5.8M442.89 433.57h5.8m-2.9-2.9v5.8M443.02 437.01h5.8m-2.9-2.9v5.8M443.15 435.25h5.8m-2.9-2.9v5.8M443.29 438.92h5.8m-2.9-2.9v5.8M443.42 436.52h5.8m-2.9-2.9v5.8M443.55 438.49h5.8m-2.9-2.9v5.8M443.68 467.94h5.8m-2.9-2.9v5.8M443.82 471.37h5.8m-2.9-2.9v5.8M443.95 478.17h5.8m-2.9-2.9v5.8M444.08 475.78h5.8m-2.9-2.9v5.8M444.21 477.05h5.8m-2.9-2.9v5.8M444.35 478.46h5.8m-2.9-2.9v5.8M444.48 479.36h5.8m-2.9-2.9v5.8M444.61 474.47h5.8m-2.9-2.9v5.8M444.74 477.38h5.8m-2.9-2.9v5.8M444.88 478.96h5.8m-2.9-2.9v5.8M445.01 478.17h5.8m-2.9-2.9v5.8M445.14 470.72h5.8m-2.9-2.9v5.8M445.27 477.2h5.8m-2.9-2.9v5.8M445.41 478.82h5.8m-2.9-2.9v5.8M445.54 477.92h5.8m-2.9-2.9v5.8M445.67 475.08h5.8m-2.9-2.9v5.8M445.8 477.88h5.8m-2.9-2.9v5.8M445.94 478.13h5.8m-2.9-2.9v5.8M446.07 477.98h5.8m-2.9-2.9v5.8M446.2 479.02h5.8m-2.9-2.9v5.8M446.33 478.56h5.8m-2.9-2.9v5.8M446.47 475.26h5.8m-2.9-2.9v5.8M446.6 478.68h5.8m-2.9-2.9v5.8M446.73 478.49h5.8m-2.9-2.9v5.8M446.86 484.43h5.8m-2.9-2.9v5.8M447 477.06h5.8m-2.9-2.9v5.8M447.13 476.03h5.8m-2.9-2.9v5.8M447.26 480.12h5.8m-2.9-2.9v5.8M447.39 477.81h5.8m-2.9-2.9v5.8M447.53 481.15h5.8m-2.9-2.9v5.8M447.66 478.33h5.8m-2.9-2.9v5.8M447.79 478.34h5.8m-2.9-2.9v5.8M447.92 483.82h5.8m-2.9-2.9v5.8M448.06 477.01h5.8m-2.9-2.9v5.8M448.19 476.63h5.8m-2.9-2.9v5.8M448.32 479.77h5.8m-2.9-2.9v5.8M448.45 481.83h5.8m-2.9-2.9v5.8M448.59 479.67h5.8m-2.9-2.9v5.8M448.72 480.05h5.8m-2.9-2.9v5.8M448.85 477.9h5.8m-2.9-2.9v5.8M448.98 480.05h5.8m-2.9-2.9v5.8M449.12 480.29h5.8m-2.9-2.9v5.8M449.25 478.03h5.8m-2.9-2.9v5.8M449.38 478.83h5.8m-2.9-2.9v5.8M449.51 480.09h5.8m-2.9-2.9v5.8M449.65 481.8h5.8m-2.9-2.9v5.8M449.78 482.04h5.8m-2.9-2.9v5.8M449.91 481.96h5.8m-2.9-2.9v5.8M450.04 482.32h5.8m-2.9-2.9v5.8M450.17 481.51h5.8m-2.9-2.9v5.8M450.31 478.37h5.8m-2.9-2.9v5.8M450.44 481.62h5.8m-2.9-2.9v5.8M450.57 481.53h5.8m-2.9-2.9v5.8M450.7 485.36h5.8m-2.9-2.9v5.8M450.84 479.03h5.8m-2.9-2.9v5.8M450.97 482.06h5.8m-2.9-2.9v5.8M451.1 480.05h5.8m-2.9-2.9v5.8M451.23 480.42h5.8m-2.9-2.9v5.8M451.37 482.91h5.8m-2.9-2.9v5.8M451.5 480.62h5.8m-2.9-2.9v5.8M451.63 484.83h5.8m-2.9-2.9v5.8M451.76 483.28h5.8m-2.9-2.9v5.8M451.9 478.81h5.8m-2.9-2.9v5.8M452.03 483.97h5.8m-2.9-2.9v5.8M452.16 481.22h5.8m-2.9-2.9v5.8M452.29 482.17h5.8m-2.9-2.9v5.8M452.43 483.95h5.8m-2.9-2.9v5.8M452.56 479.31h5.8m-2.9-2.9v5.8M452.69 482.76h5.8m-2.9-2.9v5.8M452.82 481h5.8m-2.9-2.9v5.8M452.96 471.95h5.8m-2.9-2.9v5.8M453.09 472.95h5.8m-2.9-2.9v5.8M453.22 495.41h5.8m-2.9-2.9v5.8M453.35 503.45h5.8m-2.9-2.9v5.8M453.49 505.67h5.8m-2.9-2.9v5.8M453.62 509.11h5.8m-2.9-2.9v5.8M453.75 507.93h5.8m-2.9-2.9v5.8M453.88 507.13h5.8m-2.9-2.9v5.8M454.02 508.2h5.8m-2.9-2.9v5.8M454.15 507.15h5.8m-2.9-2.9v5.8M454.28 507.78h5.8m-2.9-2.9v5.8M454.41 508.28h5.8m-2.9-2.9v5.8M454.55 508.18h5.8m-2.9-2.9v5.8M454.68 509.49h5.8m-2.9-2.9v5.8M454.81 510.33h5.8m-2.9-2.9v5.8M454.94 510.71h5.8m-2.9-2.9v5.8M455.08 508.89h5.8m-2.9-2.9v5.8M455.21 510.2h5.8m-2.9-2.9v5.8M455.34 508.14h5.8m-2.9-2.9v5.8M455.47 510.65h5.8m-2.9-2.9v5.8M455.61 511.28h5.8m-2.9-2.9v5.8M455.74 511.66h5.8m-2.9-2.9v5.8M455.87 508.61h5.8m-2.9-2.9v5.8M456 510h5.8m-2.9-2.9v5.8M456.14 509.65h5.8m-2.9-2.9v5.8M456.27 511.45h5.8m-2.9-2.9v5.8M456.4 508.99h5.8m-2.9-2.9v5.8M456.53 511.95h5.8m-2.9-2.9v5.8M456.67 510.73h5.8m-2.9-2.9v5.8M456.8 511.23h5.8m-2.9-2.9v5.8M456.93 509.98h5.8m-2.9-2.9v5.8M457.06 512.14h5.8m-2.9-2.9v5.8M457.2 511.59h5.8m-2.9-2.9v5.8M457.33 511.62h5.8m-2.9-2.9v5.8M457.46 511.52h5.8m-2.9-2.9v5.8M457.59 511.32h5.8m-2.9-2.9v5.8M457.72 510.52h5.8m-2.9-2.9v5.8M457.86 510.19h5.8m-2.9-2.9v5.8M457.99 511.24h5.8m-2.9-2.9v5.8M458.12 510.95h5.8m-2.9-2.9v5.8M458.25 510.52h5.8m-2.9-2.9v5.8M458.39 510.19h5.8m-2.9-2.9v5.8M458.52 510.52h5.8m-2.9-2.9v5.8M458.65 509.79h5.8m-2.9-2.9v5.8M458.78 509.89h5.8m-2.9-2.9v5.8M458.92 509.28h5.8m-2.9-2.9v5.8M459.05 510.49h5.8m-2.9-2.9v5.8M459.18 509.58h5.8m-2.9-2.9v5.8M459.31 510.18h5.8m-2.9-2.9v5.8M459.45 511.17h5.8m-2.9-2.9v5.8M459.58 510.05h5.8m-2.9-2.9v5.8M459.71 509.12h5.8m-2.9-2.9v5.8M459.84 509.61h5.8m-2.9-2.9v5.8M459.98 509.93h5.8m-2.9-2.9v5.8M460.11 508.26h5.8m-2.9-2.9v5.8M460.24 507.62h5.8m-2.9-2.9v5.8M460.37 508h5.8m-2.9-2.9v5.8M460.51 507.86h5.8m-2.9-2.9v5.8M460.64 509.6h5.8m-2.9-2.9v5.8M460.77 507.74h5.8m-2.9-2.9v5.8M460.9 506.59h5.8m-2.9-2.9v5.8M461.04 506.77h5.8m-2.9-2.9v5.8M461.17 507.77h5.8m-2.9-2.9v5.8M461.3 506.64h5.8m-2.9-2.9v5.8M461.43 507.83h5.8m-2.9-2.9v5.8M461.57 366.8h5.8m-2.9-2.9v5.8M461.7 376.83h5.8m-2.9-2.9v5.8M461.83 377.66h5.8m-2.9-2.9v5.8M461.96 380.13h5.8m-2.9-2.9v5.8M462.1 380.22h5.8m-2.9-2.9v5.8M462.23 378.95h5.8m-2.9-2.9v5.8M462.36 382.25h5.8m-2.9-2.9v5.8M462.49 381.98h5.8m-2.9-2.9v5.8M462.63 382.48h5.8m-2.9-2.9v5.8M462.76 382.2h5.8m-2.9-2.9v5.8M462.89 384.68h5.8m-2.9-2.9v5.8M463.02 384.86h5.8m-2.9-2.9v5.8M463.16 384.17h5.8m-2.9-2.9v5.8M463.29 423.73h5.8m-2.9-2.9v5.8M463.42 424.79h5.8m-2.9-2.9v5.8M463.55 426.68h5.8m-2.9-2.9v5.8M463.69 424.55h5.8m-2.9-2.9v5.8M463.82 427.05h5.8m-2.9-2.9v5.8M463.95 427.99h5.8m-2.9-2.9v5.8M464.08 430.55h5.8m-2.9-2.9v5.8M464.22 429.51h5.8m-2.9-2.9v5.8M464.35 431.07h5.8m-2.9-2.9v5.8M464.48 431h5.8m-2.9-2.9v5.8M464.61 431.88h5.8m-2.9-2.9v5.8M464.75 432.19h5.8m-2.9-2.9v5.8M464.88 467.3h5.8m-2.9-2.9v5.8M465.01 476.41h5.8m-2.9-2.9v5.8M465.14 477.5h5.8m-2.9-2.9v5.8M465.28 477.04h5.8m-2.9-2.9v5.8M465.41 476.18h5.8m-2.9-2.9v5.8M465.54 474.79h5.8m-2.9-2.9v5.8M465.67 476.47h5.8m-2.9-2.9v5.8M465.8 476.34h5.8m-2.9-2.9v5.8M465.94 475.51h5.8m-2.9-2.9v5.8M466.07 476.66h5.8m-2.9-2.9v5.8M466.2 477.93h5.8m-2.9-2.9v5.8M466.33 477.16h5.8m-2.9-2.9v5.8M466.47 476.96h5.8m-2.9-2.9v5.8M466.6 480.57h5.8m-2.9-2.9v5.8M466.73 475.82h5.8m-2.9-2.9v5.8M466.86 477.13h5.8m-2.9-2.9v5.8M467 476.12h5.8m-2.9-2.9v5.8M467.13 477.21h5.8m-2.9-2.9v5.8M467.26 480.28h5.8m-2.9-2.9v5.8M467.39 479.2h5.8m-2.9-2.9v5.8M467.53 477.97h5.8m-2.9-2.9v5.8M467.66 480.54h5.8m-2.9-2.9v5.8M467.79 475.72h5.8m-2.9-2.9v5.8M467.92 480.68h5.8m-2.9-2.9v5.8M468.06 474.99h5.8m-2.9-2.9v5.8M468.19 477.85h5.8m-2.9-2.9v5.8M468.32 477.37h5.8m-2.9-2.9v5.8M468.45 481.03h5.8m-2.9-2.9v5.8M468.59 479.3h5.8m-2.9-2.9v5.8M468.72 479.55h5.8m-2.9-2.9v5.8M468.85 476.08h5.8m-2.9-2.9v5.8M468.98 474.93h5.8m-2.9-2.9v5.8M469.12 475.38h5.8m-2.9-2.9v5.8M469.25 484.08h5.8m-2.9-2.9v5.8M469.38 479.11h5.8m-2.9-2.9v5.8M469.51 481.86h5.8m-2.9-2.9v5.8M469.65 479.55h5.8m-2.9-2.9v5.8M469.78 480.38h5.8m-2.9-2.9v5.8M469.91 482.93h5.8m-2.9-2.9v5.8M470.04 482.09h5.8m-2.9-2.9v5.8M470.18 478.49h5.8m-2.9-2.9v5.8M470.31 480.17h5.8m-2.9-2.9v5.8M470.44 481.25h5.8m-2.9-2.9v5.8M470.57 479.86h5.8m-2.9-2.9v5.8M470.71 482.34h5.8m-2.9-2.9v5.8M470.84 479.04h5.8m-2.9-2.9v5.8M470.97 481.12h5.8m-2.9-2.9v5.8M471.1 478.35h5.8m-2.9-2.9v5.8M471.24 484.59h5.8m-2.9-2.9v5.8M471.37 480h5.8m-2.9-2.9v5.8M471.5 481.64h5.8m-2.9-2.9v5.8M471.63 483.65h5.8m-2.9-2.9v5.8M471.77 482.96h5.8m-2.9-2.9v5.8M471.9 480.96h5.8m-2.9-2.9v5.8M472.03 479.97h5.8m-2.9-2.9v5.8M472.16 482.16h5.8m-2.9-2.9v5.8M472.3 481.76h5.8m-2.9-2.9v5.8M472.43 482.45h5.8m-2.9-2.9v5.8M472.56 482.62h5.8m-2.9-2.9v5.8M472.69 477.83h5.8m-2.9-2.9v5.8M472.83 480.33h5.8m-2.9-2.9v5.8M472.96 478.73h5.8m-2.9-2.9v5.8M473.09 482.77h5.8m-2.9-2.9v5.8M473.22 481.26h5.8m-2.9-2.9v5.8M473.35 482.41h5.8m-2.9-2.9v5.8M473.49 480.16h5.8m-2.9-2.9v5.8M473.62 481.83h5.8m-2.9-2.9v5.8M473.75 471.95h5.8m-2.9-2.9v5.8M473.88 472.95h5.8m-2.9-2.9v5.8M474.02 495.41h5.8m-2.9-2.9v5.8M474.15 503.45h5.8m-2.9-2.9v5.8M474.28 506.05h5.8m-2.9-2.9v5.8M474.41 507.45h5.8m-2.9-2.9v5.8M474.55 508.07h5.8m-2.9-2.9v5.8M474.68 508.74h5.8m-2.9-2.9v5.8M474.81 508.51h5.8m-2.9-2.9v5.8M474.94 507.43h5.8m-2.9-2.9v5.8M475.08 508.68h5.8m-2.9-2.9v5.8M475.21 508.28h5.8m-2.9-2.9v5.8M475.34 507.78h5.8m-2.9-2.9v5.8M475.47 507.48h5.8m-2.9-2.9v5.8M475.61 509.7h5.8m-2.9-2.9v5.8M475.74 509.1h5.8m-2.9-2.9v5.8M475.87 510.1h5.8m-2.9-2.9v5.8M476 508.97h5.8m-2.9-2.9v5.8M476.14 509.29h5.8m-2.9-2.9v5.8M476.27 509.2h5.8m-2.9-2.9v5.8M476.4 510.62h5.8m-2.9-2.9v5.8M476.53 510.02h5.8m-2.9-2.9v5.8M476.67 511.26h5.8m-2.9-2.9v5.8M476.8 509.32h5.8m-2.9-2.9v5.8M476.93 510.45h5.8m-2.9-2.9v5.8M477.06 510.71h5.8m-2.9-2.9v5.8M477.2 509.99h5.8m-2.9-2.9v5.8M477.33 509.77h5.8m-2.9-2.9v5.8M477.46 510.98h5.8m-2.9-2.9v5.8M477.59 510.6h5.8m-2.9-2.9v5.8M477.73 510.5h5.8m-2.9-2.9v5.8M477.86 511.14h5.8m-2.9-2.9v5.8M477.99 511.84h5.8m-2.9-2.9v5.8M478.12 511.75h5.8m-2.9-2.9v5.8M478.26 510.59h5.8m-2.9-2.9v5.8M478.39 511.2h5.8m-2.9-2.9v5.8M478.52 512.39h5.8m-2.9-2.9v5.8M478.65 511.7h5.8m-2.9-2.9v5.8M478.79 510.55h5.8m-2.9-2.9v5.8M478.92 511.02h5.8m-2.9-2.9v5.8M479.05 511.61h5.8m-2.9-2.9v5.8M479.18 511.83h5.8m-2.9-2.9v5.8M479.32 510.52h5.8m-2.9-2.9v5.8M479.45 509.08h5.8m-2.9-2.9v5.8M479.58 510.59h5.8m-2.9-2.9v5.8M479.71 511.07h5.8m-2.9-2.9v5.8M479.85 510.98h5.8m-2.9-2.9v5.8M479.98 509.2h5.8m-2.9-2.9v5.8M480.11 511.71h5.8m-2.9-2.9v5.8M480.24 510.29h5.8m-2.9-2.9v5.8M480.38 509.81h5.8m-2.9-2.9v5.8M480.51 510.17h5.8m-2.9-2.9v5.8M480.64 507.68h5.8m-2.9-2.9v5.8M480.77 509.19h5.8m-2.9-2.9v5.8M480.91 509.13h5.8m-2.9-2.9v5.8M481.04 508.22h5.8m-2.9-2.9v5.8M481.17 509.05h5.8m-2.9-2.9v5.8M481.3 510.39h5.8m-2.9-2.9v5.8M481.43 508.55h5.8m-2.9-2.9v5.8M481.57 509.08h5.8m-2.9-2.9v5.8M481.7 509.04h5.8m-2.9-2.9v5.8M481.83 507.3h5.8m-2.9-2.9v5.8M481.96 509.05h5.8m-2.9-2.9v5.8M482.1 508.13h5.8m-2.9-2.9v5.8M482.23 508.04h5.8m-2.9-2.9v5.8M482.36 507.65h5.8m-2.9-2.9v5.8M482.49 505.96h5.8m-2.9-2.9v5.8M482.63 508.45h5.8m-2.9-2.9v5.8M482.76 361.5h5.8m-2.9-2.9v5.8M482.89 371.62h5.8m-2.9-2.9v5.8M483.02 373.82h5.8m-2.9-2.9v5.8M483.16 375.59h5.8m-2.9-2.9v5.8M483.29 375.79h5.8m-2.9-2.9v5.8M483.42 373.86h5.8m-2.9-2.9v5.8M483.55 378.17h5.8m-2.9-2.9v5.8M483.69 374.15h5.8m-2.9-2.9v5.8M483.82 374.57h5.8m-2.9-2.9v5.8M483.95 377.78h5.8m-2.9-2.9v5.8M484.08 377.92h5.8m-2.9-2.9v5.8M484.22 378.37h5.8m-2.9-2.9v5.8M484.35 380.16h5.8m-2.9-2.9v5.8M484.48 379.7h5.8m-2.9-2.9v5.8M484.61 384.04h5.8m-2.9-2.9v5.8M484.75 383.98h5.8m-2.9-2.9v5.8M484.88 383.41h5.8m-2.9-2.9v5.8M485.01 418.81h5.8m-2.9-2.9v5.8M485.14 418.52h5.8m-2.9-2.9v5.8M485.28 420.23h5.8m-2.9-2.9v5.8M485.41 420.75h5.8m-2.9-2.9v5.8M485.54 423.1h5.8m-2.9-2.9v5.8M485.67 424.39h5.8m-2.9-2.9v5.8M485.81 425.11h5.8m-2.9-2.9v5.8M485.94 428.09h5.8m-2.9-2.9v5.8M486.07 467.74h5.8m-2.9-2.9v5.8M486.2 477.58h5.8m-2.9-2.9v5.8M486.34 479.24h5.8m-2.9-2.9v5.8M486.47 477.61h5.8m-2.9-2.9v5.8M486.6 477.15h5.8m-2.9-2.9v5.8M486.73 478.85h5.8m-2.9-2.9v5.8M486.87 478.59h5.8m-2.9-2.9v5.8M487 478.18h5.8m-2.9-2.9v5.8M487.13 474.9h5.8m-2.9-2.9v5.8M487.26 474.57h5.8m-2.9-2.9v5.8M487.4 478.88h5.8m-2.9-2.9v5.8M487.53 475.28h5.8m-2.9-2.9v5.8M487.66 477.61h5.8m-2.9-2.9v5.8M487.79 479.6h5.8m-2.9-2.9v5.8M487.93 478.18h5.8m-2.9-2.9v5.8M488.06 479.2h5.8m-2.9-2.9v5.8M488.19 479.39h5.8m-2.9-2.9v5.8M488.32 480.75h5.8m-2.9-2.9v5.8M488.46 477.86h5.8m-2.9-2.9v5.8M488.59 481.3h5.8m-2.9-2.9v5.8M488.72 479.64h5.8m-2.9-2.9v5.8M488.85 477.42h5.8m-2.9-2.9v5.8M488.98 475.14h5.8m-2.9-2.9v5.8M489.12 478.93h5.8m-2.9-2.9v5.8M489.25 478.6h5.8m-2.9-2.9v5.8M489.38 477.45h5.8m-2.9-2.9v5.8M489.51 479.34h5.8m-2.9-2.9v5.8M489.65 476.55h5.8m-2.9-2.9v5.8M489.78 483.67h5.8m-2.9-2.9v5.8M489.91 478.68h5.8m-2.9-2.9v5.8M490.04 481.12h5.8m-2.9-2.9v5.8M490.18 479.26h5.8m-2.9-2.9v5.8M490.31 477.12h5.8m-2.9-2.9v5.8M490.44 479.69h5.8m-2.9-2.9v5.8M490.57 480.71h5.8m-2.9-2.9v5.8M490.71 479.79h5.8m-2.9-2.9v5.8M490.84 480.95h5.8m-2.9-2.9v5.8M490.97 480h5.8m-2.9-2.9v5.8M491.1 481.05h5.8m-2.9-2.9v5.8M491.24 481.87h5.8m-2.9-2.9v5.8M491.37 483.2h5.8m-2.9-2.9v5.8M491.5 479.47h5.8m-2.9-2.9v5.8M491.63 481.34h5.8m-2.9-2.9v5.8M491.77 483.35h5.8m-2.9-2.9v5.8M491.9 483.32h5.8m-2.9-2.9v5.8M492.03 480.9h5.8m-2.9-2.9v5.8M492.16 482.86h5.8m-2.9-2.9v5.8M492.3 480.89h5.8m-2.9-2.9v5.8M492.43 479.22h5.8m-2.9-2.9v5.8M492.56 475.25h5.8m-2.9-2.9v5.8M492.69 480.85h5.8m-2.9-2.9v5.8M492.83 478.55h5.8m-2.9-2.9v5.8M492.96 484.74h5.8m-2.9-2.9v5.8M493.09 483.06h5.8m-2.9-2.9v5.8M493.22 481.54h5.8m-2.9-2.9v5.8M493.36 481.14h5.8m-2.9-2.9v5.8M493.49 485.11h5.8m-2.9-2.9v5.8M493.62 480.18h5.8m-2.9-2.9v5.8M493.75 481.2h5.8m-2.9-2.9v5.8M493.89 481.68h5.8m-2.9-2.9v5.8M494.02 481.56h5.8m-2.9-2.9v5.8M494.15 483.55h5.8m-2.9-2.9v5.8M494.28 480.74h5.8m-2.9-2.9v5.8M494.42 482.38h5.8m-2.9-2.9v5.8M494.55 483.53h5.8m-2.9-2.9v5.8M494.68 481.91h5.8m-2.9-2.9v5.8M494.81 485.1h5.8m-2.9-2.9v5.8M494.95 471.95h5.8m-2.9-2.9v5.8M495.08 472.95h5.8m-2.9-2.9v5.8M495.21 495.41h5.8m-2.9-2.9v5.8M495.34 503.45h5.8m-2.9-2.9v5.8M495.48 508.16h5.8m-2.9-2.9v5.8M495.61 508.29h5.8m-2.9-2.9v5.8M495.74 507.85h5.8m-2.9-2.9v5.8M495.87 508.47h5.8m-2.9-2.9v5.8M496.01 508.11h5.8m-2.9-2.9v5.8M496.14 509.56h5.8m-2.9-2.9v5.8M496.27 509.57h5.8m-2.9-2.9v5.8M496.4 508.25h5.8m-2.9-2.9v5.8M496.54 508.79h5.8m-2.9-2.9v5.8M496.67 509.53h5.8m-2.9-2.9v5.8M496.8 508.77h5.8m-2.9-2.9v5.8M496.93 508.84h5.8m-2.9-2.9v5.8M497.06 508.37h5.8m-2.9-2.9v5.8M497.2 508.98h5.8m-2.9-2.9v5.8M497.33 510.1h5.8m-2.9-2.9v5.8M497.46 509.52h5.8m-2.9-2.9v5.8M497.59 508.79h5.8m-2.9-2.9v5.8M497.73 509.31h5.8m-2.9-2.9v5.8M497.86 510.47h5.8m-2.9-2.9v5.8M497.99 509.03h5.8m-2.9-2.9v5.8M498.12 510.79h5.8m-2.9-2.9v5.8M498.26 510.46h5.8m-2.9-2.9v5.8M498.39 511.97h5.8m-2.9-2.9v5.8M498.52 510.47h5.8m-2.9-2.9v5.8M498.65 510.39h5.8m-2.9-2.9v5.8M498.79 510.97h5.8m-2.9-2.9v5.8M498.92 510.92h5.8m-2.9-2.9v5.8M499.05 511.65h5.8m-2.9-2.9v5.8M499.18 510.71h5.8m-2.9-2.9v5.8M499.32 511.72h5.8m-2.9-2.9v5.8M499.45 510.9h5.8m-2.9-2.9v5.8M499.58 511.14h5.8m-2.9-2.9v5.8M499.71 511.43h5.8m-2.9-2.9v5.8M499.85 511.09h5.8m-2.9-2.9v5.8M499.98 510.99h5.8m-2.9-2.9v5.8M500.11 511.25h5.8m-2.9-2.9v5.8M500.24 512.28h5.8m-2.9-2.9v5.8M500.38 509.46h5.8m-2.9-2.9v5.8M500.51 508.77h5.8m-2.9-2.9v5.8M500.64 510.35h5.8m-2.9-2.9v5.8M500.77 511.1h5.8m-2.9-2.9v5.8M500.91 510.12h5.8m-2.9-2.9v5.8M501.04 511.35h5.8m-2.9-2.9v5.8M501.17 509.6h5.8m-2.9-2.9v5.8M501.3 508.55h5.8m-2.9-2.9v5.8M501.44 509.4h5.8m-2.9-2.9v5.8M501.57 509.23h5.8m-2.9-2.9v5.8M501.7 511.24h5.8m-2.9-2.9v5.8M501.83 509.73h5.8m-2.9-2.9v5.8M501.97 510.43h5.8m-2.9-2.9v5.8M502.1 507.75h5.8m-2.9-2.9v5.8M502.23 509.15h5.8m-2.9-2.9v5.8M502.36 509.21h5.8m-2.9-2.9v5.8M502.5 508.35h5.8m-2.9-2.9v5.8M502.63 507.78h5.8m-2.9-2.9v5.8M502.76 508.02h5.8m-2.9-2.9v5.8M502.89 509.07h5.8m-2.9-2.9v5.8M503.03 508h5.8m-2.9-2.9v5.8M503.16 507.72h5.8m-2.9-2.9v5.8M503.29 508.32h5.8m-2.9-2.9v5.8M503.42 507.32h5.8m-2.9-2.9v5.8M503.56 508.44h5.8m-2.9-2.9v5.8M503.69 507.19h5.8m-2.9-2.9v5.8M503.82 506.58h5.8m-2.9-2.9v5.8M503.95 356.1h5.8m-2.9-2.9v5.8M504.09 370h5.8m-2.9-2.9v5.8M504.22 368.62h5.8m-2.9-2.9v5.8M504.35 368.71h5.8m-2.9-2.9v5.8M504.48 369.6h5.8m-2.9-2.9v5.8M504.62 372.77h5.8m-2.9-2.9v5.8M504.75 372.1h5.8m-2.9-2.9v5.8M504.88 372.6h5.8m-2.9-2.9v5.8M505.01 368.73h5.8m-2.9-2.9v5.8M505.14 373h5.8m-2.9-2.9v5.8M505.28 375.08h5.8m-2.9-2.9v5.8M505.41 373.63h5.8m-2.9-2.9v5.8M505.54 376.42h5.8m-2.9-2.9v5.8M505.67 376.77h5.8m-2.9-2.9v5.8M505.81 374.97h5.8m-2.9-2.9v5.8M505.94 410.52h5.8m-2.9-2.9v5.8M506.07 412.92h5.8m-2.9-2.9v5.8M506.2 415.46h5.8m-2.9-2.9v5.8M506.34 419.54h5.8m-2.9-2.9v5.8M506.47 416.62h5.8m-2.9-2.9v5.8M506.6 419.16h5.8m-2.9-2.9v5.8M506.73 417.66h5.8m-2.9-2.9v5.8M506.87 418.71h5.8m-2.9-2.9v5.8M507 423.03h5.8m-2.9-2.9v5.8M507.13 466.04h5.8m-2.9-2.9v5.8M507.26 475.8h5.8m-2.9-2.9v5.8M507.4 474.27h5.8m-2.9-2.9v5.8M507.53 478.81h5.8m-2.9-2.9v5.8M507.66 480.53h5.8m-2.9-2.9v5.8M507.79 477.11h5.8m-2.9-2.9v5.8M507.93 477.63h5.8m-2.9-2.9v5.8M508.06 476.99h5.8m-2.9-2.9v5.8M508.19 474.03h5.8m-2.9-2.9v5.8M508.32 477.99h5.8m-2.9-2.9v5.8M508.46 475.03h5.8m-2.9-2.9v5.8M508.59 477.59h5.8m-2.9-2.9v5.8M508.72 476.29h5.8m-2.9-2.9v5.8M508.85 475.62h5.8m-2.9-2.9v5.8M508.99 477.64h5.8m-2.9-2.9v5.8M509.12 480.73h5.8m-2.9-2.9v5.8M509.25 479.65h5.8m-2.9-2.9v5.8M509.38 478.11h5.8m-2.9-2.9v5.8M509.52 480.89h5.8m-2.9-2.9v5.8M509.65 480.66h5.8m-2.9-2.9v5.8M509.78 479.12h5.8m-2.9-2.9v5.8M509.91 480.18h5.8m-2.9-2.9v5.8M510.05 476.79h5.8m-2.9-2.9v5.8M510.18 476.94h5.8m-2.9-2.9v5.8M510.31 483.54h5.8m-2.9-2.9v5.8M510.44 477.37h5.8m-2.9-2.9v5.8M510.58 480.12h5.8m-2.9-2.9v5.8M510.71 479.14h5.8m-2.9-2.9v5.8M510.84 476.02h5.8m-2.9-2.9v5.8M510.97 478.61h5.8m-2.9-2.9v5.8M511.11 479.52h5.8m-2.9-2.9v5.8M511.24 480.77h5.8m-2.9-2.9v5.8M511.37 478.86h5.8m-2.9-2.9v5.8M511.5 478.07h5.8m-2.9-2.9v5.8M511.64 477.62h5.8m-2.9-2.9v5.8M511.77 480.34h5.8m-2.9-2.9v5.8M511.9 475.5h5.8m-2.9-2.9v5.8M512.03 479.71h5.8m-2.9-2.9v5.8M512.17 475.95h5.8m-2.9-2.9v5.8M512.3 479.47h5.8m-2.9-2.9v5.8M512.43 476.34h5.8m-2.9-2.9v5.8M512.56 476.53h5.8m-2.9-2.9v5.8M512.69 481.51h5.8m-2.9-2.9v5.8M512.83 480.29h5.8m-2.9-2.9v5.8M512.96 480.41h5.8m-2.9-2.9v5.8M513.09 478.67h5.8m-2.9-2.9v5.8M513.22 482h5.8m-2.9-2.9v5.8M513.36 482.65h5.8m-2.9-2.9v5.8M513.49 474.3h5.8m-2.9-2.9v5.8M513.62 478.97h5.8m-2.9-2.9v5.8M513.75 478.17h5.8m-2.9-2.9v5.8M513.89 480.21h5.8m-2.9-2.9v5.8M514.02 479.99h5.8m-2.9-2.9v5.8M514.15 479.24h5.8m-2.9-2.9v5.8M514.28 480.25h5.8m-2.9-2.9v5.8M514.42 481.39h5.8m-2.9-2.9v5.8M514.55 481.64h5.8m-2.9-2.9v5.8M514.68 478.27h5.8m-2.9-2.9v5.8M514.81 482.63h5.8m-2.9-2.9v5.8M514.95 479.96h5.8m-2.9-2.9v5.8M515.08 481.23h5.8m-2.9-2.9v5.8M515.21 481.98h5.8m-2.9-2.9v5.8M515.34 479.89h5.8m-2.9-2.9v5.8M515.48 482.58h5.8m-2.9-2.9v5.8M515.61 486.13h5.8m-2.9-2.9v5.8M515.74 480.14h5.8m-2.9-2.9v5.8M515.87 481.66h5.8m-2.9-2.9v5.8M516.01 481.35h5.8m-2.9-2.9v5.8M516.14 479.94h5.8m-2.9-2.9v5.8M516.27 482.52h5.8m-2.9-2.9v5.8M516.4 479.78h5.8m-2.9-2.9v5.8M516.54 483.05h5.8m-2.9-2.9v5.8M516.67 471.95h5.8m-2.9-2.9v5.8M516.8 472.95h5.8m-2.9-2.9v5.8M516.93 495.41h5.8m-2.9-2.9v5.8M517.07 503.45h5.8m-2.9-2.9v5.8M517.2 505.56h5.8m-2.9-2.9v5.8M517.33 508.81h5.8m-2.9-2.9v5.8M517.46 507.87h5.8m-2.9-2.9v5.8M517.6 508.26h5.8m-2.9-2.9v5.8M517.73 509.29h5.8m-2.9-2.9v5.8M517.86 509.19h5.8m-2.9-2.9v5.8M517.99 508.42h5.8m-2.9-2.9v5.8M518.13 510.16h5.8m-2.9-2.9v5.8M518.26 508.74h5.8m-2.9-2.9v5.8M518.39 508.18h5.8m-2.9-2.9v5.8M518.52 510.02h5.8m-2.9-2.9v5.8M518.66 509.86h5.8m-2.9-2.9v5.8M518.79 510.6h5.8m-2.9-2.9v5.8M518.92 509.84h5.8m-2.9-2.9v5.8M519.05 509.71h5.8m-2.9-2.9v5.8M519.19 510.43h5.8m-2.9-2.9v5.8M519.32 510.48h5.8m-2.9-2.9v5.8M519.45 509.8h5.8m-2.9-2.9v5.8M519.58 509.74h5.8m-2.9-2.9v5.8M519.72 511.3h5.8m-2.9-2.9v5.8M519.85 510.81h5.8m-2.9-2.9v5.8M519.98 511.11h5.8m-2.9-2.9v5.8M520.11 512.06h5.8m-2.9-2.9v5.8M520.25 510.77h5.8m-2.9-2.9v5.8M520.38 510.47h5.8m-2.9-2.9v5.8M520.51 510.76h5.8m-2.9-2.9v5.8M520.64 511.9h5.8m-2.9-2.9v5.8M520.77 510.24h5.8m-2.9-2.9v5.8M520.91 510.61h5.8m-2.9-2.9v5.8M521.04 512.13h5.8m-2.9-2.9v5.8M521.17 511.79h5.8m-2.9-2.9v5.8M521.3 510.56h5.8m-2.9-2.9v5.8M521.44 511.68h5.8m-2.9-2.9v5.8M521.57 510.06h5.8m-2.9-2.9v5.8M521.7 509.58h5.8m-2.9-2.9v5.8M521.83 510.89h5.8m-2.9-2.9v5.8M521.97 510.64h5.8m-2.9-2.9v5.8M522.1 510.53h5.8m-2.9-2.9v5.8M522.23 509.24h5.8m-2.9-2.9v5.8M522.36 509.51h5.8m-2.9-2.9v5.8M522.5 511.09h5.8m-2.9-2.9v5.8M522.63 511.27h5.8m-2.9-2.9v5.8M522.76 510.48h5.8m-2.9-2.9v5.8M522.89 510.08h5.8m-2.9-2.9v5.8M523.03 510.56h5.8m-2.9-2.9v5.8M523.16 508.72h5.8m-2.9-2.9v5.8M523.29 509.31h5.8m-2.9-2.9v5.8M523.42 508.43h5.8m-2.9-2.9v5.8M523.56 508.22h5.8m-2.9-2.9v5.8M523.69 509.81h5.8m-2.9-2.9v5.8M523.82 507.02h5.8m-2.9-2.9v5.8M523.95 507.27h5.8m-2.9-2.9v5.8M524.09 508.78h5.8m-2.9-2.9v5.8M524.22 509.25h5.8m-2.9-2.9v5.8M524.35 509.09h5.8m-2.9-2.9v5.8M524.48 507.74h5.8m-2.9-2.9v5.8M524.62 508.58h5.8m-2.9-2.9v5.8M524.75 507.69h5.8m-2.9-2.9v5.8M524.88 506.21h5.8m-2.9-2.9v5.8M525.01 507.77h5.8m-2.9-2.9v5.8M525.15 351.75h5.8m-2.9-2.9v5.8M525.28 364.92h5.8m-2.9-2.9v5.8M525.41 365.94h5.8m-2.9-2.9v5.8M525.54 368.88h5.8m-2.9-2.9v5.8M525.68 370.91h5.8m-2.9-2.9v5.8M525.81 369.23h5.8m-2.9-2.9v5.8M525.94 370.43h5.8m-2.9-2.9v5.8M526.07 371.38h5.8m-2.9-2.9v5.8M526.21 371.36h5.8m-2.9-2.9v5.8M526.34 371.5h5.8m-2.9-2.9v5.8M526.47 374.41h5.8m-2.9-2.9v5.8M526.6 372.71h5.8m-2.9-2.9v5.8M526.74 376.06h5.8m-2.9-2.9v5.8M526.87 408.43h5.8m-2.9-2.9v5.8M527 408.93h5.8m-2.9-2.9v5.8M527.13 409.21h5.8m-2.9-2.9v5.8M527.27 409.54h5.8m-2.9-2.9v5.8M527.4 411.65h5.8m-2.9-2.9v5.8M527.53 413.33h5.8m-2.9-2.9v5.8M527.66 413.71h5.8m-2.9-2.9v5.8M527.8 414.75h5.8m-2.9-2.9v5.8M527.93 417.18h5.8m-2.9-2.9v5.8M528.06 417.31h5.8m-2.9-2.9v5.8M528.19 468.09h5.8m-2.9-2.9v5.8M528.32 475.85h5.8m-2.9-2.9v5.8M528.46 479.94h5.8m-2.9-2.9v5.8M528.59 479.52h5.8m-2.9-2.9v5.8M528.72 481.21h5.8m-2.9-2.9v5.8M528.85 475.15h5.8m-2.9-2.9v5.8M528.99 477.72h5.8m-2.9-2.9v5.8M529.12 477h5.8m-2.9-2.9v5.8M529.25 481.04h5.8m-2.9-2.9v5.8M529.38 476.02h5.8m-2.9-2.9v5.8M529.52 476.74h5.8m-2.9-2.9v5.8M529.65 474.57h5.8m-2.9-2.9v5.8M529.78 474.29h5.8m-2.9-2.9v5.8M529.91 476.65h5.8m-2.9-2.9v5.8M530.05 477.31h5.8m-2.9-2.9v5.8M530.18 476.97h5.8m-2.9-2.9v5.8M530.31 477.93h5.8m-2.9-2.9v5.8M530.44 478.42h5.8m-2.9-2.9v5.8M530.58 477.92h5.8m-2.9-2.9v5.8M530.71 477.57h5.8m-2.9-2.9v5.8M530.84 479.67h5.8m-2.9-2.9v5.8M530.97 478.85h5.8m-2.9-2.9v5.8M531.11 474.46h5.8m-2.9-2.9v5.8M531.24 479.42h5.8m-2.9-2.9v5.8M531.37 479.3h5.8m-2.9-2.9v5.8M531.5 477.62h5.8m-2.9-2.9v5.8M531.64 480.52h5.8m-2.9-2.9v5.8M531.77 479.52h5.8m-2.9-2.9v5.8M531.9 481.82h5.8m-2.9-2.9v5.8M532.03 479.07h5.8m-2.9-2.9v5.8M532.17 480.94h5.8m-2.9-2.9v5.8M532.3 483.35h5.8m-2.9-2.9v5.8M532.43 478.39h5.8m-2.9-2.9v5.8M532.56 477.76h5.8m-2.9-2.9v5.8M532.7 479.83h5.8m-2.9-2.9v5.8M532.83 475.63h5.8m-2.9-2.9v5.8M532.96 483.07h5.8m-2.9-2.9v5.8M533.09 482.84h5.8m-2.9-2.9v5.8M533.23 479.56h5.8m-2.9-2.9v5.8M533.36 477.87h5.8m-2.9-2.9v5.8M533.49 480.19h5.8m-2.9-2.9v5.8M533.62 480.89h5.8m-2.9-2.9v5.8M533.76 482.31h5.8m-2.9-2.9v5.8M533.89 476.36h5.8m-2.9-2.9v5.8M534.02 481.45h5.8m-2.9-2.9v5.8M534.15 479.01h5.8m-2.9-2.9v5.8M534.29 479.95h5.8m-2.9-2.9v5.8M534.42 483.48h5.8m-2.9-2.9v5.8M534.55 478.85h5.8m-2.9-2.9v5.8M534.68 482.04h5.8m-2.9-2.9v5.8M534.82 479.92h5.8m-2.9-2.9v5.8M534.95 479.76h5.8m-2.9-2.9v5.8M535.08 481.34h5.8m-2.9-2.9v5.8M535.21 477.46h5.8m-2.9-2.9v5.8M535.35 478.22h5.8m-2.9-2.9v5.8M535.48 481.34h5.8m-2.9-2.9v5.8M535.61 479.53h5.8m-2.9-2.9v5.8M535.74 478.72h5.8m-2.9-2.9v5.8M535.88 477.69h5.8m-2.9-2.9v5.8M536.01 482.15h5.8m-2.9-2.9v5.8M536.14 477.31h5.8m-2.9-2.9v5.8M536.27 483.56h5.8m-2.9-2.9v5.8M536.4 484.28h5.8m-2.9-2.9v5.8M536.54 480.48h5.8m-2.9-2.9v5.8M536.67 483.97h5.8m-2.9-2.9v5.8M536.8 478.48h5.8m-2.9-2.9v5.8M536.93 486.08h5.8m-2.9-2.9v5.8M537.07 482.24h5.8m-2.9-2.9v5.8M537.2 481h5.8m-2.9-2.9v5.8M537.33 485.93h5.8m-2.9-2.9v5.8M537.46 480.31h5.8m-2.9-2.9v5.8M537.6 485.65h5.8m-2.9-2.9v5.8M537.73 482h5.8m-2.9-2.9v5.8M537.86 482.33h5.8m-2.9-2.9v5.8M537.99 471.95h5.8m-2.9-2.9v5.8M538.13 472.95h5.8m-2.9-2.9v5.8M538.26 495.41h5.8m-2.9-2.9v5.8M538.39 503.45h5.8m-2.9-2.9v5.8M538.52 507.46h5.8m-2.9-2.9v5.8M538.66 507.03h5.8m-2.9-2.9v5.8M538.79 507.18h5.8m-2.9-2.9v5.8M538.92 508.84h5.8m-2.9-2.9v5.8M539.05 509.08h5.8m-2.9-2.9v5.8M539.19 508.25h5.8m-2.9-2.9v5.8M539.32 510.02h5.8m-2.9-2.9v5.8M539.45 507.37h5.8m-2.9-2.9v5.8M539.58 508.91h5.8m-2.9-2.9v5.8M539.72 506.69h5.8m-2.9-2.9v5.8M539.85 508.47h5.8m-2.9-2.9v5.8M539.98 509.7h5.8m-2.9-2.9v5.8M540.11 510.21h5.8m-2.9-2.9v5.8M540.25 508.2h5.8m-2.9-2.9v5.8M540.38 512.54h5.8m-2.9-2.9v5.8M540.51 510.07h5.8m-2.9-2.9v5.8M540.64 507.83h5.8m-2.9-2.9v5.8M540.78 509.98h5.8m-2.9-2.9v5.8M540.91 509.42h5.8m-2.9-2.9v5.8M541.04 510.19h5.8m-2.9-2.9v5.8M541.17 509.8h5.8m-2.9-2.9v5.8M541.31 511.21h5.8m-2.9-2.9v5.8M541.44 510.5h5.8m-2.9-2.9v5.8M541.57 509.55h5.8m-2.9-2.9v5.8M541.7 510.84h5.8m-2.9-2.9v5.8M541.84 510.85h5.8m-2.9-2.9v5.8M541.97 509.97h5.8m-2.9-2.9v5.8M542.1 510.25h5.8m-2.9-2.9v5.8M542.23 511.17h5.8m-2.9-2.9v5.8M542.37 512.24h5.8m-2.9-2.9v5.8M542.5 512.37h5.8m-2.9-2.9v5.8M542.63 511.03h5.8m-2.9-2.9v5.8M542.76 511.07h5.8m-2.9-2.9v5.8M542.9 509.35h5.8m-2.9-2.9v5.8M543.03 507.89h5.8m-2.9-2.9v5.8M543.16 509.16h5.8m-2.9-2.9v5.8M543.29 511.02h5.8m-2.9-2.9v5.8M543.43 510.69h5.8m-2.9-2.9v5.8M543.56 511.79h5.8m-2.9-2.9v5.8M543.69 509.91h5.8m-2.9-2.9v5.8M543.82 509.79h5.8m-2.9-2.9v5.8M543.95 509.03h5.8m-2.9-2.9v5.8M544.09 510.64h5.8m-2.9-2.9v5.8M544.22 509.36h5.8m-2.9-2.9v5.8M544.35 509.51h5.8m-2.9-2.9v5.8M544.48 508.46h5.8m-2.9-2.9v5.8M544.62 510.58h5.8m-2.9-2.9v5.8M544.75 507.9h5.8m-2.9-2.9v5.8M544.88 508.96h5.8m-2.9-2.9v5.8M545.01 508.91h5.8m-2.9-2.9v5.8M545.15 509.87h5.8m-2.9-2.9v5.8M545.28 508.8h5.8m-2.9-2.9v5.8M545.41 508.2h5.8m-2.9-2.9v5.8M545.54 508.6h5.8m-2.9-2.9v5.8M545.68 508.05h5.8m-2.9-2.9v5.8M545.81 509.17h5.8m-2.9-2.9v5.8M545.94 507.98h5.8m-2.9-2.9v5.8M546.07 508.7h5.8m-2.9-2.9v5.8M546.21 509.44h5.8m-2.9-2.9v5.8M546.34 348.02h5.8m-2.9-2.9v5.8M546.47 363.4h5.8m-2.9-2.9v5.8M546.6 362.92h5.8m-2.9-2.9v5.8M546.74 363.96h5.8m-2.9-2.9v5.8M546.87 362.45h5.8m-2.9-2.9v5.8M547 364.69h5.8m-2.9-2.9v5.8M547.13 365.72h5.8m-2.9-2.9v5.8M547.27 367.22h5.8m-2.9-2.9v5.8M547.4 366.11h5.8m-2.9-2.9v5.8M547.53 367.68h5.8m-2.9-2.9v5.8M547.66 371.21h5.8m-2.9-2.9v5.8M547.8 368.82h5.8m-2.9-2.9v5.8M547.93 369.35h5.8m-2.9-2.9v5.8M548.06 370.09h5.8m-2.9-2.9v5.8M548.19 365.98h5.8m-2.9-2.9v5.8M548.33 370.02h5.8m-2.9-2.9v5.8M548.46 370.24h5.8m-2.9-2.9v5.8M548.59 371.16h5.8m-2.9-2.9v5.8M548.72 405.04h5.8m-2.9-2.9v5.8M548.86 405.07h5.8m-2.9-2.9v5.8M548.99 406.06h5.8m-2.9-2.9v5.8M549.12 407.04h5.8m-2.9-2.9v5.8M549.25 409.48h5.8m-2.9-2.9v5.8M549.39 409.01h5.8m-2.9-2.9v5.8M549.52 410.95h5.8m-2.9-2.9v5.8M549.65 413.2h5.8m-2.9-2.9v5.8M549.78 413.97h5.8m-2.9-2.9v5.8M549.92 414.13h5.8m-2.9-2.9v5.8M550.05 465.83h5.8m-2.9-2.9v5.8M550.18 479.7h5.8m-2.9-2.9v5.8M550.31 478.61h5.8m-2.9-2.9v5.8M550.45 477.76h5.8m-2.9-2.9v5.8M550.58 473.54h5.8m-2.9-2.9v5.8M550.71 475.81h5.8m-2.9-2.9v5.8M550.84 481.64h5.8m-2.9-2.9v5.8M550.98 478.14h5.8m-2.9-2.9v5.8M551.11 476.84h5.8m-2.9-2.9v5.8M551.24 475.02h5.8m-2.9-2.9v5.8M551.37 477.54h5.8m-2.9-2.9v5.8M551.51 473.67h5.8m-2.9-2.9v5.8M551.64 478.97h5.8m-2.9-2.9v5.8M551.77 473.24h5.8m-2.9-2.9v5.8M551.9 478.39h5.8m-2.9-2.9v5.8M552.03 477.89h5.8m-2.9-2.9v5.8M552.17 477.05h5.8m-2.9-2.9v5.8M552.3 479.03h5.8m-2.9-2.9v5.8M552.43 480.31h5.8m-2.9-2.9v5.8M552.56 477.21h5.8m-2.9-2.9v5.8M552.7 477.73h5.8m-2.9-2.9v5.8M552.83 474.99h5.8m-2.9-2.9v5.8M552.96 476.56h5.8m-2.9-2.9v5.8M553.09 479.75h5.8m-2.9-2.9v5.8M553.23 477.39h5.8m-2.9-2.9v5.8M553.36 480.37h5.8m-2.9-2.9v5.8M553.49 482.22h5.8m-2.9-2.9v5.8M553.62 479.43h5.8m-2.9-2.9v5.8M553.76 480.27h5.8m-2.9-2.9v5.8M553.89 480.62h5.8m-2.9-2.9v5.8M554.02 477.28h5.8m-2.9-2.9v5.8M554.15 479.5h5.8m-2.9-2.9v5.8M554.29 481.45h5.8m-2.9-2.9v5.8M554.42 480.65h5.8m-2.9-2.9v5.8M554.55 479.2h5.8m-2.9-2.9v5.8M554.68 484.16h5.8m-2.9-2.9v5.8M554.82 478.96h5.8m-2.9-2.9v5.8M554.95 479.57h5.8m-2.9-2.9v5.8M555.08 479.16h5.8m-2.9-2.9v5.8M555.21 477.47h5.8m-2.9-2.9v5.8M555.35 477.66h5.8m-2.9-2.9v5.8M555.48 481.37h5.8m-2.9-2.9v5.8M555.61 478.19h5.8m-2.9-2.9v5.8M555.74 480.18h5.8m-2.9-2.9v5.8M555.88 483.16h5.8m-2.9-2.9v5.8M556.01 480.84h5.8m-2.9-2.9v5.8M556.14 481.21h5.8m-2.9-2.9v5.8M556.27 479.97h5.8m-2.9-2.9v5.8M556.41 482.73h5.8m-2.9-2.9v5.8M556.54 482.89h5.8m-2.9-2.9v5.8M556.67 480.6h5.8m-2.9-2.9v5.8M556.8 482.85h5.8m-2.9-2.9v5.8M556.94 482.4h5.8m-2.9-2.9v5.8M557.07 482.96h5.8m-2.9-2.9v5.8M557.2 480.9h5.8m-2.9-2.9v5.8M557.33 481.29h5.8m-2.9-2.9v5.8M557.47 482.74h5.8m-2.9-2.9v5.8M557.6 487.91h5.8m-2.9-2.9v5.8M557.73 480.62h5.8m-2.9-2.9v5.8M557.86 484.08h5.8m-2.9-2.9v5.8M558 481.97h5.8m-2.9-2.9v5.8M558.13 483.38h5.8m-2.9-2.9v5.8M558.26 486.25h5.8m-2.9-2.9v5.8M558.39 481.46h5.8m-2.9-2.9v5.8M558.53 483.74h5.8m-2.9-2.9v5.8M558.66 482.94h5.8m-2.9-2.9v5.8M558.79 482.61h5.8m-2.9-2.9v5.8M558.92 478.14h5.8m-2.9-2.9v5.8M559.06 471.95h5.8m-2.9-2.9v5.8M559.19 472.95h5.8m-2.9-2.9v5.8M559.32 495.41h5.8m-2.9-2.9v5.8M559.45 503.45h5.8m-2.9-2.9v5.8M559.58 508.21h5.8m-2.9-2.9v5.8M559.72 508.17h5.8m-2.9-2.9v5.8M559.85 508.62h5.8m-2.9-2.9v5.8M559.98 508.42h5.8m-2.9-2.9v5.8M560.11 508.01h5.8m-2.9-2.9v5.8M560.25 508.64h5.8m-2.9-2.9v5.8M560.38 508.37h5.8m-2.9-2.9v5.8M560.51 508.69h5.8m-2.9-2.9v5.8M560.64 508.89h5.8m-2.9-2.9v5.8M560.78 509.07h5.8m-2.9-2.9v5.8M560.91 506.76h5.8m-2.9-2.9v5.8M561.04 509.9h5.8m-2.9-2.9v5.8M561.17 509.26h5.8m-2.9-2.9v5.8M561.31 510.3h5.8m-2.9-2.9v5.8M561.44 508.93h5.8m-2.9-2.9v5.8M561.57 509.05h5.8m-2.9-2.9v5.8M561.7 509.93h5.8m-2.9-2.9v5.8M561.84 510.83h5.8m-2.9-2.9v5.8M561.97 509.38h5.8m-2.9-2.9v5.8M562.1 509.02h5.8m-2.9-2.9v5.8M562.23 511.8h5.8m-2.9-2.9v5.8M562.37 511.16h5.8m-2.9-2.9v5.8M562.5 510.69h5.8m-2.9-2.9v5.8M562.63 510.74h5.8m-2.9-2.9v5.8M562.76 510.79h5.8m-2.9-2.9v5.8M562.9 510.33h5.8m-2.9-2.9v5.8M563.03 511.37h5.8m-2.9-2.9v5.8M563.16 511.24h5.8m-2.9-2.9v5.8M563.29 510.7h5.8m-2.9-2.9v5.8M563.43 511.73h5.8m-2.9-2.9v5.8M563.56 510.08h5.8m-2.9-2.9v5.8M563.69 511.12h5.8m-2.9-2.9v5.8M563.82 510.19h5.8m-2.9-2.9v5.8M563.96 510.69h5.8m-2.9-2.9v5.8M564.09 510.1h5.8m-2.9-2.9v5.8M564.22 510.61h5.8m-2.9-2.9v5.8M564.35 510.37h5.8m-2.9-2.9v5.8M564.49 509.95h5.8m-2.9-2.9v5.8M564.62 510.63h5.8m-2.9-2.9v5.8M564.75 508.64h5.8m-2.9-2.9v5.8M564.88 510.58h5.8m-2.9-2.9v5.8M565.02 508.7h5.8m-2.9-2.9v5.8M565.15 509.99h5.8m-2.9-2.9v5.8M565.28 508.71h5.8m-2.9-2.9v5.8M565.41 508.95h5.8m-2.9-2.9v5.8M565.55 508.11h5.8m-2.9-2.9v5.8M565.68 506.43h5.8m-2.9-2.9v5.8M565.81 506.69h5.8m-2.9-2.9v5.8M565.94 509.21h5.8m-2.9-2.9v5.8M566.08 508.63h5.8m-2.9-2.9v5.8M566.21 509.28h5.8m-2.9-2.9v5.8M566.34 508.26h5.8m-2.9-2.9v5.8M566.47 509.48h5.8m-2.9-2.9v5.8M566.61 507.84h5.8m-2.9-2.9v5.8M566.74 509.41h5.8m-2.9-2.9v5.8M566.87 506.58h5.8m-2.9-2.9v5.8M567 508.19h5.8m-2.9-2.9v5.8M567.14 508.86h5.8m-2.9-2.9v5.8M567.27 508.09h5.8m-2.9-2.9v5.8M567.4 507.39h5.8m-2.9-2.9v5.8" stroke="#00f" stroke-width="1.1" fill="none"/>
<path d="M358.5 510.1L379.56 505.96L400.75 506.1L421.95 506.23L443.14 506.37L464.33 506.51L485.53 506.65L506.72 506.79L527.91 506.92L549.11 507.06L570.3 507.2" stroke="#000" stroke-width="1.8" fill="none" stroke-dasharray="5.4 5.19" stroke-dashoffset="2.7"/>
<path d="M356.3 507.9l4.4 4.4m0-4.4l-4.4 4.4M377.36 503.76l4.4 4.4m0-4.4l-4.4 4.4M398.55 503.9l4.4 4.4m0-4.4l-4.4 4.4M419.75 504.03l4.4 4.4m0-4.4l-4.4 4.4M440.94 504.17l4.4 4.4m0-4.4l-4.4 4.4M462.13 504.31l4.4 4.4m0-4.4l-4.4 4.4M483.33 504.45l4.4 4.4m0-4.4l-4.4 4.4M504.52 504.59l4.4 4.4m0-4.4l-4.4 4.4M525.71 504.72l4.4 4.4m0-4.4l-4.4 4.4M546.91 504.86l4.4 4.4m0-4.4l-4.4 4.4M568.1 505l4.4 4.4m0-4.4l-4.4 4.4" stroke="#000" stroke-width="2" fill="none"/>
</g>
<rect x="366.6" y="323.8" width="71.6" height="46.2" fill="#fff" stroke="#5a5a5a" stroke-width="1.1"/>
<path d="M371.2 332.1H395.3" stroke="#f00" stroke-width="1.8"/>
<path d="M383.25 329.4v5.4" stroke="#f00" stroke-width="1.6"/>
<path d="M371.2 346.8h4.8M390.7 346.8h4.6" stroke="#000" stroke-width="1.8"/>
<path d="M381.05 344.6l4.4 4.4m0-4.4l-4.4 4.4" stroke="#000" stroke-width="2.1"/>
<path d="M371.2 361.4H395.3" stroke="#6a6aff" stroke-width="1.0"/>
<path d="M383.25 358.6v5.6M380.25 361.4h6" stroke="#2222ff" stroke-width="1.1"/>
<text x="397.6" y="336" font-family="'Liberation Sans', Arial, sans-serif" font-size="11.8" textLength="27.2" lengthAdjust="spacingAndGlyphs" stroke="#000" stroke-width="0.35">static</text>
<text x="397.6" y="350.7" font-family="'Liberation Sans', Arial, sans-serif" font-size="11.8" textLength="31.4" lengthAdjust="spacingAndGlyphs" stroke="#000" stroke-width="0.35">rebuilt</text>
<text x="397.6" y="365.3" font-family="'Liberation Sans', Arial, sans-serif" font-size="11.8" textLength="29.3" lengthAdjust="spacingAndGlyphs" stroke="#000" stroke-width="0.35">adapt</text>
<text x="353.1" y="506.2" text-anchor="end" font-family="'Liberation Sans', Arial, sans-serif" font-size="13.4" stroke="#000" stroke-width="0.35">10<tspan font-size="9.4" dx="1.1" dy="-6.3">-4</tspan></text>
<text x="353.1" y="460.1" text-anchor="end" font-family="'Liberation Sans', Arial, sans-serif" font-size="13.4" stroke="#000" stroke-width="0.35">10<tspan font-size="9.4" dx="1.1" dy="-6.3">-3</tspan></text>
<text x="353.1" y="414" text-anchor="end" font-family="'Liberation Sans', Arial, sans-serif" font-size="13.4" stroke="#000" stroke-width="0.35">10<tspan font-size="9.4" dx="1.1" dy="-6.3">-2</tspan></text>
<text x="353.1" y="367.9" text-anchor="end" font-family="'Liberation Sans', Arial, sans-serif" font-size="13.4" stroke="#000" stroke-width="0.35">10<tspan font-size="9.4" dx="1.1" dy="-6.3">-1</tspan></text>
<text x="353.1" y="321.8" text-anchor="end" font-family="'Liberation Sans', Arial, sans-serif" font-size="13.4" stroke="#000" stroke-width="0.35">10<tspan font-size="9.4" dx="1.1" dy="-6.3">0</tspan></text>
<text x="422.6" y="562.9" text-anchor="middle" font-family="'Liberation Sans', Arial, sans-serif" font-size="13" stroke="#000" stroke-width="0.35">500</text>
<text x="488.83" y="562.9" text-anchor="middle" font-family="'Liberation Sans', Arial, sans-serif" font-size="13" stroke="#000" stroke-width="0.35">1000</text>
<text x="555.05" y="562.9" text-anchor="middle" font-family="'Liberation Sans', Arial, sans-serif" font-size="13" stroke="#000" stroke-width="0.35">1500</text>
<text transform="translate(317 431.95) rotate(-90)" text-anchor="middle" font-family="'Liberation Serif', 'Times New Roman', serif" font-size="14.2" textLength="154.8" lengthAdjust="spacingAndGlyphs" stroke="#000" stroke-width="0.2">rel <tspan font-style="italic">L</tspan><tspan font-size="10" dy="2.8">2</tspan><tspan dy="-2.8"> error over test set</tspan></text>
<text x="369.25" y="583.2" font-family="'Liberation Serif', 'Times New Roman', serif" font-size="14.3" textLength="190.3" lengthAdjust="spacingAndGlyphs" stroke="#000" stroke-width="0.2">#sensor samples for updating</text>
<text x="368.99" y="607.0" font-family="'Liberation Serif', 'Times New Roman', serif" font-size="16.1" font-weight="bold" textLength="21.23" lengthAdjust="spacingAndGlyphs">(d)</text>
<text x="397.3" y="605.8" font-family="'Liberation Serif', 'Times New Roman', serif" font-size="13.32" stroke="#000" stroke-width="0.2" textLength="41.04" lengthAdjust="spacingAndGlyphs">sensor</text>
<text x="443.97" y="605.8" font-family="'Liberation Serif', 'Times New Roman', serif" font-size="13.32" stroke="#000" stroke-width="0.2" textLength="26.12" lengthAdjust="spacingAndGlyphs">rate</text>
<text x="475.47" y="605.4" font-family="'Liberation Serif', 'Times New Roman', serif" font-size="14.35" font-style="italic" stroke="#000" stroke-width="0.2" textLength="7.45" lengthAdjust="spacingAndGlyphs">&#961;</text>
<text x="483.18" y="600.0" font-family="'Liberation Serif', 'Times New Roman', serif" font-size="10.33" font-weight="bold" textLength="38.43" lengthAdjust="spacingAndGlyphs">update</text>
<text x="527.11" y="608.6" font-family="'Liberation Serif', 'Times New Roman', serif" font-size="18.37" stroke="#000" stroke-width="0.2" textLength="13.41" lengthAdjust="spacingAndGlyphs">=</text>
<text x="542.69" y="606.2" font-family="'Liberation Serif', 'Times New Roman', serif" font-size="14.3" stroke="#000" stroke-width="0.2" textLength="20.62" lengthAdjust="spacingAndGlyphs">5%</text>
</svg>
</body></html>
